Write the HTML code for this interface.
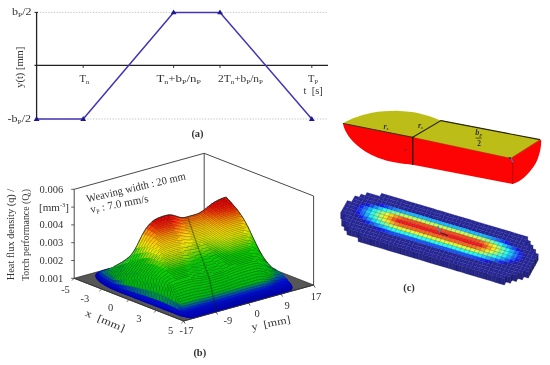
<!DOCTYPE html>
<html lang="en"><head><meta charset="utf-8"><title>Figure</title>
<style>html,body{margin:0;padding:0;background:#fff}body{width:550px;height:365px;overflow:hidden}text{font-family:"Liberation Serif",serif;fill:#333}</style></head>
<body>
<svg width="550" height="365" viewBox="0 0 550 365" style="display:block">
<rect width="550" height="365" fill="#fff"/>
<g id="chart-a">
<line x1="37" y1="12.4" x2="328" y2="12.4" stroke="#b8b8b8" stroke-width="0.9" stroke-dasharray="1.2 1.6"/>
<line x1="37" y1="119" x2="328" y2="119" stroke="#b8b8b8" stroke-width="0.9" stroke-dasharray="1.2 1.6"/>
<line x1="36.6" y1="12" x2="36.6" y2="119.5" stroke="#222" stroke-width="1.3"/>
<line x1="34.5" y1="65.4" x2="328" y2="65.4" stroke="#222" stroke-width="1.2"/>
<line x1="83.2" y1="65" x2="83.2" y2="68" stroke="#222" stroke-width="0.9"/>
<line x1="173.6" y1="65" x2="173.6" y2="68" stroke="#222" stroke-width="0.9"/>
<line x1="220" y1="65" x2="220" y2="68" stroke="#222" stroke-width="0.9"/>
<line x1="311.8" y1="65" x2="311.8" y2="68" stroke="#222" stroke-width="0.9"/>
<line x1="34.5" y1="12.4" x2="38" y2="12.4" stroke="#222" stroke-width="1"/>
<polyline fill="none" stroke="#4434b4" stroke-width="1.5" stroke-linejoin="round" points="36.6,119 83.2,119 173.6,12.4 220,12.4 311.8,119"/>
<path d="M33.7 120.9L39.5 120.9L36.6 116.0z" fill="#1c1890"/>
<path d="M80.3 120.9L86.1 120.9L83.2 116.0z" fill="#1c1890"/>
<path d="M170.7 14.3L176.5 14.3L173.6 9.4z" fill="#1c1890"/>
<path d="M217.1 14.3L222.9 14.3L220 9.4z" fill="#1c1890"/>
<path d="M308.9 120.9L314.7 120.9L311.8 116.0z" fill="#1c1890"/>
</g>
<text x="12" y="14.5" font-size="10.5" textLength="19.5" lengthAdjust="spacingAndGlyphs">b<tspan font-size="6.5" dy="2">P</tspan><tspan dy="-2" font-size="1">&#8203;</tspan>/2</text>
<text x="7.5" y="121.5" font-size="10.5" textLength="23.5" lengthAdjust="spacingAndGlyphs">-b<tspan font-size="6.5" dy="2">P</tspan><tspan dy="-2" font-size="1">&#8203;</tspan>/2</text>
<text x="0" y="0" font-size="10.5" text-anchor="middle" transform="translate(22.5,67.3) rotate(-90)">y(t) [mm]</text>
<text x="79.5" y="82" font-size="10.5">T<tspan font-size="6.5" dy="2">n</tspan><tspan dy="-2" font-size="1">&#8203;</tspan></text>
<text x="156.5" y="81.5" font-size="10.5" textLength="44.5" lengthAdjust="spacingAndGlyphs">T<tspan font-size="6.5" dy="2">n</tspan><tspan dy="-2" font-size="1">&#8203;</tspan>+b<tspan font-size="6.5" dy="2">P</tspan><tspan dy="-2" font-size="1">&#8203;</tspan>/n<tspan font-size="6.5" dy="2">P</tspan><tspan dy="-2" font-size="1">&#8203;</tspan></text>
<text x="218" y="81.5" font-size="10.5" textLength="45" lengthAdjust="spacingAndGlyphs">2T<tspan font-size="6.5" dy="2">n</tspan><tspan dy="-2" font-size="1">&#8203;</tspan>+b<tspan font-size="6.5" dy="2">P</tspan><tspan dy="-2" font-size="1">&#8203;</tspan>/n<tspan font-size="6.5" dy="2">P</tspan><tspan dy="-2" font-size="1">&#8203;</tspan></text>
<text x="308" y="81.5" font-size="10.5">T<tspan font-size="6.5" dy="2">P</tspan><tspan dy="-2" font-size="1">&#8203;</tspan></text>
<text x="303.5" y="93.5" font-size="10.5">t&#160;&#160;[s]</text>
<text x="197.5" y="137.3" font-size="10.5" text-anchor="middle" font-weight="bold" fill="#222">(a)</text>
<text x="199.8" y="355.6" font-size="10.5" text-anchor="middle" font-weight="bold" fill="#222">(b)</text>
<text x="409" y="290.5" font-size="10.5" text-anchor="middle" font-weight="bold" fill="#222">(c)</text>
<g id="plot-b">
<path d="M74.2 278.3L74.2 189.3L204.2 153.3L313.6 196.0L313.6 285.0" fill="none" stroke="#333" stroke-width="0.9"/>
<path d="M204.2 153.3L204.2 242.3" fill="none" stroke="#333" stroke-width="0.9"/>
<path d="M74.2 278.3L204.2 242.3L313.6 285.0L183.6 321.0z" fill="#565656" stroke="#333" stroke-width="0.8"/>
<path d="M101.0 270.9L96.7 273.0L95.8 274.2L95.4 275.2L95.4 276.1L95.6 276.9L95.9 277.8L96.4 278.5L96.9 279.3L97.5 280.0L98.2 280.8L99.0 281.5L99.8 282.2L100.7 282.8L101.6 283.5L102.5 284.1L103.5 284.8L104.5 285.4L105.6 286.0L106.7 286.6L107.8 287.2L109.0 287.8L110.1 288.4L111.3 289.0L112.6 289.6L113.9 290.1L115.2 290.7L116.5 291.2L117.8 291.8L119.2 292.3L120.6 292.8L121.9 293.4L123.3 293.9L124.7 294.4L126.0 295.0L127.4 295.5L128.8 296.0L130.2 296.6L131.5 297.1L132.9 297.6L134.3 298.2L135.6 298.7L137.0 299.2L138.4 299.8L139.7 300.3L141.1 300.8L142.5 301.4L143.8 301.9L145.2 302.4L146.6 303.0L147.9 303.5L149.3 304.0L150.7 304.6L152.0 305.1L153.4 305.6L154.8 306.2L156.1 306.7L157.5 307.2L158.9 307.8L160.2 308.3L161.6 308.8L163.0 309.4L164.3 309.9L165.7 310.4L167.1 311.0L168.4 311.5L169.8 312.0L171.2 312.6L172.5 313.1L173.9 313.6L175.3 314.2L176.6 314.7L178.0 315.2L179.4 315.8L180.7 316.3L182.5 316.8L184.4 317.1L186.3 317.5L188.3 317.9L190.2 318.3L192.2 318.6L286.8 292.4L291.1 290.3L292.0 289.1L292.4 288.1L292.4 287.2L292.2 286.4L291.9 285.5L291.4 284.8L290.9 284.0L290.3 283.3L289.6 282.5L288.8 281.8L288.0 281.1L287.1 280.5L286.2 279.8L285.3 279.2L284.3 278.5L283.3 277.9L282.2 277.3L281.1 276.7L280.0 276.1L278.8 275.5L277.7 274.9L276.5 274.3L275.2 273.7L273.9 273.2L272.6 272.6L271.3 272.1L270.0 271.5L268.6 271.0L267.2 270.5L265.9 269.9L264.5 269.4L263.1 268.9L261.8 268.3L260.4 267.8L259.0 267.3L257.6 266.7L256.3 266.2L254.9 265.7L253.5 265.1L252.2 264.6L250.8 264.1L249.4 263.5L248.1 263.0L246.7 262.5L245.3 261.9L244.0 261.4L242.6 260.9L241.2 260.3L239.9 259.8L238.5 259.3L237.1 258.7L235.8 258.2L234.4 257.7L233.0 257.1L231.7 256.6L230.3 256.1L228.9 255.5L227.6 255.0L226.2 254.5L224.8 253.9L223.5 253.4L222.1 252.9L220.7 252.3L219.4 251.8L218.0 251.3L216.6 250.7L215.3 250.2L213.9 249.7L212.5 249.1L211.2 248.6L209.8 248.1L208.4 247.5L207.1 247.0L205.3 246.5L203.4 246.2L201.5 245.8L199.5 245.4L197.6 245.0L195.6 244.7z" fill="#0000b9"/>
<g stroke="#06200a" stroke-width="0.4" stroke-opacity="0.75">
<path d="M194.4 244.9l1-.3 2.3 .4-1 .1z" fill="#0000ba" stroke-dasharray="1 99"/>
<path d="M193.6 245.1l.9-.3 2.3 .3-.9 .2z" fill="#0000ba" stroke-dasharray="1 99"/>
<path d="M192.6 245.4l1.1-.3 2.3 .2-1.1 .3z" fill="#0000ba" stroke-dasharray="1.1 99"/>
<path d="M191.5 245.7l1.2-.4 2.3 .3-1.2 .3z" fill="#0000ba" stroke-dasharray="1.3 99"/>
<path d="M190.1 246.1l1.5-.4 2.3 .2-1.5 .4z" fill="#0000ba" stroke-dasharray="1.5 99"/>
<path d="M188.4 246.5l1.9-.5 2.3 .2-1.9 .6z" fill="#0000ba" stroke-dasharray="2 99"/>
<path d="M185.9 247.2l2.8-.7 2.3 .2-3 .8z" fill="#0000ba" stroke-dasharray="2.8 99"/>
<path d="M183.4 247.9l2.8-.7 2 .2-3 .9z" fill="#0000ba" stroke-dasharray="2.8 99"/>
<path d="M180.9 248.6l2.8-.7 1.8 .3-3 .8z" fill="#0000ba" stroke-dasharray="2.8 99"/>
<path d="M178.4 249.3l2.8-.8 1.6 .5-3 .8z" fill="#0000ba" stroke-dasharray="2.8 99"/>
<path d="M175.9 250l2.8-.8 1.4 .5-3 .8z" fill="#0000ba" stroke-dasharray="2.8 99"/>
<path d="M173.4 250.7l2.8-.8 1.1 .6-2.9 .8z" fill="#0000ba" stroke-dasharray="2.8 99"/>
<path d="M171 251.4l2.7-.8 .9 .6-3 .8z" fill="#0000ba" stroke-dasharray="2.8 99"/>
<path d="M168.5 252.1l2.7-.8 .7 .7-3 .8z" fill="#0000ba" stroke-dasharray="2.8 99"/>
<path d="M166 252.8l2.7-.8 .5 .7-3 .9z" fill="#0000ba" stroke-dasharray="2.8 99"/>
<path d="M163.5 253.4l2.7-.7 .3 .8-3 .8z" fill="#0000ba" stroke-dasharray="2.8 99"/>
<path d="M161 254.1l2.7-.7 0 .8-3 .9z" fill="#0000ba" stroke-dasharray="2.8 99"/>
<path d="M158.5 254.8l2.7-.7-.2 .9-3 .8z" fill="#0000ba" stroke-dasharray="2.8 99"/>
<path d="M156 255.5l2.7-.7-.4 .9-3 .9z" fill="#0000ba" stroke-dasharray="2.8 99"/>
<path d="M153.5 256.2l2.7-.8-.6 1.1-3 .8z" fill="#0000ba" stroke-dasharray="2.8 99"/>
<path d="M151 256.9l2.8-.8-1 1.1-3 .9z" fill="#0000ba" stroke-dasharray="2.8 99"/>
<path d="M148.5 257.6l2.8-.8-1.2 1.2-3 .8z" fill="#0000ba" stroke-dasharray="2.8 99"/>
<path d="M146 258.3l2.8-.8-1.4 1.3-3 .8z" fill="#0000ba" stroke-dasharray="2.8 99"/>
<path d="M143.5 259l2.8-.8-1.6 1.3-3 .8z" fill="#0000ba" stroke-dasharray="2.8 99"/>
<path d="M141 259.7l2.8-.8-1.9 1.4-3 .8z" fill="#0000ba" stroke-dasharray="2.8 99"/>
<path d="M138.5 260.4l2.8-.8-2.1 1.4-3 .9z" fill="#0000ba" stroke-dasharray="2.8 99"/>
<path d="M136 261l2.8-.7-2.3 1.5-3 .8z" fill="#0000ba" stroke-dasharray="2.8 99"/>
<path d="M133.6 261.7l2.7-.7-2.5 1.5-3 .9z" fill="#0000ba" stroke-dasharray="2.8 99"/>
<path d="M131.1 262.4l2.7-.7-2.7 1.6-3 .8z" fill="#0000ba" stroke-dasharray="2.8 99"/>
<path d="M128.6 263.1l2.7-.7-3 1.6-3 .9z" fill="#0000ba" stroke-dasharray="2.8 99"/>
<path d="M126.1 263.8l2.7-.8-3.2 1.8-3 .8z" fill="#0000ba" stroke-dasharray="2.8 99"/>
<path d="M123.6 264.5l2.7-.8-3.4 1.8-3 .9z" fill="#0000ba" stroke-dasharray="2.8 99"/>
<path d="M121.1 265.2l2.7-.8-3.6 1.9-3 .8z" fill="#0000ba" stroke-dasharray="2.8 99"/>
<path d="M118.6 265.9l2.7-.8-3.9 2-3 .8z" fill="#0000ba" stroke-dasharray="2.8 99"/>
<path d="M116.1 266.6l2.7-.8-4.1 2-3 .8z" fill="#0000ba" stroke-dasharray="2.8 99"/>
<path d="M113.6 267.3l2.8-.8-4.4 2.1-3 .8z" fill="#0000ba" stroke-dasharray="2.8 99"/>
<path d="M111.1 267.9l2.8-.7-4.6 2.1-3 .8z" fill="#0000ba" stroke-dasharray="2.8 99"/>
<path d="M108.6 268.6l2.8-.7-4.9 2.2-3 .8z" fill="#0000ba" stroke-dasharray="2.8 99"/>
<path d="M106.9 269.1l1.9-.5-5.1 2.3-1.9 .5z" fill="#0000ba" stroke-dasharray="2 99"/>
<path d="M105.6 269.5l1.4-.4-5 2.2-1.5 .4z" fill="#0000ba" stroke-dasharray="1.5 99"/>
<path d="M104.4 269.8l1.3-.3-5.1 2.2-1.3 .4z" fill="#0000ba" stroke-dasharray="1.3 99"/>
<path d="M103.5 270.1l1-.3-5.1 2.2-1 .3z" fill="#0000ba" stroke-dasharray="1.1 99"/>
<path d="M102.6 270.3l.9-.3-5 2.3-1 .3z" fill="#0000ba" stroke-dasharray="1 99"/>
<path d="M101.7 270.5l1-.2-5.1 2.2-.9 .5z" fill="#0000ba" stroke-dasharray="1 99"/>
<path d="M195.5 245.4l1-.3 2.3 0-1 .1z" fill="#0001be" stroke="none"/>
<path d="M194.6 245.6l1-.3 2.3-.1-1.1 .3z" fill="#0001be" stroke="none"/>
<path d="M193.4 245.9l1.3-.3 2.3-.2-1.3 .4z" fill="#0001be" stroke="none"/>
<path d="M192.1 246.3l1.4-.4 2.3-.2-1.4 .5z" fill="#0001be" stroke="none"/>
<path d="M190.3 246.8l1.9-.5 2.3-.2-1.9 .5z" fill="#0001be" stroke="none"/>
<path d="M187.6 247.5l3-.8 2.3-.1-3.1 .8z" fill="#0001be" stroke="none"/>
<path d="M184.9 248.3l3-.8 2.2-.2-3.1 .9z" fill="#0001be" stroke="none"/>
<path d="M182.2 249l3-.8 2.1-.1-3.1 .9z" fill="#0001be" stroke="none"/>
<path d="M179.5 249.8l3-.8 2-.1-3.1 .8z" fill="#0001be" stroke="none"/>
<path d="M176.8 250.5l3-.8 1.9 0-3.1 .8z" fill="#0001be" stroke="none"/>
<path d="M174.1 251.3l3-.8 1.8-.1-3.1 .9z" fill="#0001be" stroke="none"/>
<path d="M171.4 252l3-.8 1.6 0-3.1 .9z" fill="#0001be" stroke="none"/>
<path d="M168.7 252.8l3-.8 1.5 0-3.1 .9z" fill="#0001be" stroke="none"/>
<path d="M166 253.5l3-.8 1.4 .1-3.1 .8z" fill="#0001be" stroke="none"/>
<path d="M163.3 254.3l3-.8 1.3 .1-3.1 .8z" fill="#0001be" stroke="none"/>
<path d="M160.6 255l2.9-.8 1.3 .1-3.1 .9z" fill="#0001be" stroke="none"/>
<path d="M157.9 255.8l2.9-.8 1.2 .1-3.1 .9z" fill="#0001be" stroke="none"/>
<path d="M155.1 256.5l3-.8 1.1 .2-3.1 .9z" fill="#0001be" stroke="none"/>
<path d="M152.4 257.3l3-.8 1 .2-3.1 .8z" fill="#0001be" stroke="none"/>
<path d="M149.7 258l3-.8 .8 .3-3.1 .8z" fill="#0001be" stroke="none"/>
<path d="M147 258.8l3-.8 .7 .2-3.1 .9z" fill="#0001be" stroke="none"/>
<path d="M144.3 259.5l3-.8 .6 .3-3.1 .9z" fill="#0001be" stroke="none"/>
<path d="M141.6 260.3l3-.8 .5 .3-3.1 .9z" fill="#0001be" stroke="none"/>
<path d="M138.9 261l3-.8 .4 .4-3.1 .8z" fill="#0001be" stroke="none"/>
<path d="M136.2 261.8l3-.8 .3 .4-3.1 .8z" fill="#0001be" stroke="none"/>
<path d="M133.5 262.5l3-.8 .2 .4-3.1 .9z" fill="#0001be" stroke="none"/>
<path d="M130.8 263.3l3-.8 .1 .4-3.1 .9z" fill="#0001be" stroke="none"/>
<path d="M128.1 264l3-.8-.1 .5-3.1 .8z" fill="#0001be" stroke="none"/>
<path d="M125.4 264.8l2.9-.8-.1 .5-3.1 .8z" fill="#0001be" stroke="none"/>
<path d="M122.7 265.5l2.9-.8-.2 .5-3.1 .9z" fill="#0001be" stroke="none"/>
<path d="M120 266.3l2.9-.8-.3 .5-3.1 .9z" fill="#0001be" stroke="none"/>
<path d="M117.2 267l3-.8-.4 .6-3.1 .9z" fill="#0001be" stroke="none"/>
<path d="M114.5 267.8l3-.8-.5 .6-3.1 .8z" fill="#0001be" stroke="none"/>
<path d="M111.8 268.5l3-.8-.6 .7-3.1 .8z" fill="#0001be" stroke="none"/>
<path d="M109.1 269.3l3-.8-.7 .6-3.1 .9z" fill="#0001be" stroke="none"/>
<path d="M106.4 270l3-.8-.9 .7-3.1 .9z" fill="#0001be" stroke="none"/>
<path d="M103.7 270.8l3-.8-1 .7-3.1 .9z" fill="#0001be" stroke="none"/>
<path d="M102 271.3l1.9-.6-1.1 .8-1.9 .5z" fill="#0001be" stroke="none"/>
<path d="M100.6 271.6l1.5-.4-1.1 .8-1.4 .4z" fill="#0001be" stroke="none"/>
<path d="M99.5 271.9l1.3-.3-1.1 .8-1.3 .3z" fill="#0001be" stroke="none"/>
<path d="M98.5 272.2l1.1-.3-1.1 .8-1 .3z" fill="#0001be" stroke="none"/>
<path d="M97.7 272.4l.9-.2-1 .7-1 .5z" fill="#0001be" stroke="none"/>
<path d="M96.8 272.8l.9-.4-1 .9-.9 .9z" fill="#0001bb" stroke="none"/>
<path d="M196.5 245.5l1-.3 2.3-.4-1 .3z" fill="#0003c6" stroke="none"/>
<path d="M195.3 245.9l1.3-.4 2.3-.5-1.3 .4z" fill="#0003c6" stroke="none"/>
<path d="M194 246.2l1.5-.4 2.3-.4-1.5 .4z" fill="#0003c6" stroke="none"/>
<path d="M192.3 246.7l1.9-.5 2.3-.5-1.9 .5z" fill="#0003c6" stroke="none"/>
<path d="M189.5 247.5l3.1-.9 2.3-.4-3.2 .8z" fill="#0003c6" stroke="none"/>
<path d="M186.7 248.3l3.1-.9 2.2-.4-3.2 .8z" fill="#0003c6" stroke="none"/>
<path d="M183.9 249l3.1-.8 2.1-.4-3.2 .8z" fill="#0003c6" stroke="none"/>
<path d="M181.1 249.8l3.1-.9 2-.3-3.2 .8z" fill="#0003c6" stroke="none"/>
<path d="M178.3 250.6l3.1-.9 1.9-.3-3.1 .8z" fill="#0003c6" stroke="none"/>
<path d="M175.5 251.4l3.1-.9 1.8-.3-3.1 .8z" fill="#0003c6" stroke="none"/>
<path d="M172.7 252.1l3.1-.8 1.8-.3-3.2 .8z" fill="#0003c6" stroke="none"/>
<path d="M169.9 252.9l3.1-.8 1.7-.3-3.2 .8z" fill="#0003c6" stroke="none"/>
<path d="M167.1 253.7l3.1-.9 1.6-.3-3.2 .9z" fill="#0003c6" stroke="none"/>
<path d="M164.3 254.5l3.1-.9 1.5-.3-3.2 .9z" fill="#0003c6" stroke="none"/>
<path d="M161.5 255.2l3.1-.8 1.4-.3-3.1 .9z" fill="#0003c6" stroke="none"/>
<path d="M158.7 256l3.1-.8 1.3-.3-3.1 .9z" fill="#0003c6" stroke="none"/>
<path d="M155.9 256.8l3.1-.9 1.3-.2-3.2 .9z" fill="#0003c6" stroke="none"/>
<path d="M153.1 257.6l3.1-.9 1.2-.2-3.2 .9z" fill="#0003c6" stroke="none"/>
<path d="M150.3 258.3l3.1-.8 1.1-.2-3.2 .9z" fill="#0003c6" stroke="none"/>
<path d="M147.5 259.1l3.1-.8 1-.2-3.2 .9z" fill="#0003c6" stroke="none"/>
<path d="M144.7 259.9l3.1-.9 .9-.1-3.1 .9z" fill="#0003c6" stroke="none"/>
<path d="M141.9 260.7l3.1-.9 .8-.1-3.1 .9z" fill="#0003c6" stroke="none"/>
<path d="M139.1 261.4l3.1-.8 .8-.1-3.2 .9z" fill="#0003c6" stroke="none"/>
<path d="M136.3 262.2l3.1-.8 .7-.1-3.2 .9z" fill="#0003c6" stroke="none"/>
<path d="M133.5 263l3.1-.9 .6 0-3.2 .9z" fill="#0003c6" stroke="none"/>
<path d="M130.7 263.8l3.1-.9 .5 0-3.2 .9z" fill="#0003c6" stroke="none"/>
<path d="M127.9 264.5l3.1-.8 .4 0-3.1 .9z" fill="#0003c6" stroke="none"/>
<path d="M125.1 265.3l3.1-.8 .3 0-3.1 .9z" fill="#0003c6" stroke="none"/>
<path d="M122.3 266.1l3.1-.9 .3 .1-3.2 .9z" fill="#0003c6" stroke="none"/>
<path d="M119.5 266.9l3.1-.9 .2 .1-3.2 .9z" fill="#0003c6" stroke="none"/>
<path d="M116.7 267.6l3.1-.8 .1 .1-3.2 .9z" fill="#0003c6" stroke="none"/>
<path d="M113.9 268.4l3.1-.8 0 .1-3.2 .9z" fill="#0003c6" stroke="none"/>
<path d="M111.1 269.2l3.1-.9-.1 .2-3.1 .9z" fill="#0003c6" stroke="none"/>
<path d="M108.3 270l3.1-.9-.2 .2-3.1 .9z" fill="#0003c6" stroke="none"/>
<path d="M105.5 270.7l3.1-.8-.2 .2-3.2 .9z" fill="#0003c6" stroke="none"/>
<path d="M102.7 271.5l3.1-.8-.3 .2-3.2 .9z" fill="#0003c6" stroke="none"/>
<path d="M101 272l1.9-.5-.4 .2-1.9 .6z" fill="#0003c6" stroke="none"/>
<path d="M99.6 272.4l1.5-.4-.4 .2-1.5 .4z" fill="#0003c6" stroke="none"/>
<path d="M98.5 272.7l1.2-.4-.3 .3-1.3 .4z" fill="#0003c6" stroke="none"/>
<path d="M97.5 272.9l1.1-.3-.4 .3-1.1 .3z" fill="#0003c6" stroke="none"/>
<path d="M96.7 273.2l.9-.3-.4 .2-.9 1.3z" fill="#0002c3" stroke="none"/>
<path d="M95.8 274l.9-.9-.4 1.2-.9 .9z" fill="#0001bc" stroke="none"/>
<path d="M97.1 273.2l1.1-.3 0 0-1.1 .7z" fill="#0006cf" stroke-dasharray="1.1 99"/>
<path d="M96.3 274.2l.9-1.2 0 .4-1 1.9z" fill="#0004c7" stroke-dasharray="1.5 99"/>
<path d="M95.4 275l1-.9-.1 1.1-.9 .9z" fill="#0001bc" stroke="none"/>
<path d="M97.1 273.4l1-.5 .3-.4-1.1 1.9z" fill="#0008d7" stroke="none"/>
<path d="M96.2 275.1l1-1.8 .2 1-1 1.9z" fill="#0004c8" stroke="none"/>
<path d="M95.4 275.9l.9-.8 .2 1-.9 .8z" fill="#0001bc" stroke="none"/>
<path d="M98.2 272.7l1.3-.3 .4-.4-1.3 .9z" fill="#000ce8" stroke="none"/>
<path d="M97.3 274.3l1-1.8 .4 .1-1.1 2.7z" fill="#0009dc" stroke="none"/>
<path d="M96.4 276l.9-1.9 .4 1-.9 1.9z" fill="#0004c8" stroke="none"/>
<path d="M95.5 276.8l1-.9 .3 1-.9 .9z" fill="#0001bc" stroke="none"/>
<path d="M98.5 272.7l1.3-.6 .5-.5-1.2 2.1z" fill="#0022d3" stroke="none"/>
<path d="M97.6 275.1l1-2.6 .5 .9-1 2.7z" fill="#0009de" stroke="none"/>
<path d="M96.7 276.8l1-1.8 .5 .9-1 1.9z" fill="#0004c8" stroke-dasharray="2.1 99"/>
<path d="M95.8 277.6l1-.8 .5 .9-.9 .8z" fill="#0001bc" stroke-dasharray="1.3 99"/>
<path d="M99 273.5l1.2-1.8 .7-.4-1.3 3.1z" fill="#0032c4" stroke-dasharray="2.2 99"/>
<path d="M98 275.9l1-2.6 .7 .9-1.1 2.6z" fill="#0009de" stroke-dasharray="2.8 99"/>
<path d="M97.1 277.6l1-1.9 .6 .9-.9 1.9z" fill="#0004c8" stroke="none"/>
<path d="M96.3 278.4l.9-.8 .6 .8-.9 .9z" fill="#0001bc" stroke="none"/>
<path d="M106.8 269.8l3.4-1.4 .8-.4-3.5 1.6z" fill="#007876" stroke="none"/>
<path d="M103.7 270.8l3.4-1.1 .8-.2-3.5 1.2z" fill="#006f85" stroke="none"/>
<path d="M102 271.2l1.9-.5 .7-.1-1.9 .5z" fill="#006c89" stroke="none"/>
<path d="M100.6 271.5l1.5-.3 .7-.2-1.4 1.3z" fill="#006792" stroke="none"/>
<path d="M99.5 274.3l1.2-3.1 .8 .9-1.3 3.1z" fill="#003abd" stroke="none"/>
<path d="M98.5 276.7l1.1-2.6 .7 .8-1 2.7z" fill="#0009de" stroke="none"/>
<path d="M97.6 278.4l1-1.9 .8 .9-1 1.9z" fill="#0004c8" stroke-dasharray="2.1 99"/>
<path d="M96.8 279.2l.9-.9 .8 .9-1 .8z" fill="#0001bc" stroke-dasharray="1.3 99"/>
<path d="M110.5 268.2l3.5-1.6 .9-.5-3.5 1.9z" fill="#00a430" stroke="none"/>
<path d="M107.4 269.6l3.4-1.6 .9-.2-3.4 1.8z" fill="#00914e" stroke="none"/>
<path d="M104.3 270.6l3.4-1.1 .9 0-3.5 1.3z" fill="#008463" stroke="none"/>
<path d="M102.6 271.1l1.9-.5 .8 .2-1.9 .5z" fill="#008069" stroke="none"/>
<path d="M101.2 272.2l1.5-1.2 .8 .1-1.4 2z" fill="#007082" stroke="none"/>
<path d="M100.1 275l1.3-3.1 .8 .9-1.3 3.1z" fill="#003abd" stroke="none"/>
<path d="M99.1 277.4l1.1-2.6 .8 .8-1 2.7z" fill="#0009de" stroke-dasharray="2.8 99"/>
<path d="M98.3 279.1l.9-1.8 .8 .8-.9 1.9z" fill="#0004c8" stroke="none"/>
<path d="M97.4 279.9l.9-.8 .9 .8-1 .9z" fill="#0001bc" stroke="none"/>
<path d="M117.5 264.7l3.5-1.8 1-.7-3.5 2.1z" fill="#01bb0e" stroke-dasharray="3.9 99"/>
<path d="M114.4 266.3l3.5-1.8 .9-.4-3.4 2.1z" fill="#01ba0e" stroke="none"/>
<path d="M111.3 268l3.4-1.8 1-.2-3.5 2.1z" fill="#00b90f" stroke="none"/>
<path d="M108.1 269.6l3.5-1.8 .9 .1-3.5 2z" fill="#00a331" stroke="none"/>
<path d="M105 270.7l3.4-1.3 1 .4-3.5 1.4z" fill="#00924d" stroke="none"/>
<path d="M103.3 271.2l1.9-.5 .8 .5-1.8 .5z" fill="#008c57" stroke="none"/>
<path d="M101.9 272.9l1.5-1.9 .9 .5-1.5 2.3z" fill="#007679" stroke="none"/>
<path d="M100.8 275.8l1.2-3.2 .9 .9-1.2 3.1z" fill="#003abd" stroke-dasharray="3.4 99"/>
<path d="M99.8 278.2l1.1-2.7 .9 .9-1.1 2.6z" fill="#0009de" stroke="none"/>
<path d="M98.9 279.9l1-1.9 .9 .8-1 1.9z" fill="#0004c8" stroke-dasharray="2.1 99"/>
<path d="M98.1 280.6l.9-.8 .9 .8-.9 .9z" fill="#0001bc" stroke-dasharray="1.3 99"/>
<path d="M124.7 260.4l3.4-2.5 1.1-.9-3.4 2.9z" fill="#04c00b" stroke-dasharray="4.3 99"/>
<path d="M121.5 262.5l3.5-2.3 1.1-.6-3.5 2.6z" fill="#03be0c" stroke-dasharray="4.1 99"/>
<path d="M118.4 264.3l3.4-2 1.1-.3-3.5 2.3z" fill="#02bd0d" stroke="none"/>
<path d="M115.2 266.2l3.5-2.1 1 0-3.5 2.2z" fill="#01bb0e" stroke="none"/>
<path d="M112 268l3.5-2 1 .1-3.5 2.3z" fill="#01ba0e" stroke="none"/>
<path d="M108.9 269.8l3.5-2 1 .4-3.5 2.2z" fill="#00af20" stroke="none"/>
<path d="M105.7 271.1l3.5-1.4 1 .5-3.5 1.7z" fill="#009843" stroke="none"/>
<path d="M104 271.6l1.9-.5 1 .8-1.9 .5z" fill="#009051" stroke-dasharray="2 99"/>
<path d="M102.7 273.6l1.4-2.2 1 .8-1.5 2.2z" fill="#007876" stroke="none"/>
<path d="M101.5 276.5l1.3-3.1 .9 .8-1.2 3.1z" fill="#003abd" stroke="none"/>
<path d="M100.6 278.9l1-2.7 1 .8-1.1 2.7z" fill="#0009de" stroke-dasharray="2.8 99"/>
<path d="M99.7 280.6l1-1.9 .9 .8-1 1.9z" fill="#0004c8" stroke="none"/>
<path d="M98.8 281.3l1-.8 .9 .8-.9 .9z" fill="#0001bc" stroke="none"/>
<path d="M125.6 260l3.5-2.9 1.1-1.1-3.5 3.3z" fill="#05c10a" stroke="none"/>
<path d="M122.4 262.2l3.5-2.5 1.1-.7-3.5 2.8z" fill="#04bf0b" stroke="none"/>
<path d="M119.2 264.3l3.5-2.3 1.1-.4-3.5 2.6z" fill="#03be0c" stroke="none"/>
<path d="M116.1 266.3l3.4-2.2 1.1-.2-3.5 2.5z" fill="#02bc0d" stroke="none"/>
<path d="M112.9 268.3l3.5-2.2 1 .1-3.5 2.4z" fill="#01ba0e" stroke="none"/>
<path d="M109.7 270.3l3.5-2.2 1.1 .3-3.6 2.4z" fill="#00b712" stroke="none"/>
<path d="M106.5 271.8l3.5-1.7 1.1 .5-3.6 2z" fill="#009b3f" stroke-dasharray="3.9 99"/>
<path d="M104.8 272.3l1.9-.6 1 .8-1.9 .6z" fill="#009051" stroke="none"/>
<path d="M103.5 274.3l1.4-2.2 1.1 .8-1.5 2.2z" fill="#007876" stroke="none"/>
<path d="M102.3 277.2l1.3-3.2 1 .8-1.3 3.2z" fill="#003abd" stroke-dasharray="3.4 99"/>
<path d="M101.4 279.5l1-2.6 1 .8-1 2.6z" fill="#0009de" stroke="none"/>
<path d="M100.5 281.3l1-1.9 1 .8-1 1.9z" fill="#0004c8" stroke-dasharray="2.1 99"/>
<path d="M99.6 282l1-.8 1 .8-.9 .8z" fill="#0001bc" stroke-dasharray="1.3 99"/>
<path d="M126.5 259.4l3.5-3.2 1.2-1.3-3.5 3.7z" fill="#06c309" stroke="none"/>
<path d="M123.3 261.9l3.5-2.8 1.2-.8-3.5 3.1z" fill="#05c10a" stroke="none"/>
<path d="M120.1 264.2l3.6-2.5 1.1-.5-3.5 2.7z" fill="#03bf0c" stroke="none"/>
<path d="M117 266.4l3.5-2.4 1.1-.3-3.5 2.7z" fill="#02bd0d" stroke="none"/>
<path d="M113.8 268.6l3.5-2.4 1.1-.1-3.5 2.7z" fill="#01bb0e" stroke="none"/>
<path d="M110.6 270.8l3.5-2.4 1.1 .2-3.5 2.6z" fill="#00b90f" stroke-dasharray="4.2 99"/>
<path d="M107.4 272.5l3.5-1.9 1.1 .4-3.6 2.2z" fill="#009f39" stroke="none"/>
<path d="M105.7 273l1.9-.6 1 .8-1.9 .6z" fill="#009051" stroke-dasharray="2 99"/>
<path d="M104.3 275l1.5-2.2 1.1 .8-1.5 2.2z" fill="#007876" stroke-dasharray="2.7 99"/>
<path d="M103.2 277.8l1.2-3.1 1.1 .8-1.3 3.1z" fill="#003abd" stroke="none"/>
<path d="M102.2 280.2l1.1-2.6 1 .8-1 2.6z" fill="#0009de" stroke-dasharray="2.8 99"/>
<path d="M101.3 281.9l1-1.8 1.1 .7-1 1.9z" fill="#0004c8" stroke="none"/>
<path d="M100.5 282.7l.9-.8 1.1 .7-.9 .9z" fill="#0001bc" stroke="none"/>
<path d="M127.5 258.7l3.5-3.6 1.3-1.5-3.6 4.1z" fill="#07c508" stroke="none"/>
<path d="M124.3 261.5l3.5-3.1 1.2-1-3.5 3.5z" fill="#06c209" stroke="none"/>
<path d="M121.1 264l3.5-2.7 1.2-.7-3.5 3z" fill="#04c00b" stroke="none"/>
<path d="M117.9 266.4l3.5-2.6 1.2-.4-3.5 2.9z" fill="#03be0c" stroke="none"/>
<path d="M114.7 268.8l3.5-2.7 1.2-.1-3.6 2.9z" fill="#02bc0d" stroke="none"/>
<path d="M111.5 271.1l3.5-2.6 1.2 .1-3.6 2.9z" fill="#01ba0e" stroke="none"/>
<path d="M108.3 273.1l3.5-2.2 1.1 .3-3.5 2.7z" fill="#00a332" stroke-dasharray="4.2 99"/>
<path d="M106.6 273.6l1.9-.5 1.1 .7-1.9 .6z" fill="#009051" stroke="none"/>
<path d="M105.2 275.7l1.5-2.3 1.1 .8-1.5 2.2z" fill="#007876" stroke="none"/>
<path d="M104.1 278.5l1.2-3.1 1.2 .8-1.3 3.1z" fill="#003abd" stroke-dasharray="3.4 99"/>
<path d="M103.1 280.9l1.1-2.6 1.1 .7-1.1 2.7z" fill="#0009de" stroke="none"/>
<path d="M102.2 282.6l1-1.9 1.1 .8-.9 1.9z" fill="#0004c8" stroke-dasharray="2.1 99"/>
<path d="M101.4 283.4l.9-.9 1.1 .8-.9 .8z" fill="#0001bc" stroke-dasharray="1.3 99"/>
<path d="M128.5 257.9l3.6-4 1.2-1.7-3.5 4.5z" fill="#09c706" stroke="none"/>
<path d="M125.3 261l3.6-3.4 1.2-1.3-3.6 3.9z" fill="#07c408" stroke="none"/>
<path d="M122.1 263.7l3.5-3 1.3-.8-3.6 3.3z" fill="#05c10a" stroke-dasharray="4.7 99"/>
<path d="M118.9 266.3l3.5-2.8 1.2-.5-3.5 3.1z" fill="#04bf0b" stroke="none"/>
<path d="M115.7 268.9l3.5-2.9 1.2-.2-3.6 3.1z" fill="#02bd0d" stroke-dasharray="4.5 99"/>
<path d="M112.4 271.4l3.6-2.8 1.2 0-3.6 3.1z" fill="#01ba0e" stroke="none"/>
<path d="M109.2 273.8l3.6-2.6 1.1 .2-3.5 3z" fill="#00aa27" stroke="none"/>
<path d="M107.5 274.3l1.9-.5 1.2 .5-1.9 .8z" fill="#00914f" stroke-dasharray="2 99"/>
<path d="M106.2 276.3l1.4-2.2 1.2 .8-1.5 2.2z" fill="#007876" stroke-dasharray="2.7 99"/>
<path d="M105 279.1l1.3-3.1 1.1 .8-1.2 3.1z" fill="#003abd" stroke="none"/>
<path d="M104.1 281.5l1-2.6 1.2 .8-1.1 2.6z" fill="#0009de" stroke-dasharray="2.8 99"/>
<path d="M103.2 283.2l.9-1.8 1.2 .7-1 1.9z" fill="#0004c8" stroke="none"/>
<path d="M102.3 284l1-.8 1.1 .7-.9 .9z" fill="#0001bc" stroke="none"/>
<path d="M129.6 256.9l3.5-4.4 1.3-1.9-3.5 4.9z" fill="#0aca05" stroke="none"/>
<path d="M126.4 260.3l3.5-3.8 1.3-1.4-3.6 4.3z" fill="#08c607" stroke-dasharray="5.2 99"/>
<path d="M123.1 263.3l3.6-3.3 1.2-1-3.5 3.7z" fill="#06c309" stroke="none"/>
<path d="M119.9 266.1l3.5-3.1 1.3-.6-3.6 3.4z" fill="#04c00b" stroke-dasharray="4.7 99"/>
<path d="M116.7 268.9l3.5-3.1 1.3-.3-3.6 3.3z" fill="#03be0c" stroke="none"/>
<path d="M113.4 271.7l3.6-3.1 1.2-.1-3.6 3.3z" fill="#01bb0e" stroke-dasharray="4.7 99"/>
<path d="M110.2 274.3l3.6-2.9 1.2 .1-3.6 3.2z" fill="#00b417" stroke-dasharray="4.6 99"/>
<path d="M108.5 274.9l1.9-.7 1.2 .4-1.9 1.1z" fill="#009449" stroke="none"/>
<path d="M107.1 277l1.5-2.3 1.2 .8-1.5 2.2z" fill="#007876" stroke="none"/>
<path d="M106 279.8l1.3-3.1 1.2 .7-1.3 3.1z" fill="#003abd" stroke-dasharray="3.4 99"/>
<path d="M105 282.2l1.1-2.6 1.2 .7-1.1 2.6z" fill="#0009de" stroke="none"/>
<path d="M104.2 283.9l.9-1.9 1.2 .8-.9 1.8z" fill="#0004c8" stroke-dasharray="2.1 99"/>
<path d="M103.3 284.7l.9-.9 1.2 .8-.9 .8z" fill="#0001bc" stroke-dasharray="1.3 99"/>
<path d="M130.7 255.7l3.5-4.8 1.4-2.2-3.6 5.4z" fill="#0ccc03" stroke="none"/>
<path d="M127.4 259.5l3.6-4.2 1.3-1.7-3.6 4.8z" fill="#09c806" stroke="none"/>
<path d="M124.2 262.8l3.5-3.6 1.4-1.2-3.6 4.1z" fill="#07c408" stroke="none"/>
<path d="M120.9 265.8l3.6-3.3 1.3-.8-3.6 3.7z" fill="#05c10a" stroke="none"/>
<path d="M117.7 268.8l3.6-3.3 1.2-.4-3.5 3.5z" fill="#03bf0c" stroke="none"/>
<path d="M114.5 271.8l3.5-3.3 1.3-.2-3.6 3.5z" fill="#02bc0d" stroke="none"/>
<path d="M111.2 274.7l3.6-3.2 1.2 0-3.5 3.4z" fill="#00b90f" stroke="none"/>
<path d="M109.5 275.6l1.9-1 1.2 .2-1.9 1.5z" fill="#009942" stroke-dasharray="2.1 99"/>
<path d="M108.2 277.6l1.4-2.2 1.3 .7-1.5 2.2z" fill="#007876" stroke-dasharray="2.7 99"/>
<path d="M107 280.4l1.3-3.1 1.2 .7-1.2 3.2z" fill="#003abd" stroke="none"/>
<path d="M106.1 282.8l1-2.6 1.3 .7-1.1 2.6z" fill="#0009de" stroke-dasharray="2.8 99"/>
<path d="M105.2 284.5l.9-1.9 1.3 .8-1 1.9z" fill="#0004c8" stroke="none"/>
<path d="M104.3 285.3l1-.9 1.2 .8-.9 .8z" fill="#0001bc" stroke="none"/>
<path d="M128.5 258.6l3.6-4.7 1.4-1.9-3.6 5.3z" fill="#0aca05" stroke="none"/>
<path d="M125.3 262.2l3.6-4 1.3-1.3-3.6 4.4z" fill="#08c607" stroke="none"/>
<path d="M122 265.5l3.6-3.6 1.3-1-3.6 4z" fill="#06c309" stroke="none"/>
<path d="M118.8 268.7l3.5-3.6 1.4-.6-3.6 3.8z" fill="#04c00b" stroke-dasharray="5 99"/>
<path d="M115.5 271.8l3.6-3.5 1.3-.3-3.6 3.7z" fill="#02bd0d" stroke="none"/>
<path d="M112.3 274.9l3.5-3.4 1.3-.1-3.5 3.7z" fill="#01ba0e" stroke-dasharray="4.9 99"/>
<path d="M110.5 276.2l1.9-1.4 1.3 .1-1.9 1.9z" fill="#00a037" stroke="none"/>
<path d="M109.2 278.2l1.5-2.2 1.3 .6-1.5 2.3z" fill="#007975" stroke="none"/>
<path d="M108.1 281l1.2-3.1 1.3 .8-1.3 3.1z" fill="#003abd" stroke-dasharray="3.4 99"/>
<path d="M107.1 283.4l1.1-2.6 1.2 .7-1 2.7z" fill="#0009de" stroke="none"/>
<path d="M106.2 285.1l1-1.8 1.3 .7-1 1.9z" fill="#0004c8" stroke-dasharray="2.1 99"/>
<path d="M105.4 285.9l.9-.8 1.3 .7-.9 .8z" fill="#0001bc" stroke-dasharray="1.3 99"/>
<path d="M129.7 257.5l3.5-5.2 1.4-2.2-3.6 5.8z" fill="#0ccd03" stroke="none"/>
<path d="M126.4 261.5l3.6-4.4 1.4-1.6-3.6 4.9z" fill="#09c806" stroke="none"/>
<path d="M123.1 265l3.6-3.9 1.4-1.1-3.6 4.2z" fill="#07c408" stroke="none"/>
<path d="M119.9 268.4l3.6-3.8 1.3-.7-3.6 4z" fill="#05c10a" stroke="none"/>
<path d="M116.6 271.8l3.6-3.8 1.3-.5-3.6 4z" fill="#03be0c" stroke-dasharray="5.2 99"/>
<path d="M113.4 275.1l3.5-3.7 1.4-.2-3.6 3.9z" fill="#01bb0e" stroke="none"/>
<path d="M111.6 276.8l1.9-1.9 1.3 0-1.8 2.1z" fill="#00ab26" stroke-dasharray="2.7 99"/>
<path d="M110.3 278.8l1.5-2.2 1.3 .1-1.5 2.8z" fill="#007d6f" stroke-dasharray="2.7 99"/>
<path d="M109.1 281.7l1.3-3.2 1.3 .8-1.2 3.1z" fill="#003abd" stroke="none"/>
<path d="M108.2 284l1-2.6 1.4 .7-1.1 2.7z" fill="#0009de" stroke-dasharray="2.8 99"/>
<path d="M107.3 285.8l1-1.9 1.3 .7-1 1.9z" fill="#0004c8" stroke="none"/>
<path d="M106.5 286.5l.9-.8 1.3 .7-.9 .8z" fill="#0001bc" stroke="none"/>
<path d="M130.8 256.2l3.6-5.7 1.4-2.4-3.6 6.3z" fill="#0ed001" stroke="none"/>
<path d="M127.5 260.6l3.6-4.8 1.4-1.9-3.6 5.4z" fill="#0aca05" stroke-dasharray="6 99"/>
<path d="M124.3 264.4l3.6-4.2 1.4-1.3-3.6 4.6z" fill="#08c607" stroke-dasharray="5.5 99"/>
<path d="M121 268l3.6-4 1.4-.9-3.6 4.2z" fill="#06c309" stroke="none"/>
<path d="M117.7 271.6l3.6-4 1.4-.6-3.6 4.2z" fill="#04bf0b" stroke="none"/>
<path d="M114.5 275.1l3.6-3.9 1.3-.4-3.6 4.3z" fill="#02bc0d" stroke-dasharray="5.3 99"/>
<path d="M112.7 277l1.9-2 1.4-.1-1.9 2.1z" fill="#00b90f" stroke="none"/>
<path d="M111.4 279.4l1.5-2.7 1.3 0-1.4 3.4z" fill="#008364" stroke="none"/>
<path d="M110.3 282.3l1.2-3.2 1.4 .7-1.3 3.2z" fill="#003abd" stroke-dasharray="3.4 99"/>
<path d="M109.3 284.6l1.1-2.6 1.3 .7-1 2.6z" fill="#0009de" stroke="none"/>
<path d="M108.4 286.4l1-1.9 1.4 .7-1 1.9z" fill="#0004c8" stroke-dasharray="2.1 99"/>
<path d="M107.6 287.1l.9-.8 1.4 .7-.9 .8z" fill="#0001bc" stroke-dasharray="1.3 99"/>
<path d="M132 254.7l3.6-6.2 1.4-2.7-3.6 6.8z" fill="#1bd300" stroke="none"/>
<path d="M128.7 259.5l3.6-5.3 1.5-2.1-3.7 5.9z" fill="#0ccd03" stroke="none"/>
<path d="M125.4 263.6l3.6-4.5 1.5-1.5-3.6 5z" fill="#09c806" stroke="none"/>
<path d="M122.2 267.5l3.6-4.3 1.4-1.1-3.6 4.6z" fill="#07c408" stroke-dasharray="5.6 99"/>
<path d="M118.9 271.3l3.6-4.2 1.4-.8-3.6 4.5z" fill="#04c00b" stroke="none"/>
<path d="M115.6 275.1l3.6-4.2 1.4-.5-3.6 4.5z" fill="#02bd0d" stroke="none"/>
<path d="M113.9 277l1.9-2.1 1.4-.3-1.9 2.4z" fill="#01ba0e" stroke-dasharray="2.9 99"/>
<path d="M112.6 280.1l1.4-3.4 1.4-.1-1.4 3.7z" fill="#008f52" stroke-dasharray="3.7 99"/>
<path d="M111.4 282.9l1.3-3.1 1.4 .1-1.3 3.6z" fill="#003dba" stroke="none"/>
<path d="M110.5 285.2l1-2.6 1.4 .7-1 2.6z" fill="#0009de" stroke-dasharray="2.8 99"/>
<path d="M109.6 287l.9-1.9 1.4 .7-.9 1.8z" fill="#0004c8" stroke="none"/>
<path d="M108.7 287.7l1-.8 1.4 .7-1 .8z" fill="#0001bc" stroke="none"/>
<path d="M133.2 253l3.6-6.8 1.5-2.9-3.6 7.3z" fill="#64db00" stroke-dasharray="7.7 99"/>
<path d="M129.9 258.3l3.6-5.8 1.5-2.5-3.6 6.5z" fill="#0ed001" stroke="none"/>
<path d="M126.6 262.7l3.7-4.9 1.4-1.8-3.6 5.5z" fill="#0aca05" stroke="none"/>
<path d="M123.4 266.8l3.6-4.5 1.4-1.3-3.6 4.9z" fill="#08c607" stroke="none"/>
<path d="M120.1 270.9l3.6-4.5 1.4-.9-3.6 4.7z" fill="#05c20a" stroke-dasharray="5.7 99"/>
<path d="M116.8 274.9l3.6-4.4 1.4-.7-3.6 4.7z" fill="#03be0c" stroke="none"/>
<path d="M115.1 277l1.9-2.3 1.4-.4-1.9 2.5z" fill="#01bb0e" stroke="none"/>
<path d="M113.7 280.3l1.5-3.6 1.4-.3-1.4 3.9z" fill="#00a037" stroke="none"/>
<path d="M112.6 283.5l1.3-3.6 1.4 0-1.3 4.1z" fill="#0045b3" stroke-dasharray="3.7 99"/>
<path d="M111.6 285.8l1.1-2.6 1.4 .6-1 2.7z" fill="#0009de" stroke="none"/>
<path d="M110.8 287.5l.9-1.8 1.5 .6-1 1.9z" fill="#0004c8" stroke-dasharray="2.1 99"/>
<path d="M109.9 288.3l.9-.8 1.5 .6-1 .9z" fill="#0001bc" stroke-dasharray="1.3 99"/>
<path d="M141 237.7l3.6-6.3 1.5-2.4-3.6 6.2z" fill="#ffa300" stroke="none"/>
<path d="M137.7 244.3l3.6-7.3 1.5-2.5-3.6 7.4z" fill="#f4d800" stroke-dasharray="8.1 99"/>
<path d="M134.4 250.9l3.7-7.3 1.4-2.4-3.6 7.7z" fill="#a5e100" stroke="none"/>
<path d="M131.2 256.8l3.6-6.5 1.5-2-3.7 7z" fill="#14d300" stroke="none"/>
<path d="M127.9 261.7l3.6-5.4 1.5-1.5-3.7 5.8z" fill="#0ccc03" stroke="none"/>
<path d="M124.6 266l3.6-4.8 1.5-1.1-3.6 5.1z" fill="#09c806" stroke="none"/>
<path d="M121.3 270.3l3.6-4.7 1.5-.8-3.6 4.9z" fill="#06c309" stroke="none"/>
<path d="M118 274.6l3.6-4.7 1.5-.6-3.6 4.9z" fill="#04bf0b" stroke-dasharray="5.9 99"/>
<path d="M116.3 276.8l1.9-2.4 1.4-.5-1.8 2.6z" fill="#02bc0d" stroke-dasharray="3.1 99"/>
<path d="M114.9 280.3l1.5-3.8 1.5-.4-1.5 4.2z" fill="#00b319" stroke-dasharray="4.1 99"/>
<path d="M113.8 284l1.3-4.1 1.4 0-1.2 4.4z" fill="#0051a8" stroke="none"/>
<path d="M112.8 286.4l1.1-2.7 1.5 .3-1.1 3.1z" fill="#000adf" stroke-dasharray="2.9 99"/>
<path d="M112 288.1l.9-1.9 1.5 .7-1 1.9z" fill="#0004c8" stroke="none"/>
<path d="M111.1 288.9l1-.9 1.4 .7-.9 .9z" fill="#0001bc" stroke="none"/>
<path d="M224.5 197.5l1.9-.3 1.6 1.8-1.8 .3z" fill="#e50000" stroke-dasharray="1.9 99"/>
<path d="M221.2 198.7l3.7-1.3 1.6 1.8-3.6 1.2z" fill="#e50000" stroke-dasharray="3.8 99"/>
<path d="M218 200.2l3.6-1.6 1.6 1.7-3.6 1.5z" fill="#e60000" stroke-dasharray="4 99"/>
<path d="M214.7 202l3.6-2 1.6 1.6-3.6 1.9z" fill="#e80000" stroke-dasharray="4.1 99"/>
<path d="M211.4 204.1l3.6-2.3 1.6 1.5-3.6 2.2z" fill="#eb0000" stroke-dasharray="4.3 99"/>
<path d="M208.1 206.7l3.6-2.8 1.6 1.4-3.6 2.6z" fill="#ef0300" stroke-dasharray="4.6 99"/>
<path d="M204.8 209.4l3.6-3 1.6 1.3-3.6 2.9z" fill="#f41500" stroke-dasharray="4.7 99"/>
<path d="M201.5 211.8l3.6-2.7 1.6 1.2-3.6 2.8z" fill="#fa2800" stroke-dasharray="4.5 99"/>
<path d="M198.2 213.5l3.6-1.9 1.6 1.3-3.6 2.1z" fill="#fd4100" stroke-dasharray="4.1 99"/>
<path d="M194.9 214.7l3.6-1.3 1.6 1.5-3.6 1.4z" fill="#fe4e00" stroke-dasharray="3.8 99"/>
<path d="M191.6 215.6l3.7-1 1.5 1.6-3.6 1z" fill="#fe5100" stroke-dasharray="3.7 99"/>
<path d="M188.3 216.5l3.7-1 1.5 1.6-3.6 1z" fill="#fe5100" stroke-dasharray="3.8 99"/>
<path d="M185.1 217.3l3.6-.9 1.5 1.6-3.6 1z" fill="#fe5000" stroke-dasharray="3.7 99"/>
<path d="M181.8 217.6l3.6-.3 1.6 1.7-3.7 .5z" fill="#fd4b00" stroke-dasharray="3.6 99"/>
<path d="M178.5 216.9l3.6 .7 1.6 1.9-3.7-.4z" fill="#fc3700" stroke-dasharray="3.7 99"/>
<path d="M175.2 215.8l3.6 1.2 1.6 2.2-3.7-1.1z" fill="#f71d00" stroke-dasharray="3.8 99"/>
<path d="M171.9 214.9l3.6 1 1.6 2.3-3.7-1.1z" fill="#f00800" stroke-dasharray="3.7 99"/>
<path d="M168.6 214.8l3.6 .1 1.6 2.2-3.6-.3z" fill="#ec0000" stroke-dasharray="3.6 99"/>
<path d="M165.3 215.5l3.6-.7 1.6 2-3.6 .5z" fill="#ea0000" stroke-dasharray="3.7 99"/>
<path d="M162 216.5l3.6-1.1 1.6 1.8-3.6 1.1z" fill="#e90000" stroke-dasharray="3.8 99"/>
<path d="M158.7 217.7l3.7-1.3 1.5 1.8-3.6 1.2z" fill="#ea0000" stroke-dasharray="3.9 99"/>
<path d="M155.4 219.4l3.7-1.8 1.5 1.7-3.6 1.6z" fill="#eb0000" stroke-dasharray="4 99"/>
<path d="M152.1 221.7l3.7-2.6 1.5 1.6-3.6 2.3z" fill="#ee0000" stroke-dasharray="4.4 99"/>
<path d="M148.9 225l3.6-3.6 1.5 1.3-3.6 3.3z" fill="#f41300" stroke-dasharray="5.1 99"/>
<path d="M145.6 229.5l3.6-4.9 1.5 1-3.6 4.5z" fill="#fc3a00" stroke-dasharray="6.1 99"/>
<path d="M142.3 235.2l3.6-6.3 1.5 .6-3.6 5.8z" fill="#ff8b00" stroke-dasharray="7.2 99"/>
<path d="M139 241.9l3.6-7.4 1.5 .2-3.6 7z" fill="#fbce00" stroke="none"/>
<path d="M135.7 249l3.6-7.8 1.5-.1-3.6 7.5z" fill="#c5e300" stroke="none"/>
<path d="M132.4 255.3l3.6-7 1.5-.3-3.6 7.1z" fill="#3ad600" stroke="none"/>
<path d="M129.1 260.6l3.6-5.8 1.6-.2-3.7 6z" fill="#0dce02" stroke-dasharray="6.9 99"/>
<path d="M125.8 265.2l3.6-5.1 1.6 0-3.7 5.2z" fill="#09c906" stroke="none"/>
<path d="M122.5 269.7l3.7-4.9 1.5 0-3.7 4.9z" fill="#07c408" stroke="none"/>
<path d="M119.2 274.2l3.7-4.9 1.5-.1-3.7 4.9z" fill="#04c00b" stroke="none"/>
<path d="M117.5 276.5l1.9-2.5 1.5-.2-1.9 2.6z" fill="#02bd0d" stroke="none"/>
<path d="M116.2 280.3l1.5-4.1 1.5-.2-1.5 4.3z" fill="#00ba0f" stroke="none"/>
<path d="M115 284.2l1.3-4.3 1.5 0-1.3 4.6z" fill="#005f9a" stroke-dasharray="4.5 99"/>
<path d="M114.1 287l1-3 1.5 .2-1 3.3z" fill="#000ae2" stroke="none"/>
<path d="M113.2 288.7l1-1.9 1.5 .5-1 2z" fill="#0004c9" stroke-dasharray="2.1 99"/>
<path d="M112.4 289.5l.9-.9 1.5 .7-.9 .8z" fill="#0001bc" stroke-dasharray="1.3 99"/>
<path d="M225.9 199l1.9-.2 1.6 1.8-1.9 .2z" fill="#e80000" stroke="none"/>
<path d="M222.6 200.2l3.6-1.3 1.6 1.8-3.6 1.2z" fill="#e70000" stroke-dasharray="3.8 99"/>
<path d="M219.3 201.5l3.6-1.5 1.7 1.8-3.7 1.4z" fill="#e80000" stroke-dasharray="3.9 99"/>
<path d="M216 203.2l3.6-1.8 1.7 1.6-3.7 1.8z" fill="#ea0000" stroke-dasharray="4.1 99"/>
<path d="M212.7 205.3l3.7-2.3 1.6 1.6-3.7 2.1z" fill="#ed0000" stroke-dasharray="4.3 99"/>
<path d="M209.4 207.7l3.7-2.6 1.6 1.4-3.7 2.5z" fill="#f10a00" stroke-dasharray="4.5 99"/>
<path d="M206.1 210.4l3.7-2.9 1.6 1.2-3.7 2.9z" fill="#f61b00" stroke-dasharray="4.7 99"/>
<path d="M202.9 212.9l3.6-2.8 1.6 1.2-3.7 2.8z" fill="#fb3200" stroke-dasharray="4.5 99"/>
<path d="M199.6 214.8l3.6-2.1 1.6 1.2-3.6 2.3z" fill="#fe4e00" stroke-dasharray="4.2 99"/>
<path d="M196.3 216l3.6-1.3 1.6 1.4-3.6 1.5z" fill="#ff5d00" stroke-dasharray="3.9 99"/>
<path d="M193 217l3.6-1.1 1.6 1.6-3.6 1.1z" fill="#ff6200" stroke-dasharray="3.8 99"/>
<path d="M189.7 217.9l3.6-1 1.6 1.6-3.6 1z" fill="#ff6200" stroke-dasharray="3.8 99"/>
<path d="M186.4 218.8l3.6-1 1.6 1.6-3.6 1z" fill="#ff6200" stroke-dasharray="3.8 99"/>
<path d="M183.1 219.2l3.6-.5 1.6 1.7-3.6 .7z" fill="#ff5e00" stroke-dasharray="3.7 99"/>
<path d="M179.8 218.8l3.6 .4 1.6 1.9-3.6-.2z" fill="#fe4f00" stroke="none"/>
<path d="M176.5 217.7l3.6 1.2 1.6 2.1-3.6-1z" fill="#fb3000" stroke="none"/>
<path d="M173.2 216.8l3.6 1 1.6 2.3-3.6-1.1z" fill="#f51700" stroke="none"/>
<path d="M169.9 216.5l3.6 .3 1.6 2.3-3.6-.5z" fill="#f00500" stroke="none"/>
<path d="M166.6 217l3.6-.5 1.6 2-3.6 .4z" fill="#ed0000" stroke-dasharray="3.7 99"/>
<path d="M163.3 218l3.7-1.1 1.5 1.9-3.6 1z" fill="#ec0000" stroke-dasharray="3.8 99"/>
<path d="M160 219.2l3.7-1.3 1.5 1.8-3.6 1.2z" fill="#ec0000" stroke-dasharray="3.8 99"/>
<path d="M156.7 220.7l3.7-1.7 1.5 1.8-3.6 1.5z" fill="#ed0000" stroke-dasharray="4 99"/>
<path d="M153.4 222.8l3.7-2.3 1.5 1.6-3.6 2.1z" fill="#f00700" stroke-dasharray="4.3 99"/>
<path d="M150.2 225.8l3.6-3.3 1.5 1.4-3.6 3z" fill="#f51800" stroke-dasharray="4.9 99"/>
<path d="M146.9 230l3.6-4.6 1.5 1.1-3.6 4.1z" fill="#fc3d00" stroke="none"/>
<path d="M143.6 235.3l3.6-5.9 1.5 .7-3.6 5.4z" fill="#ff8700" stroke="none"/>
<path d="M140.3 241.8l3.6-7.2 1.5 .3-3.6 6.7z" fill="#fdcb00" stroke="none"/>
<path d="M137 248.7l3.6-7.6 1.6-.2-3.7 7.5z" fill="#d5e400" stroke="none"/>
<path d="M133.7 255.2l3.6-7.2 1.6-.3-3.7 7.2z" fill="#4fd900" stroke-dasharray="8 99"/>
<path d="M130.4 260.6l3.6-6 1.6-.2-3.7 6.1z" fill="#0dcf02" stroke="none"/>
<path d="M127.1 265.3l3.6-5.2 1.6-.1-3.7 5.2z" fill="#0aca05" stroke-dasharray="6.3 99"/>
<path d="M123.8 269.7l3.6-4.9 1.6 0-3.7 4.8z" fill="#07c508" stroke-dasharray="6 99"/>
<path d="M120.5 274.1l3.6-4.9 1.6 0-3.7 4.7z" fill="#05c10a" stroke-dasharray="6.1 99"/>
<path d="M118.8 276.4l1.9-2.5 1.5-.2-1.9 2.6z" fill="#03be0c" stroke-dasharray="3.2 99"/>
<path d="M117.5 280.3l1.4-4.3 1.6-.1-1.5 4.4z" fill="#01ba0e" stroke-dasharray="4.5 99"/>
<path d="M116.3 284.5l1.3-4.6 1.5 0-1.3 4.8z" fill="#006c89" stroke="none"/>
<path d="M115.4 287.4l1-3.2 1.5 .2-1 3.5z" fill="#000be5" stroke-dasharray="3.4 99"/>
<path d="M114.5 289.3l.9-2.1 1.6 .5-1 2.2z" fill="#0004ca" stroke="none"/>
<path d="M113.6 290l1-.8 1.5 .6-.9 .9z" fill="#0001bc" stroke="none"/>
<path d="M233.3 253.9l.9 4 1.7 .6-1-3.8z" fill="#0006d0" stroke-dasharray="4.1 99"/>
<path d="M232.4 243.8l1 11.1 1.6 .7-1-10.8z" fill="#00a135" stroke-dasharray="11.2 99"/>
<path d="M231.5 229l1 16.3 1.6 .9-1-15.9z" fill="#09c706" stroke-dasharray="16.3 99"/>
<path d="M230.3 211.6l1.3 19.2 1.6 1.2-1.3-18.8z" fill="#c7e300" stroke-dasharray="19.2 99"/>
<path d="M229 200.3l1.5 12.4 1.6 1.6-1.5-12.2z" fill="#fc3f00" stroke-dasharray="12.5 99"/>
<path d="M227.3 200.6l1.9-.3 1.6 1.8-1.9 .3z" fill="#eb0000" stroke-dasharray="1.9 99"/>
<path d="M224 201.6l3.6-1.2 1.6 1.8-3.6 1.2z" fill="#ea0000" stroke-dasharray="3.8 99"/>
<path d="M220.7 202.9l3.6-1.4 1.6 1.8-3.6 1.3z" fill="#eb0000" stroke-dasharray="3.9 99"/>
<path d="M217.4 204.5l3.6-1.7 1.6 1.7-3.6 1.6z" fill="#ed0000" stroke-dasharray="4 99"/>
<path d="M214.1 206.5l3.6-2.1 1.6 1.5-3.6 2z" fill="#ef0400" stroke-dasharray="4.2 99"/>
<path d="M210.8 208.8l3.6-2.5 1.6 1.4-3.6 2.4z" fill="#f31000" stroke-dasharray="4.4 99"/>
<path d="M207.5 211.4l3.6-2.9 1.6 1.4-3.6 2.7z" fill="#f82100" stroke-dasharray="4.6 99"/>
<path d="M204.2 214l3.6-2.8 1.6 1.2-3.6 2.8z" fill="#fc3c00" stroke-dasharray="4.6 99"/>
<path d="M200.9 216l3.6-2.3 1.6 1.3-3.6 2.4z" fill="#ff5900" stroke-dasharray="4.3 99"/>
<path d="M197.6 217.4l3.6-1.5 1.6 1.3-3.6 1.7z" fill="#ff6c00" stroke-dasharray="3.9 99"/>
<path d="M194.3 218.4l3.6-1.1 1.6 1.5-3.6 1.2z" fill="#ff7300" stroke-dasharray="3.8 99"/>
<path d="M191 219.2l3.6-.9 1.6 1.6-3.6 1z" fill="#ff7400" stroke-dasharray="3.8 99"/>
<path d="M187.7 220.2l3.6-1 1.6 1.6-3.6 1z" fill="#ff7400" stroke-dasharray="3.8 99"/>
<path d="M184.4 220.8l3.7-.7 1.5 1.6-3.6 .9z" fill="#ff7200" stroke-dasharray="3.7 99"/>
<path d="M181.1 220.6l3.7 .2 1.6 1.8-3.7 .1z" fill="#ff6600" stroke-dasharray="3.6 99"/>
<path d="M177.8 219.7l3.7 1 1.6 2-3.7-.8z" fill="#fd4a00" stroke-dasharray="3.8 99"/>
<path d="M174.5 218.7l3.7 1.1 1.6 2.2-3.7-1.1z" fill="#fa2700" stroke-dasharray="3.8 99"/>
<path d="M171.2 218.2l3.7 .5 1.6 2.3-3.7-.7z" fill="#f41400" stroke-dasharray="3.7 99"/>
<path d="M167.9 218.6l3.7-.4 1.6 2.1-3.7 .2z" fill="#f00800" stroke-dasharray="3.6 99"/>
<path d="M164.7 219.5l3.6-1 1.6 1.9-3.7 .9z" fill="#ef0400" stroke-dasharray="3.8 99"/>
<path d="M161.4 220.6l3.6-1.2 1.6 1.8-3.7 1.1z" fill="#ef0400" stroke-dasharray="3.8 99"/>
<path d="M158.1 222l3.6-1.5 1.6 1.7-3.7 1.4z" fill="#f00800" stroke-dasharray="3.9 99"/>
<path d="M154.8 223.9l3.6-2.1 1.6 1.6-3.7 1.9z" fill="#f30f00" stroke-dasharray="4.2 99"/>
<path d="M151.5 226.7l3.6-3 1.6 1.4-3.7 2.7z" fill="#f71e00" stroke-dasharray="4.7 99"/>
<path d="M148.2 230.5l3.6-4.2 1.6 1.2-3.6 3.8z" fill="#fd4100" stroke-dasharray="5.5 99"/>
<path d="M144.9 235.5l3.6-5.5 1.6 .8-3.6 5z" fill="#ff8400" stroke-dasharray="6.5 99"/>
<path d="M141.6 241.6l3.6-6.7 1.6 .3-3.6 6.3z" fill="#ffc800" stroke-dasharray="7.7 99"/>
<path d="M138.3 248.4l3.6-7.5 1.6 0-3.6 7.2z" fill="#e4e500" stroke-dasharray="8.3 99"/>
<path d="M135 255l3.6-7.2 1.6-.4-3.6 7.2z" fill="#65db00" stroke="none"/>
<path d="M131.7 260.5l3.6-6.1 1.6-.3-3.6 6.3z" fill="#0ed001" stroke-dasharray="7.1 99"/>
<path d="M128.4 265.3l3.6-5.2 1.6-.2-3.6 5.3z" fill="#0aca05" stroke="none"/>
<path d="M125.1 269.6l3.6-4.8 1.6 0-3.6 4.8z" fill="#08c607" stroke="none"/>
<path d="M121.8 274l3.6-4.8 1.6-.1-3.6 4.7z" fill="#05c20a" stroke="none"/>
<path d="M120.1 276.3l1.9-2.6 1.5-.1-1.8 2.5z" fill="#03be0c" stroke="none"/>
<path d="M118.7 280.3l1.5-4.4 1.6-.2-1.5 4.6z" fill="#01bb0e" stroke="none"/>
<path d="M117.6 284.7l1.3-4.8 1.5-.1-1.2 5.1z" fill="#007975" stroke-dasharray="5 99"/>
<path d="M116.6 287.8l1.1-3.5 1.6 .3-1.1 3.6z" fill="#000ce8" stroke="none"/>
<path d="M115.8 289.8l.9-2.2 1.6 .4-1 2.4z" fill="#0005cb" stroke-dasharray="2.4 99"/>
<path d="M114.9 290.6l.9-.9 1.6 .6-.9 .9z" fill="#0001bd" stroke-dasharray="1.3 99"/>
<path d="M234.7 254.5l.9 4 1.6 .6-.9-3.8z" fill="#0006cf" stroke="none"/>
<path d="M233.8 244.6l1 10.9 1.6 .8-1-10.7z" fill="#009b3e" stroke="none"/>
<path d="M232.8 230.1l1.1 16 1.6 .9-1-15.6z" fill="#08c707" stroke="none"/>
<path d="M231.7 212.9l1.3 18.9 1.6 1.3-1.3-18.6z" fill="#b9e300" stroke="none"/>
<path d="M230.4 201.8l1.4 12.2 1.6 1.6-1.4-12z" fill="#fe5100" stroke="none"/>
<path d="M228.6 202.1l1.9-.3 1.6 1.8-1.8 .3z" fill="#ed0000" stroke="none"/>
<path d="M225.3 203.1l3.7-1.1 1.6 1.8-3.6 1.1z" fill="#ed0000" stroke-dasharray="3.8 99"/>
<path d="M222 204.4l3.7-1.4 1.6 1.8-3.6 1.3z" fill="#ee0000" stroke-dasharray="3.9 99"/>
<path d="M218.7 205.9l3.7-1.7 1.6 1.7-3.6 1.6z" fill="#ef0400" stroke-dasharray="4 99"/>
<path d="M215.5 207.7l3.6-2 1.6 1.6-3.6 1.9z" fill="#f20c00" stroke-dasharray="4.2 99"/>
<path d="M212.2 209.9l3.6-2.4 1.6 1.5-3.6 2.3z" fill="#f51800" stroke-dasharray="4.4 99"/>
<path d="M208.9 212.4l3.6-2.7 1.6 1.3-3.6 2.7z" fill="#fa2700" stroke-dasharray="4.6 99"/>
<path d="M205.6 215l3.6-2.8 1.6 1.2-3.6 2.8z" fill="#fd4600" stroke-dasharray="4.6 99"/>
<path d="M202.3 217.2l3.6-2.4 1.6 1.2-3.6 2.5z" fill="#ff6500" stroke-dasharray="4.4 99"/>
<path d="M199 218.7l3.6-1.7 1.6 1.4-3.6 1.8z" fill="#ff7b00" stroke-dasharray="4 99"/>
<path d="M195.7 219.7l3.6-1.1 1.6 1.5-3.6 1.3z" fill="#ff8400" stroke-dasharray="3.8 99"/>
<path d="M192.4 220.6l3.6-1 1.6 1.7-3.6 .9z" fill="#ff8600" stroke-dasharray="3.8 99"/>
<path d="M189.1 221.6l3.6-1.1 1.6 1.7-3.6 1z" fill="#ff8600" stroke-dasharray="3.8 99"/>
<path d="M185.8 222.3l3.6-.8 1.6 1.6-3.6 .9z" fill="#ff8500" stroke-dasharray="3.7 99"/>
<path d="M182.5 222.4l3.6-.1 1.6 1.7-3.6 .3z" fill="#ff7c00" stroke-dasharray="3.6 99"/>
<path d="M179.2 221.6l3.6 .8 1.6 2-3.6-.6z" fill="#ff6400" stroke="none"/>
<path d="M175.9 220.6l3.6 1.1 1.6 2.2-3.6-1z" fill="#fd4100" stroke="none"/>
<path d="M172.6 220l3.6 .7 1.6 2.2-3.6-.8z" fill="#f82300" stroke="none"/>
<path d="M169.3 220.2l3.6-.2 1.6 2.1-3.6 0z" fill="#f41500" stroke-dasharray="3.6 99"/>
<path d="M166 221l3.6-.9 1.6 2-3.6 .7z" fill="#f30f00" stroke-dasharray="3.7 99"/>
<path d="M162.7 222.1l3.6-1.2 1.6 1.8-3.6 1.1z" fill="#f30f00" stroke-dasharray="3.8 99"/>
<path d="M159.4 223.4l3.6-1.4 1.6 1.7-3.6 1.3z" fill="#f31200" stroke-dasharray="3.9 99"/>
<path d="M156.1 225.1l3.6-1.9 1.6 1.7-3.6 1.7z" fill="#f51800" stroke-dasharray="4.1 99"/>
<path d="M152.8 227.6l3.6-2.7 1.6 1.5-3.6 2.4z" fill="#f92400" stroke-dasharray="4.6 99"/>
<path d="M149.5 231.1l3.6-3.8 1.6 1.2-3.6 3.5z" fill="#fd4700" stroke="none"/>
<path d="M146.2 235.7l3.6-5 1.6 .8-3.6 4.6z" fill="#ff8300" stroke="none"/>
<path d="M142.9 241.5l3.6-6.4 1.6 .5-3.6 5.9z" fill="#ffc200" stroke="none"/>
<path d="M139.6 248.1l3.6-7.2 1.6-.1-3.6 7z" fill="#ece400" stroke="none"/>
<path d="M136.3 254.7l3.6-7.2 1.6-.4-3.6 7.2z" fill="#7cdd00" stroke-dasharray="8.1 99"/>
<path d="M133 260.4l3.6-6.3 1.6-.4-3.6 6.5z" fill="#0ed001" stroke="none"/>
<path d="M129.7 265.2l3.6-5.3 1.6-.2-3.6 5.5z" fill="#0bcb04" stroke-dasharray="6.4 99"/>
<path d="M126.4 269.6l3.7-4.8 1.6-.1-3.7 4.8z" fill="#08c707" stroke-dasharray="6 99"/>
<path d="M123.1 273.8l3.7-4.7 1.6 0-3.7 4.6z" fill="#06c209" stroke-dasharray="5.9 99"/>
<path d="M121.4 276.1l1.9-2.5 1.6-.1-1.9 2.5z" fill="#04bf0b" stroke-dasharray="3.2 99"/>
<path d="M120.1 280.3l1.4-4.6 1.6-.2-1.4 4.7z" fill="#02bc0d" stroke-dasharray="4.8 99"/>
<path d="M118.9 284.9l1.3-5.1 1.6 0-1.3 5.3z" fill="#008660" stroke="none"/>
<path d="M118 288.2l1-3.7 1.6 .2-1 3.9z" fill="#0014e0" stroke-dasharray="3.8 99"/>
<path d="M117.1 290.3l1-2.3 1.6 .4-1 2.5z" fill="#0005cc" stroke="none"/>
<path d="M116.2 291.1l1-.9 1.6 .6-1 1z" fill="#0001bd" stroke="none"/>
<path d="M236 255.2l1 3.8 1.6 .6-.9-3.7z" fill="#0006cf" stroke-dasharray="3.9 99"/>
<path d="M235.2 245.4l.9 10.7 1.7 .8-1-10.4z" fill="#009647" stroke-dasharray="10.7 99"/>
<path d="M234.2 231.2l1.1 15.7 1.6 1-1.1-15.4z" fill="#08c607" stroke-dasharray="15.7 99"/>
<path d="M233.1 214.3l1.2 18.6 1.6 1.3-1.2-18.3z" fill="#abe100" stroke-dasharray="18.6 99"/>
<path d="M231.7 203.4l1.5 12 1.6 1.6-1.5-11.8z" fill="#ff6400" stroke-dasharray="12.1 99"/>
<path d="M230 203.6l1.9-.3 1.6 1.9-1.9 .2z" fill="#f10900" stroke-dasharray="1.9 99"/>
<path d="M226.7 204.6l3.6-1.1 1.7 1.8-3.7 1.1z" fill="#f10800" stroke-dasharray="3.8 99"/>
<path d="M223.4 205.8l3.6-1.3 1.7 1.8-3.7 1.2z" fill="#f10a00" stroke-dasharray="3.8 99"/>
<path d="M220.1 207.2l3.6-1.5 1.7 1.7-3.7 1.4z" fill="#f20e00" stroke-dasharray="4 99"/>
<path d="M216.8 209l3.6-1.9 1.7 1.6-3.7 1.8z" fill="#f41500" stroke-dasharray="4.1 99"/>
<path d="M213.5 211l3.6-2.2 1.7 1.5-3.7 2.1z" fill="#f71f00" stroke-dasharray="4.3 99"/>
<path d="M210.2 213.5l3.6-2.7 1.7 1.4-3.7 2.5z" fill="#fb3200" stroke-dasharray="4.5 99"/>
<path d="M206.9 216l3.7-2.8 1.6 1.3-3.7 2.7z" fill="#fe5100" stroke-dasharray="4.6 99"/>
<path d="M203.6 218.3l3.7-2.5 1.6 1.2-3.7 2.6z" fill="#ff7000" stroke-dasharray="4.4 99"/>
<path d="M200.3 220l3.7-1.8 1.6 1.2-3.7 2.1z" fill="#ff8800" stroke-dasharray="4.1 99"/>
<path d="M197 221.1l3.7-1.2 1.6 1.4-3.7 1.4z" fill="#ff9400" stroke-dasharray="3.8 99"/>
<path d="M193.7 222l3.7-1 1.6 1.6-3.7 1z" fill="#ff9700" stroke-dasharray="3.8 99"/>
<path d="M190.4 222.9l3.7-1 1.6 1.6-3.7 1z" fill="#ff9700" stroke-dasharray="3.8 99"/>
<path d="M187.1 223.8l3.7-.9 1.6 1.6-3.6 .9z" fill="#ff9700" stroke-dasharray="3.7 99"/>
<path d="M183.8 224l3.7-.3 1.6 1.7-3.6 .5z" fill="#ff9100" stroke-dasharray="3.6 99"/>
<path d="M180.5 223.5l3.7 .6 1.6 1.9-3.6-.3z" fill="#ff7e00" stroke-dasharray="3.7 99"/>
<path d="M177.2 222.5l3.7 1.1 1.6 2.1-3.6-.9z" fill="#ff5d00" stroke-dasharray="3.8 99"/>
<path d="M173.9 221.8l3.7 .8 1.6 2.3-3.6-.9z" fill="#fc3900" stroke-dasharray="3.7 99"/>
<path d="M170.6 221.8l3.7 0 1.6 2.2-3.6-.2z" fill="#f82300" stroke-dasharray="3.6 99"/>
<path d="M167.4 222.5l3.6-.7 1.6 1.9-3.6 .6z" fill="#f61b00" stroke-dasharray="3.7 99"/>
<path d="M164.1 223.5l3.6-1.1 1.6 1.8-3.6 1.1z" fill="#f61a00" stroke-dasharray="3.8 99"/>
<path d="M160.8 224.8l3.6-1.4 1.6 1.8-3.6 1.2z" fill="#f61c00" stroke-dasharray="3.9 99"/>
<path d="M157.5 226.4l3.6-1.8 1.6 1.7-3.6 1.6z" fill="#f82000" stroke-dasharray="4 99"/>
<path d="M154.2 228.6l3.6-2.5 1.6 1.6-3.6 2.2z" fill="#fa2d00" stroke-dasharray="4.4 99"/>
<path d="M150.9 231.8l3.6-3.5 1.6 1.3-3.6 3.1z" fill="#fe4e00" stroke-dasharray="5 99"/>
<path d="M147.6 236.1l3.6-4.7 1.6 .9-3.6 4.3z" fill="#ff8400" stroke-dasharray="5.9 99"/>
<path d="M144.3 241.5l3.6-6 1.6 .6-3.6 5.4z" fill="#ffbd00" stroke-dasharray="7 99"/>
<path d="M141 247.8l3.6-7 1.6 .1-3.6 6.7z" fill="#efe000" stroke-dasharray="7.9 99"/>
<path d="M137.7 254.4l3.6-7.2 1.6-.3-3.6 7.1z" fill="#92e000" stroke="none"/>
<path d="M134.4 260.3l3.6-6.5 1.6-.4-3.6 6.6z" fill="#0fd100" stroke-dasharray="7.4 99"/>
<path d="M131.1 265.2l3.6-5.4 1.6-.3-3.6 5.6z" fill="#0bcc04" stroke="none"/>
<path d="M127.8 269.5l3.6-4.8 1.6-.1-3.6 4.9z" fill="#09c706" stroke="none"/>
<path d="M124.5 273.7l3.6-4.6 1.6-.1-3.6 4.6z" fill="#06c309" stroke="none"/>
<path d="M122.8 276l1.9-2.5 1.6-.1-1.9 2.4z" fill="#04c00b" stroke="none"/>
<path d="M121.4 280.2l1.5-4.6 1.6-.2-1.5 4.8z" fill="#02bd0d" stroke="none"/>
<path d="M120.3 285l1.2-5.2 1.6-.1-1.2 5.5z" fill="#00934b" stroke-dasharray="5.4 99"/>
<path d="M119.3 288.5l1.1-3.8 1.6 .2-1.1 4.1z" fill="#001cd9" stroke="none"/>
<path d="M118.4 290.8l1-2.5 1.6 .4-.9 2.6z" fill="#0005ce" stroke-dasharray="2.6 99"/>
<path d="M117.6 291.7l.9-1 1.6 .5-.9 1.1z" fill="#0001bd" stroke-dasharray="1.4 99"/>
<path d="M237.4 255.8l.9 3.7 1.7 .6-1-3.5z" fill="#0005ce" stroke="none"/>
<path d="M236.5 246.3l1 10.4 1.6 .8-.9-10.2z" fill="#009051" stroke="none"/>
<path d="M235.6 232.3l1 15.4 1.6 1-1-15z" fill="#08c607" stroke="none"/>
<path d="M234.4 215.7l1.3 18.3 1.6 1.3-1.3-17.9z" fill="#9ce000" stroke="none"/>
<path d="M233.1 204.9l1.5 11.8 1.6 1.8-1.5-11.7z" fill="#ff7900" stroke="none"/>
<path d="M231.4 205.1l1.9-.2 1.6 1.9-1.9 .1z" fill="#f41500" stroke="none"/>
<path d="M228.1 206.1l3.6-1.1 1.6 1.8-3.6 1.1z" fill="#f41300" stroke-dasharray="3.8 99"/>
<path d="M224.8 207.3l3.6-1.3 1.6 1.8-3.6 1.2z" fill="#f41500" stroke-dasharray="3.8 99"/>
<path d="M221.5 208.6l3.6-1.5 1.6 1.8-3.6 1.3z" fill="#f51800" stroke-dasharray="3.9 99"/>
<path d="M218.2 210.2l3.6-1.8 1.6 1.7-3.6 1.7z" fill="#f71e00" stroke-dasharray="4.1 99"/>
<path d="M214.9 212.2l3.6-2.2 1.6 1.6-3.6 2z" fill="#fa2700" stroke-dasharray="4.2 99"/>
<path d="M211.6 214.5l3.6-2.5 1.6 1.4-3.6 2.4z" fill="#fc3e00" stroke-dasharray="4.4 99"/>
<path d="M208.3 217.1l3.6-2.8 1.6 1.3-3.6 2.7z" fill="#ff5b00" stroke-dasharray="4.6 99"/>
<path d="M205 219.4l3.6-2.6 1.6 1.2-3.6 2.7z" fill="#ff7b00" stroke-dasharray="4.5 99"/>
<path d="M201.7 221.2l3.6-2 1.6 1.3-3.6 2.2z" fill="#ff9500" stroke-dasharray="4.1 99"/>
<path d="M198.4 222.5l3.6-1.4 1.6 1.4-3.6 1.5z" fill="#ff9f00" stroke-dasharray="3.9 99"/>
<path d="M195.1 223.4l3.6-1 1.6 1.5-3.6 1.1z" fill="#ffa200" stroke-dasharray="3.8 99"/>
<path d="M191.8 224.3l3.6-1 1.6 1.6-3.6 1z" fill="#ffa300" stroke-dasharray="3.8 99"/>
<path d="M188.5 225.2l3.6-1 1.6 1.6-3.6 1z" fill="#ffa300" stroke-dasharray="3.8 99"/>
<path d="M185.2 225.7l3.6-.6 1.6 1.7-3.6 .7z" fill="#ffa000" stroke-dasharray="3.7 99"/>
<path d="M181.9 225.3l3.6 .4 1.7 1.8-3.7-.1z" fill="#ff9600" stroke="none"/>
<path d="M178.6 224.4l3.6 1 1.7 2.1-3.7-.8z" fill="#ff7900" stroke="none"/>
<path d="M175.3 223.6l3.6 .9 1.7 2.3-3.7-1z" fill="#fe5400" stroke="none"/>
<path d="M172 223.5l3.6 .1 1.7 2.3-3.7-.4z" fill="#fb3700" stroke="none"/>
<path d="M168.7 224l3.6-.6 1.7 2-3.7 .5z" fill="#fa2700" stroke-dasharray="3.7 99"/>
<path d="M165.4 225l3.6-1.1 1.7 1.9-3.7 .9z" fill="#f92500" stroke-dasharray="3.8 99"/>
<path d="M162.1 226.2l3.6-1.3 1.7 1.7-3.7 1.2z" fill="#f92600" stroke-dasharray="3.8 99"/>
<path d="M158.8 227.6l3.7-1.6 1.6 1.7-3.7 1.5z" fill="#fa2b00" stroke-dasharray="4 99"/>
<path d="M155.5 229.7l3.7-2.3 1.6 1.6-3.7 2z" fill="#fc3a00" stroke-dasharray="4.3 99"/>
<path d="M152.2 232.6l3.7-3.2 1.6 1.3-3.7 2.9z" fill="#ff5600" stroke-dasharray="4.8 99"/>
<path d="M148.9 236.5l3.7-4.3 1.6 1-3.7 3.9z" fill="#ff8600" stroke="none"/>
<path d="M145.6 241.5l3.7-5.5 1.6 .7-3.7 5z" fill="#ffba00" stroke="none"/>
<path d="M142.3 247.6l3.7-6.7 1.6 .2-3.7 6.3z" fill="#f1dd00" stroke="none"/>
<path d="M139 254l3.7-7.1 1.6-.1-3.6 6.9z" fill="#a3e100" stroke-dasharray="8 99"/>
<path d="M135.7 260.1l3.7-6.7 1.6-.3-3.6 6.7z" fill="#18d300" stroke="none"/>
<path d="M132.4 265.1l3.7-5.5 1.6-.3-3.6 5.7z" fill="#0ccd03" stroke-dasharray="6.6 99"/>
<path d="M129.1 269.5l3.7-4.8 1.6-.1-3.6 4.8z" fill="#09c806" stroke-dasharray="6 99"/>
<path d="M125.8 273.6l3.7-4.6 1.6 0-3.6 4.5z" fill="#07c408" stroke-dasharray="5.8 99"/>
<path d="M124.1 275.8l1.9-2.4 1.6-.1-1.9 2.4z" fill="#05c10a" stroke-dasharray="3.1 99"/>
<path d="M122.8 280.2l1.5-4.8 1.6-.2-1.5 5z" fill="#03bd0c" stroke-dasharray="5 99"/>
<path d="M121.6 285.2l1.3-5.5 1.6 0-1.2 5.7z" fill="#00a037" stroke="none"/>
<path d="M120.7 288.9l1-4.1 1.7 .3-1.1 4.2z" fill="#0024d1" stroke-dasharray="4.2 99"/>
<path d="M119.8 291.3l1-2.6 1.6 .4-1 2.7z" fill="#0006cf" stroke="none"/>
<path d="M119 292.2l.9-1 1.6 .5-.9 1.1z" fill="#0001bd" stroke="none"/>
<path d="M238.8 256.4l.9 3.6 1.6 .6-.9-3.4z" fill="#0005cd" stroke-dasharray="3.7 99"/>
<path d="M237.9 247.2l1 10.2 1.6 .7-1-9.8z" fill="#00895c" stroke-dasharray="10.2 99"/>
<path d="M236.9 233.5l1.1 15 1.6 1.1-1-14.7z" fill="#07c508" stroke-dasharray="15.1 99"/>
<path d="M235.8 217.1l1.3 18 1.6 1.4-1.3-17.6z" fill="#88df00" stroke-dasharray="18 99"/>
<path d="M234.5 206.5l1.4 11.7 1.6 1.8-1.4-11.6z" fill="#ff8e00" stroke-dasharray="11.8 99"/>
<path d="M232.7 206.7l1.9-.2 1.6 1.9-1.8 .1z" fill="#f82000" stroke-dasharray="1.9 99"/>
<path d="M229.4 207.6l3.7-1 1.6 1.8-3.6 1z" fill="#f71f00" stroke-dasharray="3.8 99"/>
<path d="M226.1 208.7l3.7-1.2 1.6 1.8-3.6 1.2z" fill="#f82000" stroke-dasharray="3.8 99"/>
<path d="M222.9 210l3.6-1.4 1.6 1.7-3.6 1.4z" fill="#f82200" stroke-dasharray="3.9 99"/>
<path d="M219.6 211.5l3.6-1.7 1.6 1.7-3.6 1.6z" fill="#fa2700" stroke-dasharray="4 99"/>
<path d="M216.3 213.4l3.6-2 1.6 1.5-3.6 2z" fill="#fb3500" stroke-dasharray="4.2 99"/>
<path d="M213 215.6l3.6-2.4 1.6 1.5-3.6 2.2z" fill="#fd4a00" stroke-dasharray="4.4 99"/>
<path d="M209.7 218.1l3.6-2.7 1.6 1.3-3.6 2.6z" fill="#ff6600" stroke-dasharray="4.5 99"/>
<path d="M206.4 220.5l3.6-2.7 1.6 1.3-3.6 2.6z" fill="#ff8600" stroke-dasharray="4.5 99"/>
<path d="M203.1 222.5l3.6-2.2 1.6 1.2-3.6 2.3z" fill="#ff9e00" stroke-dasharray="4.2 99"/>
<path d="M199.8 223.8l3.6-1.5 1.6 1.4-3.6 1.6z" fill="#ffa900" stroke-dasharray="3.9 99"/>
<path d="M196.5 224.8l3.6-1.1 1.6 1.5-3.6 1.2z" fill="#ffae00" stroke-dasharray="3.8 99"/>
<path d="M193.2 225.7l3.6-1 1.6 1.6-3.6 1z" fill="#ffae00" stroke-dasharray="3.8 99"/>
<path d="M189.9 226.6l3.6-1 1.6 1.6-3.6 1z" fill="#ffae00" stroke-dasharray="3.8 99"/>
<path d="M186.6 227.2l3.6-.7 1.6 1.6-3.6 .9z" fill="#ffad00" stroke-dasharray="3.7 99"/>
<path d="M183.3 227.1l3.6 .1 1.6 1.7-3.6 .2z" fill="#ffa500" stroke-dasharray="3.6 99"/>
<path d="M180 226.3l3.6 .9 1.6 2-3.6-.7z" fill="#ff9300" stroke-dasharray="3.7 99"/>
<path d="M176.7 225.5l3.6 .9 1.6 2.2-3.6-.9z" fill="#ff7000" stroke-dasharray="3.7 99"/>
<path d="M173.4 225.2l3.6 .3 1.6 2.2-3.6-.5z" fill="#fe5000" stroke-dasharray="3.6 99"/>
<path d="M170.1 225.6l3.6-.5 1.6 2.1-3.6 .2z" fill="#fc3d00" stroke-dasharray="3.7 99"/>
<path d="M166.8 226.5l3.6-1 1.6 1.9-3.6 .8z" fill="#fb3600" stroke-dasharray="3.8 99"/>
<path d="M163.5 227.6l3.6-1.2 1.6 1.7-3.6 1.2z" fill="#fb3700" stroke-dasharray="3.8 99"/>
<path d="M160.2 228.9l3.6-1.4 1.6 1.7-3.6 1.3z" fill="#fc3c00" stroke-dasharray="3.9 99"/>
<path d="M156.9 230.8l3.6-2 1.6 1.6-3.6 1.8z" fill="#fd4800" stroke-dasharray="4.2 99"/>
<path d="M153.6 233.4l3.6-2.9 1.6 1.5-3.6 2.5z" fill="#ff6000" stroke-dasharray="4.6 99"/>
<path d="M150.3 237l3.6-3.9 1.6 1.1-3.6 3.6z" fill="#ff8b00" stroke-dasharray="5.4 99"/>
<path d="M147 241.7l3.6-5.2 1.6 .8-3.6 4.7z" fill="#ffb800" stroke-dasharray="6.3 99"/>
<path d="M143.7 247.4l3.6-6.3 1.6 .4-3.6 5.8z" fill="#f3da00" stroke-dasharray="7.3 99"/>
<path d="M140.4 253.7l3.6-6.9 1.6-.1-3.6 6.7z" fill="#b1e200" stroke="none"/>
<path d="M137.1 259.8l3.6-6.7 1.6-.3-3.6 6.7z" fill="#2dd500" stroke-dasharray="7.6 99"/>
<path d="M133.8 265l3.6-5.7 1.7-.3-3.7 5.9z" fill="#0cce03" stroke="none"/>
<path d="M130.5 269.4l3.6-4.8 1.7-.1-3.7 4.9z" fill="#09c906" stroke="none"/>
<path d="M127.2 273.5l3.6-4.5 1.7 0-3.7 4.5z" fill="#07c508" stroke="none"/>
<path d="M125.5 275.7l1.9-2.4 1.6 0-1.9 2.3z" fill="#05c20a" stroke="none"/>
<path d="M124.2 280.2l1.4-4.9 1.6-.1-1.4 5z" fill="#03be0c" stroke="none"/>
<path d="M123 285.4l1.3-5.7 1.6 0-1.3 5.9z" fill="#00ac24" stroke-dasharray="5.9 99"/>
<path d="M122.1 289.3l1-4.3 1.6 .2-1 4.5z" fill="#002cca" stroke="none"/>
<path d="M121.2 291.7l.9-2.7 1.7 .4-1 2.9z" fill="#0006d0" stroke-dasharray="2.9 99"/>
<path d="M120.3 292.7l1-1.1 1.6 .6-1 1.2z" fill="#0001be" stroke-dasharray="1.4 99"/>
<path d="M240.2 257.1l.9 3.4 1.6 .7-.9-3.3z" fill="#0005cd" stroke="none"/>
<path d="M239.3 248.1l.9 9.9 1.7 .7-1-9.5z" fill="#008167" stroke="none"/>
<path d="M238.3 234.7l1.1 14.7 1.6 1.1-1.1-14.3z" fill="#07c408" stroke="none"/>
<path d="M237.2 218.6l1.2 17.7 1.6 1.5-1.2-17.2z" fill="#6fdc00" stroke="none"/>
<path d="M235.8 208.1l1.5 11.6 1.6 1.9-1.5-11.5z" fill="#ffa000" stroke="none"/>
<path d="M234.1 208.2l1.9-.1 1.6 2-1.9-.1z" fill="#fb3000" stroke="none"/>
<path d="M230.8 209.2l3.6-1.1 1.7 1.9-3.7 .9z" fill="#fa2b00" stroke-dasharray="3.8 99"/>
<path d="M227.5 210.2l3.6-1.1 1.7 1.7-3.7 1.1z" fill="#fa2c00" stroke-dasharray="3.8 99"/>
<path d="M224.2 211.4l3.6-1.3 1.7 1.7-3.7 1.3z" fill="#fb3000" stroke-dasharray="3.9 99"/>
<path d="M220.9 212.9l3.6-1.6 1.7 1.7-3.7 1.5z" fill="#fc3800" stroke-dasharray="4 99"/>
<path d="M217.6 214.6l3.6-1.9 1.7 1.6-3.7 1.8z" fill="#fd4500" stroke-dasharray="4.1 99"/>
<path d="M214.3 216.7l3.7-2.3 1.6 1.5-3.7 2.2z" fill="#ff5800" stroke-dasharray="4.3 99"/>
<path d="M211 219.1l3.7-2.6 1.6 1.4-3.7 2.5z" fill="#ff7200" stroke-dasharray="4.5 99"/>
<path d="M207.7 221.5l3.7-2.6 1.6 1.2-3.7 2.7z" fill="#ff9100" stroke-dasharray="4.5 99"/>
<path d="M204.4 223.6l3.7-2.3 1.6 1.3-3.7 2.4z" fill="#ffa600" stroke-dasharray="4.3 99"/>
<path d="M201.1 225.1l3.7-1.6 1.6 1.3-3.7 1.8z" fill="#ffb300" stroke-dasharray="4 99"/>
<path d="M197.8 226.1l3.7-1.1 1.6 1.5-3.7 1.2z" fill="#ffb900" stroke-dasharray="3.8 99"/>
<path d="M194.5 227l3.7-1 1.6 1.6-3.6 1z" fill="#ffba00" stroke-dasharray="3.8 99"/>
<path d="M191.2 228l3.7-1.1 1.6 1.6-3.6 1.1z" fill="#ffba00" stroke-dasharray="3.8 99"/>
<path d="M187.9 228.7l3.7-.8 1.6 1.6-3.6 .9z" fill="#ffb900" stroke-dasharray="3.7 99"/>
<path d="M184.6 228.8l3.7-.1 1.6 1.7-3.6 .4z" fill="#ffb400" stroke-dasharray="3.6 99"/>
<path d="M181.3 228.2l3.7 .7 1.6 1.9-3.6-.4z" fill="#ffa500" stroke="none"/>
<path d="M178 227.4l3.7 .9 1.6 2.1-3.6-.8z" fill="#ff8c00" stroke="none"/>
<path d="M174.8 226.9l3.6 .5 1.6 2.2-3.6-.6z" fill="#ff6a00" stroke="none"/>
<path d="M171.5 227.1l3.6-.2 1.6 2-3.6 .1z" fill="#fe5300" stroke-dasharray="3.6 99"/>
<path d="M168.2 228l3.6-.9 1.6 1.9-3.6 .7z" fill="#fd4a00" stroke-dasharray="3.7 99"/>
<path d="M164.9 229l3.6-1.2 1.6 1.8-3.6 1.1z" fill="#fd4900" stroke-dasharray="3.8 99"/>
<path d="M161.6 230.3l3.6-1.4 1.6 1.7-3.6 1.3z" fill="#fe4e00" stroke-dasharray="3.9 99"/>
<path d="M158.3 232l3.6-1.9 1.6 1.7-3.6 1.6z" fill="#ff5700" stroke-dasharray="4.1 99"/>
<path d="M155 234.3l3.6-2.6 1.6 1.5-3.6 2.3z" fill="#ff6c00" stroke-dasharray="4.5 99"/>
<path d="M151.7 237.6l3.6-3.6 1.6 1.2-3.6 3.3z" fill="#ff9100" stroke="none"/>
<path d="M148.4 241.9l3.6-4.7 1.6 .9-3.6 4.3z" fill="#ffb800" stroke="none"/>
<path d="M145.1 247.3l3.6-5.9 1.6 .5-3.6 5.5z" fill="#f5d800" stroke="none"/>
<path d="M141.8 253.5l3.6-6.8 1.6 .1-3.6 6.4z" fill="#bee300" stroke-dasharray="7.7 99"/>
<path d="M138.5 259.6l3.6-6.7 1.6-.3-3.6 6.7z" fill="#42d700" stroke="none"/>
<path d="M135.2 264.9l3.6-5.8 1.6-.3-3.6 6z" fill="#0dce02" stroke-dasharray="6.9 99"/>
<path d="M131.9 269.4l3.6-4.9 1.6-.2-3.6 5.1z" fill="#0ac905" stroke-dasharray="6.1 99"/>
<path d="M128.6 273.5l3.6-4.5 1.6 0-3.6 4.5z" fill="#07c508" stroke-dasharray="5.8 99"/>
<path d="M126.9 275.6l1.9-2.3 1.6-.1-1.9 2.4z" fill="#06c209" stroke-dasharray="3 99"/>
<path d="M125.5 280.2l1.5-5 1.6-.1-1.5 5.2z" fill="#03bf0c" stroke-dasharray="5.3 99"/>
<path d="M124.4 285.6l1.2-5.9 1.7 0-1.3 6.2z" fill="#00b712" stroke="none"/>
<path d="M123.4 289.6l1.1-4.4 1.6 .2-1.1 4.7z" fill="#0034c3" stroke-dasharray="4.6 99"/>
<path d="M122.5 292.2l1-2.8 1.6 .4-.9 3z" fill="#0006d2" stroke="none"/>
<path d="M121.7 293.3l.9-1.2 1.6 .6-.9 1.2z" fill="#0001be" stroke="none"/>
<path d="M241.5 257.7l.9 3.4 1.7 .6-1-3.2z" fill="#0005cc" stroke-dasharray="3.4 99"/>
<path d="M240.6 249l1 9.6 1.6 .8-.9-9.2z" fill="#007974" stroke-dasharray="9.6 99"/>
<path d="M239.7 236l1 14.3 1.6 1.2-1-13.9z" fill="#06c409" stroke-dasharray="14.4 99"/>
<path d="M238.5 220.3l1.3 17.3 1.6 1.6-1.2-16.9z" fill="#55d900" stroke-dasharray="17.4 99"/>
<path d="M237.2 209.8l1.5 11.5 1.6 2-1.5-11.4z" fill="#ffb100" stroke-dasharray="11.6 99"/>
<path d="M235.5 209.7l1.9 .1 1.6 2.2-1.9-.3z" fill="#fd4700" stroke-dasharray="1.9 99"/>
<path d="M232.2 210.7l3.6-1 1.6 1.9-3.6 .8z" fill="#fc4000" stroke-dasharray="3.8 99"/>
<path d="M228.9 211.7l3.6-1.1 1.6 1.7-3.6 1.1z" fill="#fc4000" stroke-dasharray="3.8 99"/>
<path d="M225.6 212.8l3.6-1.2 1.6 1.7-3.6 1.2z" fill="#fd4300" stroke-dasharray="3.8 99"/>
<path d="M222.3 214.2l3.6-1.5 1.6 1.7-3.6 1.4z" fill="#fd4900" stroke-dasharray="3.9 99"/>
<path d="M219 215.9l3.6-1.9 1.6 1.7-3.6 1.7z" fill="#fe5400" stroke-dasharray="4.1 99"/>
<path d="M215.7 217.9l3.6-2.2 1.6 1.5-3.6 2.1z" fill="#ff6600" stroke-dasharray="4.2 99"/>
<path d="M212.4 220.2l3.6-2.6 1.6 1.4-3.6 2.4z" fill="#ff7e00" stroke-dasharray="4.4 99"/>
<path d="M209.1 222.6l3.6-2.7 1.6 1.3-3.6 2.6z" fill="#ff9a00" stroke-dasharray="4.5 99"/>
<path d="M205.8 224.8l3.6-2.4 1.6 1.2-3.6 2.5z" fill="#ffad00" stroke-dasharray="4.4 99"/>
<path d="M202.5 226.4l3.6-1.8 1.6 1.3-3.6 1.9z" fill="#ffbc00" stroke-dasharray="4 99"/>
<path d="M199.2 227.5l3.6-1.2 1.6 1.4-3.6 1.4z" fill="#ffc400" stroke-dasharray="3.8 99"/>
<path d="M195.9 228.4l3.6-1 1.6 1.6-3.6 1z" fill="#ffc500" stroke-dasharray="3.8 99"/>
<path d="M192.6 229.3l3.6-1 1.6 1.6-3.6 1z" fill="#ffc500" stroke-dasharray="3.8 99"/>
<path d="M189.3 230.1l3.6-.9 1.7 1.6-3.7 1z" fill="#ffc500" stroke-dasharray="3.7 99"/>
<path d="M186 230.5l3.6-.4 1.7 1.6-3.7 .6z" fill="#ffc200" stroke-dasharray="3.6 99"/>
<path d="M182.7 230l3.6 .5 1.7 1.8-3.7-.2z" fill="#ffb600" stroke-dasharray="3.7 99"/>
<path d="M179.4 229.2l3.6 .9 1.7 2.1-3.7-.8z" fill="#ffa200" stroke-dasharray="3.7 99"/>
<path d="M176.1 228.6l3.6 .7 1.7 2.2-3.7-.8z" fill="#ff8500" stroke-dasharray="3.7 99"/>
<path d="M172.8 228.7l3.6-.1 1.7 2.2-3.7-.1z" fill="#ff6b00" stroke-dasharray="3.6 99"/>
<path d="M169.5 229.4l3.7-.7 1.6 1.9-3.7 .6z" fill="#ff5f00" stroke-dasharray="3.7 99"/>
<path d="M166.2 230.5l3.7-1.2 1.6 1.8-3.7 1.1z" fill="#ff5c00" stroke-dasharray="3.8 99"/>
<path d="M162.9 231.7l3.7-1.3 1.6 1.7-3.7 1.2z" fill="#ff6000" stroke-dasharray="3.9 99"/>
<path d="M159.6 233.2l3.7-1.7 1.6 1.7-3.7 1.5z" fill="#ff6800" stroke-dasharray="4 99"/>
<path d="M156.3 235.3l3.7-2.3 1.6 1.5-3.7 2.1z" fill="#ff7900" stroke-dasharray="4.3 99"/>
<path d="M153 238.3l3.7-3.2 1.6 1.3-3.7 2.9z" fill="#ff9800" stroke-dasharray="4.9 99"/>
<path d="M149.7 242.3l3.7-4.3 1.6 1-3.7 3.9z" fill="#ffb900" stroke-dasharray="5.7 99"/>
<path d="M146.4 247.3l3.7-5.5 1.6 .6-3.6 5.1z" fill="#f6d600" stroke-dasharray="6.6 99"/>
<path d="M143.1 253.3l3.7-6.5 1.6 .2-3.6 6.1z" fill="#cae400" stroke="none"/>
<path d="M139.8 259.3l3.7-6.6 1.6-.2-3.6 6.6z" fill="#56d900" stroke-dasharray="7.6 99"/>
<path d="M136.5 264.8l3.7-6 1.6-.3-3.6 6.2z" fill="#0dcf02" stroke="none"/>
<path d="M133.2 269.4l3.7-5 1.6-.2-3.6 5.2z" fill="#0aca05" stroke="none"/>
<path d="M129.9 273.5l3.7-4.5 1.6 0-3.6 4.5z" fill="#08c607" stroke="none"/>
<path d="M128.2 275.6l1.9-2.4 1.6 .1-1.9 2.3z" fill="#06c309" stroke="none"/>
<path d="M126.9 280.3l1.5-5.2 1.6 0-1.5 5.3z" fill="#04bf0b" stroke="none"/>
<path d="M125.7 285.8l1.3-6.1 1.6 .1-1.2 6.3z" fill="#00b90f" stroke-dasharray="6.2 99"/>
<path d="M124.8 290l1-4.6 1.7 .3-1.1 4.8z" fill="#003bbd" stroke="none"/>
<path d="M123.9 292.7l1-3 1.6 .5-1 3.1z" fill="#0007d3" stroke-dasharray="3.1 99"/>
<path d="M123.1 293.8l.9-1.2 1.6 .6-.9 1.2z" fill="#0001be" stroke-dasharray="1.5 99"/>
<path d="M242.9 258.4l.9 3.2 1.6 .6-.9-3z" fill="#0005cb" stroke="none"/>
<path d="M242 250l1 9.2 1.6 .8-1-8.8z" fill="#007182" stroke="none"/>
<path d="M241.1 237.4l1 13.9 1.6 1.2-1-13.4z" fill="#06c309" stroke="none"/>
<path d="M239.9 222l1.3 16.9 1.6 1.7-1.3-16.5z" fill="#38d600" stroke="none"/>
<path d="M238.6 211.6l1.4 11.4 1.7 2.1-1.5-11.3z" fill="#ffc300" stroke="none"/>
<path d="M236.8 211.4l1.9 .2 1.7 2.3-1.9-.5z" fill="#ff6000" stroke="none"/>
<path d="M233.5 212.2l3.7-.9 1.6 2-3.6 .7z" fill="#fe5500" stroke-dasharray="3.7 99"/>
<path d="M230.3 213.2l3.6-1.1 1.6 1.8-3.6 1z" fill="#fe5300" stroke-dasharray="3.8 99"/>
<path d="M227 214.3l3.6-1.2 1.6 1.7-3.6 1.2z" fill="#ff5600" stroke-dasharray="3.8 99"/>
<path d="M223.7 215.6l3.6-1.5 1.6 1.8-3.6 1.3z" fill="#ff5b00" stroke-dasharray="3.9 99"/>
<path d="M220.4 217.2l3.6-1.8 1.6 1.7-3.6 1.6z" fill="#ff6500" stroke-dasharray="4 99"/>
<path d="M217.1 219l3.6-2 1.6 1.5-3.6 2z" fill="#ff7500" stroke-dasharray="4.2 99"/>
<path d="M213.8 221.2l3.6-2.4 1.6 1.5-3.6 2.2z" fill="#ff8b00" stroke-dasharray="4.4 99"/>
<path d="M210.5 223.6l3.6-2.6 1.6 1.3-3.6 2.6z" fill="#ffa100" stroke-dasharray="4.5 99"/>
<path d="M207.2 225.9l3.6-2.5 1.6 1.2-3.6 2.5z" fill="#ffb500" stroke-dasharray="4.4 99"/>
<path d="M203.9 227.6l3.6-1.9 1.6 1.3-3.6 2.1z" fill="#ffc500" stroke-dasharray="4.1 99"/>
<path d="M200.6 228.8l3.6-1.3 1.6 1.4-3.6 1.5z" fill="#fdcb00" stroke-dasharray="3.9 99"/>
<path d="M197.3 229.7l3.6-1 1.6 1.6-3.6 1z" fill="#fdcc00" stroke-dasharray="3.8 99"/>
<path d="M194 230.7l3.6-1.1 1.6 1.6-3.6 1z" fill="#fccc00" stroke-dasharray="3.8 99"/>
<path d="M190.7 231.6l3.6-1 1.6 1.5-3.6 1.1z" fill="#fccc00" stroke-dasharray="3.8 99"/>
<path d="M187.4 232.1l3.6-.6 1.6 1.6-3.6 .7z" fill="#fdcb00" stroke-dasharray="3.7 99"/>
<path d="M184.1 231.8l3.6 .3 1.6 1.7-3.6 .1z" fill="#ffc500" stroke="none"/>
<path d="M180.8 231.1l3.6 .8 1.6 2-3.6-.6z" fill="#ffb300" stroke="none"/>
<path d="M177.5 230.4l3.6 .8 1.6 2.1-3.6-.7z" fill="#ff9d00" stroke="none"/>
<path d="M174.2 230.4l3.6 0 1.6 2.2-3.6-.3z" fill="#ff8400" stroke="none"/>
<path d="M170.9 231l3.6-.7 1.6 2-3.6 .5z" fill="#ff7500" stroke-dasharray="3.7 99"/>
<path d="M167.6 231.9l3.6-1 1.6 1.8-3.6 .9z" fill="#ff7000" stroke-dasharray="3.8 99"/>
<path d="M164.3 233l3.6-1.2 1.6 1.7-3.6 1.2z" fill="#ff7300" stroke-dasharray="3.8 99"/>
<path d="M161 234.5l3.6-1.6 1.6 1.7-3.6 1.4z" fill="#ff7900" stroke-dasharray="3.9 99"/>
<path d="M157.7 236.4l3.6-2.1 1.6 1.5-3.6 2z" fill="#ff8700" stroke-dasharray="4.2 99"/>
<path d="M154.4 239.2l3.6-3.1 1.6 1.4-3.6 2.7z" fill="#ff9e00" stroke-dasharray="4.7 99"/>
<path d="M151.1 242.8l3.6-4 1.6 1.1-3.6 3.6z" fill="#ffbc00" stroke="none"/>
<path d="M147.8 247.5l3.6-5.2 1.6 .8-3.6 4.7z" fill="#f6d500" stroke="none"/>
<path d="M144.5 253.1l3.6-6.2 1.6 .4-3.6 5.8z" fill="#d3e400" stroke-dasharray="7.2 99"/>
<path d="M141.2 259.1l3.6-6.6 1.7 0-3.7 6.4z" fill="#68db00" stroke="none"/>
<path d="M137.9 264.7l3.6-6.1 1.7-.3-3.7 6.2z" fill="#0ed001" stroke-dasharray="7.1 99"/>
<path d="M134.6 269.4l3.6-5.2 1.7-.1-3.7 5.3z" fill="#0bcb04" stroke-dasharray="6.3 99"/>
<path d="M131.3 273.5l3.6-4.5 1.7 0-3.7 4.5z" fill="#08c707" stroke-dasharray="5.8 99"/>
<path d="M129.6 275.6l1.9-2.3 1.6 0-1.9 2.3z" fill="#06c409" stroke-dasharray="3 99"/>
<path d="M128.3 280.3l1.4-5.2 1.6 0-1.4 5.4z" fill="#04c00b" stroke-dasharray="5.4 99"/>
<path d="M127.1 286.1l1.3-6.3 1.6 .1-1.3 6.5z" fill="#01ba0e" stroke="none"/>
<path d="M126.2 290.4l1-4.8 1.6 .3-1 5z" fill="#0041b6" stroke-dasharray="4.9 99"/>
<path d="M125.3 293.2l.9-3.1 1.7 .5-1 3.2z" fill="#0007d4" stroke="none"/>
<path d="M124.4 294.3l1-1.2 1.6 .6-1 1.3z" fill="#0001be" stroke="none"/>
<path d="M244.3 259.1l.9 3 1.6 .6-.9-2.8z" fill="#0004ca" stroke-dasharray="3.1 99"/>
<path d="M243.4 251.1l.9 8.8 1.7 .8-1-8.4z" fill="#006791" stroke-dasharray="8.9 99"/>
<path d="M242.4 238.8l1.1 13.5 1.6 1.2-1.1-12.9z" fill="#05c20a" stroke-dasharray="13.5 99"/>
<path d="M241.3 223.8l1.2 16.5 1.6 1.8-1.2-16.1z" fill="#19d300" stroke-dasharray="16.6 99"/>
<path d="M239.9 213.5l1.5 11.3 1.6 2.3-1.5-11.2z" fill="#fbce00" stroke-dasharray="11.4 99"/>
<path d="M238.2 213l1.9 .5 1.6 2.5-1.9-.9z" fill="#ff7c00" stroke-dasharray="2 99"/>
<path d="M234.9 213.7l3.6-.7 1.7 2.1-3.7 .4z" fill="#ff6c00" stroke-dasharray="3.7 99"/>
<path d="M231.6 214.7l3.6-1.1 1.7 1.8-3.7 1z" fill="#ff6700" stroke-dasharray="3.8 99"/>
<path d="M228.3 215.7l3.6-1.1 1.7 1.7-3.7 1.2z" fill="#ff6900" stroke-dasharray="3.8 99"/>
<path d="M225 217l3.6-1.4 1.7 1.7-3.7 1.3z" fill="#ff6e00" stroke-dasharray="3.9 99"/>
<path d="M221.7 218.5l3.7-1.7 1.6 1.7-3.7 1.5z" fill="#ff7600" stroke-dasharray="4 99"/>
<path d="M218.4 220.2l3.7-1.9 1.6 1.6-3.7 1.8z" fill="#ff8400" stroke-dasharray="4.1 99"/>
<path d="M215.1 222.3l3.7-2.3 1.6 1.5-3.7 2.2z" fill="#ff9800" stroke-dasharray="4.3 99"/>
<path d="M211.8 224.7l3.7-2.6 1.6 1.3-3.7 2.5z" fill="#ffa900" stroke-dasharray="4.4 99"/>
<path d="M208.5 227l3.7-2.6 1.6 1.3-3.7 2.5z" fill="#ffbc00" stroke-dasharray="4.4 99"/>
<path d="M205.2 228.8l3.7-2 1.6 1.2-3.7 2.2z" fill="#fdca00" stroke-dasharray="4.2 99"/>
<path d="M201.9 230.1l3.7-1.4 1.6 1.4-3.6 1.6z" fill="#facf00" stroke-dasharray="3.9 99"/>
<path d="M198.6 231.1l3.7-1.1 1.6 1.6-3.6 1.1z" fill="#f9d000" stroke-dasharray="3.8 99"/>
<path d="M195.3 232l3.7-1 1.6 1.6-3.6 1z" fill="#f9d100" stroke-dasharray="3.8 99"/>
<path d="M192 232.9l3.7-1 1.6 1.6-3.6 1z" fill="#f9d100" stroke-dasharray="3.8 99"/>
<path d="M188.7 233.6l3.7-.7 1.6 1.5-3.6 .9z" fill="#fad000" stroke-dasharray="3.7 99"/>
<path d="M185.4 233.6l3.7 0 1.6 1.7-3.6 .2z" fill="#fbcd00" stroke-dasharray="3.6 99"/>
<path d="M182.2 232.9l3.6 .7 1.6 2-3.6-.5z" fill="#ffc500" stroke-dasharray="3.7 99"/>
<path d="M178.9 232.2l3.6 .8 1.6 2.1-3.6-.7z" fill="#ffaf00" stroke-dasharray="3.7 99"/>
<path d="M175.6 232l3.6 .3 1.6 2.1-3.6-.4z" fill="#ff9b00" stroke-dasharray="3.6 99"/>
<path d="M172.3 232.5l3.6-.5 1.6 2-3.6 .3z" fill="#ff8b00" stroke-dasharray="3.7 99"/>
<path d="M169 233.4l3.6-1 1.6 1.8-3.6 .9z" fill="#ff8500" stroke-dasharray="3.8 99"/>
<path d="M165.7 234.5l3.6-1.2 1.6 1.7-3.6 1.1z" fill="#ff8600" stroke-dasharray="3.8 99"/>
<path d="M162.4 235.8l3.6-1.5 1.6 1.7-3.6 1.4z" fill="#ff8b00" stroke-dasharray="3.9 99"/>
<path d="M159.1 237.5l3.6-1.9 1.6 1.6-3.6 1.8z" fill="#ff9600" stroke-dasharray="4.1 99"/>
<path d="M155.8 240l3.6-2.7 1.6 1.4-3.6 2.5z" fill="#ffa600" stroke-dasharray="4.5 99"/>
<path d="M152.5 243.4l3.6-3.7 1.6 1.2-3.6 3.3z" fill="#ffbf00" stroke-dasharray="5.2 99"/>
<path d="M149.2 247.7l3.6-4.7 1.6 .8-3.6 4.3z" fill="#f7d500" stroke-dasharray="6 99"/>
<path d="M145.9 253.1l3.6-5.9 1.6 .5-3.6 5.4z" fill="#dbe500" stroke="none"/>
<path d="M142.6 258.9l3.6-6.4 1.6 0-3.6 6.2z" fill="#79dd00" stroke-dasharray="7.4 99"/>
<path d="M139.3 264.6l3.6-6.2 1.6-.2-3.6 6.2z" fill="#0ed101" stroke="none"/>
<path d="M136 269.4l3.6-5.3 1.6-.2-3.6 5.5z" fill="#0bcc04" stroke="none"/>
<path d="M132.7 273.5l3.6-4.5 1.6 0-3.6 4.6z" fill="#09c706" stroke="none"/>
<path d="M131 275.6l1.9-2.3 1.6 .1-1.9 2.3z" fill="#07c408" stroke="none"/>
<path d="M129.6 280.4l1.5-5.3 1.6 .1-1.5 5.4z" fill="#04c00b" stroke="none"/>
<path d="M128.5 286.3l1.2-6.4 1.7 .1-1.3 6.6z" fill="#01ba0e" stroke-dasharray="6.6 99"/>
<path d="M127.5 290.8l1.1-4.9 1.6 .3-1.1 5.1z" fill="#0048b0" stroke="none"/>
<path d="M126.6 293.7l1-3.2 1.6 .5-.9 3.3z" fill="#0007d5" stroke-dasharray="3.4 99"/>
<path d="M125.8 294.9l.9-1.3 1.6 .6-.9 1.3z" fill="#0001bf" stroke-dasharray="1.6 99"/>
<path d="M245.6 259.8l.9 2.8 1.7 .6-1-2.6z" fill="#0004c9" stroke="none"/>
<path d="M244.7 252.1l1 8.5 1.6 .7-.9-7.9z" fill="#005c9d" stroke="none"/>
<path d="M243.8 240.3l1 13 1.7 1.3-1.1-12.4z" fill="#05c10a" stroke="none"/>
<path d="M242.6 225.7l1.3 16.1 1.6 1.8-1.2-15.5z" fill="#0ed101" stroke="none"/>
<path d="M241.3 215.5l1.5 11.2 1.6 2.4-1.5-11.1z" fill="#f5d700" stroke="none"/>
<path d="M239.6 214.8l1.9 .8 1.6 2.5-1.9-1.1z" fill="#ff9900" stroke="none"/>
<path d="M236.3 215.2l3.6-.4 1.6 2.2-3.6 0z" fill="#ff8400" stroke-dasharray="3.7 99"/>
<path d="M233 216.2l3.6-1.1 1.6 1.8-3.6 1z" fill="#ff7c00" stroke-dasharray="3.8 99"/>
<path d="M229.7 217.2l3.6-1.1 1.6 1.7-3.6 1.1z" fill="#ff7d00" stroke-dasharray="3.8 99"/>
<path d="M226.4 218.4l3.6-1.3 1.6 1.7-3.6 1.2z" fill="#ff8100" stroke-dasharray="3.9 99"/>
<path d="M223.1 219.8l3.6-1.6 1.6 1.7-3.6 1.5z" fill="#ff8800" stroke-dasharray="3.9 99"/>
<path d="M219.8 221.5l3.6-1.9 1.6 1.6-3.6 1.8z" fill="#ff9400" stroke-dasharray="4.1 99"/>
<path d="M216.5 223.5l3.6-2.2 1.6 1.5-3.6 2z" fill="#ffa100" stroke-dasharray="4.2 99"/>
<path d="M213.2 225.7l3.6-2.5 1.6 1.4-3.6 2.4z" fill="#ffb100" stroke-dasharray="4.4 99"/>
<path d="M209.9 228l3.6-2.5 1.6 1.3-3.6 2.5z" fill="#ffc400" stroke-dasharray="4.4 99"/>
<path d="M206.6 230l3.6-2.2 1.6 1.3-3.6 2.3z" fill="#fbce00" stroke-dasharray="4.2 99"/>
<path d="M203.3 231.4l3.6-1.5 1.6 1.3-3.6 1.7z" fill="#f8d300" stroke-dasharray="4 99"/>
<path d="M200 232.4l3.6-1.1 1.6 1.5-3.6 1.2z" fill="#f6d500" stroke-dasharray="3.8 99"/>
<path d="M196.7 233.3l3.6-.9 1.7 1.5-3.7 1z" fill="#f6d600" stroke-dasharray="3.8 99"/>
<path d="M193.4 234.3l3.6-1.1 1.7 1.6-3.7 1.1z" fill="#f6d600" stroke-dasharray="3.8 99"/>
<path d="M190.1 235l3.6-.8 1.7 1.6-3.7 .9z" fill="#f6d500" stroke-dasharray="3.7 99"/>
<path d="M186.8 235.2l3.6-.2 1.7 1.7-3.7 .4z" fill="#f7d300" stroke="none"/>
<path d="M183.5 234.8l3.6 .5 1.7 1.8-3.7-.3z" fill="#fbce00" stroke="none"/>
<path d="M180.2 234l3.6 .8 1.7 2.1-3.7-.7z" fill="#ffc100" stroke="none"/>
<path d="M176.9 233.7l3.7 .4 1.6 2.1-3.7-.5z" fill="#ffac00" stroke="none"/>
<path d="M173.6 234l3.7-.3 1.6 2-3.7 .2z" fill="#ff9e00" stroke-dasharray="3.6 99"/>
<path d="M170.3 234.8l3.7-.9 1.6 1.9-3.7 .8z" fill="#ff9800" stroke-dasharray="3.7 99"/>
<path d="M167 235.9l3.7-1.2 1.6 1.8-3.7 1.1z" fill="#ff9800" stroke-dasharray="3.8 99"/>
<path d="M163.7 237.1l3.7-1.3 1.6 1.7-3.7 1.2z" fill="#ff9b00" stroke-dasharray="3.9 99"/>
<path d="M160.4 238.7l3.7-1.7 1.6 1.6-3.7 1.6z" fill="#ffa100" stroke-dasharray="4 99"/>
<path d="M157.1 241l3.7-2.5 1.6 1.5-3.7 2.2z" fill="#ffae00" stroke-dasharray="4.4 99"/>
<path d="M153.8 244.1l3.7-3.4 1.6 1.2-3.6 3.1z" fill="#ffc400" stroke="none"/>
<path d="M150.5 248.1l3.7-4.4 1.6 .9-3.6 4z" fill="#f6d500" stroke="none"/>
<path d="M147.2 253.1l3.7-5.5 1.6 .6-3.6 5z" fill="#e0e500" stroke-dasharray="6.6 99"/>
<path d="M143.9 258.8l3.7-6.3 1.6 .2-3.6 6z" fill="#88df00" stroke="none"/>
<path d="M140.6 264.4l3.7-6.2 1.6-.1-3.6 6.2z" fill="#0fd200" stroke-dasharray="7.2 99"/>
<path d="M137.3 269.4l3.7-5.5 1.6-.1-3.6 5.6z" fill="#0ccc03" stroke-dasharray="6.5 99"/>
<path d="M134.1 273.6l3.6-4.6 1.6-.1-3.6 4.7z" fill="#09c806" stroke-dasharray="5.9 99"/>
<path d="M132.3 275.6l1.9-2.3 1.6 .1-1.9 2.3z" fill="#07c508" stroke-dasharray="3 99"/>
<path d="M131 280.6l1.5-5.4 1.6 0-1.5 5.6z" fill="#05c10a" stroke-dasharray="5.6 99"/>
<path d="M129.8 286.6l1.3-6.6 1.6 .1-1.2 6.8z" fill="#01bb0e" stroke="none"/>
<path d="M128.9 291.2l1-5.1 1.7 .3-1.1 5.3z" fill="#004eab" stroke-dasharray="5.2 99"/>
<path d="M128 294.2l1-3.3 1.6 .5-1 3.4z" fill="#0007d6" stroke="none"/>
<path d="M127.2 295.4l.9-1.3 1.6 .6-.9 1.3z" fill="#0002bf" stroke="none"/>
<path d="M247 260.5l.9 2.6 1.6 .7-.9-2.5z" fill="#0004c8" stroke-dasharray="2.8 99"/>
<path d="M246.1 253.2l1 8 1.6 .8-1-7.4z" fill="#0050a8" stroke-dasharray="8 99"/>
<path d="M245.2 241.9l1 12.5 1.6 1.2-1-11.7z" fill="#04c00b" stroke-dasharray="12.5 99"/>
<path d="M244 227.7l1.3 15.6 1.6 2-1.3-15z" fill="#0dcf02" stroke-dasharray="15.7 99"/>
<path d="M242.7 217.6l1.4 11.1 1.7 2.6-1.5-11z" fill="#eee100" stroke-dasharray="11.2 99"/>
<path d="M240.9 216.7l1.9 1 1.7 2.8-1.9-1.5z" fill="#ffae00" stroke-dasharray="2.2 99"/>
<path d="M237.7 216.7l3.6 0 1.6 2.4-3.6-.5z" fill="#ff9b00" stroke-dasharray="3.6 99"/>
<path d="M234.4 217.7l3.6-1.1 1.6 1.9-3.6 .9z" fill="#ff9100" stroke-dasharray="3.8 99"/>
<path d="M231.1 218.7l3.6-1.1 1.6 1.7-3.6 1.1z" fill="#ff9100" stroke-dasharray="3.8 99"/>
<path d="M227.8 219.8l3.6-1.3 1.6 1.8-3.6 1.2z" fill="#ff9400" stroke-dasharray="3.8 99"/>
<path d="M224.5 221.1l3.6-1.4 1.6 1.7-3.6 1.3z" fill="#ff9900" stroke-dasharray="3.9 99"/>
<path d="M221.2 222.7l3.6-1.7 1.6 1.6-3.6 1.6z" fill="#ffa000" stroke-dasharray="4 99"/>
<path d="M217.9 224.6l3.6-2.1 1.6 1.6-3.6 1.9z" fill="#ffab00" stroke-dasharray="4.2 99"/>
<path d="M214.6 226.8l3.6-2.4 1.6 1.4-3.6 2.3z" fill="#ffb900" stroke-dasharray="4.3 99"/>
<path d="M211.3 229.1l3.6-2.5 1.6 1.3-3.6 2.4z" fill="#fec900" stroke-dasharray="4.4 99"/>
<path d="M208 231.2l3.6-2.3 1.6 1.2-3.6 2.4z" fill="#f9d100" stroke-dasharray="4.3 99"/>
<path d="M204.7 232.7l3.6-1.7 1.6 1.3-3.6 1.9z" fill="#f5d700" stroke-dasharray="4 99"/>
<path d="M201.4 233.8l3.6-1.2 1.6 1.4-3.6 1.3z" fill="#f3da00" stroke-dasharray="3.8 99"/>
<path d="M198.1 234.7l3.6-1 1.6 1.6-3.6 1z" fill="#f3da00" stroke-dasharray="3.8 99"/>
<path d="M194.8 235.6l3.6-1 1.6 1.6-3.6 1z" fill="#f3da00" stroke-dasharray="3.8 99"/>
<path d="M191.5 236.5l3.6-1 1.6 1.6-3.6 1z" fill="#f3da00" stroke-dasharray="3.7 99"/>
<path d="M188.2 236.8l3.6-.4 1.6 1.6-3.6 .7z" fill="#f4d900" stroke-dasharray="3.7 99"/>
<path d="M184.9 236.5l3.6 .4 1.6 1.8-3.6-.1z" fill="#f7d400" stroke-dasharray="3.6 99"/>
<path d="M181.6 235.9l3.6 .7 1.6 2-3.6-.6z" fill="#fccd00" stroke-dasharray="3.7 99"/>
<path d="M178.3 235.4l3.6 .5 1.6 2.2-3.6-.6z" fill="#ffbe00" stroke-dasharray="3.7 99"/>
<path d="M175 235.6l3.6-.2 1.6 2.1-3.6 0z" fill="#ffae00" stroke-dasharray="3.6 99"/>
<path d="M171.7 236.3l3.6-.8 1.6 1.9-3.6 .7z" fill="#ffa600" stroke-dasharray="3.7 99"/>
<path d="M168.4 237.3l3.6-1.1 1.6 1.8-3.6 1z" fill="#ffa500" stroke-dasharray="3.8 99"/>
<path d="M165.1 238.5l3.6-1.3 1.6 1.7-3.6 1.2z" fill="#ffa700" stroke-dasharray="3.8 99"/>
<path d="M161.8 240l3.6-1.7 1.6 1.7-3.6 1.5z" fill="#ffac00" stroke-dasharray="4 99"/>
<path d="M158.5 242l3.6-2.2 1.6 1.5-3.6 2z" fill="#ffb600" stroke-dasharray="4.3 99"/>
<path d="M155.2 244.8l3.6-3.1 1.6 1.3-3.6 2.8z" fill="#ffc900" stroke-dasharray="4.8 99"/>
<path d="M151.9 248.5l3.6-4 1.6 1-3.6 3.7z" fill="#f6d600" stroke-dasharray="5.4 99"/>
<path d="M148.6 253.2l3.6-5.1 1.7 .7-3.7 4.7z" fill="#e4e600" stroke="none"/>
<path d="M145.3 258.7l3.6-6.1 1.7 .3-3.7 5.7z" fill="#95e000" stroke-dasharray="7 99"/>
<path d="M142 264.3l3.6-6.2 1.7 0-3.7 6z" fill="#1bd300" stroke="none"/>
<path d="M138.7 269.4l3.6-5.6 1.7-.2-3.7 5.7z" fill="#0ccd03" stroke="none"/>
<path d="M135.4 273.6l3.6-4.7 1.7 0-3.7 4.8z" fill="#09c806" stroke="none"/>
<path d="M133.7 275.7l1.9-2.3 1.6 .1-1.9 2.3z" fill="#07c508" stroke="none"/>
<path d="M132.4 280.7l1.4-5.5 1.6 .1-1.4 5.6z" fill="#05c10a" stroke="none"/>
<path d="M131.2 286.9l1.3-6.8 1.6 .2-1.3 6.9z" fill="#01bb0e" stroke-dasharray="6.9 99"/>
<path d="M130.3 291.6l1-5.2 1.6 .3-1 5.4z" fill="#0053a6" stroke="none"/>
<path d="M129.4 294.7l.9-3.4 1.7 .5-1 3.5z" fill="#0008d7" stroke-dasharray="3.6 99"/>
<path d="M128.5 295.9l1-1.3 1.6 .6-.9 1.4z" fill="#0002bf" stroke-dasharray="1.6 99"/>
<path d="M248.4 261.2l.9 2.5 1.6 .6-.9-2.3z" fill="#0004c7" stroke="none"/>
<path d="M247.5 254.4l.9 7.5 1.7 .8-1-7z" fill="#0044b4" stroke="none"/>
<path d="M246.5 243.6l1.1 11.8 1.6 1.3-1.1-11z" fill="#03bf0c" stroke="none"/>
<path d="M245.4 229.9l1.2 15.1 1.7 2-1.3-14.4z" fill="#0cce03" stroke="none"/>
<path d="M244 219.9l1.5 11 1.6 2.7-1.4-10.8z" fill="#d8e500" stroke="none"/>
<path d="M242.3 218.6l1.9 1.4 1.6 2.9-1.9-1.8z" fill="#ffc600" stroke="none"/>
<path d="M239 218.3l3.6 .4 1.7 2.5-3.7-.9z" fill="#ffad00" stroke="none"/>
<path d="M235.7 219.1l3.6-.9 1.7 2-3.7 .7z" fill="#ffa100" stroke-dasharray="3.7 99"/>
<path d="M232.4 220.1l3.7-1.1 1.6 1.8-3.7 1.1z" fill="#ffa000" stroke-dasharray="3.8 99"/>
<path d="M229.1 221.2l3.7-1.2 1.6 1.8-3.7 1.1z" fill="#ffa200" stroke-dasharray="3.8 99"/>
<path d="M225.8 222.5l3.7-1.4 1.6 1.7-3.7 1.3z" fill="#ffa500" stroke-dasharray="3.9 99"/>
<path d="M222.5 224l3.7-1.7 1.6 1.7-3.7 1.5z" fill="#ffab00" stroke-dasharray="4 99"/>
<path d="M219.2 225.8l3.7-2 1.6 1.6-3.7 1.8z" fill="#ffb500" stroke-dasharray="4.1 99"/>
<path d="M215.9 227.9l3.7-2.3 1.6 1.4-3.7 2.2z" fill="#ffc200" stroke-dasharray="4.3 99"/>
<path d="M212.6 230.1l3.7-2.4 1.6 1.3-3.7 2.4z" fill="#fccd00" stroke-dasharray="4.4 99"/>
<path d="M209.3 232.3l3.7-2.4 1.6 1.3-3.6 2.4z" fill="#f7d400" stroke-dasharray="4.3 99"/>
<path d="M206 233.9l3.7-1.8 1.6 1.3-3.6 2z" fill="#f3db00" stroke-dasharray="4.1 99"/>
<path d="M202.7 235.1l3.7-1.3 1.6 1.4-3.6 1.5z" fill="#f0de00" stroke-dasharray="3.8 99"/>
<path d="M199.4 236l3.7-1 1.6 1.6-3.6 1z" fill="#f0df00" stroke-dasharray="3.8 99"/>
<path d="M196.1 237l3.7-1.1 1.6 1.6-3.6 1z" fill="#efdf00" stroke-dasharray="3.8 99"/>
<path d="M192.8 237.8l3.7-.9 1.6 1.5-3.6 1z" fill="#efdf00" stroke-dasharray="3.8 99"/>
<path d="M189.6 238.4l3.6-.6 1.6 1.6-3.6 .7z" fill="#f0de00" stroke-dasharray="3.7 99"/>
<path d="M186.3 238.3l3.6 .1 1.6 1.7-3.6 .1z" fill="#f2db00" stroke="none"/>
<path d="M183 237.7l3.6 .6 1.6 2-3.6-.5z" fill="#f7d400" stroke="none"/>
<path d="M179.7 237.1l3.6 .6 1.6 2.1-3.6-.6z" fill="#fdcb00" stroke="none"/>
<path d="M176.4 237.2l3.6-.1 1.6 2.1-3.6-.1z" fill="#ffbe00" stroke-dasharray="3.6 99"/>
<path d="M173.1 237.8l3.6-.7 1.6 1.9-3.6 .6z" fill="#ffb500" stroke-dasharray="3.7 99"/>
<path d="M169.8 238.8l3.6-1.1 1.6 1.8-3.6 1z" fill="#ffb200" stroke-dasharray="3.8 99"/>
<path d="M166.5 239.9l3.6-1.3 1.6 1.7-3.6 1.2z" fill="#ffb300" stroke-dasharray="3.8 99"/>
<path d="M163.2 241.2l3.6-1.5 1.6 1.7-3.6 1.4z" fill="#ffb700" stroke-dasharray="3.9 99"/>
<path d="M159.9 243.1l3.6-2 1.6 1.5-3.6 1.9z" fill="#ffc000" stroke-dasharray="4.2 99"/>
<path d="M156.6 245.7l3.6-2.9 1.6 1.4-3.6 2.6z" fill="#fdcc00" stroke-dasharray="4.6 99"/>
<path d="M153.3 249.1l3.6-3.8 1.6 1.1-3.6 3.4z" fill="#f5d700" stroke="none"/>
<path d="M150 253.4l3.6-4.8 1.6 .8-3.6 4.4z" fill="#e6e600" stroke-dasharray="6 99"/>
<path d="M146.7 258.6l3.6-5.7 1.6 .4-3.6 5.4z" fill="#9de000" stroke="none"/>
<path d="M143.4 264.2l3.6-6.1 1.6 0-3.6 6z" fill="#2ad500" stroke-dasharray="7.1 99"/>
<path d="M140.1 269.3l3.6-5.7 1.6-.1-3.6 5.8z" fill="#0dce02" stroke-dasharray="6.7 99"/>
<path d="M136.8 273.7l3.6-4.8 1.6-.1-3.6 5z" fill="#0ac905" stroke-dasharray="6 99"/>
<path d="M135.1 275.8l1.9-2.3 1.6 0-1.9 2.4z" fill="#08c607" stroke-dasharray="3 99"/>
<path d="M133.7 280.9l1.5-5.6 1.6 .1-1.5 5.7z" fill="#05c20a" stroke-dasharray="5.8 99"/>
<path d="M132.6 287.2l1.2-6.9 1.7 .2-1.3 7z" fill="#01bb0e" stroke="none"/>
<path d="M131.6 292l1.1-5.3 1.6 .3-1.1 5.5z" fill="#0058a1" stroke-dasharray="5.4 99"/>
<path d="M130.7 295.2l1-3.5 1.6 .5-.9 3.6z" fill="#0008d8" stroke="none"/>
<path d="M129.9 296.5l.9-1.4 1.6 .6-.9 1.4z" fill="#0002bf" stroke="none"/>
<path d="M249.7 261.9l1 2.3 1.6 .6-1-2.1z" fill="#0003c6" stroke-dasharray="2.4 99"/>
<path d="M248.8 255.5l1 7 1.6 .8-.9-6.4z" fill="#0038bf" stroke-dasharray="7.1 99"/>
<path d="M247.9 245.3l1 11.2 1.7 1.3-1.1-10.4z" fill="#03be0c" stroke-dasharray="11.2 99"/>
<path d="M246.7 232.1l1.3 14.5 1.6 2.1-1.2-13.7z" fill="#0bcc04" stroke-dasharray="14.6 99"/>
<path d="M245.4 222.3l1.5 10.8 1.6 2.8-1.5-10.5z" fill="#b2e200" stroke-dasharray="10.9 99"/>
<path d="M243.7 220.7l1.9 1.8 1.6 3.1-1.9-2.2z" fill="#f8d200" stroke="none"/>
<path d="M240.4 220l3.6 .8 1.6 2.7-3.6-1.5z" fill="#ffc100" stroke-dasharray="3.7 99"/>
<path d="M237.1 220.6l3.6-.7 1.6 2.1-3.6 .4z" fill="#ffb000" stroke-dasharray="3.7 99"/>
<path d="M233.8 221.6l3.6-1.1 1.6 1.8-3.6 1.1z" fill="#ffae00" stroke-dasharray="3.8 99"/>
<path d="M230.5 222.7l3.6-1.2 1.6 1.8-3.6 1.1z" fill="#ffaf00" stroke-dasharray="3.8 99"/>
<path d="M227.2 223.9l3.6-1.4 1.6 1.8-3.6 1.2z" fill="#ffb100" stroke-dasharray="3.9 99"/>
<path d="M223.9 225.3l3.6-1.6 1.6 1.7-3.6 1.5z" fill="#ffb600" stroke-dasharray="4 99"/>
<path d="M220.6 227l3.6-1.9 1.6 1.6-3.6 1.8z" fill="#ffbf00" stroke-dasharray="4.1 99"/>
<path d="M217.3 229l3.6-2.2 1.6 1.5-3.6 2z" fill="#fec900" stroke-dasharray="4.2 99"/>
<path d="M214 231.2l3.6-2.4 1.6 1.3-3.6 2.4z" fill="#fad000" stroke-dasharray="4.4 99"/>
<path d="M210.7 233.4l3.6-2.4 1.6 1.2-3.6 2.4z" fill="#f5d800" stroke-dasharray="4.3 99"/>
<path d="M207.4 235.2l3.6-2 1.6 1.2-3.6 2.1z" fill="#f0de00" stroke-dasharray="4.1 99"/>
<path d="M204.1 236.4l3.6-1.4 1.7 1.4-3.7 1.5z" fill="#ede200" stroke-dasharray="3.9 99"/>
<path d="M200.8 237.4l3.6-1.1 1.7 1.5-3.7 1.1z" fill="#ece400" stroke-dasharray="3.8 99"/>
<path d="M197.5 238.3l3.6-1 1.7 1.6-3.7 .9z" fill="#ece400" stroke-dasharray="3.8 99"/>
<path d="M194.2 239.2l3.6-1 1.7 1.5-3.7 1.1z" fill="#ece400" stroke-dasharray="3.8 99"/>
<path d="M190.9 239.9l3.6-.8 1.7 1.6-3.7 .9z" fill="#ede400" stroke-dasharray="3.7 99"/>
<path d="M187.6 240l3.6-.1 1.7 1.6-3.7 .4z" fill="#eee100" stroke-dasharray="3.6 99"/>
<path d="M184.3 239.5l3.7 .5 1.6 1.9-3.7-.4z" fill="#f2db00" stroke-dasharray="3.7 99"/>
<path d="M181 238.9l3.7 .6 1.6 2.1-3.7-.6z" fill="#f8d300" stroke-dasharray="3.7 99"/>
<path d="M177.7 238.8l3.7 .1 1.6 2.1-3.7-.3z" fill="#fdcb00" stroke="none"/>
<path d="M174.4 239.3l3.7-.6 1.6 2-3.7 .4z" fill="#ffc300" stroke-dasharray="3.7 99"/>
<path d="M171.1 240.2l3.7-1 1.6 1.8-3.7 .9z" fill="#ffbf00" stroke-dasharray="3.8 99"/>
<path d="M167.8 241.3l3.7-1.2 1.6 1.7-3.7 1.1z" fill="#ffc000" stroke-dasharray="3.8 99"/>
<path d="M164.5 242.5l3.7-1.4 1.6 1.7-3.6 1.3z" fill="#ffc300" stroke-dasharray="3.9 99"/>
<path d="M161.2 244.2l3.7-1.8 1.6 1.6-3.6 1.6z" fill="#fec900" stroke-dasharray="4.1 99"/>
<path d="M157.9 246.6l3.7-2.6 1.6 1.4-3.6 2.3z" fill="#facf00" stroke-dasharray="4.4 99"/>
<path d="M154.6 249.7l3.7-3.4 1.6 1.2-3.6 3.1z" fill="#f4d900" stroke-dasharray="5 99"/>
<path d="M151.3 253.7l3.7-4.4 1.6 .9-3.6 4z" fill="#e6e600" stroke="none"/>
<path d="M148 258.6l3.7-5.4 1.6 .6-3.6 5z" fill="#a3e100" stroke-dasharray="6.5 99"/>
<path d="M144.7 264.1l3.7-6 1.6 .2-3.6 5.7z" fill="#39d600" stroke="none"/>
<path d="M141.5 269.3l3.6-5.8 1.6 0-3.6 5.7z" fill="#0dcf02" stroke="none"/>
<path d="M138.2 273.7l3.6-4.9 1.6 0-3.6 5z" fill="#0aca05" stroke="none"/>
<path d="M136.4 275.9l1.9-2.4 1.6 .1-1.9 2.4z" fill="#08c607" stroke="none"/>
<path d="M135.1 281.1l1.5-5.7 1.6 .1-1.5 5.8z" fill="#06c209" stroke="none"/>
<path d="M133.9 287.5l1.3-7.1 1.6 .3-1.2 7.2z" fill="#02bc0d" stroke-dasharray="7.1 99"/>
<path d="M133 292.4l1-5.4 1.7 .4-1.1 5.5z" fill="#005d9c" stroke="none"/>
<path d="M132.1 295.7l1-3.6 1.6 .5-1 3.7z" fill="#0008d8" stroke-dasharray="3.7 99"/>
<path d="M131.3 297l.9-1.4 1.6 .6-.9 1.4z" fill="#0002c0" stroke-dasharray="1.7 99"/>
<path d="M251.1 262.6l.9 2.1 1.6 .6-.9-1.8z" fill="#0003c5" stroke="none"/>
<path d="M250.2 256.7l1 6.5 1.6 .8-1-5.9z" fill="#002bcb" stroke="none"/>
<path d="M249.3 247.1l1 10.5 1.6 1.3-1-9.7z" fill="#02bc0d" stroke="none"/>
<path d="M248.1 234.5l1.3 13.9 1.6 2-1.3-13z" fill="#0aca05" stroke="none"/>
<path d="M246.8 224.9l1.4 10.6 1.7 2.9-1.5-10.3z" fill="#85de00" stroke="none"/>
<path d="M245.1 222.9l1.8 2.2 1.7 3.2-1.9-2.5z" fill="#f0de00" stroke="none"/>
<path d="M241.8 221.7l3.6 1.4 1.6 2.8-3.6-2.1z" fill="#fbce00" stroke="none"/>
<path d="M238.5 222.1l3.6-.4 1.6 2.1-3.6 .1z" fill="#ffc000" stroke-dasharray="3.7 99"/>
<path d="M235.2 223.1l3.6-1.1 1.6 1.8-3.6 1z" fill="#ffbb00" stroke-dasharray="3.8 99"/>
<path d="M231.9 224.1l3.6-1.1 1.6 1.7-3.6 1.1z" fill="#ffbc00" stroke-dasharray="3.8 99"/>
<path d="M228.6 225.3l3.6-1.3 1.6 1.7-3.6 1.2z" fill="#ffbe00" stroke-dasharray="3.8 99"/>
<path d="M225.3 226.6l3.6-1.5 1.6 1.7-3.6 1.4z" fill="#ffc200" stroke-dasharray="3.9 99"/>
<path d="M222 228.2l3.6-1.7 1.6 1.6-3.6 1.6z" fill="#ffc900" stroke-dasharray="4 99"/>
<path d="M218.7 230.1l3.6-2 1.6 1.5-3.6 1.9z" fill="#fbcd00" stroke-dasharray="4.2 99"/>
<path d="M215.4 232.3l3.6-2.4 1.6 1.4-3.6 2.3z" fill="#f7d400" stroke-dasharray="4.3 99"/>
<path d="M212.1 234.4l3.6-2.3 1.6 1.2-3.6 2.4z" fill="#f2db00" stroke-dasharray="4.3 99"/>
<path d="M208.8 236.3l3.6-2.1 1.6 1.3-3.6 2.2z" fill="#eee200" stroke-dasharray="4.2 99"/>
<path d="M205.5 237.7l3.6-1.5 1.6 1.3-3.6 1.7z" fill="#e9e600" stroke-dasharray="3.9 99"/>
<path d="M202.2 238.7l3.6-1.1 1.6 1.5-3.6 1.2z" fill="#e3e500" stroke-dasharray="3.8 99"/>
<path d="M198.9 239.6l3.6-1 1.6 1.6-3.6 1z" fill="#e2e500" stroke-dasharray="3.8 99"/>
<path d="M195.6 240.5l3.6-1 1.6 1.6-3.6 1z" fill="#e2e500" stroke-dasharray="3.8 99"/>
<path d="M192.3 241.3l3.6-.8 1.6 1.5-3.6 1z" fill="#e2e500" stroke-dasharray="3.7 99"/>
<path d="M189 241.6l3.6-.3 1.6 1.6-3.6 .5z" fill="#e8e600" stroke="none"/>
<path d="M185.7 241.2l3.6 .4 1.6 1.8-3.6-.1z" fill="#eee200" stroke="none"/>
<path d="M182.4 240.7l3.6 .6 1.6 2-3.6-.5z" fill="#f3da00" stroke="none"/>
<path d="M179.1 240.4l3.6 .3 1.6 2.1-3.6-.4z" fill="#f8d200" stroke-dasharray="3.6 99"/>
<path d="M175.8 240.8l3.6-.4 1.6 2-3.6 .2z" fill="#fccc00" stroke-dasharray="3.7 99"/>
<path d="M172.5 241.6l3.6-.9 1.6 1.9-3.6 .8z" fill="#feca00" stroke-dasharray="3.7 99"/>
<path d="M169.2 242.7l3.6-1.2 1.6 1.8-3.6 1.1z" fill="#feca00" stroke-dasharray="3.8 99"/>
<path d="M165.9 243.9l3.6-1.3 1.6 1.6-3.6 1.3z" fill="#fdcb00" stroke-dasharray="3.9 99"/>
<path d="M162.6 245.4l3.6-1.7 1.6 1.6-3.6 1.6z" fill="#fbcd00" stroke-dasharray="4 99"/>
<path d="M159.3 247.6l3.6-2.4 1.6 1.5-3.6 2.1z" fill="#f8d200" stroke-dasharray="4.3 99"/>
<path d="M156 250.4l3.6-3.1 1.7 1.2-3.7 2.9z" fill="#f2db00" stroke="none"/>
<path d="M152.7 254.1l3.6-4 1.7 1-3.7 3.7z" fill="#e4e500" stroke-dasharray="5.5 99"/>
<path d="M149.4 258.8l3.6-5.1 1.7 .6-3.7 4.7z" fill="#a7e100" stroke="none"/>
<path d="M146.1 264l3.6-5.8 1.7 .3-3.7 5.5z" fill="#45d800" stroke-dasharray="6.8 99"/>
<path d="M142.8 269.2l3.6-5.7 1.7 0-3.7 5.7z" fill="#0dcf02" stroke-dasharray="6.8 99"/>
<path d="M139.5 273.8l3.6-5 1.7-.1-3.7 5.2z" fill="#0aca05" stroke-dasharray="6.2 99"/>
<path d="M137.8 276l1.9-2.4 1.6 0-1.9 2.5z" fill="#08c707" stroke-dasharray="3.1 99"/>
<path d="M136.5 281.3l1.4-5.8 1.6 .1-1.4 5.9z" fill="#06c309" stroke-dasharray="6 99"/>
<path d="M135.3 287.8l1.3-7.2 1.6 .3-1.3 7.3z" fill="#02bc0d" stroke="none"/>
<path d="M134.4 292.9l1-5.6 1.6 .4-1 5.7z" fill="#006298" stroke-dasharray="5.7 99"/>
<path d="M133.5 296.2l.9-3.7 1.7 .5-1 3.8z" fill="#0008d9" stroke="none"/>
<path d="M132.6 297.5l1-1.4 1.6 .6-.9 1.5z" fill="#0002c0" stroke="none"/>
<path d="M252.5 263.3l.9 1.9 1.6 .6-.9-1.6z" fill="#0003c4" stroke-dasharray="2.1 99"/>
<path d="M251.6 257.9l.9 6 1.7 .7-1-5.4z" fill="#001fd6" stroke-dasharray="6.1 99"/>
<path d="M250.6 248.9l1.1 9.8 1.6 1.3-1.1-9z" fill="#01bb0e" stroke-dasharray="9.9 99"/>
<path d="M249.5 237l1.2 13.1 1.7 2-1.3-12.1z" fill="#09c806" stroke-dasharray="13.2 99"/>
<path d="M248.1 227.6l1.5 10.3 1.6 3-1.4-10z" fill="#4dd800" stroke-dasharray="10.4 99"/>
<path d="M246.4 225.3l1.9 2.5 1.6 3.4-1.9-2.9z" fill="#dde500" stroke="none"/>
<path d="M243.1 223.5l3.6 2 1.7 3-3.7-2.7z" fill="#f4d800" stroke-dasharray="4.1 99"/>
<path d="M239.8 223.6l3.7-.1 1.6 2.3-3.7-.3z" fill="#fdcc00" stroke-dasharray="3.6 99"/>
<path d="M236.5 224.6l3.7-1 1.6 1.8-3.7 .9z" fill="#ffc800" stroke-dasharray="3.8 99"/>
<path d="M233.2 225.6l3.7-1.1 1.6 1.7-3.7 1.1z" fill="#ffc800" stroke-dasharray="3.8 99"/>
<path d="M229.9 226.7l3.7-1.3 1.6 1.8-3.7 1.1z" fill="#fec900" stroke-dasharray="3.8 99"/>
<path d="M226.6 228l3.7-1.5 1.6 1.7-3.7 1.4z" fill="#fdcb00" stroke-dasharray="3.9 99"/>
<path d="M223.3 229.5l3.7-1.7 1.6 1.6-3.7 1.6z" fill="#fbcd00" stroke-dasharray="4 99"/>
<path d="M220 231.3l3.7-2 1.6 1.5-3.7 1.9z" fill="#f9d200" stroke-dasharray="4.1 99"/>
<path d="M216.7 233.4l3.7-2.3 1.6 1.4-3.6 2.2z" fill="#f5d700" stroke-dasharray="4.3 99"/>
<path d="M213.4 235.5l3.7-2.4 1.6 1.3-3.6 2.4z" fill="#f0de00" stroke-dasharray="4.3 99"/>
<path d="M210.1 237.5l3.7-2.2 1.6 1.3-3.6 2.2z" fill="#ece500" stroke-dasharray="4.2 99"/>
<path d="M206.8 239l3.7-1.7 1.6 1.3-3.6 1.8z" fill="#dde500" stroke-dasharray="4 99"/>
<path d="M203.5 240l3.7-1.1 1.6 1.4-3.6 1.3z" fill="#d4e400" stroke-dasharray="3.8 99"/>
<path d="M200.2 240.9l3.7-1 1.6 1.6-3.6 1z" fill="#d2e400" stroke-dasharray="3.8 99"/>
<path d="M197 241.9l3.6-1.1 1.6 1.6-3.6 1z" fill="#d2e400" stroke-dasharray="3.8 99"/>
<path d="M193.7 242.7l3.6-.9 1.6 1.5-3.6 1z" fill="#d2e400" stroke-dasharray="3.7 99"/>
<path d="M190.4 243.1l3.6-.4 1.6 1.6-3.6 .6z" fill="#d6e500" stroke-dasharray="3.7 99"/>
<path d="M187.1 243l3.6 .2 1.6 1.7-3.6 0z" fill="#e4e500" stroke-dasharray="3.6 99"/>
<path d="M183.8 242.4l3.6 .6 1.6 2-3.6-.5z" fill="#eee100" stroke-dasharray="3.7 99"/>
<path d="M180.5 242.1l3.6 .4 1.6 2-3.6-.4z" fill="#f4d900" stroke="none"/>
<path d="M177.2 242.4l3.6-.3 1.6 2-3.6 .1z" fill="#f8d300" stroke-dasharray="3.6 99"/>
<path d="M173.9 243.1l3.6-.8 1.6 1.8-3.6 .7z" fill="#fad000" stroke-dasharray="3.7 99"/>
<path d="M170.6 244.1l3.6-1.1 1.6 1.7-3.6 1.1z" fill="#facf00" stroke-dasharray="3.8 99"/>
<path d="M167.3 245.2l3.6-1.2 1.6 1.7-3.6 1.2z" fill="#fad000" stroke-dasharray="3.8 99"/>
<path d="M164 246.7l3.6-1.6 1.6 1.6-3.6 1.5z" fill="#f8d200" stroke-dasharray="4 99"/>
<path d="M160.7 248.6l3.6-2.1 1.6 1.5-3.6 1.9z" fill="#f6d600" stroke-dasharray="4.2 99"/>
<path d="M157.4 251.2l3.6-2.9 1.6 1.4-3.6 2.6z" fill="#f1de00" stroke-dasharray="4.6 99"/>
<path d="M154.1 254.7l3.6-3.8 1.6 1.1-3.6 3.4z" fill="#e0e500" stroke="none"/>
<path d="M150.8 259l3.6-4.8 1.6 .8-3.6 4.3z" fill="#a9e100" stroke-dasharray="6 99"/>
<path d="M147.5 264l3.6-5.5 1.6 .4-3.6 5.2z" fill="#4fd900" stroke="none"/>
<path d="M144.2 269.2l3.6-5.7 1.6 .1-3.6 5.6z" fill="#0ed001" stroke="none"/>
<path d="M140.9 273.9l3.6-5.2 1.6 0-3.6 5.2z" fill="#0bcb04" stroke="none"/>
<path d="M139.2 276.1l1.9-2.5 1.6 .1-1.9 2.5z" fill="#09c806" stroke="none"/>
<path d="M137.8 281.5l1.5-5.9 1.6 .1-1.5 6z" fill="#06c309" stroke="none"/>
<path d="M136.7 288.1l1.2-7.3 1.7 .3-1.3 7.4z" fill="#02bc0d" stroke-dasharray="7.4 99"/>
<path d="M135.7 293.3l1.1-5.7 1.6 .4-1.1 5.8z" fill="#006693" stroke="none"/>
<path d="M134.8 296.7l1-3.7 1.6 .5-.9 3.8z" fill="#0008da" stroke-dasharray="3.9 99"/>
<path d="M134 298.1l.9-1.5 1.6 .6-.9 1.5z" fill="#0002c0" stroke-dasharray="1.8 99"/>
<path d="M253.8 264l1 1.7 1.6 .6-1-1.5z" fill="#0003c3" stroke="none"/>
<path d="M252.9 259l1 5.5 1.6 .8-.9-5z" fill="#0013e1" stroke="none"/>
<path d="M252 250.7l1 9.1 1.7 1.3-1.1-8.3z" fill="#01ba0e" stroke="none"/>
<path d="M250.8 239.5l1.3 12.3 1.6 2-1.2-11.3z" fill="#08c607" stroke="none"/>
<path d="M249.5 230.4l1.5 10 1.6 2.9-1.5-9.5z" fill="#12d200" stroke="none"/>
<path d="M247.8 227.8l1.9 2.9 1.6 3.4-1.9-3.2z" fill="#b1e200" stroke="none"/>
<path d="M244.5 225.4l3.6 2.6 1.6 3.2-3.6-3.4z" fill="#ede200" stroke="none"/>
<path d="M241.2 225.2l3.6 .2 1.6 2.5-3.6-.8z" fill="#f8d300" stroke="none"/>
<path d="M237.9 226l3.6-.9 1.6 2-3.6 .7z" fill="#fbce00" stroke-dasharray="3.7 99"/>
<path d="M234.6 227l3.6-1.1 1.6 1.8-3.6 1z" fill="#fbce00" stroke-dasharray="3.8 99"/>
<path d="M231.3 228.1l3.6-1.2 1.6 1.7-3.6 1.2z" fill="#fbcf00" stroke-dasharray="3.8 99"/>
<path d="M228 229.3l3.6-1.3 1.6 1.7-3.6 1.2z" fill="#fad000" stroke-dasharray="3.9 99"/>
<path d="M224.7 230.8l3.6-1.6 1.6 1.6-3.6 1.5z" fill="#f8d200" stroke-dasharray="4 99"/>
<path d="M221.4 232.5l3.6-1.9 1.6 1.6-3.6 1.7z" fill="#f6d600" stroke-dasharray="4.1 99"/>
<path d="M218.1 234.5l3.6-2.2 1.6 1.4-3.6 2.1z" fill="#f2db00" stroke-dasharray="4.2 99"/>
<path d="M214.8 236.6l3.6-2.4 1.6 1.4-3.6 2.3z" fill="#eee200" stroke-dasharray="4.3 99"/>
<path d="M211.5 238.6l3.6-2.2 1.7 1.3-3.7 2.2z" fill="#e3e500" stroke-dasharray="4.2 99"/>
<path d="M208.2 240.2l3.6-1.8 1.7 1.3-3.7 1.9z" fill="#d0e400" stroke-dasharray="4 99"/>
<path d="M204.9 241.3l3.6-1.2 1.7 1.4-3.7 1.4z" fill="#c6e300" stroke-dasharray="3.8 99"/>
<path d="M201.6 242.3l3.6-1 1.7 1.5-3.7 1z" fill="#c2e300" stroke-dasharray="3.8 99"/>
<path d="M198.3 243.2l3.6-1 1.7 1.5-3.7 1z" fill="#c2e300" stroke-dasharray="3.8 99"/>
<path d="M195 244.1l3.6-1 1.7 1.5-3.7 1.1z" fill="#c2e300" stroke-dasharray="3.8 99"/>
<path d="M191.7 244.7l3.7-.7 1.6 1.6-3.7 .8z" fill="#c5e300" stroke-dasharray="3.7 99"/>
<path d="M188.4 244.6l3.7 .1 1.6 1.6-3.7 .3z" fill="#cfe400" stroke="none"/>
<path d="M185.1 244.2l3.7 .5 1.6 1.9-3.7-.4z" fill="#e4e600" stroke="none"/>
<path d="M181.8 243.8l3.7 .4 1.6 2.1-3.7-.5z" fill="#efe000" stroke-dasharray="3.7 99"/>
<path d="M178.5 243.9l3.7-.1 1.6 2-3.7 0z" fill="#f3da00" stroke-dasharray="3.6 99"/>
<path d="M175.2 244.6l3.7-.7 1.6 1.8-3.7 .6z" fill="#f6d600" stroke-dasharray="3.7 99"/>
<path d="M171.9 245.5l3.7-1 1.6 1.7-3.6 1z" fill="#f6d500" stroke-dasharray="3.8 99"/>
<path d="M168.6 246.6l3.7-1.2 1.6 1.7-3.6 1.1z" fill="#f6d500" stroke-dasharray="3.8 99"/>
<path d="M165.3 247.9l3.7-1.4 1.6 1.6-3.6 1.4z" fill="#f5d700" stroke-dasharray="3.9 99"/>
<path d="M162 249.7l3.7-1.9 1.6 1.5-3.6 1.8z" fill="#f3da00" stroke-dasharray="4.1 99"/>
<path d="M158.7 252.1l3.7-2.6 1.6 1.3-3.6 2.4z" fill="#efe100" stroke-dasharray="4.5 99"/>
<path d="M155.4 255.3l3.7-3.5 1.6 1.1-3.6 3.2z" fill="#dbe500" stroke-dasharray="5 99"/>
<path d="M152.2 259.3l3.6-4.4 1.6 .8-3.6 4.1z" fill="#a9e100" stroke="none"/>
<path d="M148.9 264.1l3.6-5.3 1.6 .5-3.6 4.9z" fill="#57d900" stroke-dasharray="6.4 99"/>
<path d="M145.6 269.2l3.6-5.6 1.6 .1-3.6 5.5z" fill="#0ed001" stroke-dasharray="6.7 99"/>
<path d="M142.3 273.9l3.6-5.2 1.6 0-3.6 5.3z" fill="#0bcc04" stroke-dasharray="6.4 99"/>
<path d="M140.5 276.2l1.9-2.5 1.6 0-1.9 2.6z" fill="#09c806" stroke-dasharray="3.1 99"/>
<path d="M139.2 281.7l1.5-6.1 1.6 .2-1.5 6.1z" fill="#07c408" stroke-dasharray="6.2 99"/>
<path d="M138.1 288.5l1.2-7.5 1.6 .2-1.2 7.7z" fill="#02bd0d" stroke="none"/>
<path d="M137.1 293.7l1-5.8 1.7 .4-1.1 6z" fill="#006a8c" stroke-dasharray="5.9 99"/>
<path d="M136.2 297.2l1-3.8 1.6 .5-1 3.9z" fill="#0009db" stroke="none"/>
<path d="M135.4 298.6l.9-1.5 1.6 .6-.9 1.5z" fill="#0002c0" stroke="none"/>
<path d="M255.2 264.7l.9 1.5 1.6 .7-.9-1.4z" fill="#0002c2" stroke="none"/>
<path d="M254.3 260.1l1 5.1 1.6 .7-1-4.4z" fill="#000ce6" stroke-dasharray="5.1 99"/>
<path d="M253.4 252.5l1 8.4 1.6 1.2-1-7.5z" fill="#00b90f" stroke-dasharray="8.5 99"/>
<path d="M252.2 242l1.3 11.5 1.6 2-1.3-10.6z" fill="#07c408" stroke-dasharray="11.6 99"/>
<path d="M250.9 233.3l1.4 9.6 1.7 2.9-1.5-9.1z" fill="#0ed001" stroke-dasharray="9.7 99"/>
<path d="M249.2 230.4l1.8 3.2 1.7 3.4-1.9-3.3z" fill="#7ede00" stroke="none"/>
<path d="M245.9 227.4l3.6 3.3 1.6 3.3-3.6-4.1z" fill="#d2e400" stroke="none"/>
<path d="M242.6 226.8l3.6 .7 1.6 2.6-3.6-1.3z" fill="#f2db00" stroke-dasharray="3.7 99"/>
<path d="M239.3 227.5l3.6-.7 1.6 2-3.6 .5z" fill="#f7d500" stroke-dasharray="3.7 99"/>
<path d="M236 228.5l3.6-1.1 1.6 1.8-3.6 1z" fill="#f7d400" stroke-dasharray="3.8 99"/>
<path d="M232.7 229.5l3.6-1.1 1.6 1.7-3.6 1.1z" fill="#f7d400" stroke-dasharray="3.8 99"/>
<path d="M229.4 230.7l3.6-1.3 1.6 1.7-3.6 1.2z" fill="#f6d500" stroke-dasharray="3.9 99"/>
<path d="M226.1 232.1l3.6-1.5 1.6 1.6-3.6 1.4z" fill="#f5d700" stroke-dasharray="3.9 99"/>
<path d="M222.8 233.7l3.6-1.8 1.6 1.6-3.6 1.7z" fill="#f3da00" stroke-dasharray="4 99"/>
<path d="M219.5 235.6l3.6-2.1 1.6 1.5-3.6 1.9z" fill="#f0df00" stroke-dasharray="4.2 99"/>
<path d="M216.2 237.7l3.6-2.3 1.6 1.3-3.6 2.2z" fill="#ece500" stroke-dasharray="4.3 99"/>
<path d="M212.9 239.7l3.6-2.2 1.6 1.2-3.6 2.3z" fill="#d8e500" stroke-dasharray="4.3 99"/>
<path d="M209.6 241.4l3.6-1.9 1.6 1.3-3.6 2z" fill="#c4e300" stroke-dasharray="4.1 99"/>
<path d="M206.3 242.6l3.6-1.3 1.6 1.4-3.6 1.4z" fill="#b8e200" stroke-dasharray="3.9 99"/>
<path d="M203 243.6l3.6-1.1 1.6 1.5-3.6 1.1z" fill="#b3e200" stroke-dasharray="3.8 99"/>
<path d="M199.7 244.5l3.6-1 1.6 1.5-3.6 1z" fill="#b3e200" stroke="none"/>
<path d="M196.4 245.4l3.6-1 1.6 1.5-3.6 1.1z" fill="#b3e200" stroke-dasharray="3.8 99"/>
<path d="M193.1 246.1l3.6-.8 1.6 1.6-3.6 .9z" fill="#b4e200" stroke-dasharray="3.7 99"/>
<path d="M189.8 246.3l3.6-.2 1.6 1.6-3.6 .4z" fill="#bce300" stroke-dasharray="3.6 99"/>
<path d="M186.5 245.9l3.6 .4 1.6 1.9-3.6-.3z" fill="#cee400" stroke-dasharray="3.6 99"/>
<path d="M183.2 245.5l3.6 .5 1.6 2-3.6-.5z" fill="#e7e600" stroke="none"/>
<path d="M179.9 245.5l3.6 0 1.6 2-3.6-.1z" fill="#efe000" stroke="none"/>
<path d="M176.6 246l3.6-.6 1.6 2-3.6 .4z" fill="#f2dc00" stroke-dasharray="3.7 99"/>
<path d="M173.3 246.9l3.6-1 1.6 1.8-3.6 .9z" fill="#f3da00" stroke-dasharray="3.8 99"/>
<path d="M170 248l3.6-1.2 1.6 1.7-3.6 1.1z" fill="#f3db00" stroke-dasharray="3.8 99"/>
<path d="M166.7 249.2l3.6-1.3 1.6 1.6-3.6 1.3z" fill="#f2dc00" stroke-dasharray="3.9 99"/>
<path d="M163.4 250.8l3.6-1.7 1.7 1.6-3.7 1.6z" fill="#f0df00" stroke-dasharray="4 99"/>
<path d="M160.1 253l3.6-2.4 1.7 1.5-3.7 2.1z" fill="#ece400" stroke-dasharray="4.4 99"/>
<path d="M156.8 256l3.6-3.2 1.7 1.2-3.7 2.9z" fill="#d4e400" stroke="none"/>
<path d="M153.5 259.7l3.6-4.1 1.7 .9-3.7 3.8z" fill="#a8e100" stroke-dasharray="5.5 99"/>
<path d="M150.2 264.2l3.6-5 1.7 .6-3.7 4.7z" fill="#5dda00" stroke="none"/>
<path d="M146.9 269.2l3.6-5.5 1.7 .3-3.7 5.2z" fill="#0ed101" stroke="none"/>
<path d="M143.6 274l3.7-5.3 1.6 .1-3.7 5.2z" fill="#0ccc03" stroke="none"/>
<path d="M141.9 276.3l1.9-2.6 1.6 .1-1.9 2.6z" fill="#09c906" stroke="none"/>
<path d="M140.6 281.9l1.4-6.2 1.7 .1-1.5 6.4z" fill="#07c408" stroke="none"/>
<path d="M139.4 288.8l1.3-7.6 1.6 .2-1.3 7.8z" fill="#02bd0d" stroke-dasharray="7.7 99"/>
<path d="M138.5 294.2l1-5.9 1.6 .4-1 6z" fill="#006e86" stroke="none"/>
<path d="M137.6 297.7l1-3.9 1.6 .5-1 4z" fill="#0009db" stroke-dasharray="4 99"/>
<path d="M136.7 299.1l1-1.5 1.6 .6-.9 1.6z" fill="#0002c0" stroke-dasharray="1.8 99"/>
<path d="M256.6 265.4l.9 1.4 1.6 .6-.9-1.2z" fill="#0002c1" stroke-dasharray="1.6 99"/>
<path d="M255.7 261.3l1 4.5 1.6 .8-1-4.1z" fill="#000ae2" stroke="none"/>
<path d="M254.7 254.2l1.1 7.7 1.6 1.3-1.1-7z" fill="#00a036" stroke="none"/>
<path d="M253.6 244.5l1.2 10.7 1.7 1.9-1.3-9.7z" fill="#05c20a" stroke="none"/>
<path d="M252.2 236.2l1.5 9.1 1.6 2.9-1.4-8.6z" fill="#0ccd03" stroke="none"/>
<path d="M250.5 233.2l1.9 3.3 1.6 3.5-1.9-3.5z" fill="#3fd700" stroke="none"/>
<path d="M247.2 229.5l3.7 4 1.6 3.4-3.7-4.7z" fill="#abe100" stroke="none"/>
<path d="M243.9 228.5l3.7 1.2 1.6 2.7-3.7-1.8z" fill="#ece400" stroke="none"/>
<path d="M240.6 229l3.7-.5 1.6 2.1-3.7 .2z" fill="#f2db00" stroke-dasharray="3.7 99"/>
<path d="M237.3 229.9l3.7-1 1.6 1.8-3.7 1z" fill="#f4d900" stroke-dasharray="3.8 99"/>
<path d="M234 230.9l3.7-1.1 1.6 1.8-3.7 1z" fill="#f3d900" stroke-dasharray="3.8 99"/>
<path d="M230.7 232.1l3.7-1.3 1.6 1.7-3.7 1.2z" fill="#f3da00" stroke-dasharray="3.8 99"/>
<path d="M227.4 233.4l3.7-1.5 1.6 1.7-3.6 1.4z" fill="#f2dc00" stroke-dasharray="3.9 99"/>
<path d="M224.1 234.9l3.7-1.7 1.6 1.6-3.6 1.6z" fill="#f0df00" stroke-dasharray="4 99"/>
<path d="M220.8 236.7l3.7-1.9 1.6 1.5-3.6 1.8z" fill="#ede300" stroke-dasharray="4.1 99"/>
<path d="M217.5 238.7l3.7-2.2 1.6 1.4-3.6 2.1z" fill="#e2e500" stroke-dasharray="4.2 99"/>
<path d="M214.2 240.8l3.7-2.3 1.6 1.3-3.6 2.3z" fill="#cde400" stroke-dasharray="4.3 99"/>
<path d="M210.9 242.6l3.7-2 1.6 1.3-3.6 2z" fill="#b8e200" stroke-dasharray="4.1 99"/>
<path d="M207.6 243.9l3.7-1.5 1.6 1.4-3.6 1.6z" fill="#aae100" stroke-dasharray="3.9 99"/>
<path d="M204.4 244.9l3.6-1.1 1.6 1.5-3.6 1.1z" fill="#a4e100" stroke-dasharray="3.8 99"/>
<path d="M201.1 245.8l3.6-1 1.6 1.6-3.6 .9z" fill="#a3e100" stroke-dasharray="3.8 99"/>
<path d="M197.8 246.7l3.6-1 1.6 1.5-3.6 1.1z" fill="#a3e100" stroke-dasharray="3.8 99"/>
<path d="M194.5 247.5l3.6-.8 1.6 1.5-3.6 .9z" fill="#a4e100" stroke-dasharray="3.7 99"/>
<path d="M191.2 247.9l3.6-.4 1.6 1.6-3.6 .5z" fill="#a9e100" stroke="none"/>
<path d="M187.9 247.6l3.6 .3 1.6 1.8-3.6-.1z" fill="#b8e200" stroke="none"/>
<path d="M184.6 247.2l3.6 .5 1.6 1.9-3.6-.4z" fill="#d0e400" stroke-dasharray="3.7 99"/>
<path d="M181.3 247.1l3.6 .1 1.6 2.1-3.6-.3z" fill="#e7e600" stroke-dasharray="3.6 99"/>
<path d="M178 247.5l3.6-.4 1.6 1.9-3.6 .3z" fill="#eee200" stroke-dasharray="3.7 99"/>
<path d="M174.7 248.4l3.6-.9 1.6 1.7-3.6 .9z" fill="#efe000" stroke-dasharray="3.7 99"/>
<path d="M171.4 249.4l3.6-1.1 1.6 1.7-3.6 1z" fill="#efe000" stroke-dasharray="3.8 99"/>
<path d="M168.1 250.6l3.6-1.3 1.6 1.6-3.6 1.3z" fill="#eee100" stroke-dasharray="3.8 99"/>
<path d="M164.8 252l3.6-1.6 1.6 1.6-3.6 1.5z" fill="#ede300" stroke-dasharray="4 99"/>
<path d="M161.5 254.1l3.6-2.3 1.6 1.5-3.6 2z" fill="#e6e600" stroke-dasharray="4.2 99"/>
<path d="M158.2 256.7l3.6-2.9 1.6 1.3-3.6 2.6z" fill="#cce400" stroke-dasharray="4.7 99"/>
<path d="M154.9 260.2l3.6-3.8 1.6 1-3.6 3.5z" fill="#a5e100" stroke="none"/>
<path d="M151.6 264.4l3.6-4.7 1.6 .8-3.6 4.3z" fill="#60da00" stroke-dasharray="5.9 99"/>
<path d="M148.3 269.2l3.6-5.3 1.6 .4-3.6 5z" fill="#0fd100" stroke-dasharray="6.4 99"/>
<path d="M145 274l3.6-5.3 1.6 .2-3.6 5.2z" fill="#0ccd03" stroke-dasharray="6.4 99"/>
<path d="M143.3 276.4l1.9-2.6 1.6 0-1.9 2.7z" fill="#0ac905" stroke-dasharray="3.2 99"/>
<path d="M141.9 282.1l1.5-6.3 1.6 .1-1.5 6.5z" fill="#07c508" stroke-dasharray="6.5 99"/>
<path d="M140.8 289.2l1.2-7.8 1.7 .2-1.3 8z" fill="#03bd0c" stroke="none"/>
<path d="M139.8 294.6l1.1-6 1.6 .4-1.1 6.2z" fill="#007280" stroke-dasharray="6.1 99"/>
<path d="M139 298.2l.9-3.9 1.6 .5-.9 4z" fill="#0009dc" stroke="none"/>
<path d="M138.1 299.7l.9-1.6 1.6 .6-.9 1.6z" fill="#0002c0" stroke="none"/>
<path d="M257.9 266.1l1 1.2 1.6 .6-1-1z" fill="#0002c0" stroke="none"/>
<path d="M257.1 262.3l.9 4.2 1.6 .7-.9-3.6z" fill="#0009de" stroke-dasharray="4.2 99"/>
<path d="M256.1 256l1 7 1.7 1.1-1.1-6.2z" fill="#00895b" stroke-dasharray="7.1 99"/>
<path d="M254.9 247l1.3 9.8 1.6 1.9-1.2-8.9z" fill="#04c00b" stroke-dasharray="10 99"/>
<path d="M253.6 239.1l1.5 8.6 1.6 2.8-1.5-8z" fill="#0aca05" stroke-dasharray="8.7 99"/>
<path d="M251.9 235.9l1.9 3.5 1.6 3.4-1.9-3.5z" fill="#0fd100" stroke="none"/>
<path d="M248.6 231.8l3.6 4.6 1.6 3.3-3.6-5.1z" fill="#7cdd00" stroke="none"/>
<path d="M245.3 230.3l3.6 1.6 1.6 2.9-3.6-2.4z" fill="#d4e400" stroke-dasharray="4 99"/>
<path d="M242 230.5l3.6-.3 1.6 2.3-3.6-.2z" fill="#eee200" stroke-dasharray="3.6 99"/>
<path d="M238.7 231.4l3.6-1 1.6 1.8-3.6 .9z" fill="#f0df00" stroke-dasharray="3.8 99"/>
<path d="M235.4 232.4l3.6-1.1 1.6 1.7-3.6 1.1z" fill="#f0df00" stroke-dasharray="3.8 99"/>
<path d="M232.1 233.5l3.6-1.2 1.6 1.7-3.6 1.1z" fill="#efe000" stroke-dasharray="3.8 99"/>
<path d="M228.8 234.7l3.6-1.4 1.6 1.7-3.6 1.3z" fill="#eee100" stroke-dasharray="3.9 99"/>
<path d="M225.5 236.2l3.6-1.6 1.6 1.6-3.6 1.5z" fill="#ede300" stroke-dasharray="4 99"/>
<path d="M222.2 237.9l3.6-1.9 1.6 1.5-3.6 1.8z" fill="#e7e600" stroke-dasharray="4.1 99"/>
<path d="M218.9 239.8l3.6-2.1 1.7 1.4-3.7 2.1z" fill="#d6e500" stroke-dasharray="4.2 99"/>
<path d="M215.6 241.9l3.6-2.3 1.7 1.4-3.7 2.1z" fill="#c1e300" stroke-dasharray="4.3 99"/>
<path d="M212.3 243.7l3.6-2 1.7 1.3-3.7 2z" fill="#ade200" stroke-dasharray="4.2 99"/>
<path d="M209 245.2l3.6-1.6 1.7 1.3-3.7 1.7z" fill="#9de100" stroke-dasharray="4 99"/>
<path d="M205.7 246.2l3.6-1.1 1.7 1.4-3.7 1.2z" fill="#96e000" stroke-dasharray="3.8 99"/>
<path d="M202.4 247.1l3.6-1 1.7 1.5-3.7 1.1z" fill="#93e000" stroke="none"/>
<path d="M199.1 248l3.7-1 1.6 1.6-3.7 1z" fill="#93e000" stroke="none"/>
<path d="M195.8 248.9l3.7-.9 1.6 1.5-3.7 1z" fill="#93e000" stroke-dasharray="3.7 99"/>
<path d="M192.5 249.4l3.7-.6 1.6 1.6-3.7 .7z" fill="#98e000" stroke-dasharray="3.7 99"/>
<path d="M189.2 249.3l3.7 .1 1.6 1.7-3.7 .1z" fill="#a4e100" stroke-dasharray="3.6 99"/>
<path d="M185.9 248.9l3.7 .4 1.6 1.9-3.7-.3z" fill="#b9e200" stroke="none"/>
<path d="M182.6 248.7l3.7 .3 1.6 2-3.7-.3z" fill="#d1e400" stroke="none"/>
<path d="M179.3 249l3.7-.3 1.6 2-3.6 .2z" fill="#e3e500" stroke-dasharray="3.6 99"/>
<path d="M176 249.8l3.7-.8 1.6 1.8-3.6 .7z" fill="#ebe600" stroke-dasharray="3.7 99"/>
<path d="M172.7 250.8l3.7-1.1 1.6 1.7-3.6 1z" fill="#ebe500" stroke-dasharray="3.8 99"/>
<path d="M169.4 251.9l3.7-1.2 1.6 1.6-3.6 1.2z" fill="#ebe600" stroke-dasharray="3.8 99"/>
<path d="M166.1 253.3l3.7-1.5 1.6 1.6-3.6 1.4z" fill="#e5e600" stroke-dasharray="3.9 99"/>
<path d="M162.8 255.1l3.7-2 1.6 1.5-3.6 1.8z" fill="#d9e500" stroke-dasharray="4.1 99"/>
<path d="M159.6 257.6l3.6-2.7 1.6 1.3-3.6 2.5z" fill="#c3e300" stroke="none"/>
<path d="M156.3 260.7l3.6-3.4 1.6 1.1-3.6 3.1z" fill="#a1e100" stroke-dasharray="5 99"/>
<path d="M153 264.7l3.6-4.4 1.6 .9-3.6 4z" fill="#61db00" stroke="none"/>
<path d="M149.7 269.3l3.6-5.1 1.6 .5-3.6 4.8z" fill="#0fd200" stroke="none"/>
<path d="M146.4 274l3.6-5.2 1.6 .2-3.6 5.1z" fill="#0ccd03" stroke="none"/>
<path d="M144.6 276.5l1.9-2.7 1.6 .1-1.8 2.7z" fill="#0aca05" stroke="none"/>
<path d="M143.3 282.3l1.5-6.4 1.6 .1-1.5 6.6z" fill="#07c508" stroke="none"/>
<path d="M142.2 289.5l1.2-7.9 1.6 .2-1.2 8.1z" fill="#03be0c" stroke-dasharray="8 99"/>
<path d="M141.2 295.1l1-6.2 1.7 .4-1.1 6.3z" fill="#00767a" stroke="none"/>
<path d="M140.3 298.8l1-4.1 1.6 .5-1 4.2z" fill="#0009dd" stroke-dasharray="4.2 99"/>
<path d="M139.5 300.2l.9-1.6 1.6 .6-.9 1.6z" fill="#0002c0" stroke-dasharray="1.8 99"/>
<path d="M259.3 266.8l.9 1 1.6 .6-.9-.9z" fill="#0002c0" stroke="none"/>
<path d="M258.4 263.4l1 3.7 1.6 .7-1-3.2z" fill="#0009da" stroke="none"/>
<path d="M257.5 257.6l1 6.4 1.6 1.1-1-5.7z" fill="#00737e" stroke="none"/>
<path d="M256.3 249.3l1.3 9.1 1.6 1.8-1.3-8.2z" fill="#03be0c" stroke="none"/>
<path d="M255 242l1.4 8.1 1.7 2.6-1.5-7.4z" fill="#09c806" stroke="none"/>
<path d="M253.3 238.8l1.8 3.5 1.7 3.3-1.9-3.5z" fill="#0dcf02" stroke="none"/>
<path d="M250 234.1l3.6 5.1 1.6 3.4-3.6-5.5z" fill="#43d700" stroke="none"/>
<path d="M246.7 232.1l3.6 2.3 1.6 2.9-3.6-2.9z" fill="#b3e200" stroke="none"/>
<path d="M243.4 232l3.6 .1 1.6 2.3-3.6-.5z" fill="#e1e500" stroke="none"/>
<path d="M240.1 232.8l3.6-.9 1.6 1.9-3.6 .8z" fill="#ece500" stroke-dasharray="3.7 99"/>
<path d="M236.8 233.8l3.6-1.1 1.6 1.8-3.6 1z" fill="#ece400" stroke-dasharray="3.8 99"/>
<path d="M233.5 234.9l3.6-1.2 1.6 1.7-3.6 1.1z" fill="#ece500" stroke-dasharray="3.8 99"/>
<path d="M230.2 236.1l3.6-1.3 1.6 1.6-3.6 1.3z" fill="#ebe600" stroke-dasharray="3.9 99"/>
<path d="M226.9 237.5l3.6-1.6 1.6 1.6-3.6 1.5z" fill="#e4e500" stroke-dasharray="3.9 99"/>
<path d="M223.6 239.1l3.6-1.8 1.6 1.6-3.6 1.6z" fill="#d9e500" stroke-dasharray="4 99"/>
<path d="M220.3 241l3.6-2.1 1.6 1.5-3.6 1.9z" fill="#c9e400" stroke-dasharray="4.2 99"/>
<path d="M217 243l3.6-2.2 1.6 1.3-3.6 2.1z" fill="#b6e200" stroke-dasharray="4.2 99"/>
<path d="M213.7 244.8l3.6-2 1.6 1.2-3.6 2.2z" fill="#a2e100" stroke-dasharray="4.2 99"/>
<path d="M210.4 246.4l3.6-1.7 1.6 1.3-3.6 1.8z" fill="#8fdf00" stroke-dasharray="4 99"/>
<path d="M207.1 247.5l3.6-1.2 1.6 1.4-3.6 1.3z" fill="#82de00" stroke-dasharray="3.8 99"/>
<path d="M203.8 248.4l3.6-1 1.6 1.5-3.6 1.1z" fill="#7fde00" stroke-dasharray="3.8 99"/>
<path d="M200.5 249.3l3.6-1 1.6 1.6-3.6 1z" fill="#7ede00" stroke-dasharray="3.8 99"/>
<path d="M197.2 250.2l3.6-1 1.6 1.6-3.6 1z" fill="#7ede00" stroke="none"/>
<path d="M193.9 250.9l3.6-.7 1.6 1.5-3.6 .8z" fill="#81de00" stroke="none"/>
<path d="M190.6 250.9l3.6-.1 1.6 1.7-3.6 .3z" fill="#8edf00" stroke="none"/>
<path d="M187.3 250.6l3.6 .4 1.6 1.8-3.6-.2z" fill="#a3e100" stroke-dasharray="3.6 99"/>
<path d="M184 250.4l3.6 .3 1.6 1.9-3.6-.3z" fill="#bae300" stroke-dasharray="3.6 99"/>
<path d="M180.7 250.6l3.6-.2 1.6 1.9-3.6 .1z" fill="#cee400" stroke="none"/>
<path d="M177.4 251.2l3.6-.7 1.6 1.8-3.6 .7z" fill="#d9e500" stroke-dasharray="3.7 99"/>
<path d="M174.1 252.2l3.6-1 1.7 1.7-3.7 1z" fill="#dce500" stroke-dasharray="3.8 99"/>
<path d="M170.8 253.3l3.6-1.2 1.7 1.7-3.7 1.1z" fill="#dae500" stroke-dasharray="3.8 99"/>
<path d="M167.5 254.5l3.6-1.4 1.7 1.7-3.7 1.3z" fill="#d6e400" stroke-dasharray="3.9 99"/>
<path d="M164.2 256.2l3.6-1.8 1.7 1.5-3.7 1.7z" fill="#cce400" stroke-dasharray="4.1 99"/>
<path d="M160.9 258.5l3.6-2.5 1.7 1.4-3.7 2.2z" fill="#b9e200" stroke-dasharray="4.4 99"/>
<path d="M157.6 261.4l3.6-3.2 1.7 1.2-3.7 2.9z" fill="#9be000" stroke="none"/>
<path d="M154.3 265.1l3.6-4.1 1.7 .9-3.7 3.7z" fill="#60da00" stroke-dasharray="5.4 99"/>
<path d="M151 269.5l3.7-4.9 1.6 .6-3.7 4.5z" fill="#10d200" stroke-dasharray="6 99"/>
<path d="M147.7 274.1l3.7-5.1 1.6 .3-3.7 4.9z" fill="#0cce03" stroke-dasharray="6.3 99"/>
<path d="M146 276.6l1.9-2.7 1.6 .1-1.9 2.7z" fill="#0aca05" stroke-dasharray="3.3 99"/>
<path d="M144.7 282.5l1.4-6.5 1.7 .1-1.5 6.7z" fill="#08c607" stroke-dasharray="6.7 99"/>
<path d="M143.5 289.9l1.3-8.1 1.6 .2-1.3 8.3z" fill="#03be0c" stroke="none"/>
<path d="M142.6 295.5l1-6.2 1.6 .4-1 6.4z" fill="#007a73" stroke-dasharray="6.3 99"/>
<path d="M141.7 299.3l1-4.2 1.6 .6-1 4.2z" fill="#0009dd" stroke="none"/>
<path d="M140.8 300.7l1-1.6 1.6 .6-.9 1.7z" fill="#0002c1" stroke="none"/>
<path d="M260.7 267.4l.9 .9 1.6 .6-.9-.7z" fill="#0002bf" stroke="none"/>
<path d="M259.8 264.4l1 3.3 1.6 .7-1-2.9z" fill="#0008d7" stroke-dasharray="3.4 99"/>
<path d="M258.8 259.2l1.1 5.7 1.6 1.1-1.1-5.1z" fill="#005e9b" stroke-dasharray="5.8 99"/>
<path d="M257.7 251.6l1.2 8.3 1.7 1.7-1.3-7.4z" fill="#02bd0d" stroke-dasharray="8.4 99"/>
<path d="M256.3 244.8l1.5 7.5 1.6 2.5-1.4-6.8z" fill="#07c508" stroke-dasharray="7.7 99"/>
<path d="M254.6 241.6l1.9 3.5 1.6 3.2-1.9-3.5z" fill="#0bcc04" stroke="none"/>
<path d="M251.3 236.6l3.7 5.5 1.6 3.3-3.7-5.8z" fill="#0fd200" stroke="none"/>
<path d="M248 234l3.7 2.9 1.6 3.1-3.7-3.6z" fill="#8fdf00" stroke="none"/>
<path d="M244.7 233.6l3.7 .5 1.6 2.4-3.7-1z" fill="#c8e300" stroke-dasharray="3.7 99"/>
<path d="M241.4 234.3l3.7-.8 1.6 2-3.7 .5z" fill="#dbe500" stroke-dasharray="3.7 99"/>
<path d="M238.1 235.3l3.7-1.1 1.6 1.7-3.7 1.1z" fill="#dee500" stroke-dasharray="3.8 99"/>
<path d="M234.8 236.3l3.7-1.1 1.6 1.7-3.6 1z" fill="#dde500" stroke-dasharray="3.8 99"/>
<path d="M231.5 237.4l3.7-1.2 1.6 1.6-3.6 1.2z" fill="#dae500" stroke-dasharray="3.8 99"/>
<path d="M228.2 238.8l3.7-1.5 1.6 1.6-3.6 1.4z" fill="#d4e400" stroke-dasharray="3.9 99"/>
<path d="M224.9 240.3l3.7-1.7 1.6 1.6-3.6 1.6z" fill="#cae400" stroke-dasharray="4 99"/>
<path d="M221.6 242.1l3.7-2 1.6 1.5-3.6 1.9z" fill="#bce300" stroke-dasharray="4.1 99"/>
<path d="M218.3 244l3.7-2.1 1.6 1.4-3.6 2z" fill="#aae100" stroke-dasharray="4.2 99"/>
<path d="M215.1 246l3.6-2.2 1.6 1.3-3.6 2.2z" fill="#96e000" stroke-dasharray="4.2 99"/>
<path d="M211.8 247.6l3.6-1.8 1.6 1.3-3.6 1.9z" fill="#7fde00" stroke-dasharray="4 99"/>
<path d="M208.5 248.8l3.6-1.3 1.6 1.3-3.6 1.5z" fill="#70dc00" stroke-dasharray="3.9 99"/>
<path d="M205.2 249.7l3.6-1 1.6 1.5-3.6 1.1z" fill="#6adb00" stroke="none"/>
<path d="M201.9 250.6l3.6-1 1.6 1.6-3.6 1z" fill="#6adb00" stroke="none"/>
<path d="M198.6 251.6l3.6-1.1 1.6 1.6-3.6 1z" fill="#6adb00" stroke-dasharray="3.8 99"/>
<path d="M195.3 252.3l3.6-.8 1.6 1.5-3.6 .9z" fill="#6bdc00" stroke-dasharray="3.7 99"/>
<path d="M192 252.5l3.6-.3 1.6 1.7-3.6 .4z" fill="#75dd00" stroke-dasharray="3.6 99"/>
<path d="M188.7 252.3l3.6 .2 1.6 1.8-3.6-.1z" fill="#8bdf00" stroke="none"/>
<path d="M185.4 252l3.6 .3 1.6 2-3.6-.3z" fill="#a4e100" stroke="none"/>
<path d="M182.1 252.1l3.6-.1 1.6 2-3.6 0z" fill="#b8e200" stroke-dasharray="3.6 99"/>
<path d="M178.8 252.7l3.6-.6 1.6 1.8-3.6 .5z" fill="#c5e300" stroke-dasharray="3.7 99"/>
<path d="M175.5 253.6l3.6-1 1.6 1.8-3.6 .9z" fill="#cae400" stroke-dasharray="3.8 99"/>
<path d="M172.2 254.6l3.6-1.1 1.6 1.7-3.6 1.1z" fill="#c9e400" stroke-dasharray="3.8 99"/>
<path d="M168.9 255.8l3.6-1.3 1.6 1.7-3.6 1.2z" fill="#c6e300" stroke-dasharray="3.9 99"/>
<path d="M165.6 257.4l3.6-1.7 1.6 1.6-3.6 1.5z" fill="#bee300" stroke-dasharray="4 99"/>
<path d="M162.3 259.4l3.6-2.2 1.6 1.4-3.6 2.1z" fill="#aee200" stroke-dasharray="4.3 99"/>
<path d="M159 262.1l3.6-2.9 1.6 1.2-3.6 2.7z" fill="#92e000" stroke-dasharray="4.7 99"/>
<path d="M155.7 265.5l3.6-3.7 1.6 1-3.6 3.4z" fill="#5dda00" stroke="none"/>
<path d="M152.4 269.7l3.6-4.6 1.6 .7-3.6 4.3z" fill="#14d300" stroke="none"/>
<path d="M149.1 274.2l3.6-5 1.6 .4-3.6 4.8z" fill="#0dce02" stroke="none"/>
<path d="M147.4 276.7l1.9-2.7 1.6 .2-1.9 2.6z" fill="#0bcb04" stroke="none"/>
<path d="M146 282.7l1.5-6.6 1.6 .1-1.5 6.8z" fill="#08c607" stroke="none"/>
<path d="M144.9 290.2l1.3-8.2 1.6 .2-1.3 8.4z" fill="#03be0c" stroke-dasharray="8.3 99"/>
<path d="M143.9 296l1.1-6.4 1.6 .4-1.1 6.5z" fill="#007e6d" stroke="none"/>
<path d="M143.1 299.8l.9-4.2 1.6 .5-.9 4.3z" fill="#0009de" stroke-dasharray="4.3 99"/>
<path d="M142.2 301.3l.9-1.7 1.7 .6-1 1.7z" fill="#0002c1" stroke-dasharray="1.9 99"/>
<path d="M262 268.1l1 .7 1.6 .7-1-.7z" fill="#0001be" stroke="none"/>
<path d="M261.2 265.4l.9 2.9 1.6 .7-.9-2.5z" fill="#0007d4" stroke="none"/>
<path d="M260.2 260.7l1 5.1 1.7 1.1-1.1-4.6z" fill="#004aae" stroke="none"/>
<path d="M259 253.8l1.3 7.6 1.6 1.5-1.2-6.6z" fill="#01bb0e" stroke="none"/>
<path d="M257.7 247.5l1.5 7 1.6 2.3-1.5-6.2z" fill="#06c309" stroke="none"/>
<path d="M256 244.4l1.9 3.4 1.6 3.1-1.9-3.4z" fill="#0ac905" stroke="none"/>
<path d="M252.7 239.2l3.6 5.7 1.6 3.2-3.6-5.8z" fill="#0dcf02" stroke="none"/>
<path d="M249.4 236l3.6 3.5 1.6 3.1-3.6-4z" fill="#5eda00" stroke-dasharray="5 99"/>
<path d="M246.1 235.2l3.6 .9 1.6 2.6-3.6-1.5z" fill="#ade200" stroke="none"/>
<path d="M242.8 235.7l3.6-.5 1.6 2-3.6 .3z" fill="#c6e300" stroke-dasharray="3.7 99"/>
<path d="M239.5 236.7l3.6-1 1.6 1.7-3.6 1z" fill="#cce400" stroke-dasharray="3.8 99"/>
<path d="M236.2 237.7l3.6-1.1 1.6 1.7-3.6 1.1z" fill="#cbe400" stroke-dasharray="3.8 99"/>
<path d="M232.9 238.8l3.6-1.2 1.6 1.7-3.6 1.1z" fill="#c8e400" stroke-dasharray="3.8 99"/>
<path d="M229.6 240.1l3.6-1.4 1.6 1.6-3.6 1.3z" fill="#c4e300" stroke-dasharray="3.9 99"/>
<path d="M226.3 241.6l3.6-1.7 1.7 1.6-3.7 1.5z" fill="#bbe300" stroke-dasharray="4 99"/>
<path d="M223 243.2l3.6-1.8 1.7 1.5-3.7 1.7z" fill="#afe200" stroke-dasharray="4.1 99"/>
<path d="M219.7 245.1l3.6-2 1.7 1.4-3.7 1.9z" fill="#9ee100" stroke-dasharray="4.2 99"/>
<path d="M216.4 247.1l3.6-2.2 1.7 1.4-3.7 2z" fill="#87de00" stroke-dasharray="4.2 99"/>
<path d="M213.1 248.8l3.6-1.9 1.7 1.3-3.7 1.9z" fill="#6fdc00" stroke-dasharray="4.1 99"/>
<path d="M209.8 250l3.6-1.4 1.7 1.4-3.7 1.5z" fill="#5eda00" stroke-dasharray="3.9 99"/>
<path d="M206.5 251l3.7-1.1 1.6 1.5-3.7 1.1z" fill="#56d900" stroke-dasharray="3.8 99"/>
<path d="M203.2 251.9l3.7-1 1.6 1.6-3.7 .9z" fill="#55d900" stroke-dasharray="3.8 99"/>
<path d="M199.9 252.9l3.7-1.1 1.6 1.6-3.7 1z" fill="#55d900" stroke="none"/>
<path d="M196.6 253.7l3.7-.9 1.6 1.5-3.7 .9z" fill="#56d900" stroke="none"/>
<path d="M193.3 254.1l3.7-.5 1.6 1.6-3.7 .6z" fill="#5cda00" stroke="none"/>
<path d="M190 254l3.7 .1 1.6 1.7-3.7 .1z" fill="#6fdc00" stroke-dasharray="3.6 99"/>
<path d="M186.7 253.7l3.7 .3 1.6 1.9-3.6-.3z" fill="#8bdf00" stroke-dasharray="3.6 99"/>
<path d="M183.4 253.7l3.7 0 1.6 2-3.6-.1z" fill="#a3e100" stroke="none"/>
<path d="M180.1 254.2l3.7-.6 1.6 1.9-3.6 .4z" fill="#b1e200" stroke-dasharray="3.7 99"/>
<path d="M176.8 255l3.7-.9 1.6 1.7-3.6 .9z" fill="#b8e200" stroke-dasharray="3.7 99"/>
<path d="M173.5 256l3.7-1.1 1.6 1.7-3.6 1.1z" fill="#b8e200" stroke-dasharray="3.8 99"/>
<path d="M170.2 257.2l3.7-1.3 1.6 1.6-3.6 1.2z" fill="#b5e200" stroke-dasharray="3.8 99"/>
<path d="M167 258.6l3.6-1.6 1.6 1.6-3.6 1.4z" fill="#afe200" stroke-dasharray="4 99"/>
<path d="M163.7 260.5l3.6-2.1 1.6 1.5-3.6 1.8z" fill="#a2e100" stroke-dasharray="4.2 99"/>
<path d="M160.4 262.9l3.6-2.7 1.6 1.3-3.6 2.5z" fill="#87de00" stroke="none"/>
<path d="M157.1 266.1l3.6-3.5 1.6 1.1-3.6 3.2z" fill="#57da00" stroke-dasharray="5 99"/>
<path d="M153.8 270l3.6-4.3 1.6 .8-3.6 3.9z" fill="#15d300" stroke-dasharray="5.6 99"/>
<path d="M150.5 274.4l3.6-4.9 1.6 .5-3.6 4.6z" fill="#0dcf02" stroke-dasharray="6 99"/>
<path d="M148.7 276.8l1.9-2.7 1.6 .3-1.8 2.6z" fill="#0bcb04" stroke-dasharray="3.3 99"/>
<path d="M147.4 282.9l1.5-6.7 1.6 .2-1.5 6.8z" fill="#08c707" stroke-dasharray="6.9 99"/>
<path d="M146.3 290.5l1.2-8.3 1.6 .2-1.2 8.5z" fill="#03bf0c" stroke="none"/>
<path d="M145.3 296.4l1.1-6.5 1.6 .4-1.1 6.6z" fill="#008167" stroke-dasharray="6.6 99"/>
<path d="M144.4 300.3l1-4.3 1.6 .6-1 4.3z" fill="#000adf" stroke="none"/>
<path d="M143.6 301.8l.9-1.7 1.6 .6-.9 1.7z" fill="#0002c1" stroke="none"/>
<path d="M263.4 268.7l.9 .7 1.6 .6-.9-.6z" fill="#0001be" stroke="none"/>
<path d="M262.5 266.3l1 2.6 1.6 .7-1-2.3z" fill="#0006d1" stroke-dasharray="2.8 99"/>
<path d="M261.6 262.1l1 4.6 1.6 1-1-4z" fill="#0038bf" stroke-dasharray="4.7 99"/>
<path d="M260.4 255.9l1.3 6.8 1.6 1.5-1.3-6z" fill="#00ba0f" stroke-dasharray="6.9 99"/>
<path d="M259.1 250.1l1.5 6.4 1.6 2.2-1.5-5.7z" fill="#05c10a" stroke="none"/>
<path d="M257.4 247.1l1.9 3.3 1.6 2.9-1.9-3.2z" fill="#08c707" stroke="none"/>
<path d="M254.1 241.8l3.6 5.8 1.6 3.1-3.6-5.8z" fill="#0ccd03" stroke="none"/>
<path d="M250.8 238.2l3.6 3.9 1.6 3.2-3.6-4.5z" fill="#2cd500" stroke="none"/>
<path d="M247.5 236.9l3.6 1.4 1.6 2.7-3.6-2z" fill="#8edf00" stroke-dasharray="3.9 99"/>
<path d="M244.2 237.2l3.6-.3 1.6 2.1-3.6 0z" fill="#b1e200" stroke-dasharray="3.6 99"/>
<path d="M240.9 238.1l3.6-1 1.6 1.8-3.6 .9z" fill="#b9e200" stroke-dasharray="3.8 99"/>
<path d="M237.6 239.1l3.6-1.1 1.6 1.7-3.6 1.1z" fill="#b9e200" stroke-dasharray="3.8 99"/>
<path d="M234.3 240.2l3.6-1.2 1.6 1.7-3.6 1.1z" fill="#b7e200" stroke-dasharray="3.8 99"/>
<path d="M231 241.4l3.6-1.3 1.6 1.6-3.6 1.3z" fill="#b3e200" stroke-dasharray="3.9 99"/>
<path d="M227.7 242.8l3.6-1.5 1.6 1.5-3.6 1.5z" fill="#ace200" stroke-dasharray="3.9 99"/>
<path d="M224.4 244.4l3.6-1.8 1.6 1.6-3.6 1.6z" fill="#a1e100" stroke-dasharray="4 99"/>
<path d="M221.1 246.2l3.6-2 1.6 1.5-3.6 1.9z" fill="#90df00" stroke-dasharray="4.1 99"/>
<path d="M217.8 248.2l3.6-2.1 1.6 1.3-3.6 2z" fill="#78dd00" stroke-dasharray="4.2 99"/>
<path d="M214.5 249.9l3.6-1.9 1.6 1.3-3.6 1.9z" fill="#5fda00" stroke-dasharray="4.1 99"/>
<path d="M211.2 251.3l3.6-1.5 1.6 1.3-3.6 1.6z" fill="#4cd800" stroke-dasharray="3.9 99"/>
<path d="M207.9 252.3l3.6-1.1 1.6 1.4-3.6 1.2z" fill="#43d700" stroke="none"/>
<path d="M204.6 253.2l3.6-1 1.6 1.5-3.6 1z" fill="#41d700" stroke="none"/>
<path d="M201.3 254.1l3.6-1 1.6 1.5-3.6 1.1z" fill="#41d700" stroke-dasharray="3.8 99"/>
<path d="M198 255l3.6-.9 1.6 1.5-3.6 1z" fill="#41d700" stroke-dasharray="3.7 99"/>
<path d="M194.7 255.5l3.6-.6 1.6 1.6-3.6 .7z" fill="#45d800" stroke-dasharray="3.7 99"/>
<path d="M191.4 255.6l3.6-.1 1.6 1.7-3.6 .2z" fill="#54d900" stroke="none"/>
<path d="M188.1 255.3l3.6 .3 1.6 1.8-3.6-.1z" fill="#6ddc00" stroke="none"/>
<path d="M184.8 255.3l3.6 .1 1.6 1.9-3.6-.1z" fill="#8adf00" stroke-dasharray="3.6 99"/>
<path d="M181.5 255.6l3.6-.4 1.7 1.9-3.7 .3z" fill="#9de100" stroke-dasharray="3.7 99"/>
<path d="M178.2 256.4l3.6-.8 1.7 1.7-3.7 .8z" fill="#a5e100" stroke-dasharray="3.7 99"/>
<path d="M174.9 257.4l3.6-1.1 1.7 1.7-3.7 1z" fill="#a7e100" stroke-dasharray="3.8 99"/>
<path d="M171.6 258.5l3.6-1.2 1.7 1.6-3.7 1.2z" fill="#a5e100" stroke-dasharray="3.8 99"/>
<path d="M168.3 259.8l3.6-1.4 1.7 1.6-3.7 1.3z" fill="#a0e100" stroke-dasharray="3.9 99"/>
<path d="M165 261.5l3.6-1.9 1.7 1.6-3.7 1.7z" fill="#95e000" stroke-dasharray="4.1 99"/>
<path d="M161.7 263.8l3.7-2.5 1.6 1.4-3.7 2.2z" fill="#7add00" stroke-dasharray="4.4 99"/>
<path d="M158.4 266.7l3.7-3.2 1.6 1.2-3.7 2.9z" fill="#50d900" stroke="none"/>
<path d="M155.1 270.4l3.7-4 1.6 .9-3.7 3.6z" fill="#15d300" stroke="none"/>
<path d="M151.8 274.6l3.7-4.7 1.6 .6-3.7 4.4z" fill="#0dcf02" stroke="none"/>
<path d="M150.1 276.9l1.9-2.6 1.6 .3-1.9 2.6z" fill="#0bcc04" stroke="none"/>
<path d="M148.8 283.2l1.4-6.9 1.7 .2-1.5 7z" fill="#08c707" stroke="none"/>
<path d="M147.6 290.9l1.3-8.5 1.6 .3-1.3 8.6z" fill="#04bf0b" stroke-dasharray="8.6 99"/>
<path d="M146.7 296.9l1-6.6 1.6 .4-1 6.7z" fill="#008561" stroke="none"/>
<path d="M145.8 300.8l1-4.3 1.6 .5-1 4.4z" fill="#000adf" stroke-dasharray="4.4 99"/>
<path d="M144.9 302.3l1-1.7 1.6 .6-.9 1.8z" fill="#0002c1" stroke-dasharray="1.9 99"/>
<path d="M264.8 269.3l.9 .6 1.6 .6-.9-.5z" fill="#0001bd" stroke="none"/>
<path d="M263.9 267.2l1 2.3 1.6 .7-1-2z" fill="#0006cf" stroke="none"/>
<path d="M262.9 263.4l1.1 4.2 1.6 .9-1.1-3.6z" fill="#0027cf" stroke="none"/>
<path d="M261.8 257.9l1.2 6.1 1.7 1.4-1.3-5.4z" fill="#00af20" stroke="none"/>
<path d="M260.4 252.6l1.5 5.8 1.6 2.1-1.4-5.2z" fill="#04bf0b" stroke-dasharray="6 99"/>
<path d="M258.7 249.7l1.9 3.2 1.6 2.7-1.9-3z" fill="#07c408" stroke-dasharray="3.7 99"/>
<path d="M255.4 244.4l3.7 5.8 1.6 3-3.7-5.7z" fill="#0aca05" stroke="none"/>
<path d="M252.1 240.4l3.7 4.4 1.6 3.1-3.7-4.7z" fill="#0ed101" stroke="none"/>
<path d="M248.8 238.7l3.7 1.9 1.6 2.8-3.7-2.5z" fill="#65db00" stroke="none"/>
<path d="M245.5 238.7l3.7 0 1.6 2.2-3.7-.4z" fill="#9ae000" stroke="none"/>
<path d="M242.2 239.6l3.7-1 1.6 1.9-3.6 .7z" fill="#a6e100" stroke-dasharray="3.7 99"/>
<path d="M238.9 240.5l3.7-1 1.6 1.7-3.6 1z" fill="#a7e100" stroke-dasharray="3.8 99"/>
<path d="M235.6 241.6l3.7-1.2 1.6 1.7-3.6 1.1z" fill="#a6e100" stroke-dasharray="3.8 99"/>
<path d="M232.3 242.7l3.7-1.3 1.6 1.7-3.6 1.2z" fill="#a3e100" stroke-dasharray="3.8 99"/>
<path d="M229 244.1l3.7-1.5 1.6 1.6-3.6 1.4z" fill="#9ce000" stroke-dasharray="3.9 99"/>
<path d="M225.7 245.6l3.7-1.7 1.6 1.6-3.6 1.6z" fill="#92e000" stroke-dasharray="4 99"/>
<path d="M222.5 247.4l3.6-2 1.6 1.5-3.6 1.8z" fill="#7fde00" stroke-dasharray="4.1 99"/>
<path d="M219.2 249.2l3.6-2 1.6 1.3-3.6 2z" fill="#68db00" stroke-dasharray="4.2 99"/>
<path d="M215.9 251l3.6-1.9 1.6 1.3-3.6 1.9z" fill="#4fd900" stroke-dasharray="4.1 99"/>
<path d="M212.6 252.5l3.6-1.6 1.6 1.3-3.6 1.7z" fill="#3bd700" stroke-dasharray="4 99"/>
<path d="M209.3 253.6l3.6-1.2 1.6 1.4-3.6 1.3z" fill="#30d500" stroke-dasharray="3.8 99"/>
<path d="M206 254.5l3.6-1 1.6 1.5-3.6 1z" fill="#2dd500" stroke-dasharray="3.8 99"/>
<path d="M202.7 255.4l3.6-1 1.6 1.5-3.6 1z" fill="#2cd500" stroke="none"/>
<path d="M199.4 256.3l3.6-1 1.6 1.5-3.6 1.1z" fill="#2cd500" stroke="none"/>
<path d="M196.1 257l3.6-.7 1.6 1.5-3.6 .8z" fill="#2fd500" stroke="none"/>
<path d="M192.8 257.2l3.6-.2 1.6 1.6-3.6 .4z" fill="#3ad700" stroke-dasharray="3.6 99"/>
<path d="M189.5 257l3.6 .2 1.6 1.8-3.6-.1z" fill="#51d900" stroke-dasharray="3.6 99"/>
<path d="M186.2 256.9l3.6 .1 1.6 1.9-3.6-.1z" fill="#6ddc00" stroke="none"/>
<path d="M182.9 257.1l3.6-.3 1.6 1.9-3.6 .2z" fill="#84de00" stroke="none"/>
<path d="M179.6 257.8l3.6-.7 1.6 1.8-3.6 .6z" fill="#91e000" stroke-dasharray="3.7 99"/>
<path d="M176.3 258.8l3.6-1.1 1.6 1.7-3.6 1z" fill="#95e000" stroke-dasharray="3.8 99"/>
<path d="M173 259.8l3.6-1.1 1.6 1.6-3.6 1.1z" fill="#93e000" stroke-dasharray="3.8 99"/>
<path d="M169.7 261.1l3.6-1.4 1.6 1.6-3.6 1.3z" fill="#8edf00" stroke-dasharray="3.9 99"/>
<path d="M166.4 262.7l3.6-1.8 1.6 1.6-3.6 1.6z" fill="#82de00" stroke-dasharray="4 99"/>
<path d="M163.1 264.8l3.6-2.3 1.6 1.4-3.6 2z" fill="#6cdc00" stroke-dasharray="4.3 99"/>
<path d="M159.8 267.5l3.6-3 1.6 1.2-3.6 2.7z" fill="#47d800" stroke-dasharray="4.7 99"/>
<path d="M156.5 270.8l3.6-3.7 1.6 1-3.6 3.4z" fill="#12d200" stroke-dasharray="5.2 99"/>
<path d="M153.2 274.8l3.6-4.4 1.6 .7-3.6 4.1z" fill="#0dcf02" stroke-dasharray="5.7 99"/>
<path d="M151.5 277.1l1.9-2.5 1.6 .4-1.9 2.4z" fill="#0bcc04" stroke-dasharray="3.2 99"/>
<path d="M150.1 283.4l1.5-6.9 1.6 .3-1.4 6.9z" fill="#09c706" stroke-dasharray="7.1 99"/>
<path d="M149 291.2l1.3-8.6 1.6 .3-1.3 8.8z" fill="#04bf0b" stroke="none"/>
<path d="M148 297.3l1.1-6.7 1.6 .4-1.1 6.8z" fill="#00895b" stroke-dasharray="6.8 99"/>
<path d="M147.2 301.3l.9-4.4 1.6 .5-.9 4.5z" fill="#000ae0" stroke="none"/>
<path d="M146.3 302.9l.9-1.7 1.7 .6-1 1.7z" fill="#0002c1" stroke="none"/>
<path d="M266.1 269.9l1 .5 1.6 .6-1-.4z" fill="#0001bd" stroke="none"/>
<path d="M265.3 268l.9 2.1 1.6 .7-.9-1.8z" fill="#0005cd" stroke-dasharray="2.3 99"/>
<path d="M264.3 264.7l1.1 3.7 1.6 .9-1.1-3.3z" fill="#0018dd" stroke-dasharray="3.8 99"/>
<path d="M263.2 259.7l1.2 5.5 1.6 1.3-1.2-4.8z" fill="#009449" stroke-dasharray="5.6 99"/>
<path d="M261.8 254.9l1.5 5.3 1.6 1.9-1.5-4.6z" fill="#03bd0c" stroke="none"/>
<path d="M260.1 252.2l1.9 3 1.6 2.5-1.9-2.7z" fill="#06c209" stroke="none"/>
<path d="M256.8 247l3.6 5.7 1.6 2.8-3.6-5.5z" fill="#09c806" stroke-dasharray="6.8 99"/>
<path d="M253.5 242.7l3.6 4.7 1.6 3.1-3.6-4.9z" fill="#0dcf02" stroke="none"/>
<path d="M250.2 240.5l3.6 2.5 1.6 2.8-3.6-3z" fill="#39d600" stroke-dasharray="4.4 99"/>
<path d="M246.9 240.3l3.6 .3 1.6 2.3-3.6-.8z" fill="#7bdd00" stroke-dasharray="3.6 99"/>
<path d="M243.6 241l3.6-.8 1.6 1.9-3.6 .6z" fill="#92e000" stroke-dasharray="3.7 99"/>
<path d="M240.3 241.9l3.6-1 1.6 1.7-3.6 1z" fill="#96e000" stroke-dasharray="3.8 99"/>
<path d="M237 243l3.6-1.2 1.7 1.7-3.7 1.1z" fill="#94e000" stroke-dasharray="3.8 99"/>
<path d="M233.7 244.1l3.6-1.3 1.7 1.7-3.7 1.2z" fill="#90df00" stroke-dasharray="3.8 99"/>
<path d="M230.4 245.4l3.6-1.4 1.7 1.6-3.7 1.3z" fill="#89df00" stroke-dasharray="3.9 99"/>
<path d="M227.1 246.8l3.6-1.6 1.7 1.6-3.7 1.5z" fill="#7edd00" stroke-dasharray="4 99"/>
<path d="M223.8 248.5l3.6-1.8 1.7 1.4-3.7 1.8z" fill="#6ddc00" stroke-dasharray="4.1 99"/>
<path d="M220.5 250.3l3.6-2 1.7 1.4-3.7 2z" fill="#58da00" stroke-dasharray="4.1 99"/>
<path d="M217.2 252.1l3.6-1.9 1.7 1.3-3.7 1.9z" fill="#40d700" stroke-dasharray="4.1 99"/>
<path d="M213.9 253.7l3.7-1.7 1.6 1.3-3.7 1.8z" fill="#2bd500" stroke-dasharray="4 99"/>
<path d="M210.6 254.9l3.7-1.3 1.6 1.3-3.7 1.4z" fill="#1ed400" stroke="none"/>
<path d="M207.3 255.8l3.7-1 1.6 1.4-3.7 1.1z" fill="#19d300" stroke="none"/>
<path d="M204 256.7l3.7-1 1.6 1.5-3.7 1z" fill="#18d300" stroke-dasharray="3.8 99"/>
<path d="M200.7 257.6l3.7-1 1.6 1.5-3.7 1z" fill="#18d300" stroke-dasharray="3.8 99"/>
<path d="M197.4 258.4l3.7-.9 1.6 1.5-3.7 1z" fill="#1ad300" stroke-dasharray="3.7 99"/>
<path d="M194.1 258.7l3.7-.4 1.6 1.6-3.6 .5z" fill="#22d400" stroke="none"/>
<path d="M190.8 258.6l3.7 .1 1.6 1.7-3.6 .1z" fill="#35d600" stroke="none"/>
<path d="M187.5 258.5l3.7 .1 1.6 1.9-3.6-.1z" fill="#50d900" stroke-dasharray="3.6 99"/>
<path d="M184.2 258.7l3.7-.2 1.6 1.9-3.6 .1z" fill="#68db00" stroke-dasharray="3.6 99"/>
<path d="M180.9 259.3l3.7-.7 1.6 1.8-3.6 .6z" fill="#78dd00" stroke-dasharray="3.7 99"/>
<path d="M177.6 260.2l3.7-1 1.6 1.7-3.6 .9z" fill="#7ddd00" stroke-dasharray="3.8 99"/>
<path d="M174.4 261.2l3.6-1.1 1.6 1.6-3.6 1.1z" fill="#7ddd00" stroke-dasharray="3.8 99"/>
<path d="M171.1 262.4l3.6-1.3 1.6 1.6-3.6 1.2z" fill="#78dd00" stroke-dasharray="3.8 99"/>
<path d="M167.8 263.8l3.6-1.6 1.6 1.6-3.6 1.5z" fill="#6fdc00" stroke-dasharray="4 99"/>
<path d="M164.5 265.8l3.6-2.2 1.6 1.5-3.6 1.9z" fill="#5cda00" stroke-dasharray="4.2 99"/>
<path d="M161.2 268.2l3.6-2.7 1.6 1.3-3.6 2.5z" fill="#3cd700" stroke="none"/>
<path d="M157.9 271.4l3.6-3.5 1.6 1.1-3.6 3.1z" fill="#0fd200" stroke="none"/>
<path d="M154.6 275.1l3.6-4.1 1.6 .8-3.6 3.8z" fill="#0dcf02" stroke="none"/>
<path d="M152.8 277.4l1.9-2.5 1.6 .5-1.8 2.3z" fill="#0ccc03" stroke="none"/>
<path d="M151.5 283.7l1.5-7 1.6 .4-1.5 6.9z" fill="#09c806" stroke="none"/>
<path d="M150.4 291.6l1.2-8.7 1.6 .3-1.2 8.8z" fill="#04bf0b" stroke-dasharray="8.8 99"/>
<path d="M149.4 297.8l1.1-6.8 1.6 .4-1.1 6.9z" fill="#008c56" stroke="none"/>
<path d="M148.5 301.8l1-4.4 1.6 .5-1 4.5z" fill="#000ae1" stroke-dasharray="4.6 99"/>
<path d="M147.7 303.4l.9-1.7 1.6 .6-.9 1.7z" fill="#0002c1" stroke-dasharray="2 99"/>
<path d="M267.5 270.5l.9 .4 1.6 .7-.9-.4z" fill="#0001bc" stroke="none"/>
<path d="M266.6 268.9l1 1.8 1.6 .7-1-1.6z" fill="#0005cb" stroke="none"/>
<path d="M265.7 265.9l1 3.3 1.6 .8-1-2.9z" fill="#000ce8" stroke="none"/>
<path d="M264.5 261.4l1.3 4.9 1.6 1.2-1.3-4.3z" fill="#007d6e" stroke="none"/>
<path d="M263.2 257.1l1.5 4.7 1.6 1.8-1.5-4.2z" fill="#02bc0d" stroke="none"/>
<path d="M261.5 254.6l1.9 2.7 1.6 2.3-1.9-2.4z" fill="#04c00b" stroke="none"/>
<path d="M258.2 249.6l3.6 5.5 1.6 2.6-3.6-5.2z" fill="#07c508" stroke="none"/>
<path d="M254.9 245.1l3.6 4.9 1.6 3-3.6-5z" fill="#0ccc03" stroke="none"/>
<path d="M251.6 242.5l3.6 2.9 1.6 2.9-3.6-3.4z" fill="#0fd200" stroke="none"/>
<path d="M248.3 241.8l3.6 .7 1.6 2.5-3.6-1.2z" fill="#58da00" stroke="none"/>
<path d="M245 242.4l3.6-.6 1.6 2-3.6 .3z" fill="#77dd00" stroke-dasharray="3.7 99"/>
<path d="M241.7 243.4l3.6-1.1 1.6 1.7-3.6 1z" fill="#7ddd00" stroke-dasharray="3.8 99"/>
<path d="M238.4 244.4l3.6-1.1 1.6 1.6-3.6 1.1z" fill="#7cdd00" stroke-dasharray="3.8 99"/>
<path d="M235.1 245.4l3.6-1.2 1.6 1.7-3.6 1.1z" fill="#7add00" stroke-dasharray="3.8 99"/>
<path d="M231.8 246.7l3.6-1.4 1.6 1.6-3.6 1.3z" fill="#74dc00" stroke-dasharray="3.9 99"/>
<path d="M228.5 248.1l3.6-1.6 1.6 1.6-3.6 1.5z" fill="#6adb00" stroke-dasharray="3.9 99"/>
<path d="M225.2 249.7l3.6-1.8 1.6 1.5-3.6 1.7z" fill="#5bda00" stroke-dasharray="4 99"/>
<path d="M221.9 251.4l3.6-1.9 1.6 1.4-3.6 1.9z" fill="#47d800" stroke-dasharray="4.1 99"/>
<path d="M218.6 253.2l3.6-1.9 1.6 1.3-3.6 1.9z" fill="#30d500" stroke-dasharray="4.1 99"/>
<path d="M215.3 254.9l3.6-1.8 1.6 1.3-3.6 1.8z" fill="#1bd300" stroke-dasharray="4 99"/>
<path d="M212 256.1l3.6-1.4 1.6 1.4-3.6 1.4z" fill="#0fd200" stroke-dasharray="3.9 99"/>
<path d="M208.7 257.1l3.6-1.1 1.6 1.4-3.6 1.2z" fill="#0fd200" stroke-dasharray="3.8 99"/>
<path d="M205.4 258l3.6-1 1.6 1.5-3.6 1z" fill="#0fd200" stroke="none"/>
<path d="M202.1 258.9l3.6-1 1.6 1.5-3.6 1z" fill="#0fd200" stroke="none"/>
<path d="M198.8 259.7l3.6-.9 1.6 1.5-3.6 1z" fill="#0fd200" stroke="none"/>
<path d="M195.5 260.2l3.6-.5 1.6 1.5-3.6 .7z" fill="#0fd200" stroke-dasharray="3.7 99"/>
<path d="M192.2 260.2l3.6 0 1.6 1.7-3.6 .1z" fill="#1bd300" stroke-dasharray="3.6 99"/>
<path d="M188.9 260.1l3.6 .1 1.7 1.8-3.7 0z" fill="#33d600" stroke="none"/>
<path d="M185.6 260.2l3.6-.1 1.7 1.9-3.7 0z" fill="#4cd800" stroke="none"/>
<path d="M182.3 260.7l3.6-.6 1.7 1.9-3.7 .4z" fill="#5eda00" stroke-dasharray="3.7 99"/>
<path d="M179 261.6l3.6-1 1.7 1.7-3.7 .9z" fill="#65db00" stroke-dasharray="3.7 99"/>
<path d="M175.7 262.6l3.6-1.1 1.7 1.6-3.7 1.1z" fill="#66db00" stroke-dasharray="3.8 99"/>
<path d="M172.4 263.7l3.6-1.2 1.7 1.6-3.7 1.1z" fill="#63db00" stroke-dasharray="3.8 99"/>
<path d="M169.1 265l3.7-1.5 1.6 1.6-3.7 1.4z" fill="#5bda00" stroke-dasharray="3.9 99"/>
<path d="M165.8 266.8l3.7-1.9 1.6 1.4-3.7 1.8z" fill="#4bd800" stroke-dasharray="4.1 99"/>
<path d="M162.5 269.1l3.7-2.5 1.6 1.3-3.7 2.3z" fill="#30d500" stroke-dasharray="4.4 99"/>
<path d="M159.2 272l3.7-3.2 1.6 1.1-3.7 2.9z" fill="#0fd200" stroke-dasharray="4.8 99"/>
<path d="M155.9 275.5l3.7-3.9 1.6 .9-3.7 3.6z" fill="#0dcf02" stroke-dasharray="5.3 99"/>
<path d="M154.2 277.7l1.9-2.4 1.6 .5-1.9 2.3z" fill="#0ccd03" stroke-dasharray="3 99"/>
<path d="M152.9 284l1.4-7 1.7 .5-1.5 6.9z" fill="#09c806" stroke-dasharray="7.1 99"/>
<path d="M151.7 292l1.3-8.8 1.6 .4-1.3 8.8z" fill="#04c00b" stroke="none"/>
<path d="M150.8 298.2l1-6.9 1.6 .5-1 7z" fill="#008f51" stroke-dasharray="7 99"/>
<path d="M149.9 302.3l1-4.5 1.6 .5-1 4.6z" fill="#000ae1" stroke="none"/>
<path d="M149 303.9l1-1.7 1.6 .6-.9 1.8z" fill="#0002c1" stroke="none"/>
<path d="M268.9 271.1l.9 .4 1.6 .6-.9-.3z" fill="#0001bc" stroke="none"/>
<path d="M268 269.6l1 1.7 1.6 .6-1-1.4z" fill="#0004c9" stroke="none"/>
<path d="M267 266.9l1.1 3 1.6 .9-1.1-2.7z" fill="#000be3" stroke-dasharray="3.1 99"/>
<path d="M265.9 262.9l1.3 4.4 1.5 1.2-1.2-3.9z" fill="#00698e" stroke-dasharray="4.6 99"/>
<path d="M264.6 259.1l1.4 4.2 1.6 1.7-1.5-3.8z" fill="#01ba0e" stroke-dasharray="4.5 99"/>
<path d="M262.8 256.8l1.9 2.5 1.6 2.1-1.9-2.1z" fill="#03be0c" stroke="none"/>
<path d="M259.5 252.1l3.7 5.2 1.6 2.4-3.7-4.8z" fill="#06c309" stroke="none"/>
<path d="M256.2 247.5l3.7 5 1.6 2.8-3.7-4.9z" fill="#0aca05" stroke="none"/>
<path d="M252.9 244.5l3.7 3.4 1.6 2.8-3.7-3.7z" fill="#0ed001" stroke="none"/>
<path d="M249.6 243.5l3.7 1.1 1.6 2.5-3.7-1.6z" fill="#34d600" stroke-dasharray="3.8 99"/>
<path d="M246.3 243.9l3.7-.4 1.6 2-3.7 .1z" fill="#5bda00" stroke-dasharray="3.7 99"/>
<path d="M243 244.8l3.7-1 1.6 1.7-3.7 .9z" fill="#65db00" stroke-dasharray="3.8 99"/>
<path d="M239.7 245.7l3.7-1 1.6 1.6-3.7 1.1z" fill="#65db00" stroke-dasharray="3.8 99"/>
<path d="M236.4 246.8l3.7-1.2 1.6 1.7-3.7 1.1z" fill="#63db00" stroke-dasharray="3.8 99"/>
<path d="M233.2 248l3.6-1.3 1.6 1.6-3.6 1.2z" fill="#5eda00" stroke-dasharray="3.9 99"/>
<path d="M229.9 249.3l3.6-1.5 1.6 1.6-3.6 1.4z" fill="#55d900" stroke-dasharray="3.9 99"/>
<path d="M226.6 250.9l3.6-1.7 1.6 1.5-3.6 1.6z" fill="#48d800" stroke-dasharray="4 99"/>
<path d="M223.3 252.6l3.6-1.9 1.6 1.4-3.6 1.8z" fill="#36d600" stroke-dasharray="4.1 99"/>
<path d="M220 254.3l3.6-1.9 1.6 1.3-3.6 2z" fill="#20d400" stroke-dasharray="4.1 99"/>
<path d="M216.7 256l3.6-1.8 1.6 1.3-3.6 1.8z" fill="#0fd200" stroke-dasharray="4.1 99"/>
<path d="M213.4 257.3l3.6-1.4 1.6 1.3-3.6 1.5z" fill="#0ed101" stroke="none"/>
<path d="M210.1 258.3l3.6-1.1 1.6 1.4-3.6 1.2z" fill="#0ed101" stroke="none"/>
<path d="M206.8 259.2l3.6-1 1.6 1.5-3.6 1z" fill="#0ed101" stroke-dasharray="3.8 99"/>
<path d="M203.5 260.2l3.6-1.1 1.6 1.5-3.6 1.1z" fill="#0ed101" stroke-dasharray="3.8 99"/>
<path d="M200.2 261l3.6-.9 1.6 1.5-3.6 1z" fill="#0ed101" stroke-dasharray="3.8 99"/>
<path d="M196.9 261.6l3.6-.6 1.6 1.5-3.6 .8z" fill="#0ed101" stroke="none"/>
<path d="M193.6 261.8l3.6-.2 1.6 1.6-3.6 .4z" fill="#0fd100" stroke="none"/>
<path d="M190.3 261.7l3.6 .1 1.6 1.8-3.6-.1z" fill="#17d300" stroke-dasharray="3.6 99"/>
<path d="M187 261.7l3.6 0 1.6 1.8-3.6 0z" fill="#31d500" stroke-dasharray="3.6 99"/>
<path d="M183.7 262.2l3.6-.5 1.6 1.8-3.6 .4z" fill="#44d700" stroke-dasharray="3.7 99"/>
<path d="M180.4 263l3.6-.9 1.6 1.7-3.6 .8z" fill="#4dd800" stroke-dasharray="3.7 99"/>
<path d="M177.1 263.9l3.6-1 1.6 1.6-3.6 1z" fill="#4fd900" stroke-dasharray="3.8 99"/>
<path d="M173.8 265l3.6-1.2 1.6 1.6-3.6 1.2z" fill="#4dd800" stroke-dasharray="3.8 99"/>
<path d="M170.5 266.3l3.6-1.4 1.6 1.6-3.6 1.3z" fill="#47d800" stroke-dasharray="3.9 99"/>
<path d="M167.2 267.9l3.6-1.8 1.6 1.5-3.6 1.6z" fill="#3ad600" stroke-dasharray="4 99"/>
<path d="M163.9 270l3.6-2.3 1.6 1.3-3.6 2.2z" fill="#23d400" stroke="none"/>
<path d="M160.6 272.7l3.6-3 1.6 1.2-3.6 2.7z" fill="#0fd100" stroke="none"/>
<path d="M157.3 276l3.6-3.7 1.6 1-3.6 3.3z" fill="#0dcf02" stroke="none"/>
<path d="M155.6 278l1.9-2.2 1.6 .6-1.9 2.1z" fill="#0ccd03" stroke="none"/>
<path d="M154.2 284.3l1.5-6.9 1.6 .5-1.4 6.9z" fill="#09c806" stroke="none"/>
<path d="M153.1 292.4l1.3-8.9 1.6 .5-1.3 8.9z" fill="#04c00b" stroke-dasharray="8.9 99"/>
<path d="M152.1 298.7l1.1-7 1.6 .5-1 7z" fill="#00924d" stroke="none"/>
<path d="M151.3 302.8l.9-4.5 1.6 .5-.9 4.7z" fill="#000ae2" stroke-dasharray="4.7 99"/>
<path d="M150.4 304.5l.9-1.8 1.7 .6-1 1.8z" fill="#0002c1" stroke-dasharray="2 99"/>
<path d="M270.2 271.7l1 .3 1.5 .7-.9-.4z" fill="#0001bc" stroke="none"/>
<path d="M269.4 270.4l.9 1.4 1.6 .6-1-1.3z" fill="#0004c8" stroke-dasharray="1.7 99"/>
<path d="M268.4 268l1 2.7 1.6 .6-1-2.2z" fill="#000ae0" stroke="none"/>
<path d="M267.2 264.4l1.3 3.9 1.6 1.1-1.3-3.5z" fill="#0056a3" stroke="none"/>
<path d="M265.9 260.9l1.5 3.8 1.5 1.5-1.4-3.3z" fill="#00b90f" stroke="none"/>
<path d="M264.2 258.9l1.9 2.2 1.5 1.9-1.8-1.9z" fill="#02bd0d" stroke="none"/>
<path d="M260.9 254.5l3.6 4.9 1.6 2.1-3.6-4.4z" fill="#05c10a" stroke="none"/>
<path d="M257.6 250l3.6 4.9 1.6 2.6-3.6-4.8z" fill="#09c806" stroke-dasharray="6.1 99"/>
<path d="M254.3 246.6l3.6 3.7 1.6 2.8-3.6-4z" fill="#0cce03" stroke="none"/>
<path d="M251 245.2l3.6 1.5 1.6 2.6-3.6-2z" fill="#0fd200" stroke="none"/>
<path d="M247.7 245.3l3.6-.1 1.6 2.1-3.6-.2z" fill="#3ed700" stroke="none"/>
<path d="M244.4 246.2l3.6-.9 1.6 1.7-3.6 .9z" fill="#4cd800" stroke-dasharray="3.7 99"/>
<path d="M241.1 247.1l3.6-1 1.6 1.7-3.6 1z" fill="#4dd800" stroke-dasharray="3.8 99"/>
<path d="M237.8 248.2l3.6-1.2 1.6 1.7-3.6 1.1z" fill="#4cd800" stroke-dasharray="3.8 99"/>
<path d="M234.5 249.3l3.6-1.2 1.6 1.6-3.6 1.2z" fill="#48d800" stroke-dasharray="3.8 99"/>
<path d="M231.2 250.6l3.6-1.4 1.6 1.6-3.6 1.3z" fill="#40d700" stroke-dasharray="3.9 99"/>
<path d="M227.9 252.1l3.6-1.6 1.6 1.5-3.6 1.5z" fill="#35d600" stroke-dasharray="4 99"/>
<path d="M224.6 253.7l3.6-1.8 1.6 1.5-3.6 1.7z" fill="#25d400" stroke-dasharray="4.1 99"/>
<path d="M221.3 255.5l3.6-2 1.6 1.4-3.6 1.9z" fill="#10d200" stroke-dasharray="4.1 99"/>
<path d="M218 257.1l3.7-1.8 1.5 1.3-3.6 1.9z" fill="#0ed101" stroke-dasharray="4.1 99"/>
<path d="M214.7 258.5l3.7-1.5 1.5 1.3-3.6 1.6z" fill="#0ed001" stroke-dasharray="3.9 99"/>
<path d="M211.4 259.6l3.7-1.2 1.5 1.4-3.6 1.3z" fill="#0ed001" stroke-dasharray="3.8 99"/>
<path d="M208.1 260.5l3.7-1 1.5 1.5-3.6 1z" fill="#0ed001" stroke="none"/>
<path d="M204.8 261.4l3.7-1 1.6 1.5-3.7 1z" fill="#0ed001" stroke="none"/>
<path d="M201.5 262.3l3.7-1 1.6 1.5-3.7 1z" fill="#0ed001" stroke="none"/>
<path d="M198.2 263l3.7-.7 1.6 1.5-3.7 .8z" fill="#0ed001" stroke-dasharray="3.7 99"/>
<path d="M194.9 263.3l3.7-.3 1.6 1.6-3.7 .4z" fill="#0ed001" stroke-dasharray="3.6 99"/>
<path d="M191.6 263.3l3.7 0 1.6 1.7-3.7 .1z" fill="#0ed101" stroke="none"/>
<path d="M188.3 263.3l3.7 0 1.6 1.8-3.7 0z" fill="#15d300" stroke="none"/>
<path d="M185 263.6l3.7-.4 1.6 1.9-3.7 .3z" fill="#29d500" stroke="none"/>
<path d="M181.7 264.4l3.7-.8 1.6 1.7-3.6 .7z" fill="#35d600" stroke-dasharray="3.7 99"/>
<path d="M178.5 265.3l3.6-1 1.6 1.6-3.6 1z" fill="#38d600" stroke-dasharray="3.8 99"/>
<path d="M175.2 266.3l3.6-1.1 1.6 1.6-3.6 1.1z" fill="#36d600" stroke-dasharray="3.8 99"/>
<path d="M171.9 267.5l3.6-1.3 1.6 1.6-3.6 1.2z" fill="#32d600" stroke-dasharray="3.9 99"/>
<path d="M168.6 269l3.6-1.6 1.6 1.5-3.6 1.5z" fill="#27d500" stroke-dasharray="4 99"/>
<path d="M165.3 271l3.6-2.2 1.6 1.4-3.6 2z" fill="#14d200" stroke-dasharray="4.2 99"/>
<path d="M162 273.4l3.6-2.7 1.6 1.3-3.6 2.4z" fill="#0ed101" stroke-dasharray="4.5 99"/>
<path d="M158.7 276.5l3.6-3.4 1.6 1.1-3.6 3z" fill="#0dcf02" stroke-dasharray="4.9 99"/>
<path d="M156.9 278.4l1.9-2.1 1.7 .7-1.9 2z" fill="#0ccd03" stroke-dasharray="2.9 99"/>
<path d="M155.6 284.7l1.5-6.9 1.6 .6-1.5 6.8z" fill="#09c806" stroke-dasharray="7.1 99"/>
<path d="M154.5 292.8l1.2-8.9 1.6 .5-1.2 8.9z" fill="#04c00b" stroke="none"/>
<path d="M153.5 299.2l1.1-7 1.6 .5-1.1 7z" fill="#00944a" stroke-dasharray="7.1 99"/>
<path d="M152.6 303.4l1-4.7 1.6 .6-1 4.7z" fill="#000ae2" stroke="none"/>
<path d="M151.8 305l.9-1.8 1.6 .6-.9 1.8z" fill="#0002c2" stroke="none"/>
<path d="M271.6 272.2l.9 .4 1.5 .6-.9-.3z" fill="#0001bc" stroke="none"/>
<path d="M270.7 271l1 1.3 1.5 .7-1-1.4z" fill="#0004c8" stroke="none"/>
<path d="M269.7 269l1.1 2.2 1.5 .6-1-2z" fill="#000ade" stroke="none"/>
<path d="M268.6 265.7l1.2 3.6 1.6 .7-1.3-2.9z" fill="#0047b1" stroke-dasharray="3.8 99"/>
<path d="M267.2 262.6l1.5 3.4 1.5 1.4-1.4-3z" fill="#00a52e" stroke="none"/>
<path d="M265.5 260.8l1.9 2 1.5 1.7-1.8-1.7z" fill="#01bb0e" stroke-dasharray="2.7 99"/>
<path d="M262.2 256.7l3.7 4.5 1.5 2-3.6-4z" fill="#04c00b" stroke="none"/>
<path d="M258.9 252.3l3.7 4.9 1.5 2.4-3.6-4.6z" fill="#08c607" stroke="none"/>
<path d="M255.6 248.7l3.7 4 1.5 2.7-3.6-4.1z" fill="#0bcc04" stroke-dasharray="5.4 99"/>
<path d="M252.3 247l3.7 1.9 1.5 2.6-3.6-2.4z" fill="#0ed001" stroke-dasharray="4.1 99"/>
<path d="M249 246.8l3.7 .2 1.5 2.1-3.6-.4z" fill="#1fd400" stroke-dasharray="3.6 99"/>
<path d="M245.7 247.6l3.7-.8 1.5 1.8-3.6 .7z" fill="#33d600" stroke-dasharray="3.7 99"/>
<path d="M242.4 248.6l3.7-1.1 1.5 1.7-3.6 1z" fill="#36d600" stroke-dasharray="3.8 99"/>
<path d="M239.1 249.5l3.7-1 1.5 1.6-3.6 1.1z" fill="#35d600" stroke-dasharray="3.8 99"/>
<path d="M235.9 250.6l3.6-1.2 1.5 1.7-3.6 1.1z" fill="#31d600" stroke-dasharray="3.8 99"/>
<path d="M232.6 251.9l3.6-1.4 1.5 1.6-3.6 1.3z" fill="#2bd500" stroke-dasharray="3.9 99"/>
<path d="M229.3 253.3l3.6-1.6 1.5 1.6-3.6 1.5z" fill="#21d400" stroke-dasharray="3.9 99"/>
<path d="M226 254.9l3.6-1.8 1.5 1.5-3.6 1.7z" fill="#13d200" stroke-dasharray="4 99"/>
<path d="M222.7 256.6l3.6-1.9 1.6 1.4-3.7 1.8z" fill="#0fd100" stroke-dasharray="4.1 99"/>
<path d="M219.4 258.3l3.6-1.9 1.6 1.3-3.7 1.9z" fill="#0ed001" stroke-dasharray="4.1 99"/>
<path d="M216.1 259.7l3.6-1.6 1.6 1.3-3.7 1.7z" fill="#0ed001" stroke="none"/>
<path d="M212.8 260.8l3.6-1.2 1.6 1.4-3.6 1.3z" fill="#0dcf02" stroke="none"/>
<path d="M209.5 261.8l3.6-1 1.6 1.4-3.6 1.1z" fill="#0dcf02" stroke-dasharray="3.8 99"/>
<path d="M206.2 262.7l3.6-1 1.6 1.5-3.6 1z" fill="#0dcf02" stroke-dasharray="3.8 99"/>
<path d="M202.9 263.6l3.6-1 1.6 1.5-3.6 1z" fill="#0dcf02" stroke-dasharray="3.8 99"/>
<path d="M199.6 264.4l3.6-.9 1.6 1.5-3.6 .9z" fill="#0dcf02" stroke="none"/>
<path d="M196.3 264.8l3.6-.5 1.6 1.6-3.6 .6z" fill="#0dcf02" stroke="none"/>
<path d="M193 264.8l3.6 0 1.6 1.7-3.6 .1z" fill="#0ed001" stroke-dasharray="3.6 99"/>
<path d="M189.7 264.8l3.6 0 1.6 1.8-3.6 0z" fill="#0ed101" stroke-dasharray="3.6 99"/>
<path d="M186.4 265.1l3.6-.3 1.6 1.8-3.6 .3z" fill="#0fd200" stroke-dasharray="3.6 99"/>
<path d="M183.1 265.8l3.6-.8 1.6 1.8-3.6 .6z" fill="#1cd300" stroke-dasharray="3.7 99"/>
<path d="M179.8 266.7l3.6-1 1.6 1.6-3.6 1z" fill="#21d400" stroke-dasharray="3.8 99"/>
<path d="M176.5 267.7l3.6-1.1 1.6 1.6-3.6 1.1z" fill="#20d400" stroke-dasharray="3.8 99"/>
<path d="M173.2 268.8l3.6-1.2 1.6 1.6-3.6 1.1z" fill="#1dd300" stroke-dasharray="3.8 99"/>
<path d="M169.9 270.2l3.6-1.5 1.7 1.5-3.7 1.4z" fill="#14d300" stroke-dasharray="3.9 99"/>
<path d="M166.6 272l3.7-2 1.6 1.5-3.7 1.8z" fill="#0fd200" stroke-dasharray="4.1 99"/>
<path d="M163.3 274.3l3.7-2.5 1.6 1.2-3.7 2.3z" fill="#0ed001" stroke="none"/>
<path d="M160 277.1l3.7-3.1 1.6 1.1-3.7 2.8z" fill="#0dce02" stroke="none"/>
<path d="M158.3 278.9l1.9-2 1.6 .8-1.9 1.9z" fill="#0ccd03" stroke="none"/>
<path d="M157 285.1l1.4-6.8 1.7 .7-1.5 6.7z" fill="#09c806" stroke="none"/>
<path d="M155.8 293.2l1.3-8.9 1.6 .6-1.3 8.9z" fill="#04c00b" stroke-dasharray="9 99"/>
<path d="M154.9 299.6l1-7 1.6 .6-1 7z" fill="#009647" stroke="none"/>
<path d="M154 303.9l1-4.7 1.6 .6-1 4.7z" fill="#000be2" stroke-dasharray="4.8 99"/>
<path d="M153.2 305.5l.9-1.8 1.6 .6-.9 1.9z" fill="#0002c2" stroke-dasharray="2 99"/>
<path d="M272.9 272.8l.9 .3 1.5 .7-.9-.4z" fill="#0001bc" stroke="none"/>
<path d="M272 271.5l1 1.4 1.5 .6-1-1.3z" fill="#0004c8" stroke="none"/>
<path d="M271 269.7l1.1 2 1.5 .7-1.1-2.1z" fill="#0009de" stroke-dasharray="2.3 99"/>
<path d="M269.9 266.9l1.2 3 1.5 .7-1.2-2.5z" fill="#003dba" stroke="none"/>
<path d="M268.5 264.1l1.5 3.1 1.5 1.2-1.5-2.7z" fill="#00914e" stroke="none"/>
<path d="M266.8 262.5l1.9 1.8 1.5 1.5-1.9-1.4z" fill="#01ba0e" stroke="none"/>
<path d="M263.5 258.8l3.7 4.1 1.5 1.8-3.7-3.6z" fill="#03be0c" stroke-dasharray="5.4 99"/>
<path d="M260.2 254.6l3.7 4.7 1.5 2.2-3.7-4.3z" fill="#06c409" stroke="none"/>
<path d="M256.9 250.9l3.7 4.1 1.5 2.5-3.6-4.1z" fill="#0aca05" stroke="none"/>
<path d="M253.6 248.8l3.7 2.3 1.5 2.6-3.6-2.7z" fill="#0dce02" stroke="none"/>
<path d="M250.4 248.4l3.6 .4 1.5 2.2-3.6-.7z" fill="#0fd100" stroke="none"/>
<path d="M247.1 249l3.6-.7 1.5 1.9-3.6 .5z" fill="#19d300" stroke-dasharray="3.7 99"/>
<path d="M243.8 250l3.6-1.1 1.5 1.7-3.6 1z" fill="#1ed400" stroke-dasharray="3.8 99"/>
<path d="M240.5 250.9l3.6-1 1.5 1.6-3.6 1.1z" fill="#1ed400" stroke-dasharray="3.8 99"/>
<path d="M237.2 252l3.6-1.2 1.5 1.7-3.6 1.1z" fill="#1bd300" stroke-dasharray="3.8 99"/>
<path d="M233.9 253.2l3.6-1.3 1.5 1.6-3.6 1.3z" fill="#16d300" stroke-dasharray="3.9 99"/>
<path d="M230.6 254.5l3.6-1.4 1.5 1.5-3.6 1.4z" fill="#0fd200" stroke-dasharray="3.9 99"/>
<path d="M227.3 256l3.6-1.6 1.6 1.5-3.7 1.6z" fill="#0fd100" stroke-dasharray="4 99"/>
<path d="M224 257.7l3.6-1.8 1.6 1.4-3.7 1.8z" fill="#0ed101" stroke-dasharray="4.1 99"/>
<path d="M220.7 259.4l3.6-1.9 1.6 1.4-3.6 1.8z" fill="#0ed001" stroke-dasharray="4.1 99"/>
<path d="M217.4 260.9l3.6-1.7 1.6 1.4-3.6 1.7z" fill="#0dcf02" stroke-dasharray="4 99"/>
<path d="M214.1 262.1l3.6-1.3 1.6 1.3-3.6 1.4z" fill="#0dce02" stroke-dasharray="3.9 99"/>
<path d="M210.8 263l3.6-1 1.6 1.4-3.6 1.1z" fill="#0dce02" stroke="none"/>
<path d="M207.5 263.9l3.6-.9 1.6 1.4-3.6 1z" fill="#0dce02" stroke="none"/>
<path d="M204.2 264.9l3.7-1 1.5 1.4-3.6 1.1z" fill="#0dce02" stroke="none"/>
<path d="M200.9 265.7l3.7-.9 1.5 1.5-3.6 .9z" fill="#0dce02" stroke-dasharray="3.7 99"/>
<path d="M197.6 266.2l3.7-.6 1.5 1.6-3.6 .7z" fill="#0dce02" stroke-dasharray="3.7 99"/>
<path d="M194.3 266.4l3.7-.2 1.5 1.6-3.6 .3z" fill="#0dcf02" stroke="none"/>
<path d="M191.1 266.4l3.6 0 1.6 1.7-3.7 .1z" fill="#0ed001" stroke="none"/>
<path d="M187.8 266.6l3.6-.2 1.6 1.8-3.7 .1z" fill="#0ed101" stroke="none"/>
<path d="M184.5 267.2l3.6-.7 1.6 1.8-3.6 .5z" fill="#0fd100" stroke-dasharray="3.7 99"/>
<path d="M181.2 268l3.6-.9 1.6 1.7-3.6 .8z" fill="#0fd200" stroke-dasharray="3.7 99"/>
<path d="M177.9 269l3.6-1.1 1.6 1.6-3.6 1.1z" fill="#0fd200" stroke-dasharray="3.8 99"/>
<path d="M174.6 270.1l3.6-1.2 1.6 1.6-3.6 1.1z" fill="#0fd200" stroke-dasharray="3.8 99"/>
<path d="M171.3 271.4l3.6-1.4 1.6 1.5-3.6 1.4z" fill="#0fd100" stroke-dasharray="3.9 99"/>
<path d="M168 273.1l3.6-1.9 1.6 1.5-3.6 1.7z" fill="#0ed101" stroke-dasharray="4.1 99"/>
<path d="M164.7 275.2l3.6-2.4 1.6 1.4-3.6 2.1z" fill="#0ed001" stroke-dasharray="4.3 99"/>
<path d="M161.4 277.8l3.6-2.9 1.6 1.1-3.6 2.7z" fill="#0dce02" stroke-dasharray="4.6 99"/>
<path d="M159.7 279.5l1.9-1.9 1.6 .9-1.9 1.7z" fill="#0ccc03" stroke-dasharray="2.7 99"/>
<path d="M158.3 285.6l1.5-6.7 1.6 .7-1.4 6.7z" fill="#09c806" stroke-dasharray="6.9 99"/>
<path d="M157.2 293.7l1.3-8.9 1.6 .7-1.3 8.8z" fill="#04c00b" stroke="none"/>
<path d="M156.2 300.1l1.1-7 1.6 .6-1 7z" fill="#009746" stroke-dasharray="7.1 99"/>
<path d="M155.4 304.4l.9-4.7 1.6 .6-.9 4.7z" fill="#000be3" stroke="none"/>
<path d="M154.5 306.1l.9-1.9 1.7 .7-1 1.8z" fill="#0002c2" stroke="none"/>
<path d="M274.1 273.3l1 .4 1.4 .6-.9-.3z" fill="#0001bc" stroke="none"/>
<path d="M273.3 272.1l.9 1.3 1.5 .7-1-1.3z" fill="#0004c8" stroke-dasharray="1.7 99"/>
<path d="M272.3 270.2l1.1 2.1 1.4 .6-1-2z" fill="#0009de" stroke="none"/>
<path d="M271.2 268l1.2 2.5 1.5 .6-1.3-2.4z" fill="#003abd" stroke="none"/>
<path d="M269.8 265.5l1.5 2.8 1.5 .6-1.5-1.9z" fill="#008364" stroke-dasharray="3.2 99"/>
<path d="M268.1 264.1l1.9 1.5 1.5 1.5-1.9-1.3z" fill="#00b90f" stroke="none"/>
<path d="M264.8 260.8l3.6 3.6 1.5 1.7-3.6-3.2z" fill="#02bd0d" stroke="none"/>
<path d="M261.5 256.8l3.6 4.4 1.5 2.1-3.6-4.1z" fill="#05c20a" stroke="none"/>
<path d="M258.2 253l3.6 4.2 1.5 2.4-3.6-4.1z" fill="#09c806" stroke="none"/>
<path d="M254.9 250.6l3.7 2.7 1.4 2.5-3.6-2.9z" fill="#0ccd03" stroke="none"/>
<path d="M251.6 250l3.7 .7 1.4 2.3-3.6-1.1z" fill="#0ed001" stroke-dasharray="3.7 99"/>
<path d="M248.4 250.4l3.6-.5 1.5 2-3.7 .3z" fill="#0fd100" stroke-dasharray="3.7 99"/>
<path d="M245.1 251.4l3.6-1 1.5 1.7-3.6 .9z" fill="#0fd200" stroke-dasharray="3.8 99"/>
<path d="M241.8 252.3l3.6-1 1.5 1.6-3.6 1.1z" fill="#0fd200" stroke-dasharray="3.8 99"/>
<path d="M238.5 253.4l3.6-1.2 1.5 1.7-3.6 1.1z" fill="#0fd200" stroke-dasharray="3.8 99"/>
<path d="M235.2 254.5l3.6-1.3 1.5 1.7-3.6 1.2z" fill="#0fd100" stroke-dasharray="3.8 99"/>
<path d="M231.9 255.8l3.6-1.4 1.5 1.6-3.6 1.3z" fill="#0ed101" stroke-dasharray="3.9 99"/>
<path d="M228.6 257.3l3.6-1.6 1.5 1.5-3.6 1.5z" fill="#0ed001" stroke-dasharray="4 99"/>
<path d="M225.3 258.9l3.6-1.8 1.6 1.5-3.7 1.6z" fill="#0ed001" stroke-dasharray="4 99"/>
<path d="M222 260.5l3.6-1.8 1.6 1.4-3.7 1.8z" fill="#0dcf02" stroke-dasharray="4.1 99"/>
<path d="M218.7 262.1l3.6-1.7 1.6 1.3-3.6 1.7z" fill="#0dce02" stroke="none"/>
<path d="M215.4 263.3l3.7-1.4 1.5 1.4-3.6 1.4z" fill="#0ccd03" stroke="none"/>
<path d="M212.1 264.3l3.7-1.1 1.5 1.4-3.6 1.2z" fill="#0ccd03" stroke-dasharray="3.8 99"/>
<path d="M208.9 265.2l3.6-1 1.5 1.5-3.6 1z" fill="#0ccd03" stroke-dasharray="3.8 99"/>
<path d="M205.6 266.1l3.6-1 1.5 1.5-3.6 1z" fill="#0ccd03" stroke-dasharray="3.8 99"/>
<path d="M202.3 267l3.6-1 1.5 1.5-3.6 1z" fill="#0ccd03" stroke="none"/>
<path d="M199 267.6l3.6-.7 1.6 1.5-3.7 .8z" fill="#0ccd03" stroke="none"/>
<path d="M195.7 267.9l3.6-.3 1.6 1.6-3.6 .4z" fill="#0cce03" stroke-dasharray="3.6 99"/>
<path d="M192.4 267.9l3.6 0 1.6 1.7-3.6 .1z" fill="#0dcf02" stroke-dasharray="3.6 99"/>
<path d="M189.1 268.1l3.6-.2 1.6 1.8-3.6 .1z" fill="#0ed001" stroke-dasharray="3.6 99"/>
<path d="M185.8 268.6l3.6-.6 1.6 1.8-3.6 .5z" fill="#0ed001" stroke="none"/>
<path d="M182.5 269.4l3.6-.9 1.6 1.7-3.6 .8z" fill="#0ed101" stroke-dasharray="3.7 99"/>
<path d="M179.2 270.4l3.6-1.1 1.6 1.6-3.6 1.1z" fill="#0ed101" stroke-dasharray="3.8 99"/>
<path d="M175.9 271.4l3.7-1.1 1.5 1.6-3.6 1.1z" fill="#0ed101" stroke-dasharray="3.8 99"/>
<path d="M172.6 272.6l3.7-1.3 1.6 1.6-3.7 1.2z" fill="#0ed001" stroke-dasharray="3.9 99"/>
<path d="M169.4 274.2l3.6-1.7 1.6 1.5-3.6 1.5z" fill="#0ed001" stroke-dasharray="4 99"/>
<path d="M166.1 276.1l3.6-2.1 1.6 1.3-3.6 2z" fill="#0dcf02" stroke="none"/>
<path d="M162.8 278.5l3.6-2.6 1.6 1.2-3.6 2.4z" fill="#0cce03" stroke="none"/>
<path d="M161 280.1l1.9-1.7 1.7 .9-1.9 1.7z" fill="#0bcc04" stroke="none"/>
<path d="M159.7 286.2l1.5-6.7 1.6 .9-1.5 6.5z" fill="#09c806" stroke="none"/>
<path d="M158.6 294.2l1.2-8.8 1.6 .7-1.2 8.8z" fill="#04c00b" stroke-dasharray="8.9 99"/>
<path d="M157.6 300.6l1.1-7 1.6 .6-1.1 7.1z" fill="#009745" stroke="none"/>
<path d="M156.7 304.9l1-4.7 1.6 .6-1 4.8z" fill="#000be3" stroke-dasharray="4.8 99"/>
<path d="M155.9 306.6l.9-1.8 1.6 .6-.9 1.8z" fill="#0002c2" stroke-dasharray="2.1 99"/>
<path d="M275.4 273.9l.9 .3 1.4 .7-.9-.3z" fill="#0001bc" stroke="none"/>
<path d="M274.5 272.7l1 1.3 1.4 .7-1-1.4z" fill="#0004c8" stroke="none"/>
<path d="M273.6 270.8l1 2 1.4 .7-1-2z" fill="#0009de" stroke-dasharray="2.3 99"/>
<path d="M272.4 268.6l1.3 2.4 1.4 .7-1.3-2.4z" fill="#003abd" stroke-dasharray="2.7 99"/>
<path d="M271.1 266.8l1.4 2 1.5 .6-1.5-1.4z" fill="#007b71" stroke="none"/>
<path d="M269.3 265.5l1.9 1.4 1.5 1.2-1.9-1z" fill="#00ab24" stroke="none"/>
<path d="M266.1 262.6l3.6 3.2 1.4 1.5-3.6-2.8z" fill="#02bc0d" stroke="none"/>
<path d="M262.8 258.9l3.6 4.1 1.4 1.9-3.6-3.8z" fill="#04c00b" stroke-dasharray="5.5 99"/>
<path d="M259.5 255.2l3.6 4 1.4 2.3-3.6-3.9z" fill="#08c607" stroke="none"/>
<path d="M256.2 252.5l3.6 2.9 1.5 2.5-3.6-3.1z" fill="#0bcb04" stroke-dasharray="4.6 99"/>
<path d="M252.9 251.6l3.6 1 1.5 2.3-3.6-1.4z" fill="#0dce02" stroke="none"/>
<path d="M249.6 251.9l3.6-.3 1.5 1.9-3.6 .1z" fill="#0ed001" stroke="none"/>
<path d="M246.3 252.8l3.7-1 1.4 1.8-3.6 .8z" fill="#0ed101" stroke-dasharray="3.7 99"/>
<path d="M243 253.7l3.7-1 1.4 1.6-3.6 1.1z" fill="#0ed101" stroke-dasharray="3.8 99"/>
<path d="M239.8 254.7l3.6-1.1 1.5 1.7-3.7 1.1z" fill="#0ed101" stroke-dasharray="3.8 99"/>
<path d="M236.5 255.8l3.6-1.2 1.5 1.7-3.6 1.1z" fill="#0ed001" stroke-dasharray="3.8 99"/>
<path d="M233.2 257.1l3.6-1.4 1.5 1.6-3.6 1.3z" fill="#0ed001" stroke-dasharray="3.9 99"/>
<path d="M229.9 258.5l3.6-1.5 1.5 1.5-3.6 1.5z" fill="#0ed001" stroke-dasharray="3.9 99"/>
<path d="M226.6 260l3.6-1.7 1.5 1.5-3.6 1.6z" fill="#0dcf02" stroke-dasharray="4 99"/>
<path d="M223.3 261.7l3.6-1.8 1.5 1.4-3.6 1.7z" fill="#0dce02" stroke-dasharray="4 99"/>
<path d="M220 263.2l3.6-1.7 1.6 1.4-3.7 1.7z" fill="#0ccd03" stroke-dasharray="4 99"/>
<path d="M216.7 264.5l3.7-1.4 1.5 1.3-3.6 1.5z" fill="#0ccd03" stroke-dasharray="3.9 99"/>
<path d="M213.5 265.6l3.6-1.2 1.5 1.4-3.6 1.2z" fill="#0ccc03" stroke="none"/>
<path d="M210.2 266.5l3.6-1 1.5 1.4-3.6 1.1z" fill="#0ccc03" stroke="none"/>
<path d="M206.9 267.4l3.6-1 1.5 1.5-3.6 1z" fill="#0ccc03" stroke="none"/>
<path d="M203.6 268.3l3.6-1 1.5 1.5-3.6 1z" fill="#0ccc03" stroke-dasharray="3.7 99"/>
<path d="M200.3 269l3.6-.8 1.6 1.5-3.6 .9z" fill="#0ccc03" stroke-dasharray="3.7 99"/>
<path d="M197 269.3l3.6-.3 1.6 1.5-3.6 .5z" fill="#0ccd03" stroke="none"/>
<path d="M193.7 269.4l3.6-.1 1.6 1.7-3.6 .2z" fill="#0ccd03" stroke="none"/>
<path d="M190.4 269.6l3.7-.2 1.5 1.8-3.6 .1z" fill="#0dce02" stroke="none"/>
<path d="M187.2 270l3.6-.5 1.5 1.8-3.6 .4z" fill="#0dcf02" stroke-dasharray="3.6 99"/>
<path d="M183.9 270.8l3.6-.9 1.6 1.7-3.7 .8z" fill="#0ed001" stroke-dasharray="3.7 99"/>
<path d="M180.6 271.7l3.6-1 1.6 1.6-3.6 1z" fill="#0ed001" stroke-dasharray="3.8 99"/>
<path d="M177.3 272.7l3.6-1.1 1.6 1.6-3.6 1.1z" fill="#0ed001" stroke-dasharray="3.8 99"/>
<path d="M174 273.9l3.6-1.3 1.6 1.6-3.6 1.2z" fill="#0ed001" stroke-dasharray="3.8 99"/>
<path d="M170.7 275.3l3.6-1.6 1.6 1.5-3.6 1.5z" fill="#0dcf02" stroke-dasharray="3.9 99"/>
<path d="M167.4 277.1l3.6-2 1.6 1.4-3.6 1.8z" fill="#0dce02" stroke-dasharray="4.1 99"/>
<path d="M164.1 279.3l3.7-2.4 1.6 1.2-3.6 2.3z" fill="#0ccd03" stroke-dasharray="4.4 99"/>
<path d="M162.4 280.8l1.9-1.6 1.6 1-1.9 1.5z" fill="#0bcc04" stroke-dasharray="2.5 99"/>
<path d="M161.1 286.8l1.4-6.6 1.7 1-1.5 6.4z" fill="#09c806" stroke-dasharray="6.7 99"/>
<path d="M159.9 294.8l1.3-8.8 1.6 .8-1.3 8.6z" fill="#04c00b" stroke="none"/>
<path d="M159 301.2l1-7.1 1.6 .7-1 7z" fill="#009646" stroke-dasharray="7.1 99"/>
<path d="M158.1 305.5l1-4.8 1.6 .7-1 4.7z" fill="#000be3" stroke="none"/>
<path d="M157.3 307.1l.9-1.8 1.6 .6-.9 1.9z" fill="#0002c2" stroke="none"/>
<path d="M276.6 274.5l.9 .3 1.4 .7-.9-.4z" fill="#0001bc" stroke="none"/>
<path d="M275.7 273.2l1 1.4 1.4 .7-1-1.4z" fill="#0004c8" stroke="none"/>
<path d="M274.8 271.4l1 2 1.4 .7-1-2z" fill="#0009de" stroke="none"/>
<path d="M273.6 269.2l1.3 2.4 1.4 .7-1.3-2.4z" fill="#003abd" stroke="none"/>
<path d="M272.3 267.9l1.5 1.4 1.4 .7-1.5-1.4z" fill="#007876" stroke="none"/>
<path d="M270.6 266.8l1.9 1.2 1.4 .6-1.9-.3z" fill="#009f39" stroke-dasharray="2.2 99"/>
<path d="M267.3 264.3l3.6 2.8 1.4 1.4-3.6-2.5z" fill="#01bb0e" stroke="none"/>
<path d="M264 260.8l3.6 3.8 1.4 1.7-3.6-3.3z" fill="#04bf0b" stroke="none"/>
<path d="M260.7 257.2l3.6 4 1.4 2.1-3.6-3.7z" fill="#07c408" stroke-dasharray="5.4 99"/>
<path d="M257.4 254.4l3.6 3.1 1.5 2.3-3.6-3.1z" fill="#0ac905" stroke="none"/>
<path d="M254.2 253.2l3.6 1.4 1.4 2.2-3.6-1.6z" fill="#0ccd03" stroke-dasharray="3.8 99"/>
<path d="M250.9 253.4l3.6-.2 1.4 2-3.6-.1z" fill="#0dcf02" stroke-dasharray="3.6 99"/>
<path d="M247.6 254.2l3.6-.9 1.4 1.8-3.6 .8z" fill="#0dcf02" stroke-dasharray="3.7 99"/>
<path d="M244.3 255.1l3.6-1 1.5 1.7-3.6 1z" fill="#0ed001" stroke-dasharray="3.8 99"/>
<path d="M241 256.1l3.6-1.1 1.5 1.7-3.6 1.1z" fill="#0ed001" stroke-dasharray="3.8 99"/>
<path d="M237.7 257.2l3.6-1.2 1.5 1.7-3.6 1.1z" fill="#0dcf02" stroke-dasharray="3.8 99"/>
<path d="M234.5 258.4l3.6-1.3 1.4 1.6-3.6 1.2z" fill="#0dcf02" stroke-dasharray="3.8 99"/>
<path d="M231.2 259.7l3.6-1.4 1.5 1.5-3.7 1.4z" fill="#0dcf02" stroke-dasharray="3.9 99"/>
<path d="M227.9 261.2l3.6-1.6 1.5 1.5-3.6 1.5z" fill="#0dce02" stroke-dasharray="4 99"/>
<path d="M224.6 262.8l3.6-1.7 1.5 1.4-3.6 1.7z" fill="#0ccd03" stroke-dasharray="4 99"/>
<path d="M221.3 264.4l3.6-1.7 1.5 1.3-3.6 1.7z" fill="#0ccd03" stroke="none"/>
<path d="M218 265.7l3.6-1.5 1.5 1.4-3.6 1.5z" fill="#0bcc04" stroke="none"/>
<path d="M214.8 266.8l3.6-1.2 1.5 1.4-3.6 1.3z" fill="#0bcc04" stroke-dasharray="3.8 99"/>
<path d="M211.5 267.7l3.6-1 1.5 1.5-3.6 1z" fill="#0bcb04" stroke-dasharray="3.8 99"/>
<path d="M208.2 268.6l3.6-1 1.5 1.5-3.6 1z" fill="#0bcb04" stroke-dasharray="3.7 99"/>
<path d="M204.9 269.6l3.6-1.1 1.5 1.5-3.6 1z" fill="#0bcb04" stroke="none"/>
<path d="M201.6 270.3l3.6-.8 1.6 1.4-3.6 1z" fill="#0bcb04" stroke="none"/>
<path d="M198.3 270.8l3.6-.5 1.6 1.5-3.6 .6z" fill="#0bcc04" stroke-dasharray="3.6 99"/>
<path d="M195.1 270.9l3.6-.1 1.5 1.6-3.6 .3z" fill="#0ccc03" stroke-dasharray="3.6 99"/>
<path d="M191.8 271.1l3.6-.2 1.5 1.8-3.6 .1z" fill="#0ccd03" stroke-dasharray="3.6 99"/>
<path d="M188.5 271.5l3.6-.5 1.6 1.8-3.6 .4z" fill="#0dce02" stroke="none"/>
<path d="M185.2 272.2l3.6-.8 1.6 1.7-3.6 .7z" fill="#0dcf02" stroke-dasharray="3.7 99"/>
<path d="M181.9 273.1l3.6-1 1.6 1.6-3.6 .9z" fill="#0dcf02" stroke-dasharray="3.7 99"/>
<path d="M178.6 274.1l3.6-1.1 1.6 1.5-3.6 1.1z" fill="#0dcf02" stroke-dasharray="3.8 99"/>
<path d="M175.4 275.1l3.6-1.2 1.6 1.6-3.7 1.2z" fill="#0dcf02" stroke-dasharray="3.8 99"/>
<path d="M172.1 276.5l3.6-1.5 1.6 1.5-3.6 1.4z" fill="#0dce02" stroke-dasharray="3.9 99"/>
<path d="M168.8 278.1l3.6-1.8 1.6 1.4-3.6 1.7z" fill="#0cce03" stroke="none"/>
<path d="M165.5 280.2l3.6-2.3 1.6 1.3-3.6 2.1z" fill="#0ccd03" stroke="none"/>
<path d="M163.8 281.6l1.9-1.5 1.6 1.1-1.9 1.4z" fill="#0bcb04" stroke="none"/>
<path d="M162.4 287.4l1.5-6.4 1.6 1-1.4 6.3z" fill="#09c806" stroke="none"/>
<path d="M161.3 295.3l1.3-8.7 1.6 .9-1.3 8.6z" fill="#04c00b" stroke-dasharray="8.8 99"/>
<path d="M160.3 301.7l1.1-7 1.6 .7-1 7z" fill="#009548" stroke="none"/>
<path d="M159.5 306l.9-4.7 1.6 .6-.9 4.7z" fill="#000be3" stroke-dasharray="4.8 99"/>
<path d="M158.6 307.7l.9-1.9 1.7 .7-1 1.8z" fill="#0002c2" stroke-dasharray="2.1 99"/>
<path d="M277.8 275l.9 .4 1.4 .7-.9-.4z" fill="#0001bc" stroke="none"/>
<path d="M276.9 273.8l1 1.4 1.4 .7-1-1.4z" fill="#0004c8" stroke-dasharray="1.7 99"/>
<path d="M276 272l1 2 1.4 .7-1.1-2z" fill="#0009de" stroke="none"/>
<path d="M274.8 269.8l1.3 2.4 1.3 .7-1.2-2.4z" fill="#003abd" stroke="none"/>
<path d="M273.5 268.5l1.5 1.4 1.3 .7-1.5-1.4z" fill="#007876" stroke="none"/>
<path d="M271.8 268.1l1.9 .4 1.3 .7-1.9 .2z" fill="#009745" stroke="none"/>
<path d="M268.5 265.8l3.6 2.5 1.3 1.3-3.5-2.2z" fill="#00ba0f" stroke-dasharray="4.4 99"/>
<path d="M265.2 262.7l3.6 3.4 1.4 1.6-3.6-3z" fill="#03be0c" stroke="none"/>
<path d="M261.9 259.2l3.6 3.8 1.4 2-3.6-3.5z" fill="#06c309" stroke="none"/>
<path d="M258.6 256.3l3.7 3.2 1.3 2.2-3.6-3.1z" fill="#09c806" stroke="none"/>
<path d="M255.4 254.9l3.6 1.6 1.4 2.2-3.6-1.8z" fill="#0bcb04" stroke="none"/>
<path d="M252.1 254.9l3.6 0 1.4 2-3.6-.2z" fill="#0cce03" stroke="none"/>
<path d="M248.8 255.6l3.6-.8 1.4 1.8-3.6 .7z" fill="#0dce02" stroke-dasharray="3.7 99"/>
<path d="M245.5 256.5l3.6-1 1.5 1.7-3.6 1z" fill="#0dcf02" stroke-dasharray="3.7 99"/>
<path d="M242.3 257.5l3.6-1.1 1.4 1.7-3.6 1z" fill="#0dcf02" stroke-dasharray="3.8 99"/>
<path d="M239 258.5l3.6-1.1 1.4 1.6-3.6 1.2z" fill="#0dce02" stroke-dasharray="3.8 99"/>
<path d="M235.7 259.7l3.6-1.3 1.5 1.6-3.6 1.3z" fill="#0dce02" stroke-dasharray="3.8 99"/>
<path d="M232.4 261l3.6-1.4 1.5 1.6-3.6 1.3z" fill="#0cce03" stroke-dasharray="3.9 99"/>
<path d="M229.1 262.4l3.7-1.5 1.4 1.5-3.6 1.5z" fill="#0ccd03" stroke-dasharray="3.9 99"/>
<path d="M225.9 264l3.6-1.7 1.4 1.4-3.6 1.7z" fill="#0ccd03" stroke-dasharray="4 99"/>
<path d="M222.6 265.5l3.6-1.7 1.5 1.4-3.6 1.7z" fill="#0bcc04" stroke-dasharray="4 99"/>
<path d="M219.3 266.9l3.6-1.5 1.5 1.4-3.6 1.5z" fill="#0bcb04" stroke-dasharray="3.9 99"/>
<path d="M216 268l3.6-1.2 1.5 1.4-3.6 1.3z" fill="#0bcb04" stroke="none"/>
<path d="M212.8 269l3.6-1.1 1.5 1.5-3.6 1.1z" fill="#0bcb04" stroke="none"/>
<path d="M209.5 269.9l3.6-1 1.5 1.5-3.6 1z" fill="#0bcb04" stroke="none"/>
<path d="M206.2 270.8l3.6-1 1.5 1.5-3.6 1z" fill="#0bcb04" stroke-dasharray="3.7 99"/>
<path d="M202.9 271.6l3.6-.9 1.6 1.5-3.6 .9z" fill="#0bcb04" stroke-dasharray="3.7 99"/>
<path d="M199.6 272.2l3.7-.6 1.5 1.5-3.6 .7z" fill="#0bcb04" stroke="none"/>
<path d="M196.4 272.4l3.6-.2 1.5 1.6-3.6 .3z" fill="#0bcb04" stroke="none"/>
<path d="M193.1 272.6l3.6-.2 1.5 1.7-3.6 .2z" fill="#0bcc04" stroke="none"/>
<path d="M189.8 272.9l3.6-.4 1.6 1.8-3.6 .3z" fill="#0ccd03" stroke-dasharray="3.6 99"/>
<path d="M186.5 273.5l3.6-.7 1.6 1.7-3.6 .7z" fill="#0cce03" stroke="none"/>
<path d="M183.3 274.4l3.6-.9 1.5 1.6-3.6 .9z" fill="#0cce03" stroke-dasharray="3.7 99"/>
<path d="M180 275.4l3.6-1.1 1.6 1.6-3.6 1z" fill="#0cce03" stroke-dasharray="3.8 99"/>
<path d="M176.7 276.4l3.6-1.1 1.6 1.5-3.6 1.2z" fill="#0cce03" stroke-dasharray="3.8 99"/>
<path d="M173.4 277.7l3.6-1.4 1.6 1.5-3.6 1.3z" fill="#0ccd03" stroke-dasharray="3.9 99"/>
<path d="M170.1 279.2l3.7-1.7 1.6 1.5-3.6 1.5z" fill="#0ccd03" stroke-dasharray="4 99"/>
<path d="M166.9 281.1l3.6-2.1 1.6 1.4-3.6 1.9z" fill="#0bcc04" stroke-dasharray="4.2 99"/>
<path d="M165.2 282.4l1.8-1.4 1.7 1.2-1.9 1.3z" fill="#0bcb04" stroke-dasharray="2.4 99"/>
<path d="M163.8 288.1l1.5-6.2 1.6 1-1.5 6.1z" fill="#09c706" stroke-dasharray="6.5 99"/>
<path d="M162.7 295.9l1.2-8.5 1.6 .9-1.2 8.4z" fill="#04c00b" stroke="none"/>
<path d="M161.7 302.3l1.1-7 1.6 .8-1.1 6.8z" fill="#00944a" stroke-dasharray="7 99"/>
<path d="M160.8 306.5l1-4.7 1.6 .7-1 4.7z" fill="#000be2" stroke="none"/>
<path d="M160 308.2l.9-1.8 1.6 .6-.9 1.8z" fill="#0002c2" stroke="none"/>
<path d="M279 275.6l.9 .4 1.3 .7-.9-.4z" fill="#0001bc" stroke="none"/>
<path d="M278.1 274.4l.9 1.4 1.4 .7-1-1.4z" fill="#0004c8" stroke="none"/>
<path d="M277.1 272.5l1.1 2.1 1.3 .7-1-2z" fill="#0009de" stroke-dasharray="2.3 99"/>
<path d="M276 270.4l1.2 2.4 1.4 .7-1.3-2.4z" fill="#003abd" stroke-dasharray="2.7 99"/>
<path d="M274.6 269.1l1.5 1.4 1.3 .7-1.4-1.4z" fill="#007876" stroke="none"/>
<path d="M272.9 269.2l1.9-.1 1.3 .6-1.9 .5z" fill="#00924e" stroke-dasharray="1.9 99"/>
<path d="M269.6 267.2l3.6 2.2 1.4 1-3.6-1.7z" fill="#00b90f" stroke="none"/>
<path d="M266.4 264.4l3.6 3.1 1.3 1.4-3.6-2.6z" fill="#02bd0d" stroke="none"/>
<path d="M263.1 261.1l3.6 3.6 1.3 1.9-3.5-3.3z" fill="#05c10a" stroke="none"/>
<path d="M259.8 258.2l3.6 3.2 1.4 2.1-3.6-3.1z" fill="#08c607" stroke-dasharray="4.8 99"/>
<path d="M256.6 256.6l3.6 1.8 1.3 2.2-3.6-2z" fill="#0aca05" stroke-dasharray="4 99"/>
<path d="M253.3 256.4l3.6 .2 1.4 2.1-3.6-.5z" fill="#0ccc03" stroke-dasharray="3.6 99"/>
<path d="M250 257l3.6-.7 1.4 1.8-3.6 .6z" fill="#0ccd03" stroke-dasharray="3.7 99"/>
<path d="M246.7 257.9l3.6-1 1.4 1.7-3.6 1z" fill="#0cce03" stroke-dasharray="3.7 99"/>
<path d="M243.5 258.9l3.6-1.1 1.4 1.7-3.6 1z" fill="#0cce03" stroke-dasharray="3.7 99"/>
<path d="M240.2 259.9l3.6-1.1 1.4 1.6-3.6 1.1z" fill="#0ccd03" stroke-dasharray="3.8 99"/>
<path d="M236.9 261l3.6-1.2 1.4 1.6-3.5 1.2z" fill="#0ccd03" stroke-dasharray="3.8 99"/>
<path d="M233.7 262.3l3.6-1.4 1.4 1.6-3.6 1.3z" fill="#0ccd03" stroke-dasharray="3.8 99"/>
<path d="M230.4 263.6l3.6-1.5 1.4 1.6-3.6 1.4z" fill="#0ccc03" stroke-dasharray="3.9 99"/>
<path d="M227.1 265.2l3.6-1.7 1.5 1.5-3.6 1.6z" fill="#0bcc04" stroke-dasharray="4 99"/>
<path d="M223.9 266.7l3.5-1.7 1.5 1.4-3.6 1.7z" fill="#0bcb04" stroke="none"/>
<path d="M220.6 268.1l3.6-1.6 1.4 1.4-3.6 1.6z" fill="#0aca05" stroke="none"/>
<path d="M217.3 269.3l3.6-1.3 1.5 1.4-3.6 1.3z" fill="#0aca05" stroke-dasharray="3.8 99"/>
<path d="M214 270.2l3.6-1 1.5 1.4-3.6 1.1z" fill="#0aca05" stroke-dasharray="3.8 99"/>
<path d="M210.8 271.1l3.6-1 1.5 1.5-3.6 1z" fill="#0aca05" stroke-dasharray="3.7 99"/>
<path d="M207.5 272.1l3.6-1.1 1.5 1.5-3.6 1z" fill="#0aca05" stroke="none"/>
<path d="M204.2 272.9l3.6-.9 1.5 1.4-3.6 1z" fill="#0aca05" stroke="none"/>
<path d="M201 273.6l3.6-.8 1.5 1.5-3.6 .8z" fill="#0aca05" stroke-dasharray="3.7 99"/>
<path d="M197.7 273.9l3.6-.4 1.5 1.6-3.6 .5z" fill="#0aca05" stroke-dasharray="3.6 99"/>
<path d="M194.4 274.1l3.6-.2 1.5 1.6-3.5 .3z" fill="#0bcb04" stroke-dasharray="3.6 99"/>
<path d="M191.1 274.3l3.6-.3 1.6 1.8-3.6 .3z" fill="#0bcc04" stroke="none"/>
<path d="M187.9 274.9l3.6-.6 1.5 1.7-3.6 .6z" fill="#0ccc03" stroke-dasharray="3.7 99"/>
<path d="M184.6 275.7l3.6-.9 1.6 1.7-3.6 .8z" fill="#0ccd03" stroke-dasharray="3.7 99"/>
<path d="M181.3 276.7l3.6-1 1.6 1.5-3.6 1.1z" fill="#0ccd03" stroke-dasharray="3.7 99"/>
<path d="M178.1 277.7l3.6-1.1 1.5 1.6-3.6 1.1z" fill="#0ccd03" stroke-dasharray="3.8 99"/>
<path d="M174.8 278.9l3.6-1.3 1.6 1.5-3.6 1.3z" fill="#0ccd03" stroke-dasharray="3.8 99"/>
<path d="M171.5 280.3l3.6-1.5 1.6 1.4-3.6 1.5z" fill="#0bcc04" stroke="none"/>
<path d="M168.2 282.1l3.6-2 1.6 1.4-3.5 1.8z" fill="#0bcb04" stroke="none"/>
<path d="M166.5 283.3l1.9-1.3 1.6 1.2-1.9 1.2z" fill="#0aca05" stroke="none"/>
<path d="M165.2 288.9l1.5-6.2 1.6 1.2-1.5 5.9z" fill="#08c707" stroke="none"/>
<path d="M164 296.6l1.3-8.5 1.6 1-1.3 8.3z" fill="#04bf0b" stroke-dasharray="8.5 99"/>
<path d="M163.1 302.8l1-6.9 1.6 .9-1 6.7z" fill="#00914e" stroke="none"/>
<path d="M162.2 307.1l1-4.7 1.6 .7-1 4.6z" fill="#000ae2" stroke-dasharray="4.8 99"/>
<path d="M161.4 308.7l.9-1.8 1.6 .6-.9 1.9z" fill="#0002c2" stroke-dasharray="2.1 99"/>
<path d="M280.1 276.2l.9 .4 1.3 .7-.9-.3z" fill="#0001bc" stroke="none"/>
<path d="M279.2 275l1 1.4 1.3 .7-1-1.4z" fill="#0004c8" stroke="none"/>
<path d="M278.3 273.1l1 2.1 1.3 .7-1.1-2z" fill="#0009de" stroke="none"/>
<path d="M277.1 271l1.3 2.4 1.3 .7-1.3-2.4z" fill="#003abd" stroke="none"/>
<path d="M275.8 269.7l1.4 1.4 1.3 .7-1.4-1.4z" fill="#007876" stroke="none"/>
<path d="M274 270.1l1.9-.5 1.3 .8-1.9 .4z" fill="#009051" stroke="none"/>
<path d="M270.8 268.5l3.6 1.8 1.3 .6-3.6-1z" fill="#00ae20" stroke="none"/>
<path d="M267.5 266l3.6 2.7 1.3 1.4-3.6-2.4z" fill="#02bc0d" stroke-dasharray="4.5 99"/>
<path d="M264.3 262.9l3.5 3.4 1.4 1.7-3.6-3z" fill="#04c00b" stroke="none"/>
<path d="M261 260.1l3.6 3.1 1.3 2-3.6-3z" fill="#07c508" stroke="none"/>
<path d="M257.7 258.3l3.6 2 1.3 2.1-3.5-2.1z" fill="#09c906" stroke="none"/>
<path d="M254.5 257.9l3.6 .4 1.3 2.1-3.6-.7z" fill="#0bcb04" stroke="none"/>
<path d="M251.2 258.4l3.6-.5 1.3 1.8-3.5 .4z" fill="#0ccc03" stroke-dasharray="3.6 99"/>
<path d="M247.9 259.3l3.6-.9 1.4 1.7-3.6 .9z" fill="#0ccd03" stroke-dasharray="3.7 99"/>
<path d="M244.7 260.3l3.6-1.1 1.3 1.7-3.5 1z" fill="#0ccd03" stroke-dasharray="3.7 99"/>
<path d="M241.4 261.3l3.6-1.1 1.4 1.6-3.6 1.1z" fill="#0ccc03" stroke-dasharray="3.8 99"/>
<path d="M238.1 262.4l3.6-1.2 1.4 1.6-3.6 1.2z" fill="#0ccc03" stroke-dasharray="3.8 99"/>
<path d="M234.9 263.6l3.6-1.3 1.4 1.6-3.6 1.2z" fill="#0bcc04" stroke-dasharray="3.8 99"/>
<path d="M231.6 264.9l3.6-1.5 1.4 1.6-3.6 1.4z" fill="#0bcc04" stroke-dasharray="3.9 99"/>
<path d="M228.4 266.3l3.5-1.6 1.5 1.6-3.6 1.5z" fill="#0bcb04" stroke-dasharray="3.9 99"/>
<path d="M225.1 267.9l3.6-1.7 1.4 1.4-3.6 1.6z" fill="#0aca05" stroke-dasharray="4 99"/>
<path d="M221.8 269.3l3.6-1.6 1.5 1.4-3.6 1.6z" fill="#0aca05" stroke-dasharray="3.9 99"/>
<path d="M218.6 270.5l3.6-1.3 1.4 1.3-3.6 1.4z" fill="#0ac905" stroke="none"/>
<path d="M215.3 271.5l3.6-1.1 1.5 1.4-3.6 1.1z" fill="#0ac905" stroke="none"/>
<path d="M212 272.4l3.6-1 1.5 1.5-3.6 1z" fill="#0ac905" stroke="none"/>
<path d="M208.8 273.3l3.6-1 1.4 1.5-3.5 1z" fill="#0ac905" stroke-dasharray="3.7 99"/>
<path d="M205.5 274.2l3.6-1 1.5 1.5-3.6 1z" fill="#0ac905" stroke-dasharray="3.7 99"/>
<path d="M202.2 274.9l3.6-.8 1.5 1.5-3.5 .8z" fill="#0ac905" stroke="none"/>
<path d="M199 275.3l3.6-.5 1.5 1.6-3.6 .6z" fill="#0ac905" stroke="none"/>
<path d="M195.7 275.5l3.6-.2 1.5 1.6-3.6 .3z" fill="#0aca05" stroke="none"/>
<path d="M192.5 275.8l3.5-.3 1.6 1.7-3.6 .3z" fill="#0bcb04" stroke-dasharray="3.6 99"/>
<path d="M189.2 276.3l3.6-.6 1.5 1.8-3.6 .5z" fill="#0bcb04" stroke="none"/>
<path d="M185.9 277.1l3.6-.9 1.6 1.7-3.6 .8z" fill="#0bcc04" stroke-dasharray="3.7 99"/>
<path d="M182.7 278l3.6-1 1.5 1.6-3.6 1z" fill="#0bcc04" stroke-dasharray="3.7 99"/>
<path d="M179.4 279l3.6-1.1 1.6 1.6-3.6 1.1z" fill="#0bcc04" stroke-dasharray="3.8 99"/>
<path d="M176.1 280.1l3.6-1.2 1.6 1.6-3.6 1.1z" fill="#0bcc04" stroke-dasharray="3.8 99"/>
<path d="M172.9 281.5l3.6-1.5 1.6 1.5-3.6 1.4z" fill="#0bcb04" stroke-dasharray="3.9 99"/>
<path d="M169.6 283.1l3.6-1.8 1.6 1.4-3.6 1.7z" fill="#0bcb04" stroke-dasharray="4 99"/>
<path d="M167.9 284.2l1.9-1.2 1.6 1.3-1.9 1.1z" fill="#0aca05" stroke-dasharray="2.3 99"/>
<path d="M166.5 289.7l1.5-6 1.6 1.2-1.4 5.8z" fill="#08c607" stroke-dasharray="6.2 99"/>
<path d="M165.4 297.2l1.3-8.3 1.6 1-1.3 8.2z" fill="#04bf0b" stroke="none"/>
<path d="M164.4 303.4l1.1-6.8 1.6 .9-1 6.6z" fill="#008e53" stroke-dasharray="6.9 99"/>
<path d="M163.6 307.6l.9-4.6 1.6 .7-.9 4.6z" fill="#000ae2" stroke="none"/>
<path d="M162.7 309.3l.9-1.9 1.7 .7-1 1.8z" fill="#0002c2" stroke="none"/>
<path d="M281.2 276.8l.9 .4 1.3 .7-1-.3z" fill="#0001bc" stroke="none"/>
<path d="M280.3 275.6l1 1.4 1.2 .7-.9-1.4z" fill="#0004c8" stroke="none"/>
<path d="M279.4 273.8l1 2 1.3 .7-1.1-2z" fill="#0009de" stroke="none"/>
<path d="M278.2 271.6l1.3 2.4 1.2 .7-1.2-2.4z" fill="#003abd" stroke="none"/>
<path d="M276.9 270.3l1.4 1.4 1.3 .7-1.5-1.3z" fill="#007877" stroke-dasharray="2 99"/>
<path d="M275.1 270.7l1.9-.5 1.3 .8-1.9 .5z" fill="#008f52" stroke-dasharray="2 99"/>
<path d="M271.9 269.7l3.6 1.1 1.2 .8-3.5-.5z" fill="#00a52e" stroke-dasharray="3.8 99"/>
<path d="M268.6 267.5l3.6 2.4 1.3 1.4-3.6-2z" fill="#01bb0e" stroke="none"/>
<path d="M265.4 264.7l3.6 3 1.2 1.8-3.5-2.7z" fill="#03bf0c" stroke-dasharray="4.7 99"/>
<path d="M262.1 261.9l3.6 3 1.3 2.1-3.6-2.8z" fill="#06c309" stroke="none"/>
<path d="M258.9 260l3.6 2.1 1.2 2.3-3.5-2.1z" fill="#08c707" stroke-dasharray="4.2 99"/>
<path d="M255.6 259.4l3.6 .6 1.3 2.3-3.6-.7z" fill="#0aca05" stroke-dasharray="3.6 99"/>
<path d="M252.4 259.8l3.5-.4 1.4 2.1-3.6 .4z" fill="#0bcb04" stroke="none"/>
<path d="M249.1 260.7l3.6-1 1.3 2.1-3.6 .9z" fill="#0bcb04" stroke-dasharray="3.7 99"/>
<path d="M245.8 261.6l3.6-1 1.4 2-3.6 1z" fill="#0bcb04" stroke-dasharray="3.7 99"/>
<path d="M242.6 262.6l3.6-1.1 1.3 2-3.5 1.1z" fill="#0bcb04" stroke-dasharray="3.7 99"/>
<path d="M239.3 263.7l3.6-1.2 1.4 2-3.6 1.1z" fill="#0bcb04" stroke-dasharray="3.8 99"/>
<path d="M236.1 264.8l3.6-1.2 1.3 1.9-3.5 1.2z" fill="#0bcb04" stroke-dasharray="3.8 99"/>
<path d="M232.8 266.1l3.6-1.4 1.4 1.9-3.6 1.3z" fill="#0bcb04" stroke="none"/>
<path d="M229.6 267.5l3.6-1.5 1.3 1.8-3.5 1.5z" fill="#0aca05" stroke="none"/>
<path d="M226.3 269l3.6-1.6 1.4 1.7-3.6 1.6z" fill="#0ac905" stroke="none"/>
<path d="M223.1 270.4l3.5-1.6 1.5 1.8-3.6 1.5z" fill="#09c906" stroke="none"/>
<path d="M219.8 271.7l3.6-1.4 1.4 1.7-3.6 1.4z" fill="#09c806" stroke-dasharray="3.8 99"/>
<path d="M216.5 272.7l3.6-1.1 1.5 1.7-3.6 1.1z" fill="#09c806" stroke-dasharray="3.8 99"/>
<path d="M213.3 273.6l3.6-1 1.4 1.7-3.5 1z" fill="#09c806" stroke-dasharray="3.7 99"/>
<path d="M210 274.5l3.6-1 1.5 1.8-3.6 .9z" fill="#09c806" stroke="none"/>
<path d="M206.8 275.4l3.6-1 1.4 1.7-3.5 1z" fill="#09c806" stroke="none"/>
<path d="M203.5 276.2l3.6-.9 1.5 1.8-3.6 .9z" fill="#09c806" stroke-dasharray="3.7 99"/>
<path d="M200.3 276.7l3.6-.6 1.5 1.8-3.6 .7z" fill="#09c806" stroke-dasharray="3.6 99"/>
<path d="M197 276.9l3.6-.3 1.5 1.9-3.6 .4z" fill="#09c906" stroke-dasharray="3.6 99"/>
<path d="M193.8 277.2l3.5-.3 1.6 2-3.6 .3z" fill="#0aca05" stroke="none"/>
<path d="M190.5 277.7l3.6-.5 1.5 2-3.5 .4z" fill="#0aca05" stroke-dasharray="3.6 99"/>
<path d="M187.3 278.4l3.5-.8 1.6 2-3.6 .7z" fill="#0bcb04" stroke="none"/>
<path d="M184 279.3l3.6-1 1.5 1.9-3.5 1z" fill="#0bcb04" stroke="none"/>
<path d="M180.7 280.3l3.6-1.1 1.6 1.9-3.6 1z" fill="#0bcb04" stroke="none"/>
<path d="M177.5 281.3l3.6-1.1 1.5 1.8-3.5 1.2z" fill="#0bcb04" stroke="none"/>
<path d="M174.2 282.6l3.6-1.4 1.6 1.8-3.6 1.3z" fill="#0aca05" stroke="none"/>
<path d="M171 284.1l3.6-1.7 1.6 1.8-3.6 1.5z" fill="#0aca05" stroke="none"/>
<path d="M169.3 285.2l1.8-1.2 1.7 1.6-1.9 1z" fill="#0ac905" stroke="none"/>
<path d="M167.9 290.5l1.5-5.9 1.6 1.5-1.5 5.5z" fill="#08c607" stroke-dasharray="6.1 99"/>
<path d="M166.8 297.9l1.2-8.1 1.6 1-1.2 8z" fill="#03bf0c" stroke-dasharray="8.2 99"/>
<path d="M165.8 304l1.1-6.7 1.6 .9-1.1 6.5z" fill="#008b59" stroke="none"/>
<path d="M164.9 308.2l1-4.6 1.6 .7-1 4.5z" fill="#000ae1" stroke-dasharray="4.7 99"/>
<path d="M164.1 309.8l.9-1.8 1.6 .6-.9 1.8z" fill="#0002c1" stroke-dasharray="2 99"/>
<path d="M282.3 277.5l.9 .3 1.2 .7-.9-.3z" fill="#0001bc" stroke="none"/>
<path d="M281.4 276.2l.9 1.4 1.2 .7-.9-1.3z" fill="#0004c8" stroke-dasharray="1.7 99"/>
<path d="M280.4 274.4l1.1 2 1.2 .8-1.1-2.1z" fill="#0009de" stroke-dasharray="2.3 99"/>
<path d="M279.3 272.2l1.2 2.4 1.2 .7-1.2-2.4z" fill="#003abd" stroke-dasharray="2.7 99"/>
<path d="M277.9 270.9l1.5 1.4 1.2 .7-1.5-1.1z" fill="#00767a" stroke="none"/>
<path d="M276.2 271.4l1.9-.5 1.2 1-1.9 .5z" fill="#008a59" stroke="none"/>
<path d="M273 270.9l3.5 .5 1.2 1-3.5 0z" fill="#009a40" stroke="none"/>
<path d="M269.7 269l3.6 2.1 1.2 1.5-3.5-1.7z" fill="#01ba0e" stroke="none"/>
<path d="M266.5 266.4l3.5 2.8 1.3 1.9-3.6-2.4z" fill="#03bd0c" stroke="none"/>
<path d="M263.2 263.8l3.6 2.9 1.2 2.2-3.5-2.5z" fill="#05c10a" stroke-dasharray="4.6 99"/>
<path d="M260 261.9l3.6 2.1 1.2 2.6-3.5-2.1z" fill="#07c508" stroke="none"/>
<path d="M256.7 261.2l3.6 .7 1.3 2.7-3.6-.9z" fill="#09c806" stroke="none"/>
<path d="M253.5 261.5l3.6-.4 1.2 2.6-3.5 .3z" fill="#0ac905" stroke-dasharray="3.6 99"/>
<path d="M250.2 262.3l3.6-.9 1.3 2.5-3.5 .8z" fill="#0aca05" stroke-dasharray="3.7 99"/>
<path d="M247 263.3l3.6-1.1 1.3 2.4-3.6 1.1z" fill="#0aca05" stroke-dasharray="3.7 99"/>
<path d="M243.8 264.2l3.5-1 1.3 2.4-3.5 1z" fill="#0aca05" stroke-dasharray="3.7 99"/>
<path d="M240.5 265.2l3.6-1.1 1.3 2.4-3.5 1.1z" fill="#0aca05" stroke-dasharray="3.7 99"/>
<path d="M237.3 266.4l3.5-1.3 1.4 2.4-3.6 1.2z" fill="#0ac905" stroke-dasharray="3.8 99"/>
<path d="M234 267.6l3.6-1.4 1.3 2.4-3.5 1.2z" fill="#0ac905" stroke-dasharray="3.8 99"/>
<path d="M230.8 268.9l3.5-1.4 1.4 2.2-3.5 1.4z" fill="#09c906" stroke-dasharray="3.9 99"/>
<path d="M227.5 270.4l3.6-1.6 1.4 2.2-3.6 1.5z" fill="#09c806" stroke-dasharray="3.9 99"/>
<path d="M224.3 271.8l3.5-1.6 1.4 2.2-3.5 1.5z" fill="#09c806" stroke-dasharray="3.9 99"/>
<path d="M221 273.1l3.6-1.4 1.4 2-3.5 1.4z" fill="#08c707" stroke-dasharray="3.8 99"/>
<path d="M217.8 274.1l3.6-1.2 1.4 2.1-3.6 1.2z" fill="#08c707" stroke-dasharray="3.8 99"/>
<path d="M214.5 275l3.6-1 1.4 2.1-3.5 1.1z" fill="#08c707" stroke-dasharray="3.7 99"/>
<path d="M211.3 275.9l3.6-1 1.4 2.2-3.5 .9z" fill="#08c707" stroke-dasharray="3.7 99"/>
<path d="M208 276.8l3.6-1 1.5 2.1-3.6 1z" fill="#08c707" stroke-dasharray="3.7 99"/>
<path d="M204.8 277.6l3.6-.9 1.4 2.2-3.5 .9z" fill="#08c707" stroke-dasharray="3.7 99"/>
<path d="M201.6 278.2l3.5-.6 1.5 2.1-3.5 .8z" fill="#08c707" stroke-dasharray="3.6 99"/>
<path d="M198.3 278.6l3.6-.4 1.5 2.2-3.6 .5z" fill="#09c706" stroke-dasharray="3.6 99"/>
<path d="M195.1 278.8l3.5-.3 1.5 2.4-3.5 .3z" fill="#09c806" stroke-dasharray="3.6 99"/>
<path d="M191.8 279.3l3.6-.5 1.5 2.4-3.5 .5z" fill="#09c906" stroke-dasharray="3.6 99"/>
<path d="M188.6 280l3.5-.8 1.6 2.4-3.6 .7z" fill="#0ac905" stroke-dasharray="3.6 99"/>
<path d="M185.3 280.8l3.6-.9 1.5 2.3-3.5 .9z" fill="#0ac905" stroke-dasharray="3.7 99"/>
<path d="M182.1 281.8l3.5-1.1 1.6 2.3-3.5 1.1z" fill="#0ac905" stroke-dasharray="3.7 99"/>
<path d="M178.8 282.8l3.6-1.1 1.6 2.3-3.6 1z" fill="#0ac905" stroke-dasharray="3.7 99"/>
<path d="M175.6 284l3.6-1.3 1.5 2.2-3.5 1.2z" fill="#0ac905" stroke-dasharray="3.8 99"/>
<path d="M172.3 285.4l3.6-1.6 1.6 2.2-3.5 1.4z" fill="#09c806" stroke-dasharray="3.9 99"/>
<path d="M170.6 286.3l1.9-1 1.6 2.1-1.9 .8z" fill="#09c806" stroke-dasharray="2.1 99"/>
<path d="M169.3 291.4l1.5-5.6 1.6 2-1.5 4.7z" fill="#07c508" stroke-dasharray="5.8 99"/>
<path d="M168.1 298.7l1.3-8 1.6 1.1-1.3 7.7z" fill="#03be0c" stroke="none"/>
<path d="M167.2 304.6l1-6.5 1.6 .9-1 6.4z" fill="#00875f" stroke-dasharray="6.6 99"/>
<path d="M166.3 308.7l1-4.5 1.6 .8-1 4.4z" fill="#000ae0" stroke="none"/>
<path d="M165.5 310.3l.9-1.8 1.6 .7-.9 1.8z" fill="#0002c1" stroke="none"/>
<path d="M283.3 278.1l.9 .3 1.2 .8-1-.4z" fill="#0001bc" stroke="none"/>
<path d="M282.4 276.9l1 1.3 1.1 .8-.9-1.4z" fill="#0004c8" stroke="none"/>
<path d="M281.4 275l1.1 2 1.2 .8-1.1-2z" fill="#0009de" stroke="none"/>
<path d="M280.3 272.8l1.3 2.4 1.1 .8-1.2-2.4z" fill="#003abd" stroke="none"/>
<path d="M279 271.8l1.4 1.1 1.2 .7-1.5-.7z" fill="#007280" stroke="none"/>
<path d="M277.2 272.2l1.9-.5 1.2 1.2-1.9 .5z" fill="#008266" stroke-dasharray="2 99"/>
<path d="M274 272.2l3.6 0 1.1 1.2-3.5 .3z" fill="#008d56" stroke-dasharray="3.6 99"/>
<path d="M270.8 270.6l3.5 1.7 1.2 1.6-3.5-1.4z" fill="#00b712" stroke-dasharray="4 99"/>
<path d="M267.5 268.4l3.6 2.4 1.2 1.9-3.6-2z" fill="#02bc0d" stroke="none"/>
<path d="M264.3 266l3.6 2.6 1.2 2.3-3.6-2.2z" fill="#04c00b" stroke="none"/>
<path d="M261.1 264.1l3.5 2.1 1.2 2.6-3.5-1.8z" fill="#06c309" stroke-dasharray="4.1 99"/>
<path d="M257.8 263.3l3.6 .9 1.2 2.8-3.5-.8z" fill="#08c607" stroke-dasharray="3.7 99"/>
<path d="M254.6 263.5l3.6-.2 1.2 2.9-3.5 .1z" fill="#09c706" stroke-dasharray="3.6 99"/>
<path d="M251.4 264.3l3.5-.8 1.3 2.8-3.6 .8z" fill="#09c806" stroke-dasharray="3.7 99"/>
<path d="M248.1 265.2l3.6-1 1.3 2.8-3.6 1z" fill="#09c806" stroke-dasharray="3.7 99"/>
<path d="M244.9 266.2l3.5-1.1 1.3 2.8-3.5 1z" fill="#09c806" stroke-dasharray="3.7 99"/>
<path d="M241.7 267.2l3.5-1.1 1.3 2.7-3.5 1.1z" fill="#09c806" stroke-dasharray="3.7 99"/>
<path d="M238.4 268.3l3.6-1.2 1.3 2.7-3.6 1.1z" fill="#09c806" stroke-dasharray="3.8 99"/>
<path d="M235.2 269.5l3.5-1.3 1.4 2.6-3.6 1.2z" fill="#09c706" stroke-dasharray="3.8 99"/>
<path d="M231.9 270.7l3.6-1.4 1.3 2.6-3.5 1.4z" fill="#08c707" stroke-dasharray="3.8 99"/>
<path d="M228.7 272.1l3.6-1.5 1.3 2.5-3.5 1.5z" fill="#08c607" stroke-dasharray="3.9 99"/>
<path d="M225.5 273.5l3.5-1.5 1.4 2.4-3.5 1.5z" fill="#08c607" stroke-dasharray="3.9 99"/>
<path d="M222.2 274.8l3.6-1.4 1.4 2.4-3.6 1.4z" fill="#07c508" stroke-dasharray="3.8 99"/>
<path d="M219 275.9l3.6-1.2 1.4 2.4-3.6 1.2z" fill="#07c508" stroke-dasharray="3.7 99"/>
<path d="M215.8 276.8l3.5-1 1.4 2.4-3.5 1z" fill="#07c508" stroke-dasharray="3.7 99"/>
<path d="M212.5 277.7l3.6-1 1.4 2.4-3.5 1z" fill="#07c508" stroke-dasharray="3.7 99"/>
<path d="M209.3 278.6l3.6-1 1.4 2.4-3.5 1z" fill="#07c508" stroke-dasharray="3.7 99"/>
<path d="M206.1 279.4l3.5-.9 1.5 2.4-3.6 1z" fill="#07c508" stroke-dasharray="3.7 99"/>
<path d="M202.8 280.1l3.6-.7 1.5 2.4-3.6 .8z" fill="#07c508" stroke-dasharray="3.6 99"/>
<path d="M199.6 280.5l3.6-.5 1.4 2.5-3.5 .6z" fill="#07c508" stroke-dasharray="3.6 99"/>
<path d="M196.4 280.8l3.5-.3 1.5 2.6-3.5 .4z" fill="#08c607" stroke-dasharray="3.6 99"/>
<path d="M193.1 281.2l3.6-.4 1.5 2.7-3.5 .4z" fill="#08c707" stroke-dasharray="3.6 99"/>
<path d="M189.9 281.9l3.5-.7 1.6 2.7-3.6 .6z" fill="#08c707" stroke-dasharray="3.6 99"/>
<path d="M186.7 282.7l3.5-.9 1.6 2.7-3.6 .8z" fill="#09c706" stroke-dasharray="3.7 99"/>
<path d="M183.4 283.7l3.6-1.1 1.5 2.7-3.5 1z" fill="#09c706" stroke-dasharray="3.7 99"/>
<path d="M180.2 284.7l3.5-1.1 1.6 2.6-3.5 1z" fill="#09c706" stroke-dasharray="3.7 99"/>
<path d="M176.9 285.8l3.6-1.3 1.6 2.6-3.6 1.2z" fill="#08c707" stroke-dasharray="3.8 99"/>
<path d="M173.7 287.1l3.6-1.5 1.6 2.5-3.6 1.4z" fill="#08c707" stroke-dasharray="3.8 99"/>
<path d="M172 287.9l1.9-.9 1.6 2.4-1.9 .8z" fill="#08c607" stroke-dasharray="2.1 99"/>
<path d="M170.7 292.3l1.4-4.9 1.6 2.5-1.4 3.5z" fill="#07c408" stroke-dasharray="5.1 99"/>
<path d="M169.5 299.4l1.3-7.8 1.6 1.1-1.3 7.6z" fill="#03be0c" stroke-dasharray="7.9 99"/>
<path d="M168.5 305.3l1.1-6.5 1.6 .9-1 6.3z" fill="#008266" stroke="none"/>
<path d="M167.7 309.3l.9-4.4 1.6 .7-.9 4.3z" fill="#000ae0" stroke-dasharray="4.5 99"/>
<path d="M166.8 310.9l1-1.8 1.6 .7-1 1.7z" fill="#0002c1" stroke-dasharray="2 99"/>
<path d="M284.3 278.7l.9 .4 1.1 .7-.9-.3z" fill="#0001bc" stroke="none"/>
<path d="M283.4 277.5l1 1.3 1.1 .8-1-1.3z" fill="#0004c8" stroke="none"/>
<path d="M282.4 275.6l1.1 2.1 1.1 .8-1-2.1z" fill="#0009de" stroke="none"/>
<path d="M281.3 273.4l1.3 2.5 1.1 .7-1.3-2.4z" fill="#003abd" stroke="none"/>
<path d="M280 272.7l1.4 .8 1.1 .7-1.4-.2z" fill="#006c89" stroke="none"/>
<path d="M278.2 273.2l1.9-.5 1.1 1.3-1.8 .5z" fill="#007777" stroke="none"/>
<path d="M275 273.5l3.6-.3 1.1 1.2-3.6 .7z" fill="#007d6e" stroke="none"/>
<path d="M271.8 272.2l3.5 1.4 1.2 1.6-3.6-1.1z" fill="#009f39" stroke="none"/>
<path d="M268.6 270.3l3.5 2.1 1.2 1.9-3.6-1.6z" fill="#01bb0e" stroke-dasharray="4.1 99"/>
<path d="M265.3 268.2l3.6 2.3 1.1 2.4-3.5-1.9z" fill="#03be0c" stroke-dasharray="4.2 99"/>
<path d="M262.1 266.5l3.6 1.9 1.1 2.8-3.5-1.7z" fill="#05c10a" stroke="none"/>
<path d="M258.9 265.7l3.5 .9 1.2 3-3.5-.8z" fill="#06c409" stroke-dasharray="3.7 99"/>
<path d="M255.7 265.9l3.5-.2 1.2 3.1-3.5 .1z" fill="#07c508" stroke-dasharray="3.6 99"/>
<path d="M252.4 266.6l3.6-.8 1.2 3-3.5 .8z" fill="#08c607" stroke-dasharray="3.6 99"/>
<path d="M249.2 267.5l3.6-1 1.2 3-3.5 1z" fill="#08c607" stroke-dasharray="3.7 99"/>
<path d="M246 268.4l3.5-1 1.3 3-3.5 1z" fill="#08c607" stroke-dasharray="3.7 99"/>
<path d="M242.8 269.4l3.5-1.1 1.3 3-3.5 1z" fill="#08c607" stroke-dasharray="3.7 99"/>
<path d="M239.6 270.5l3.5-1.2 1.3 2.9-3.5 1.2z" fill="#07c508" stroke-dasharray="3.7 99"/>
<path d="M236.3 271.6l3.6-1.2 1.3 2.9-3.6 1.1z" fill="#07c508" stroke-dasharray="3.8 99"/>
<path d="M233.1 272.8l3.5-1.3 1.4 2.8-3.6 1.3z" fill="#07c508" stroke-dasharray="3.8 99"/>
<path d="M229.9 274.2l3.5-1.5 1.4 2.8-3.6 1.4z" fill="#07c508" stroke-dasharray="3.8 99"/>
<path d="M226.7 275.5l3.5-1.5 1.3 2.7-3.5 1.4z" fill="#07c408" stroke-dasharray="3.8 99"/>
<path d="M223.4 276.8l3.6-1.4 1.3 2.6-3.5 1.4z" fill="#06c409" stroke-dasharray="3.8 99"/>
<path d="M220.2 277.9l3.6-1.2 1.3 2.6-3.5 1.2z" fill="#06c309" stroke-dasharray="3.7 99"/>
<path d="M217 278.8l3.5-1 1.4 2.6-3.5 1z" fill="#06c309" stroke-dasharray="3.7 99"/>
<path d="M213.8 279.7l3.5-1 1.4 2.6-3.5 1z" fill="#06c309" stroke-dasharray="3.7 99"/>
<path d="M210.5 280.6l3.6-1 1.4 2.6-3.5 1z" fill="#06c309" stroke-dasharray="3.7 99"/>
<path d="M207.3 281.5l3.6-1 1.4 2.6-3.5 1z" fill="#06c309" stroke-dasharray="3.7 99"/>
<path d="M204.1 282.2l3.5-.8 1.5 2.6-3.5 .9z" fill="#06c309" stroke-dasharray="3.6 99"/>
<path d="M200.9 282.7l3.5-.6 1.5 2.7-3.5 .7z" fill="#06c309" stroke-dasharray="3.6 99"/>
<path d="M197.6 283.1l3.6-.4 1.5 2.7-3.6 .5z" fill="#07c408" stroke-dasharray="3.6 99"/>
<path d="M194.4 283.5l3.6-.5 1.5 2.9-3.6 .5z" fill="#07c408" stroke-dasharray="3.6 99"/>
<path d="M191.2 284.1l3.5-.7 1.6 2.9-3.6 .7z" fill="#07c508" stroke-dasharray="3.6 99"/>
<path d="M188 284.9l3.5-.9 1.6 2.9-3.6 .9z" fill="#07c508" stroke-dasharray="3.7 99"/>
<path d="M184.7 285.8l3.6-1 1.5 2.9-3.5 .9z" fill="#07c508" stroke-dasharray="3.7 99"/>
<path d="M181.5 286.8l3.6-1.1 1.5 2.8-3.5 1.1z" fill="#07c508" stroke-dasharray="3.7 99"/>
<path d="M178.3 287.8l3.5-1.1 1.6 2.8-3.5 1.1z" fill="#07c508" stroke-dasharray="3.7 99"/>
<path d="M175.1 289l3.5-1.3 1.6 2.8-3.5 1.2z" fill="#07c508" stroke-dasharray="3.8 99"/>
<path d="M173.4 289.8l1.8-.8 1.7 2.6-1.9 .8z" fill="#07c408" stroke-dasharray="2.1 99"/>
<path d="M172 293.2l1.5-3.7 1.6 2.7-1.5 2.2z" fill="#06c309" stroke-dasharray="4.1 99"/>
<path d="M170.9 300.2l1.2-7.6 1.6 1.1-1.2 7.4z" fill="#03be0c" stroke="none"/>
<path d="M169.9 305.9l1.1-6.3 1.6 .9-1.1 6.1z" fill="#007d6e" stroke-dasharray="6.4 99"/>
<path d="M169 309.8l1-4.3 1.6 .8-1 4.2z" fill="#000adf" stroke="none"/>
<path d="M168.2 311.4l.9-1.7 1.6 .6-.9 1.7z" fill="#0002c1" stroke="none"/>
<path d="M285.2 279.4l1 .3 1 .8-.9-.3z" fill="#0001bc" stroke="none"/>
<path d="M284.4 278.1l.9 1.4 1.1 .8-1-1.4z" fill="#0004c8" stroke="none"/>
<path d="M283.4 276.3l1 2 1.1 .8-1-2z" fill="#0009de" stroke-dasharray="2.3 99"/>
<path d="M282.2 274.1l1.3 2.4 1.1 .8-1.3-2.4z" fill="#003abd" stroke-dasharray="2.7 99"/>
<path d="M280.9 273.8l1.5 .3 1 .7-1.4 .4z" fill="#006594" stroke-dasharray="1.5 99"/>
<path d="M279.2 274.3l1.9-.6 1 1.4-1.8 .6z" fill="#006a8d" stroke-dasharray="2 99"/>
<path d="M276 274.8l3.5-.6 1.1 1.4-3.5 .9z" fill="#006c89" stroke-dasharray="3.6 99"/>
<path d="M272.8 273.9l3.5 1 1.1 1.6-3.5-.7z" fill="#00865f" stroke-dasharray="3.7 99"/>
<path d="M269.6 272.4l3.5 1.6 1.1 1.9-3.5-1.2z" fill="#00b90f" stroke="none"/>
<path d="M266.3 270.6l3.6 1.9 1.1 2.4-3.5-1.5z" fill="#02bc0d" stroke="none"/>
<path d="M263.1 269l3.6 1.7 1.1 2.8-3.5-1.4z" fill="#03bf0c" stroke-dasharray="3.9 99"/>
<path d="M259.9 268.3l3.6 .8 1.1 3.1-3.5-.7z" fill="#05c10a" stroke-dasharray="3.6 99"/>
<path d="M256.7 268.4l3.5-.1 1.2 3.1-3.5 .2z" fill="#06c309" stroke-dasharray="3.5 99"/>
<path d="M253.5 269.1l3.5-.8 1.2 3.2-3.5 .7z" fill="#06c309" stroke-dasharray="3.6 99"/>
<path d="M250.3 270l3.5-1 1.2 3.2-3.5 .9z" fill="#06c309" stroke-dasharray="3.7 99"/>
<path d="M247.1 270.9l3.5-1 1.2 3.1-3.5 1z" fill="#06c309" stroke-dasharray="3.7 99"/>
<path d="M243.9 271.9l3.5-1.1 1.2 3.1-3.5 1.1z" fill="#06c309" stroke-dasharray="3.7 99"/>
<path d="M240.7 272.9l3.5-1.1 1.2 3.1-3.5 1z" fill="#06c309" stroke-dasharray="3.7 99"/>
<path d="M237.4 274l3.6-1.2 1.3 3-3.6 1.2z" fill="#06c309" stroke-dasharray="3.7 99"/>
<path d="M234.2 275.2l3.6-1.3 1.3 3-3.6 1.2z" fill="#06c309" stroke-dasharray="3.8 99"/>
<path d="M231 276.4l3.6-1.4 1.3 3-3.5 1.3z" fill="#06c209" stroke-dasharray="3.8 99"/>
<path d="M227.8 277.7l3.5-1.4 1.4 2.9-3.5 1.3z" fill="#05c20a" stroke-dasharray="3.8 99"/>
<path d="M224.6 278.9l3.5-1.3 1.4 2.8-3.5 1.3z" fill="#05c10a" stroke-dasharray="3.8 99"/>
<path d="M221.4 280l3.5-1.2 1.4 2.8-3.5 1.2z" fill="#05c10a" stroke-dasharray="3.7 99"/>
<path d="M218.2 281l3.5-1 1.4 2.7-3.5 1.1z" fill="#05c10a" stroke-dasharray="3.7 99"/>
<path d="M215 281.9l3.5-1 1.4 2.8-3.5 1z" fill="#05c10a" stroke-dasharray="3.7 99"/>
<path d="M211.8 282.8l3.5-1 1.4 2.8-3.5 .9z" fill="#05c10a" stroke-dasharray="3.7 99"/>
<path d="M208.6 283.7l3.5-1 1.4 2.8-3.5 .9z" fill="#05c10a" stroke-dasharray="3.7 99"/>
<path d="M205.3 284.4l3.6-.8 1.4 2.7-3.5 1z" fill="#05c10a" stroke-dasharray="3.6 99"/>
<path d="M202.1 285l3.6-.6 1.4 2.8-3.5 .7z" fill="#05c10a" stroke-dasharray="3.6 99"/>
<path d="M198.9 285.5l3.6-.5 1.4 2.9-3.5 .5z" fill="#05c20a" stroke-dasharray="3.6 99"/>
<path d="M195.7 285.9l3.5-.5 1.5 3-3.5 .5z" fill="#05c20a" stroke-dasharray="3.6 99"/>
<path d="M192.5 286.5l3.5-.6 1.5 3-3.5 .6z" fill="#06c309" stroke-dasharray="3.6 99"/>
<path d="M189.3 287.3l3.5-.9 1.5 3.1-3.5 .8z" fill="#06c309" stroke-dasharray="3.6 99"/>
<path d="M186.1 288.2l3.5-1 1.6 3-3.6 1z" fill="#06c309" stroke-dasharray="3.7 99"/>
<path d="M182.9 289.1l3.5-1 1.6 3-3.6 1z" fill="#06c309" stroke-dasharray="3.7 99"/>
<path d="M179.7 290.1l3.5-1.1 1.6 3-3.5 1z" fill="#06c309" stroke-dasharray="3.7 99"/>
<path d="M176.4 291.3l3.6-1.3 1.6 2.9-3.5 1.2z" fill="#06c309" stroke-dasharray="3.7 99"/>
<path d="M174.7 291.9l1.9-.7 1.6 2.8-1.9 .7z" fill="#06c209" stroke-dasharray="2 99"/>
<path d="M173.4 294.2l1.5-2.5 1.6 2.9-1.5 .8z" fill="#05c20a" stroke-dasharray="2.9 99"/>
<path d="M172.2 300.9l1.3-7.4 1.6 1.2-1.2 7.2z" fill="#03bd0c" stroke-dasharray="7.5 99"/>
<path d="M171.3 306.5l1-6.1 1.6 .9-1 6z" fill="#007876" stroke="none"/>
<path d="M170.4 310.4l1-4.3 1.6 .8-1 4.2z" fill="#0009de" stroke-dasharray="4.3 99"/>
<path d="M169.6 311.9l.9-1.7 1.6 .7-.9 1.7z" fill="#0002c1" stroke-dasharray="2 99"/>
<path d="M286.1 280l1 .4 1 .8-.9-.4z" fill="#0001bc" stroke="none"/>
<path d="M285.3 278.8l.9 1.4 1 .7-.9-1.3z" fill="#0004c8" stroke="none"/>
<path d="M284.3 276.9l1.1 2.1 1 .8-1.1-2.1z" fill="#0009de" stroke="none"/>
<path d="M283.2 274.7l1.2 2.5 1 .7-1.2-1.8z" fill="#0036c1" stroke="none"/>
<path d="M281.8 275l1.5-.4 1 1.4-1.5 .5z" fill="#0059a1" stroke="none"/>
<path d="M280.1 275.4l1.9-.5 1 1.5-1.9 .5z" fill="#0059a0" stroke="none"/>
<path d="M276.9 276.2l3.5-.8 1 1.4-3.5 1z" fill="#005aa0" stroke="none"/>
<path d="M273.7 275.5l3.5 .8 1.1 1.5-3.5-.3z" fill="#006f85" stroke="none"/>
<path d="M270.5 274.4l3.5 1.2 1.1 1.9-3.5-.8z" fill="#009c3e" stroke-dasharray="3.7 99"/>
<path d="M267.3 272.9l3.5 1.6 1.1 2.3-3.5-1.1z" fill="#01ba0e" stroke-dasharray="3.9 99"/>
<path d="M264.1 271.6l3.5 1.5 1.1 2.7-3.5-1.1z" fill="#02bd0d" stroke-dasharray="3.8 99"/>
<path d="M260.9 271l3.5 .7 1.1 3-3.5-.5z" fill="#03bf0c" stroke-dasharray="3.6 99"/>
<path d="M257.7 271.1l3.5-.1 1.2 3.2-3.5 .1z" fill="#04c00b" stroke-dasharray="3.5 99"/>
<path d="M254.5 271.8l3.5-.8 1.2 3.3-3.5 .7z" fill="#05c10a" stroke-dasharray="3.6 99"/>
<path d="M251.3 272.6l3.5-.9 1.2 3.2-3.5 .9z" fill="#05c10a" stroke-dasharray="3.6 99"/>
<path d="M248.1 273.5l3.6-1 1.1 3.2-3.5 1z" fill="#05c10a" stroke-dasharray="3.7 99"/>
<path d="M244.9 274.5l3.6-1.1 1.2 3.2-3.5 1z" fill="#05c10a" stroke-dasharray="3.7 99"/>
<path d="M241.7 275.5l3.6-1.1 1.2 3.2-3.5 1z" fill="#05c10a" stroke-dasharray="3.7 99"/>
<path d="M238.5 276.5l3.6-1.1 1.2 3.1-3.5 1.1z" fill="#05c10a" stroke-dasharray="3.7 99"/>
<path d="M235.3 277.6l3.6-1.2 1.2 3.1-3.5 1.2z" fill="#04c00b" stroke-dasharray="3.7 99"/>
<path d="M232.2 278.8l3.5-1.3 1.2 3.1-3.5 1.2z" fill="#04c00b" stroke-dasharray="3.8 99"/>
<path d="M229 280.1l3.5-1.4 1.3 3-3.5 1.3z" fill="#04c00b" stroke-dasharray="3.8 99"/>
<path d="M225.8 281.3l3.5-1.4 1.3 3-3.5 1.2z" fill="#04bf0b" stroke-dasharray="3.8 99"/>
<path d="M222.6 282.4l3.5-1.2 1.3 2.8-3.5 1.2z" fill="#04bf0b" stroke-dasharray="3.7 99"/>
<path d="M219.4 283.3l3.5-1 1.3 2.8-3.5 1.1z" fill="#03bf0c" stroke-dasharray="3.7 99"/>
<path d="M216.2 284.2l3.5-1 1.4 2.9-3.5 1z" fill="#03bf0c" stroke-dasharray="3.6 99"/>
<path d="M213 285.1l3.5-1 1.4 2.9-3.5 .9z" fill="#03bf0c" stroke-dasharray="3.6 99"/>
<path d="M209.8 286l3.5-1 1.4 2.9-3.5 .9z" fill="#03bf0c" stroke-dasharray="3.6 99"/>
<path d="M206.6 286.8l3.5-.9 1.4 2.8-3.5 1z" fill="#03bf0c" stroke-dasharray="3.6 99"/>
<path d="M203.4 287.5l3.5-.8 1.4 2.9-3.5 .8z" fill="#04bf0b" stroke-dasharray="3.6 99"/>
<path d="M200.2 288l3.5-.6 1.5 2.9-3.5 .7z" fill="#04bf0b" stroke-dasharray="3.6 99"/>
<path d="M197 288.5l3.5-.6 1.5 3-3.5 .6z" fill="#04c00b" stroke-dasharray="3.6 99"/>
<path d="M193.8 289.1l3.5-.7 1.5 3.1-3.5 .6z" fill="#04c00b" stroke-dasharray="3.6 99"/>
<path d="M190.6 289.8l3.5-.8 1.5 3.1-3.5 .8z" fill="#04c00b" stroke-dasharray="3.6 99"/>
<path d="M187.4 290.7l3.5-1 1.6 3.1-3.5 .9z" fill="#04c00b" stroke-dasharray="3.6 99"/>
<path d="M184.2 291.6l3.5-1 1.6 3-3.5 1z" fill="#04c00b" stroke-dasharray="3.7 99"/>
<path d="M181 292.6l3.5-1.1 1.6 3-3.5 1.1z" fill="#04c00b" stroke-dasharray="3.7 99"/>
<path d="M177.8 293.6l3.5-1.1 1.6 3-3.5 1.1z" fill="#04c00b" stroke-dasharray="3.7 99"/>
<path d="M176.1 294.3l1.9-.7 1.6 2.9-1.9 .6z" fill="#04c00b" stroke-dasharray="2 99"/>
<path d="M174.8 295l1.4-.8 1.6 2.9-1.4 .5z" fill="#04c00b" stroke-dasharray="1.7 99"/>
<path d="M173.6 301.7l1.3-7.4 1.6 2.8-1.3 5.6z" fill="#02bc0d" stroke="none"/>
<path d="M172.6 307.2l1.1-6 1.6 1-1 5.8z" fill="#00737f" stroke-dasharray="6.1 99"/>
<path d="M171.8 310.9l.9-4.1 1.7 .8-1 4z" fill="#0009dd" stroke="none"/>
<path d="M170.9 312.5l1-1.7 1.6 .7-1 1.6z" fill="#0002c1" stroke="none"/>
<path d="M287 280.7l.9 .3 1 .9-.9-.4z" fill="#0001bc" stroke="none"/>
<path d="M286.1 279.5l1 1.3 1 .8-1-1.3z" fill="#0004c8" stroke-dasharray="1.7 99"/>
<path d="M285.2 277.6l1 2.1 1 .8-1.1-2.1z" fill="#0009de" stroke="none"/>
<path d="M284 275.8l1.3 2 .9 .7-1.2-1.1z" fill="#002dca" stroke="none"/>
<path d="M282.7 276.2l1.5-.4 .9 1.6-1.5 .4z" fill="#0046b2" stroke-dasharray="1.5 99"/>
<path d="M281 276.7l1.9-.5 .9 1.5-1.9 .6z" fill="#0046b2" stroke-dasharray="2 99"/>
<path d="M277.8 277.6l3.5-1 .9 1.6-3.4 .9z" fill="#0046b2" stroke-dasharray="3.6 99"/>
<path d="M274.6 277.2l3.5 .4 1 1.5-3.5 0z" fill="#0057a2" stroke-dasharray="3.5 99"/>
<path d="M271.4 276.4l3.5 .8 1 1.9-3.5-.5z" fill="#007c70" stroke="none"/>
<path d="M268.2 275.3l3.5 1.2 1.1 2.2-3.5-.8z" fill="#00aa28" stroke-dasharray="3.7 99"/>
<path d="M265.1 274.2l3.5 1.2 1 2.6-3.5-.8z" fill="#01ba0e" stroke-dasharray="3.7 99"/>
<path d="M261.9 273.7l3.5 .6 1 2.9-3.4-.3z" fill="#02bc0d" stroke-dasharray="3.5 99"/>
<path d="M258.7 273.8l3.5-.1 1.1 3.1-3.5 .3z" fill="#03be0c" stroke-dasharray="3.5 99"/>
<path d="M255.5 274.5l3.5-.7 1.1 3.2-3.5 .7z" fill="#03be0c" stroke-dasharray="3.6 99"/>
<path d="M252.3 275.3l3.5-.9 1.2 3.2-3.5 1z" fill="#03be0c" stroke-dasharray="3.6 99"/>
<path d="M249.2 276.2l3.5-.9 1.1 3.2-3.5 .9z" fill="#03be0c" stroke-dasharray="3.6 99"/>
<path d="M246 277.2l3.5-1.1 1.1 3.3-3.4 .9z" fill="#03be0c" stroke-dasharray="3.6 99"/>
<path d="M242.8 278.1l3.5-1 1.2 3.2-3.5 1z" fill="#03be0c" stroke-dasharray="3.7 99"/>
<path d="M239.6 279.1l3.5-1.1 1.2 3.2-3.5 1.1z" fill="#03be0c" stroke-dasharray="3.7 99"/>
<path d="M236.4 280.2l3.5-1.2 1.3 3.2-3.5 1.1z" fill="#03be0c" stroke-dasharray="3.7 99"/>
<path d="M233.3 281.3l3.5-1.2 1.2 3.1-3.5 1.1z" fill="#03be0c" stroke-dasharray="3.7 99"/>
<path d="M230.1 282.5l3.5-1.3 1.2 3-3.4 1.3z" fill="#03bd0c" stroke-dasharray="3.7 99"/>
<path d="M226.9 283.7l3.5-1.3 1.3 2.9-3.5 1.3z" fill="#02bd0d" stroke-dasharray="3.7 99"/>
<path d="M223.7 284.8l3.5-1.2 1.3 2.9-3.5 1.1z" fill="#02bd0d" stroke-dasharray="3.7 99"/>
<path d="M220.5 285.7l3.5-1 1.4 2.8-3.5 1.1z" fill="#02bd0d" stroke-dasharray="3.7 99"/>
<path d="M217.4 286.6l3.4-.9 1.4 2.8-3.5 1z" fill="#02bd0d" stroke-dasharray="3.6 99"/>
<path d="M214.2 287.5l3.5-1 1.3 2.9-3.4 1z" fill="#02bd0d" stroke-dasharray="3.6 99"/>
<path d="M211 288.4l3.5-1 1.4 2.9-3.5 .9z" fill="#02bd0d" stroke-dasharray="3.6 99"/>
<path d="M207.8 289.2l3.5-.9 1.4 2.9-3.5 .9z" fill="#02bd0d" stroke-dasharray="3.6 99"/>
<path d="M204.6 290l3.5-.8 1.5 2.8-3.5 .9z" fill="#02bd0d" stroke-dasharray="3.6 99"/>
<path d="M201.4 290.5l3.5-.6 1.5 2.9-3.5 .7z" fill="#02bd0d" stroke-dasharray="3.6 99"/>
<path d="M198.3 291.1l3.5-.6 1.4 3-3.4 .6z" fill="#03bd0c" stroke-dasharray="3.5 99"/>
<path d="M195.1 291.7l3.5-.7 1.5 3.1-3.5 .7z" fill="#03be0c" stroke-dasharray="3.6 99"/>
<path d="M191.9 292.4l3.5-.8 1.5 3.1-3.5 .8z" fill="#03be0c" stroke-dasharray="3.6 99"/>
<path d="M188.7 293.3l3.5-1 1.6 3.1-3.5 .9z" fill="#03be0c" stroke-dasharray="3.6 99"/>
<path d="M185.5 294.2l3.5-1 1.6 3-3.5 1z" fill="#03be0c" stroke-dasharray="3.6 99"/>
<path d="M182.4 295.1l3.5-1 1.5 3-3.4 1z" fill="#03be0c" stroke-dasharray="3.6 99"/>
<path d="M179.2 296.1l3.5-1.1 1.6 3-3.5 1.1z" fill="#03be0c" stroke-dasharray="3.7 99"/>
<path d="M177.5 296.7l1.9-.6 1.6 2.9-1.9 .6z" fill="#03be0c" stroke-dasharray="2 99"/>
<path d="M176.1 297.2l1.5-.5 1.6 2.9-1.5 .5z" fill="#03be0c" stroke-dasharray="1.6 99"/>
<path d="M175 302.5l1.2-5.8 1.6 3-1.2 3.8z" fill="#01bb0e" stroke-dasharray="6 99"/>
<path d="M174 307.8l1.1-5.8 1.6 1-1.1 5.6z" fill="#006d88" stroke="none"/>
<path d="M173.1 311.5l1-4 1.6 .8-.9 3.9z" fill="#0009dc" stroke-dasharray="4.2 99"/>
<path d="M172.3 313l.9-1.6 1.6 .6-.9 1.6z" fill="#0002c0" stroke-dasharray="1.9 99"/>
<path d="M287.8 281.4l1 .3 .8 .9-.9-.4z" fill="#0001bc" stroke="none"/>
<path d="M286.9 280.2l1 1.3 .9 .8-1-1.3z" fill="#0004c8" stroke="none"/>
<path d="M286 278.3l1 2.1 .9 .8-1-2.1z" fill="#0009de" stroke="none"/>
<path d="M284.8 277.2l1.3 1.2 .9 .8-1.3-.4z" fill="#0022d3" stroke="none"/>
<path d="M283.5 277.5l1.5-.4 .9 1.6-1.5 .5z" fill="#0032c5" stroke="none"/>
<path d="M281.8 278l1.9-.5 .9 1.6-1.9 .5z" fill="#0032c5" stroke="none"/>
<path d="M278.6 278.9l3.5-1 .9 1.6-3.5 1z" fill="#0032c5" stroke="none"/>
<path d="M275.5 278.8l3.4 .1 1 1.6-3.5 .2z" fill="#003eb9" stroke="none"/>
<path d="M272.3 278.3l3.5 .5 .9 1.9-3.4-.2z" fill="#005d9c" stroke-dasharray="3.5 99"/>
<path d="M269.1 277.5l3.5 .9 1 2.1-3.5-.4z" fill="#008365" stroke-dasharray="3.6 99"/>
<path d="M266 276.8l3.4 .8 1 2.5-3.4-.4z" fill="#00ab25" stroke-dasharray="3.6 99"/>
<path d="M262.8 276.4l3.5 .4 1 2.9-3.5-.2z" fill="#01ba0e" stroke-dasharray="3.5 99"/>
<path d="M259.6 276.6l3.5-.2 1 3.1-3.4 .3z" fill="#01bb0e" stroke-dasharray="3.5 99"/>
<path d="M256.5 277.2l3.5-.7 1 3.2-3.5 .7z" fill="#02bc0d" stroke-dasharray="3.5 99"/>
<path d="M253.3 278.1l3.5-1 1.1 3.2-3.5 .9z" fill="#02bc0d" stroke-dasharray="3.6 99"/>
<path d="M250.2 279l3.4-1 1.1 3.2-3.4 .9z" fill="#02bc0d" stroke-dasharray="3.6 99"/>
<path d="M247 279.9l3.5-1 1.1 3.1-3.5 1z" fill="#02bc0d" stroke-dasharray="3.6 99"/>
<path d="M243.8 280.8l3.5-1 1.1 3.1-3.4 1z" fill="#02bc0d" stroke-dasharray="3.6 99"/>
<path d="M240.7 281.8l3.4-1.1 1.2 3.1-3.5 1.1z" fill="#02bc0d" stroke-dasharray="3.6 99"/>
<path d="M237.5 282.8l3.5-1.1 1.2 3.1-3.5 1.1z" fill="#01bb0e" stroke-dasharray="3.7 99"/>
<path d="M234.3 283.9l3.5-1.2 1.2 3.1-3.4 1.1z" fill="#01bb0e" stroke-dasharray="3.7 99"/>
<path d="M231.2 285l3.4-1.2 1.3 3-3.5 1.1z" fill="#01bb0e" stroke-dasharray="3.7 99"/>
<path d="M228 286.1l3.5-1.2 1.2 2.9-3.4 1.2z" fill="#01bb0e" stroke-dasharray="3.7 99"/>
<path d="M224.8 287.2l3.5-1.2 1.3 2.9-3.5 1.1z" fill="#01bb0e" stroke-dasharray="3.7 99"/>
<path d="M221.7 288.2l3.5-1.1 1.3 2.8-3.5 1.1z" fill="#01ba0e" stroke-dasharray="3.6 99"/>
<path d="M218.5 289.1l3.5-1 1.3 2.8-3.4 1z" fill="#01ba0e" stroke-dasharray="3.6 99"/>
<path d="M215.3 289.9l3.5-.9 1.4 2.8-3.5 1z" fill="#01ba0e" stroke-dasharray="3.6 99"/>
<path d="M212.2 290.8l3.5-1 1.3 2.9-3.4 .9z" fill="#01ba0e" stroke-dasharray="3.6 99"/>
<path d="M209 291.7l3.5-1 1.4 2.8-3.5 1z" fill="#01ba0e" stroke-dasharray="3.6 99"/>
<path d="M205.9 292.4l3.4-.8 1.4 2.8-3.4 .9z" fill="#01ba0e" stroke-dasharray="3.6 99"/>
<path d="M202.7 293.1l3.5-.7 1.4 2.8-3.5 .8z" fill="#01bb0e" stroke-dasharray="3.6 99"/>
<path d="M199.5 293.7l3.5-.7 1.5 2.9-3.5 .8z" fill="#01bb0e" stroke-dasharray="3.5 99"/>
<path d="M196.4 294.3l3.4-.7 1.5 3-3.4 .7z" fill="#01bb0e" stroke-dasharray="3.5 99"/>
<path d="M193.2 295l3.5-.8 1.5 3-3.5 .8z" fill="#01bb0e" stroke-dasharray="3.6 99"/>
<path d="M190 295.9l3.5-1 1.5 3.1-3.4 .8z" fill="#01bb0e" stroke-dasharray="3.6 99"/>
<path d="M186.9 296.7l3.5-.9 1.5 3-3.5 .9z" fill="#01bb0e" stroke-dasharray="3.6 99"/>
<path d="M183.7 297.7l3.5-1.1 1.6 3-3.5 1z" fill="#01bb0e" stroke-dasharray="3.6 99"/>
<path d="M180.5 298.6l3.5-1 1.6 2.9-3.4 1z" fill="#01bb0e" stroke-dasharray="3.6 99"/>
<path d="M178.8 299.2l1.9-.6 1.6 2.9-1.9 .6z" fill="#01bb0e" stroke-dasharray="2 99"/>
<path d="M177.5 299.6l1.5-.5 1.6 2.9-1.5 .5z" fill="#01bb0e" stroke-dasharray="1.6 99"/>
<path d="M176.3 303.4l1.3-4.1 1.6 3-1.2 2z" fill="#00ba0f" stroke-dasharray="4.3 99"/>
<path d="M175.4 308.5l1-5.7 1.6 1-1 5.5z" fill="#006792" stroke-dasharray="5.8 99"/>
<path d="M174.5 312.1l1-3.9 1.6 .8-1 3.8z" fill="#0009db" stroke="none"/>
<path d="M173.7 313.6l.9-1.7 1.6 .7-.9 1.6z" fill="#0002c0" stroke="none"/>
<path d="M288.6 282.1l.9 .3 .8 .9-.9-.4z" fill="#0001bc" stroke="none"/>
<path d="M287.7 280.9l1 1.3 .8 .9-1-1.4z" fill="#0004c8" stroke="none"/>
<path d="M286.8 279l1 2.1 .8 .8-1-2z" fill="#0009de" stroke-dasharray="2.3 99"/>
<path d="M285.6 278.5l1.3 .5 .8 .8-1.3 .4z" fill="#0018dd" stroke-dasharray="1.4 99"/>
<path d="M284.3 278.9l1.4-.4 .9 1.7-1.5 .4z" fill="#001dd8" stroke-dasharray="1.5 99"/>
<path d="M282.6 279.4l1.8-.5 .9 1.6-1.9 .5z" fill="#001dd8" stroke-dasharray="2 99"/>
<path d="M279.4 280.3l3.5-1 .8 1.7-3.4 .9z" fill="#001dd8" stroke-dasharray="3.6 99"/>
<path d="M276.3 280.4l3.4-.2 .9 1.7-3.5 .4z" fill="#0026d0" stroke-dasharray="3.5 99"/>
<path d="M273.1 280.2l3.5 .2 .8 1.9-3.4 0z" fill="#003eba" stroke-dasharray="3.5 99"/>
<path d="M270 279.7l3.4 .5 .9 2.1-3.4-.1z" fill="#005e9b" stroke-dasharray="3.5 99"/>
<path d="M266.8 279.2l3.5 .5 .9 2.5-3.4-.2z" fill="#007f6b" stroke-dasharray="3.5 99"/>
<path d="M263.7 279l3.4 .2 1 2.8-3.4 0z" fill="#009d3c" stroke-dasharray="3.5 99"/>
<path d="M260.5 279.3l3.5-.3 1 3-3.5 .4z" fill="#00b21a" stroke-dasharray="3.5 99"/>
<path d="M257.4 279.9l3.5-.7 .9 3.1-3.4 .7z" fill="#00b90f" stroke-dasharray="3.5 99"/>
<path d="M254.2 280.8l3.5-1 1 3.1-3.4 .9z" fill="#00b90f" stroke-dasharray="3.6 99"/>
<path d="M251.1 281.7l3.5-1 1 3.1-3.4 .9z" fill="#00b90f" stroke-dasharray="3.6 99"/>
<path d="M248 282.5l3.4-.9 1.1 3-3.4 1z" fill="#00b90f" stroke-dasharray="3.6 99"/>
<path d="M244.8 283.5l3.5-1 1.1 3-3.5 1z" fill="#00b90f" stroke-dasharray="3.6 99"/>
<path d="M241.7 284.4l3.4-1 1.1 3-3.4 1z" fill="#00b90f" stroke-dasharray="3.6 99"/>
<path d="M238.5 285.4l3.5-1.1 1.1 3-3.4 1.1z" fill="#00b90f" stroke-dasharray="3.6 99"/>
<path d="M235.4 286.4l3.4-1.1 1.2 3-3.4 1z" fill="#00b810" stroke-dasharray="3.6 99"/>
<path d="M232.2 287.5l3.5-1.2 1.2 2.9-3.4 1.2z" fill="#00b417" stroke-dasharray="3.7 99"/>
<path d="M229.1 288.6l3.4-1.2 1.3 2.9-3.5 1.1z" fill="#00af1f" stroke-dasharray="3.7 99"/>
<path d="M225.9 289.6l3.5-1.1 1.2 2.8-3.4 1.1z" fill="#00aa26" stroke-dasharray="3.6 99"/>
<path d="M222.8 290.6l3.5-1.1 1.2 2.8-3.4 1z" fill="#00a72b" stroke-dasharray="3.6 99"/>
<path d="M219.7 291.5l3.4-1 1.3 2.7-3.4 1z" fill="#00a62e" stroke-dasharray="3.6 99"/>
<path d="M216.5 292.3l3.5-.9 1.3 2.7-3.5 1z" fill="#00a52e" stroke-dasharray="3.6 99"/>
<path d="M213.4 293.2l3.4-1 1.4 2.8-3.5 .9z" fill="#00a52e" stroke-dasharray="3.6 99"/>
<path d="M210.2 294.1l3.5-1 1.3 2.8-3.4 .9z" fill="#00a52e" stroke-dasharray="3.6 99"/>
<path d="M207.1 294.9l3.4-.9 1.4 2.7-3.4 .9z" fill="#00a62d" stroke-dasharray="3.6 99"/>
<path d="M203.9 295.6l3.5-.8 1.4 2.8-3.4 .8z" fill="#00a929" stroke-dasharray="3.5 99"/>
<path d="M200.8 296.2l3.4-.7 1.5 2.8-3.5 .8z" fill="#00ad21" stroke-dasharray="3.5 99"/>
<path d="M197.6 296.9l3.5-.7 1.5 2.8-3.5 .8z" fill="#00b319" stroke-dasharray="3.5 99"/>
<path d="M194.5 297.6l3.5-.8 1.4 2.9-3.4 .8z" fill="#00b811" stroke-dasharray="3.6 99"/>
<path d="M191.3 298.4l3.5-.9 1.5 2.9-3.4 .9z" fill="#00b90f" stroke-dasharray="3.6 99"/>
<path d="M188.2 299.3l3.5-1 1.5 2.9-3.4 1z" fill="#00b90f" stroke-dasharray="3.6 99"/>
<path d="M185.1 300.2l3.4-1 1.6 2.9-3.5 .9z" fill="#00b90f" stroke-dasharray="3.6 99"/>
<path d="M181.9 301.1l3.5-1 1.6 2.8-3.5 1z" fill="#00b90f" stroke-dasharray="3.6 99"/>
<path d="M180.2 301.6l1.9-.5 1.6 2.8-1.9 .5z" fill="#00b90f" stroke-dasharray="2 99"/>
<path d="M178.9 302.1l1.4-.5 1.6 2.8-1.4 .5z" fill="#00b811" stroke-dasharray="1.5 99"/>
<path d="M177.7 304.2l1.3-2.3 1.6 2.9-1.3 .4z" fill="#00ac24" stroke-dasharray="2.6 99"/>
<path d="M176.8 309.2l1-5.5 1.6 1-1 5.3z" fill="#00609a" stroke="none"/>
<path d="M175.9 312.7l.9-3.9 1.7 .8-1 3.7z" fill="#0008da" stroke-dasharray="3.9 99"/>
<path d="M175 314.1l1-1.6 1.6 .7-1 1.5z" fill="#0002c0" stroke-dasharray="1.8 99"/>
<path d="M289.3 282.8l.9 .4 .8 .8-1-.3z" fill="#0001bc" stroke="none"/>
<path d="M288.4 281.6l1 1.3 .7 .9-.9-1.3z" fill="#0004c8" stroke="none"/>
<path d="M287.5 279.6l1 2.2 .8 .8-1.1-1.3z" fill="#0009dc" stroke="none"/>
<path d="M286.3 279.9l1.3-.3 .7 1.7-1.2 .3z" fill="#000ce6" stroke="none"/>
<path d="M285 280.3l1.5-.4 .7 1.7-1.5 .4z" fill="#000ce6" stroke="none"/>
<path d="M283.3 280.8l1.9-.5 .7 1.6-1.9 .6z" fill="#000ce6" stroke="none"/>
<path d="M280.1 281.6l3.5-.9 .7 1.7-3.4 .9z" fill="#000ce6" stroke="none"/>
<path d="M277 282l3.4-.4 .8 1.7-3.4 .5z" fill="#000ee6" stroke="none"/>
<path d="M273.9 282l3.4 0 .8 1.8-3.4 .2z" fill="#0020d5" stroke-dasharray="3.4 99"/>
<path d="M270.8 281.8l3.4 .2 .8 2-3.4 .1z" fill="#0039be" stroke-dasharray="3.4 99"/>
<path d="M267.6 281.6l3.5 .2 .8 2.3-3.4 .1z" fill="#0055a4" stroke-dasharray="3.4 99"/>
<path d="M264.5 281.6l3.5 0 .8 2.6-3.4 .2z" fill="#006e86" stroke-dasharray="3.4 99"/>
<path d="M261.4 281.9l3.4-.4 .9 2.8-3.4 .5z" fill="#007f6b" stroke-dasharray="3.5 99"/>
<path d="M258.3 282.6l3.4-.8 .9 3-3.4 .7z" fill="#00885d" stroke-dasharray="3.5 99"/>
<path d="M255.1 283.4l3.5-.9 .9 2.9-3.4 .9z" fill="#008b58" stroke-dasharray="3.6 99"/>
<path d="M252 284.3l3.5-1 .9 3-3.4 .9z" fill="#008c57" stroke-dasharray="3.6 99"/>
<path d="M248.9 285.2l3.4-1 1 2.9-3.4 1z" fill="#008b57" stroke-dasharray="3.6 99"/>
<path d="M245.8 286.1l3.4-1 1 2.9-3.4 1z" fill="#008b58" stroke-dasharray="3.6 99"/>
<path d="M242.6 287l3.5-1 1 2.9-3.4 1z" fill="#008a5a" stroke-dasharray="3.6 99"/>
<path d="M239.5 287.9l3.5-1 1 2.9-3.4 1z" fill="#00885d" stroke-dasharray="3.6 99"/>
<path d="M236.4 288.9l3.4-1.1 1.2 2.9-3.5 1z" fill="#008661" stroke-dasharray="3.6 99"/>
<path d="M233.3 289.9l3.4-1.1 1.2 2.8-3.5 1.1z" fill="#008266" stroke-dasharray="3.6 99"/>
<path d="M230.1 291l3.5-1.2 1.2 2.8-3.5 1.1z" fill="#007f6c" stroke-dasharray="3.6 99"/>
<path d="M227 292l3.5-1.1 1.2 2.7-3.4 1z" fill="#007b72" stroke-dasharray="3.6 99"/>
<path d="M223.9 292.9l3.4-1 1.3 2.6-3.4 1.1z" fill="#007876" stroke-dasharray="3.6 99"/>
<path d="M220.8 293.8l3.4-1 1.3 2.7-3.4 .9z" fill="#007778" stroke-dasharray="3.6 99"/>
<path d="M217.6 294.7l3.5-1 1.3 2.7-3.4 .9z" fill="#007679" stroke-dasharray="3.6 99"/>
<path d="M214.5 295.5l3.5-.9 1.3 2.6-3.4 1z" fill="#007679" stroke-dasharray="3.6 99"/>
<path d="M211.4 296.4l3.4-.9 1.4 2.6-3.4 .9z" fill="#007679" stroke-dasharray="3.6 99"/>
<path d="M208.3 297.2l3.4-.9 1.4 2.6-3.4 1z" fill="#007778" stroke-dasharray="3.6 99"/>
<path d="M205.2 298l3.4-.8 1.4 2.6-3.4 .8z" fill="#007875" stroke-dasharray="3.5 99"/>
<path d="M202 298.7l3.5-.8 1.4 2.7-3.4 .8z" fill="#007c70" stroke-dasharray="3.5 99"/>
<path d="M198.9 299.3l3.4-.7 1.5 2.7-3.4 .8z" fill="#008069" stroke-dasharray="3.5 99"/>
<path d="M195.8 300.1l3.4-.8 1.5 2.7-3.4 .8z" fill="#008463" stroke-dasharray="3.5 99"/>
<path d="M192.7 300.9l3.4-.9 1.5 2.8-3.4 .8z" fill="#00875f" stroke-dasharray="3.5 99"/>
<path d="M189.5 301.7l3.5-.9 1.5 2.8-3.4 .9z" fill="#00885e" stroke-dasharray="3.6 99"/>
<path d="M186.4 302.6l3.4-.9 1.6 2.7-3.4 .9z" fill="#00885e" stroke-dasharray="3.6 99"/>
<path d="M183.3 303.5l3.4-1 1.6 2.8-3.4 .9z" fill="#00875f" stroke-dasharray="3.6 99"/>
<path d="M181.6 304l1.9-.5 1.6 2.7-1.9 .5z" fill="#008660" stroke-dasharray="2 99"/>
<path d="M180.2 304.4l1.5-.4 1.6 2.7-1.5 .4z" fill="#008561" stroke-dasharray="1.5 99"/>
<path d="M179.1 304.8l1.2-.4 1.7 2.7-1.3 .4z" fill="#008463" stroke="none"/>
<path d="M178.1 309.9l1.1-5.6 1.6 2.8-1.1 3.6z" fill="#004eab" stroke-dasharray="5.6 99"/>
<path d="M177.2 313.2l1-3.7 1.6 .8-.9 3.6z" fill="#0008d9" stroke="none"/>
<path d="M176.4 314.6l.9-1.5 1.6 .7-.9 1.4z" fill="#0002c0" stroke="none"/>
<path d="M289.9 283.5l1 .4 .6 .9-.9-.4z" fill="#0001bc" stroke="none"/>
<path d="M289.1 282.3l.9 1.4 .7 .9-1-1.4z" fill="#0004c8" stroke="none"/>
<path d="M288.1 281l1.1 1.4 .6 .9-1.1-.6z" fill="#0008d8" stroke="none"/>
<path d="M287 281.4l1.2-.4 .7 1.7-1.3 .3z" fill="#0009de" stroke-dasharray="1.3 99"/>
<path d="M285.6 281.7l1.5-.4 .6 1.7-1.4 .4z" fill="#0009de" stroke-dasharray="1.5 99"/>
<path d="M283.9 282.2l1.9-.5 .6 1.7-1.9 .5z" fill="#0009de" stroke-dasharray="2 99"/>
<path d="M280.8 283.1l3.4-1 .7 1.7-3.4 .9z" fill="#0009de" stroke-dasharray="3.5 99"/>
<path d="M277.7 283.5l3.4-.5 .7 1.7-3.4 .6z" fill="#000ae0" stroke-dasharray="3.5 99"/>
<path d="M274.6 283.7l3.4-.2 .7 1.8-3.4 .4z" fill="#000be5" stroke-dasharray="3.4 99"/>
<path d="M271.5 283.8l3.4-.1 .7 2-3.3 .3z" fill="#0018dd" stroke-dasharray="3.4 99"/>
<path d="M268.4 283.8l3.4 0 .8 2.2-3.4 .3z" fill="#002dc9" stroke-dasharray="3.4 99"/>
<path d="M265.3 284l3.4-.2 .8 2.4-3.4 .4z" fill="#0040b7" stroke-dasharray="3.4 99"/>
<path d="M262.2 284.4l3.4-.5 .8 2.7-3.4 .6z" fill="#004faa" stroke-dasharray="3.4 99"/>
<path d="M259.1 285.1l3.4-.8 .9 2.8-3.4 .8z" fill="#0057a2" stroke-dasharray="3.5 99"/>
<path d="M256 285.9l3.4-.9 .9 2.8-3.4 .9z" fill="#005aa0" stroke-dasharray="3.5 99"/>
<path d="M252.9 286.8l3.4-1 .9 2.8-3.4 .9z" fill="#005a9f" stroke-dasharray="3.5 99"/>
<path d="M249.8 287.7l3.4-1 .9 2.8-3.3 .9z" fill="#005a9f" stroke-dasharray="3.5 99"/>
<path d="M246.7 288.5l3.4-.9 1 2.7-3.4 1z" fill="#005aa0" stroke-dasharray="3.5 99"/>
<path d="M243.6 289.4l3.4-1 1 2.8-3.4 .9z" fill="#0059a0" stroke-dasharray="3.6 99"/>
<path d="M240.5 290.4l3.4-1.1 1 2.8-3.4 .9z" fill="#0057a2" stroke-dasharray="3.6 99"/>
<path d="M237.4 291.3l3.4-1 1.1 2.7-3.4 1z" fill="#0055a4" stroke-dasharray="3.6 99"/>
<path d="M234.3 292.3l3.4-1.1 1.1 2.7-3.4 1z" fill="#0053a6" stroke-dasharray="3.6 99"/>
<path d="M231.2 293.3l3.4-1.1 1.1 2.6-3.4 1z" fill="#0050a9" stroke-dasharray="3.6 99"/>
<path d="M228.1 294.2l3.4-1 1.1 2.5-3.3 1.1z" fill="#004dac" stroke-dasharray="3.6 99"/>
<path d="M225 295.2l3.4-1 1.2 2.5-3.4 1z" fill="#004aae" stroke-dasharray="3.6 99"/>
<path d="M221.9 296.1l3.4-1 1.2 2.5-3.4 .9z" fill="#0049af" stroke-dasharray="3.5 99"/>
<path d="M218.8 296.9l3.4-.9 1.2 2.5-3.4 .9z" fill="#0048b0" stroke-dasharray="3.5 99"/>
<path d="M215.7 297.8l3.4-1 1.3 2.5-3.4 .9z" fill="#0048b0" stroke-dasharray="3.5 99"/>
<path d="M212.6 298.6l3.4-.9 1.3 2.5-3.4 .9z" fill="#0048b0" stroke-dasharray="3.5 99"/>
<path d="M209.5 299.5l3.4-.9 1.3 2.4-3.4 .9z" fill="#0049b0" stroke-dasharray="3.5 99"/>
<path d="M206.4 300.3l3.4-.9 1.3 2.5-3.3 .8z" fill="#004aaf" stroke-dasharray="3.5 99"/>
<path d="M203.3 301l3.4-.8 1.4 2.5-3.4 .8z" fill="#004cac" stroke-dasharray="3.5 99"/>
<path d="M200.2 301.7l3.4-.8 1.4 2.5-3.4 .9z" fill="#0050a9" stroke-dasharray="3.5 99"/>
<path d="M197.1 302.4l3.4-.8 1.4 2.6-3.4 .8z" fill="#0053a6" stroke-dasharray="3.5 99"/>
<path d="M194 303.2l3.4-.8 1.5 2.5-3.4 .9z" fill="#0056a3" stroke-dasharray="3.5 99"/>
<path d="M190.9 304.1l3.4-.9 1.5 2.5-3.4 .9z" fill="#0057a2" stroke-dasharray="3.5 99"/>
<path d="M187.8 305l3.4-1 1.5 2.6-3.4 .9z" fill="#0057a2" stroke-dasharray="3.5 99"/>
<path d="M184.6 305.8l3.5-.9 1.5 2.5-3.3 1z" fill="#0056a3" stroke-dasharray="3.5 99"/>
<path d="M182.9 306.3l1.9-.5 1.6 2.5-1.9 .6z" fill="#0056a3" stroke-dasharray="2 99"/>
<path d="M181.6 306.7l1.5-.4 1.6 2.5-1.5 .4z" fill="#0055a4" stroke-dasharray="1.5 99"/>
<path d="M180.4 307.1l1.3-.4 1.6 2.5-1.2 .4z" fill="#0055a4" stroke-dasharray="1.3 99"/>
<path d="M179.5 310.5l1-3.7 1.7 2.6-1.1 1.9z" fill="#0032c5" stroke-dasharray="3.9 99"/>
<path d="M178.6 313.8l1-3.6 1.6 .8-1 3.5z" fill="#0008d8" stroke-dasharray="3.7 99"/>
<path d="M177.8 315.2l.9-1.5 1.6 .6-.9 1.5z" fill="#0002c0" stroke-dasharray="1.8 99"/>
<path d="M290.5 284.3l.9 .3 .6 1-1-.4z" fill="#0001bc" stroke="none"/>
<path d="M289.6 283.1l1 1.3 .5 .9-.9-1.3z" fill="#0004c8" stroke="none"/>
<path d="M288.7 282.5l1 .6 .6 .9-1.1 .2z" fill="#0007d4" stroke="none"/>
<path d="M287.5 282.8l1.3-.4 .5 1.7-1.2 .4z" fill="#0008d6" stroke="none"/>
<path d="M286.2 283.2l1.5-.4 .5 1.6-1.5 .4z" fill="#0008d6" stroke="none"/>
<path d="M284.5 283.6l1.9-.5 .5 1.7-1.9 .5z" fill="#0008d6" stroke="none"/>
<path d="M281.4 284.5l3.4-.9 .5 1.6-3.3 1z" fill="#0008d6" stroke="none"/>
<path d="M278.3 285.1l3.4-.7 .6 1.7-3.4 .7z" fill="#0008d8" stroke="none"/>
<path d="M275.2 285.4l3.4-.4 .6 1.8-3.3 .5z" fill="#0009db" stroke-dasharray="3.4 99"/>
<path d="M272.2 285.7l3.3-.3 .7 1.9-3.4 .5z" fill="#000ae1" stroke-dasharray="3.4 99"/>
<path d="M269.1 285.9l3.4-.2 .6 2-3.3 .5z" fill="#000ce7" stroke-dasharray="3.4 99"/>
<path d="M266 286.2l3.4-.3 .7 2.3-3.4 .5z" fill="#0017de" stroke-dasharray="3.4 99"/>
<path d="M262.9 286.8l3.4-.6 .7 2.4-3.3 .7z" fill="#0022d4" stroke-dasharray="3.4 99"/>
<path d="M259.9 287.5l3.3-.8 .8 2.5-3.3 .9z" fill="#0027ce" stroke-dasharray="3.5 99"/>
<path d="M256.8 288.3l3.4-.9 .8 2.6-3.4 .9z" fill="#002acc" stroke-dasharray="3.5 99"/>
<path d="M253.7 289.2l3.4-1 .8 2.6-3.3 .9z" fill="#002acc" stroke-dasharray="3.5 99"/>
<path d="M250.6 290l3.4-.9 .9 2.5-3.4 1z" fill="#002acc" stroke-dasharray="3.5 99"/>
<path d="M247.5 290.9l3.4-1 .9 2.6-3.3 .9z" fill="#002acc" stroke-dasharray="3.5 99"/>
<path d="M244.5 291.8l3.4-1 .9 2.5-3.4 1z" fill="#0029cd" stroke-dasharray="3.5 99"/>
<path d="M241.4 292.7l3.4-1 .9 2.5-3.3 1z" fill="#0028ce" stroke-dasharray="3.5 99"/>
<path d="M238.3 293.6l3.4-1 1 2.5-3.3 .9z" fill="#0027cf" stroke-dasharray="3.5 99"/>
<path d="M235.2 294.5l3.4-1 1.1 2.4-3.4 1z" fill="#0025d1" stroke-dasharray="3.5 99"/>
<path d="M232.2 295.5l3.3-1.1 1.1 2.4-3.3 1z" fill="#0023d3" stroke-dasharray="3.5 99"/>
<path d="M229.1 296.4l3.4-1 1.1 2.4-3.4 .9z" fill="#0020d5" stroke-dasharray="3.5 99"/>
<path d="M226 297.3l3.4-1 1.1 2.4-3.3 .9z" fill="#001fd7" stroke-dasharray="3.5 99"/>
<path d="M222.9 298.2l3.4-1 1.2 2.3-3.4 1z" fill="#001dd8" stroke-dasharray="3.5 99"/>
<path d="M219.9 299l3.3-.9 1.2 2.3-3.3 .9z" fill="#001dd8" stroke-dasharray="3.5 99"/>
<path d="M216.8 299.9l3.4-.9 1.2 2.3-3.3 .9z" fill="#001dd8" stroke-dasharray="3.5 99"/>
<path d="M213.7 300.7l3.4-.9 1.3 2.3-3.4 .9z" fill="#001dd8" stroke-dasharray="3.5 99"/>
<path d="M210.6 301.6l3.4-.9 1.3 2.2-3.3 1z" fill="#001dd8" stroke-dasharray="3.5 99"/>
<path d="M207.6 302.4l3.3-.9 1.4 2.3-3.4 .9z" fill="#001ed7" stroke-dasharray="3.5 99"/>
<path d="M204.5 303.2l3.4-.9 1.3 2.3-3.3 .9z" fill="#001fd6" stroke-dasharray="3.5 99"/>
<path d="M201.4 303.9l3.4-.8 1.4 2.3-3.4 .8z" fill="#0022d4" stroke-dasharray="3.5 99"/>
<path d="M198.3 304.7l3.4-.9 1.4 2.4-3.3 .8z" fill="#0024d1" stroke-dasharray="3.5 99"/>
<path d="M195.2 305.5l3.4-.9 1.5 2.3-3.3 .9z" fill="#0026cf" stroke-dasharray="3.5 99"/>
<path d="M192.2 306.3l3.4-.9 1.5 2.3-3.4 .9z" fill="#0027cf" stroke-dasharray="3.5 99"/>
<path d="M189.1 307.1l3.4-.9 1.5 2.4-3.3 .9z" fill="#0028ce" stroke-dasharray="3.5 99"/>
<path d="M186 308l3.4-.9 1.6 2.3-3.4 .9z" fill="#0027cf" stroke-dasharray="3.5 99"/>
<path d="M184.3 308.5l1.9-.5 1.6 2.3-1.9 .5z" fill="#0027cf" stroke-dasharray="2 99"/>
<path d="M183 308.9l1.4-.4 1.6 2.3-1.4 .4z" fill="#0027cf" stroke-dasharray="1.5 99"/>
<path d="M181.8 309.2l1.3-.3 1.6 2.3-1.3 .3z" fill="#0026d0" stroke-dasharray="1.3 99"/>
<path d="M180.9 311.2l1-2.2 1.6 2.5-1 .5z" fill="#0019dc" stroke-dasharray="2.4 99"/>
<path d="M180 314.4l.9-3.5 1.7 .8-1 3.3z" fill="#0008d7" stroke="none"/>
<path d="M179.1 315.7l1-1.5 1.6 .7-1 1.4z" fill="#0002bf" stroke="none"/>
<path d="M291 285.1l.9 .3 .4 1-.9-.4z" fill="#0001bc" stroke="none"/>
<path d="M290.1 283.8l1 1.4 .4 .9-1-.8z" fill="#0004c7" stroke="none"/>
<path d="M289.1 283.9l1.1-.1 .4 1.5-1.1 .3z" fill="#0006cf" stroke-dasharray="1.1 99"/>
<path d="M288 284.2l1.3-.3 .3 1.6-1.2 .4z" fill="#0006cf" stroke-dasharray="1.3 99"/>
<path d="M286.7 284.6l1.4-.4 .4 1.6-1.5 .4z" fill="#0006cf" stroke-dasharray="1.5 99"/>
<path d="M284.9 285.1l1.9-.6 .4 1.7-1.9 .5z" fill="#0006cf" stroke-dasharray="2 99"/>
<path d="M281.9 285.9l3.3-.9 .4 1.6-3.3 .9z" fill="#0006cf" stroke-dasharray="3.5 99"/>
<path d="M278.8 286.6l3.4-.8 .4 1.7-3.3 .7z" fill="#0006d0" stroke-dasharray="3.4 99"/>
<path d="M275.8 287.1l3.3-.6 .5 1.7-3.3 .7z" fill="#0007d3" stroke-dasharray="3.4 99"/>
<path d="M272.7 287.5l3.4-.5 .5 1.8-3.3 .6z" fill="#0007d6" stroke-dasharray="3.4 99"/>
<path d="M269.7 287.9l3.3-.5 .6 2-3.3 .6z" fill="#0008da" stroke-dasharray="3.4 99"/>
<path d="M266.6 288.3l3.4-.5 .6 2.1-3.3 .7z" fill="#0009de" stroke-dasharray="3.4 99"/>
<path d="M263.6 289l3.3-.7 .7 2.2-3.3 .8z" fill="#000ae1" stroke-dasharray="3.4 99"/>
<path d="M260.5 289.7l3.4-.8 .7 2.3-3.3 .8z" fill="#000be3" stroke-dasharray="3.5 99"/>
<path d="M257.5 290.5l3.3-.9 .8 2.4-3.3 .9z" fill="#000be3" stroke-dasharray="3.5 99"/>
<path d="M254.4 291.4l3.4-1 .8 2.4-3.3 .9z" fill="#000be3" stroke-dasharray="3.5 99"/>
<path d="M251.4 292.2l3.3-.9 .9 2.3-3.3 .9z" fill="#000be3" stroke-dasharray="3.5 99"/>
<path d="M248.3 293.1l3.4-1 .9 2.3-3.3 1z" fill="#000be3" stroke-dasharray="3.5 99"/>
<path d="M245.3 293.9l3.3-.9 1 2.3-3.3 .9z" fill="#000be3" stroke-dasharray="3.5 99"/>
<path d="M242.2 294.8l3.4-1 1 2.3-3.3 .9z" fill="#000be3" stroke-dasharray="3.5 99"/>
<path d="M239.2 295.7l3.3-1 1.1 2.3-3.3 .9z" fill="#000be2" stroke-dasharray="3.5 99"/>
<path d="M236.1 296.6l3.4-1 1.1 2.2-3.3 1z" fill="#000ae2" stroke-dasharray="3.5 99"/>
<path d="M233.1 297.5l3.3-1 1.2 2.2-3.3 .9z" fill="#000ae1" stroke-dasharray="3.5 99"/>
<path d="M230 298.4l3.4-1 1.2 2.1-3.3 1z" fill="#000ae1" stroke-dasharray="3.5 99"/>
<path d="M227 299.3l3.3-1 1.3 2.1-3.3 1z" fill="#000ae0" stroke-dasharray="3.5 99"/>
<path d="M223.9 300.2l3.4-1 1.3 2.1-3.3 .9z" fill="#000ae0" stroke-dasharray="3.5 99"/>
<path d="M220.9 301l3.3-.9 1.4 2-3.3 .9z" fill="#000ae0" stroke-dasharray="3.5 99"/>
<path d="M217.8 301.9l3.4-1 1.4 2.1-3.3 .9z" fill="#000ae0" stroke-dasharray="3.5 99"/>
<path d="M214.8 302.7l3.3-.9 1.5 2-3.3 .9z" fill="#000ae0" stroke-dasharray="3.5 99"/>
<path d="M211.7 303.6l3.4-1 1.5 2-3.3 .9z" fill="#000ae0" stroke-dasharray="3.5 99"/>
<path d="M208.7 304.4l3.3-.9 1.6 2-3.3 .9z" fill="#000ae0" stroke-dasharray="3.5 99"/>
<path d="M205.6 305.2l3.4-.9 1.6 2-3.3 .9z" fill="#000ae0" stroke-dasharray="3.5 99"/>
<path d="M202.6 305.9l3.3-.8 1.7 2-3.3 .8z" fill="#000ae1" stroke-dasharray="3.5 99"/>
<path d="M199.5 306.7l3.4-.8 1.7 2-3.3 .8z" fill="#000ae2" stroke-dasharray="3.5 99"/>
<path d="M196.5 307.5l3.3-.9 1.8 2.1-3.3 .8z" fill="#000be2" stroke-dasharray="3.5 99"/>
<path d="M193.4 308.3l3.4-.9 1.8 2-3.3 .9z" fill="#000be3" stroke-dasharray="3.5 99"/>
<path d="M190.4 309.2l3.3-1 1.9 2.1-3.3 .9z" fill="#000be3" stroke-dasharray="3.5 99"/>
<path d="M187.3 310l3.4-.9 1.9 2-3.3 .9z" fill="#000be3" stroke-dasharray="3.5 99"/>
<path d="M185.6 310.5l1.9-.5 2 2-1.9 .5z" fill="#000be3" stroke-dasharray="2 99"/>
<path d="M184.3 310.9l1.4-.4 2.1 1.9-1.5 .5z" fill="#000be2" stroke-dasharray="1.5 99"/>
<path d="M183.1 311.2l1.3-.3 2 1.9-1.3 .4z" fill="#000be2" stroke-dasharray="1.3 99"/>
<path d="M182.2 311.8l1-.6 2 2-1 .2z" fill="#000ae2" stroke="none"/>
<path d="M181.3 315l.9-3.5 2.1 1.7-1 2.3z" fill="#0007d3" stroke-dasharray="3.6 99"/>
<path d="M180.4 316.2l1-1.4 2 .6-.9 1.4z" fill="#0002bf" stroke-dasharray="1.7 99"/>
<path d="M291.3 285.9l1 .3 .2 1.1-.9-.4z" fill="#0001bc" stroke="none"/>
<path d="M290.5 285l.9 1 .2 .9-.9-.2z" fill="#0003c4" stroke="none"/>
<path d="M289.5 285.3l1.1-.3 .2 1.6-1.1 .3z" fill="#0004c9" stroke="none"/>
<path d="M288.4 285.6l1.2-.3 .2 1.6-1.2 .3z" fill="#0004c9" stroke="none"/>
<path d="M287 286l1.5-.4 .2 1.6-1.5 .4z" fill="#0004c9" stroke="none"/>
<path d="M285.3 286.5l1.9-.6 .2 1.7-1.9 .5z" fill="#0004c9" stroke="none"/>
<path d="M282.3 287.3l3.3-.9 .2 1.6-3.2 .9z" fill="#0004c9" stroke="none"/>
<path d="M279.3 288l3.3-.8 .3 1.6-3.3 .8z" fill="#0004c9" stroke="none"/>
<path d="M276.3 288.6l3.3-.7 .3 1.7-3.2 .7z" fill="#0005cb" stroke="none"/>
<path d="M273.3 289.2l3.3-.7 .4 1.8-3.3 .7z" fill="#0005cd" stroke-dasharray="3.4 99"/>
<path d="M270.2 289.7l3.4-.6 .4 1.8-3.2 .7z" fill="#0006d0" stroke-dasharray="3.4 99"/>
<path d="M267.2 290.3l3.3-.7 .6 2-3.3 .7z" fill="#0006d2" stroke-dasharray="3.4 99"/>
<path d="M264.2 291l3.3-.8 .6 2-3.2 .8z" fill="#0007d4" stroke-dasharray="3.4 99"/>
<path d="M261.2 291.7l3.3-.8 .7 2.1-3.2 .8z" fill="#0007d5" stroke-dasharray="3.4 99"/>
<path d="M258.2 292.5l3.3-.9 .7 2.1-3.2 .9z" fill="#0007d5" stroke-dasharray="3.4 99"/>
<path d="M255.2 293.4l3.3-1 .8 2.1-3.2 .9z" fill="#0007d5" stroke-dasharray="3.4 99"/>
<path d="M252.2 294.2l3.3-.9 .9 2.1-3.3 .8z" fill="#0007d5" stroke-dasharray="3.4 99"/>
<path d="M249.2 295l3.3-.9 .9 2.1-3.2 .9z" fill="#0007d5" stroke-dasharray="3.4 99"/>
<path d="M246.2 295.9l3.3-.9 1 2-3.3 .9z" fill="#0007d5" stroke-dasharray="3.4 99"/>
<path d="M243.2 296.7l3.3-.9 1 2-3.2 .9z" fill="#0007d5" stroke-dasharray="3.4 99"/>
<path d="M240.2 297.6l3.3-.9 1.1 1.9-3.3 .9z" fill="#0007d5" stroke-dasharray="3.4 99"/>
<path d="M237.1 298.5l3.4-1 1.1 2-3.2 .9z" fill="#0007d5" stroke-dasharray="3.4 99"/>
<path d="M234.1 299.4l3.3-1 1.3 1.9-3.2 .9z" fill="#0007d4" stroke-dasharray="3.4 99"/>
<path d="M231.1 300.2l3.3-.9 1.3 1.8-3.2 1z" fill="#0007d4" stroke-dasharray="3.4 99"/>
<path d="M228.1 301.1l3.3-1 1.4 1.9-3.2 .9z" fill="#0007d4" stroke-dasharray="3.4 99"/>
<path d="M225.1 301.9l3.3-.9 1.5 1.8-3.3 .9z" fill="#0007d3" stroke-dasharray="3.4 99"/>
<path d="M222.1 302.8l3.3-.9 1.5 1.7-3.2 .9z" fill="#0007d3" stroke-dasharray="3.4 99"/>
<path d="M219.1 303.6l3.3-.9 1.6 1.8-3.3 .9z" fill="#0007d3" stroke-dasharray="3.4 99"/>
<path d="M216.1 304.4l3.3-.9 1.6 1.8-3.2 .9z" fill="#0007d3" stroke-dasharray="3.4 99"/>
<path d="M213.1 305.3l3.3-.9 1.7 1.7-3.3 .9z" fill="#0007d3" stroke-dasharray="3.4 99"/>
<path d="M210.1 306.1l3.3-.9 1.7 1.7-3.2 .9z" fill="#0007d3" stroke-dasharray="3.4 99"/>
<path d="M207 306.9l3.4-.9 1.8 1.7-3.2 .9z" fill="#0007d3" stroke-dasharray="3.4 99"/>
<path d="M204 307.7l3.3-.9 1.9 1.7-3.2 .9z" fill="#0007d4" stroke-dasharray="3.4 99"/>
<path d="M201 308.5l3.3-.9 2 1.7-3.2 .9z" fill="#0007d4" stroke-dasharray="3.4 99"/>
<path d="M198 309.3l3.3-.9 2.1 1.7-3.3 .9z" fill="#0007d5" stroke-dasharray="3.4 99"/>
<path d="M195 310.1l3.3-.9 2.1 1.7-3.2 .9z" fill="#0007d5" stroke-dasharray="3.4 99"/>
<path d="M192 310.9l3.3-.9 2.2 1.7-3.3 .9z" fill="#0007d5" stroke-dasharray="3.4 99"/>
<path d="M189 311.8l3.3-1 2.2 1.7-3.2 .9z" fill="#0007d5" stroke-dasharray="3.4 99"/>
<path d="M187.3 312.2l1.9-.5 2.3 1.7-1.9 .5z" fill="#0007d5" stroke-dasharray="2 99"/>
<path d="M185.9 312.6l1.5-.4 2.3 1.6-1.5 .4z" fill="#0007d5" stroke-dasharray="1.5 99"/>
<path d="M184.8 312.9l1.2-.3 2.3 1.6-1.2 .4z" fill="#0007d5" stroke-dasharray="1.3 99"/>
<path d="M183.8 313.2l1.1-.3 2.3 1.6-1.1 .3z" fill="#0007d5" stroke-dasharray="1.1 99"/>
<path d="M183 315.4l.9-2.4 2.3 1.7-1 1.2z" fill="#0005cd" stroke-dasharray="2.6 99"/>
<path d="M182.1 316.7l.9-1.4 2.3 .5-.9 1.3z" fill="#0001bf" stroke="none"/>
<path d="M291.6 286.7l.9 .4 0 1.1-1-.4z" fill="#0001bc" stroke="none"/>
<path d="M290.7 286.4l.9 .4 0 1-.9 .2z" fill="#0002c1" stroke-dasharray="1 99"/>
<path d="M289.7 286.7l1.1-.3 0 1.6-1.1 .3z" fill="#0003c3" stroke-dasharray="1.1 99"/>
<path d="M288.6 287l1.2-.3 0 1.5-1.2 .4z" fill="#0003c3" stroke-dasharray="1.3 99"/>
<path d="M287.2 287.4l1.5-.4 0 1.6-1.5 .4z" fill="#0003c3" stroke-dasharray="1.5 99"/>
<path d="M285.5 287.8l1.9-.5 0 1.6-1.9 .5z" fill="#0003c3" stroke-dasharray="2 99"/>
<path d="M282.6 288.7l3.2-.9 0 1.6-3.2 .8z" fill="#0003c3" stroke-dasharray="3.4 99"/>
<path d="M279.6 289.4l3.3-.8 0 1.6-3.2 .8z" fill="#0003c3" stroke-dasharray="3.3 99"/>
<path d="M276.6 290.1l3.3-.8 .1 1.6-3.2 .8z" fill="#0003c4" stroke-dasharray="3.3 99"/>
<path d="M273.7 290.7l3.2-.7 .2 1.6-3.1 .8z" fill="#0003c6" stroke="none"/>
<path d="M270.7 291.4l3.3-.7 .2 1.7-3.1 .7z" fill="#0004c7" stroke-dasharray="3.3 99"/>
<path d="M267.8 292l3.2-.7 .4 1.8-3.2 .8z" fill="#0004c8" stroke-dasharray="3.3 99"/>
<path d="M264.8 292.8l3.3-.8 .4 1.8-3.2 .8z" fill="#0004c9" stroke-dasharray="3.3 99"/>
<path d="M261.9 293.5l3.2-.8 .5 1.8-3.2 .9z" fill="#0004ca" stroke-dasharray="3.4 99"/>
<path d="M258.9 294.3l3.3-.9 .5 1.9-3.2 .9z" fill="#0004ca" stroke-dasharray="3.4 99"/>
<path d="M256 295.2l3.2-.9 .6 1.8-3.1 .9z" fill="#0004ca" stroke-dasharray="3.4 99"/>
<path d="M253 296l3.3-.9 .6 1.8-3.1 .9z" fill="#0004ca" stroke-dasharray="3.4 99"/>
<path d="M250 296.8l3.3-.9 .8 1.8-3.2 .9z" fill="#0004ca" stroke-dasharray="3.4 99"/>
<path d="M247.1 297.6l3.2-.9 .9 1.8-3.2 .9z" fill="#0004ca" stroke-dasharray="3.4 99"/>
<path d="M244.1 298.4l3.3-.9 .9 1.8-3.2 .9z" fill="#0004ca" stroke-dasharray="3.4 99"/>
<path d="M241.2 299.3l3.2-.9 1 1.7-3.2 .9z" fill="#0004ca" stroke-dasharray="3.4 99"/>
<path d="M238.2 300.1l3.3-.9 1 1.7-3.1 .9z" fill="#0004ca" stroke-dasharray="3.4 99"/>
<path d="M235.3 301l3.2-1 1.1 1.7-3.1 .9z" fill="#0004ca" stroke-dasharray="3.4 99"/>
<path d="M232.3 301.8l3.3-.9 1.2 1.6-3.2 .9z" fill="#0004c9" stroke-dasharray="3.4 99"/>
<path d="M229.4 302.7l3.2-1 1.3 1.7-3.2 .8z" fill="#0004c9" stroke-dasharray="3.4 99"/>
<path d="M226.4 303.5l3.3-.9 1.3 1.6-3.2 .8z" fill="#0004c9" stroke-dasharray="3.4 99"/>
<path d="M223.4 304.3l3.3-.9 1.4 1.6-3.2 .9z" fill="#0004c9" stroke-dasharray="3.4 99"/>
<path d="M220.5 305.1l3.2-.9 1.5 1.6-3.1 .8z" fill="#0004c9" stroke-dasharray="3.4 99"/>
<path d="M217.5 305.9l3.3-.9 1.5 1.6-3.1 .8z" fill="#0004c9" stroke-dasharray="3.4 99"/>
<path d="M214.6 306.8l3.2-.9 1.7 1.5-3.2 .8z" fill="#0004c9" stroke-dasharray="3.4 99"/>
<path d="M211.6 307.6l3.3-.9 1.7 1.5-3.2 .8z" fill="#0004c9" stroke-dasharray="3.4 99"/>
<path d="M208.7 308.4l3.2-.9 1.8 1.5-3.2 .8z" fill="#0004c9" stroke-dasharray="3.4 99"/>
<path d="M205.7 309.2l3.3-.9 1.8 1.5-3.2 .8z" fill="#0004c9" stroke-dasharray="3.4 99"/>
<path d="M202.8 310l3.2-.9 1.9 1.4-3.1 .9z" fill="#0004ca" stroke-dasharray="3.4 99"/>
<path d="M199.8 310.8l3.3-.9 1.9 1.4-3.1 .9z" fill="#0004ca" stroke-dasharray="3.4 99"/>
<path d="M196.8 311.6l3.3-.9 2.1 1.4-3.2 .9z" fill="#0004ca" stroke-dasharray="3.4 99"/>
<path d="M193.9 312.4l3.2-.9 2.2 1.4-3.2 .9z" fill="#0004ca" stroke-dasharray="3.4 99"/>
<path d="M190.9 313.2l3.3-.9 2.2 1.4-3.2 .9z" fill="#0004ca" stroke-dasharray="3.4 99"/>
<path d="M189.2 313.7l1.9-.6 2.3 1.4-1.9 .6z" fill="#0004ca" stroke-dasharray="2 99"/>
<path d="M187.9 314l1.4-.4 2.3 1.4-1.4 .4z" fill="#0004ca" stroke-dasharray="1.5 99"/>
<path d="M186.7 314.4l1.3-.4 2.3 1.4-1.3 .3z" fill="#0004ca" stroke="none"/>
<path d="M185.8 314.6l1-.3 2.3 1.4-1 .3z" fill="#0004ca" stroke="none"/>
<path d="M184.9 315.9l1-1.4 2.3 1.5-1 .4z" fill="#0004c7" stroke-dasharray="1.7 99"/>
<path d="M184.1 317.1l.9-1.4 2.3 .5-1 1.3z" fill="#0001bf" stroke-dasharray="1.6 99"/>
<path d="M291.6 287.6l.9 .4-.4 1.1-.9 0z" fill="#0001bb" stroke-dasharray="1 99"/>
<path d="M290.7 287.8l1-.2-.4 1.5-1 .2z" fill="#0001be" stroke="none"/>
<path d="M289.8 288l1-.3-.4 1.6-1 .3z" fill="#0001be" stroke="none"/>
<path d="M288.6 288.4l1.3-.4-.4 1.6-1.3 .3z" fill="#0001be" stroke="none"/>
<path d="M287.3 288.7l1.4-.4-.3 1.6-1.5 .4z" fill="#0001be" stroke="none"/>
<path d="M285.6 289.2l1.8-.5-.3 1.5-1.9 .6z" fill="#0001be" stroke="none"/>
<path d="M282.7 290l3.1-.9-.4 1.6-3 .8z" fill="#0001be" stroke="none"/>
<path d="M279.8 290.7l3.1-.8-.3 1.6-3.1 .8z" fill="#0001bf" stroke="none"/>
<path d="M276.9 291.5l3.1-.8-.2 1.5-3.1 .8z" fill="#0002bf" stroke="none"/>
<path d="M274 292.2l3.2-.8-.2 1.6-3.1 .8z" fill="#0002c0" stroke-dasharray="3.3 99"/>
<path d="M271.1 292.9l3.2-.8-.1 1.6-3.1 .8z" fill="#0002c0" stroke="none"/>
<path d="M268.2 293.6l3.2-.8 0 1.7-3.1 .8z" fill="#0002c1" stroke-dasharray="3.3 99"/>
<path d="M265.3 294.4l3.2-.9 .1 1.7-3.1 .9z" fill="#0002c2" stroke-dasharray="3.3 99"/>
<path d="M262.4 295.1l3.2-.8 .2 1.7-3.1 .8z" fill="#0002c2" stroke-dasharray="3.3 99"/>
<path d="M259.5 295.9l3.2-.8 .2 1.6-3 .9z" fill="#0002c2" stroke-dasharray="3.3 99"/>
<path d="M256.6 296.7l3.2-.8 .3 1.6-3.1 .9z" fill="#0002c2" stroke-dasharray="3.3 99"/>
<path d="M253.7 297.5l3.2-.8 .4 1.6-3.1 .9z" fill="#0002c2" stroke-dasharray="3.3 99"/>
<path d="M250.8 298.4l3.2-.9 .5 1.6-3.1 .8z" fill="#0002c2" stroke-dasharray="3.3 99"/>
<path d="M247.9 299.2l3.2-.9 .6 1.6-3.1 .8z" fill="#0002c2" stroke-dasharray="3.3 99"/>
<path d="M245 300l3.2-.9 .7 1.5-3.1 .9z" fill="#0002c2" stroke-dasharray="3.3 99"/>
<path d="M242.1 300.8l3.2-.9 .8 1.5-3.1 .9z" fill="#0002c2" stroke-dasharray="3.3 99"/>
<path d="M239.2 301.6l3.2-.9 .9 1.5-3.1 .9z" fill="#0002c2" stroke-dasharray="3.3 99"/>
<path d="M236.3 302.4l3.2-.9 .9 1.5-3 .8z" fill="#0002c2" stroke-dasharray="3.3 99"/>
<path d="M233.4 303.2l3.2-.9 1 1.5-3.1 .8z" fill="#0002c2" stroke-dasharray="3.3 99"/>
<path d="M230.5 304l3.2-.9 1.1 1.5-3.1 .8z" fill="#0002c1" stroke-dasharray="3.3 99"/>
<path d="M227.6 304.8l3.2-.8 1.2 1.3-3.1 .9z" fill="#0002c1" stroke-dasharray="3.3 99"/>
<path d="M224.7 305.6l3.2-.8 1.3 1.3-3.1 .9z" fill="#0002c1" stroke="none"/>
<path d="M221.8 306.5l3.2-.9 1.4 1.3-3.1 .9z" fill="#0002c1" stroke="none"/>
<path d="M218.9 307.3l3.2-.9 1.5 1.3-3.1 .8z" fill="#0002c1" stroke="none"/>
<path d="M216 308.1l3.2-.9 1.6 1.3-3.1 .8z" fill="#0002c1" stroke="none"/>
<path d="M213.1 308.9l3.2-.9 1.6 1.2-3 .9z" fill="#0002c1" stroke="none"/>
<path d="M210.3 309.7l3.1-.9 1.7 1.2-3.1 .9z" fill="#0002c1" stroke="none"/>
<path d="M207.4 310.4l3.1-.8 1.8 1.2-3.1 .8z" fill="#0002c1" stroke="none"/>
<path d="M204.5 311.2l3.1-.8 1.9 1.2-3.1 .8z" fill="#0002c2" stroke="none"/>
<path d="M201.6 312l3.1-.9 2 1.2-3.1 .9z" fill="#0002c2" stroke="none"/>
<path d="M198.7 312.8l3.2-.9 2 1.2-3.1 .9z" fill="#0002c2" stroke="none"/>
<path d="M195.8 313.6l3.2-.9 2.1 1.2-3.1 .8z" fill="#0002c2" stroke="none"/>
<path d="M192.9 314.4l3.2-.9 2.2 1.2-3.1 .8z" fill="#0002c2" stroke="none"/>
<path d="M191.2 314.9l1.8-.5 2.3 1.1-1.9 .5z" fill="#0002c2" stroke="none"/>
<path d="M189.8 315.3l1.5-.5 2.3 1.2-1.5 .4z" fill="#0002c2" stroke="none"/>
<path d="M188.7 315.6l1.2-.4 2.3 1.1-1.2 .4z" fill="#0002c2" stroke-dasharray="1.3 99"/>
<path d="M187.7 315.8l1.1-.3 2.3 1.2-1.1 .3z" fill="#0002c2" stroke-dasharray="1.1 99"/>
<path d="M186.8 316.2l1-.4 2.3 1.1-1 .3z" fill="#0002c2" stroke="none"/>
<path d="M186 317.4l.9-1.3 2.3 1-.9 .8z" fill="#0001bd" stroke-dasharray="1.6 99"/>
<path d="M291.4 288.8l.9 .1-1.1 1.4-.9 .2z" fill="#0000ba" stroke="none"/>
<path d="M290.5 289.1l1-.3-1.1 1.6-1 .3z" fill="#0001bb" stroke-dasharray="1 99"/>
<path d="M289.5 289.4l1.1-.3-1.1 1.6-1 .3z" fill="#0001bb" stroke-dasharray="1.1 99"/>
<path d="M288.4 289.7l1.2-.4-1 1.6-1.3 .4z" fill="#0001bb" stroke-dasharray="1.3 99"/>
<path d="M287 290l1.5-.4-1.1 1.7-1.4 .4z" fill="#0001bb" stroke-dasharray="1.5 99"/>
<path d="M285.3 290.5l1.9-.5-1.1 1.6-1.8 .5z" fill="#0001bb" stroke-dasharray="2 99"/>
<path d="M282.5 291.3l3.1-.9-1.1 1.7-3 .8z" fill="#0001bb" stroke-dasharray="3.2 99"/>
<path d="M279.7 292.1l3.1-.9-1 1.6-3 .8z" fill="#0001bb" stroke-dasharray="3.2 99"/>
<path d="M276.8 292.8l3.2-.8-.9 1.6-3 .8z" fill="#0001bb" stroke-dasharray="3.2 99"/>
<path d="M274 293.5l3.1-.8-.7 1.6-3 .8z" fill="#0001bc" stroke="none"/>
<path d="M271.2 294.3l3.1-.8-.7 1.6-3 .8z" fill="#0001bc" stroke-dasharray="3.2 99"/>
<path d="M268.4 295l3.1-.8-.6 1.6-3 .8z" fill="#0001bc" stroke="none"/>
<path d="M265.5 295.8l3.1-.8-.4 1.6-3 .8z" fill="#0001bc" stroke="none"/>
<path d="M262.7 296.6l3.1-.9-.3 1.6-3 .8z" fill="#0001bc" stroke="none"/>
<path d="M259.9 297.4l3.1-.9-.3 1.6-3 .8z" fill="#0001bc" stroke="none"/>
<path d="M257 298.2l3.2-.9-.2 1.5-3 .8z" fill="#0001bc" stroke="none"/>
<path d="M254.2 298.9l3.1-.8 0 1.5-3 .8z" fill="#0001bc" stroke="none"/>
<path d="M251.4 299.7l3.1-.8 .1 1.4-3 .9z" fill="#0001bc" stroke="none"/>
<path d="M248.6 300.5l3.1-.9 .1 1.5-2.9 .8z" fill="#0001bc" stroke="none"/>
<path d="M245.7 301.3l3.1-.9 .3 1.4-3 .9z" fill="#0001bc" stroke="none"/>
<path d="M242.9 302.1l3.1-.9 .4 1.4-3 .8z" fill="#0001bc" stroke="none"/>
<path d="M240.1 302.9l3.1-.9 .5 1.3-3 .9z" fill="#0001bc" stroke="none"/>
<path d="M237.2 303.7l3.2-.9 .6 1.3-3 .8z" fill="#0001bc" stroke="none"/>
<path d="M234.4 304.4l3.1-.8 .7 1.2-3 .9z" fill="#0001bc" stroke="none"/>
<path d="M231.6 305.2l3.1-.8 .8 1.2-3 .8z" fill="#0001bc" stroke="none"/>
<path d="M228.8 306l3.1-.8 .9 1.2-3 .8z" fill="#0001bc" stroke="none"/>
<path d="M225.9 306.8l3.1-.9 1.1 1.2-3 .8z" fill="#0001bc" stroke-dasharray="3.2 99"/>
<path d="M223.1 307.6l3.1-.9 1.1 1.2-3 .8z" fill="#0001bc" stroke-dasharray="3.2 99"/>
<path d="M220.3 308.4l3.1-.9 1.2 1.1-3 .9z" fill="#0001bc" stroke-dasharray="3.2 99"/>
<path d="M217.4 309.2l3.2-.9 1.3 1.1-3 .8z" fill="#0001bc" stroke-dasharray="3.2 99"/>
<path d="M214.6 309.9l3.1-.8 1.5 1-3 .9z" fill="#0001bc" stroke-dasharray="3.2 99"/>
<path d="M211.8 310.7l3.1-.8 1.5 1-3 .8z" fill="#0001bc" stroke-dasharray="3.2 99"/>
<path d="M209 311.5l3.1-.9 1.6 1-3 .9z" fill="#0001bc" stroke-dasharray="3.2 99"/>
<path d="M206.1 312.3l3.1-.9 1.8 1-3 .8z" fill="#0001bc" stroke-dasharray="3.2 99"/>
<path d="M203.3 313.1l3.1-.9 1.9 .9-3 .9z" fill="#0001bc" stroke-dasharray="3.2 99"/>
<path d="M200.5 313.8l3.1-.8 1.9 .9-2.9 .8z" fill="#0001bc" stroke-dasharray="3.2 99"/>
<path d="M197.6 314.6l3.2-.8 2 .9-3 .8z" fill="#0001bc" stroke-dasharray="3.2 99"/>
<path d="M194.8 315.4l3.1-.9 2.2 .9-3 .8z" fill="#0001bc" stroke-dasharray="3.2 99"/>
<path d="M193.1 315.9l1.9-.6 2.3 .9-1.9 .5z" fill="#0001bc" stroke-dasharray="2 99"/>
<path d="M191.8 316.2l1.4-.4 2.3 .9-1.5 .4z" fill="#0001bc" stroke-dasharray="1.5 99"/>
<path d="M190.6 316.6l1.3-.4 2.3 .9-1.3 .3z" fill="#0001bc" stroke="none"/>
<path d="M189.7 316.8l1-.3 2.3 .9-1.1 .3z" fill="#0001bc" stroke="none"/>
<path d="M188.8 317.1l.9-.3 2.3 .8-.9 .3z" fill="#0001bc" stroke-dasharray="1 99"/>
<path d="M187.9 317.8l1-.8 2.2 .9-.9 .4z" fill="#0000bb" stroke="none"/>
<path d="M291.1 290.1l.9-.2-5.1 2.5-.9 .2z" fill="#0000b9" stroke="none"/>
<path d="M290.2 290.3l1-.2-5.1 2.5-1 .3z" fill="#0000b9" stroke="none"/>
<path d="M289.2 290.6l1.1-.3-5.1 2.6-1 .3z" fill="#0000b9" stroke="none"/>
<path d="M288.1 290.9l1.3-.3-5.1 2.5-1.3 .4z" fill="#0000b9" stroke="none"/>
<path d="M286.8 291.3l1.4-.4-5.1 2.5-1.4 .4z" fill="#0000b9" stroke="none"/>
<path d="M285 291.7l1.9-.5-5.1 2.6-1.8 .5z" fill="#0000b9" stroke="none"/>
<path d="M282.3 292.5l3-.8-5.1 2.5-2.8 .8z" fill="#0000b9" stroke="none"/>
<path d="M279.5 293.3l3-.9-4.8 2.5-2.8 .8z" fill="#0000b9" stroke="none"/>
<path d="M276.8 294l3-.8-4.7 2.4-2.7 .8z" fill="#0000ba" stroke="none"/>
<path d="M274 294.8l3-.9-4.4 2.4-2.8 .8z" fill="#0000ba" stroke-dasharray="3.1 99"/>
<path d="M271.2 295.5l3.1-.8-4.2 2.3-2.8 .8z" fill="#0000ba" stroke="none"/>
<path d="M268.5 296.3l3-.8-3.9 2.2-2.8 .8z" fill="#0000ba" stroke-dasharray="3.1 99"/>
<path d="M265.7 297l3.1-.8-3.8 2.2-2.7 .8z" fill="#0000ba" stroke-dasharray="3.1 99"/>
<path d="M263 297.8l3-.8-3.5 2.1-2.8 .8z" fill="#0000ba" stroke-dasharray="3.1 99"/>
<path d="M260.2 298.6l3-.9-3.2 2.1-2.8 .8z" fill="#0000ba" stroke-dasharray="3.1 99"/>
<path d="M257.4 299.3l3.1-.8-3 2-2.8 .8z" fill="#0000ba" stroke-dasharray="3.1 99"/>
<path d="M254.7 300.1l3-.8-2.8 1.9-2.8 .8z" fill="#0000ba" stroke-dasharray="3.1 99"/>
<path d="M251.9 300.9l3.1-.9-2.6 1.9-2.8 .8z" fill="#0000ba" stroke-dasharray="3.1 99"/>
<path d="M249.2 301.6l3-.8-2.3 1.8-2.8 .8z" fill="#0000ba" stroke-dasharray="3.1 99"/>
<path d="M246.4 302.4l3-.8-2.1 1.7-2.7 .8z" fill="#0000ba" stroke-dasharray="3.1 99"/>
<path d="M243.7 303.2l3-.9-1.9 1.7-2.8 .8z" fill="#0000ba" stroke-dasharray="3.1 99"/>
<path d="M240.9 303.9l3-.8-1.6 1.6-2.8 .8z" fill="#0000ba" stroke-dasharray="3.1 99"/>
<path d="M238.1 304.7l3.1-.8-1.4 1.5-2.8 .8z" fill="#0000ba" stroke-dasharray="3.1 99"/>
<path d="M235.4 305.5l3-.9-1.2 1.6-2.8 .7z" fill="#0000ba" stroke-dasharray="3.1 99"/>
<path d="M232.6 306.2l3-.8-.9 1.5-2.8 .7z" fill="#0000ba" stroke-dasharray="3.1 99"/>
<path d="M229.9 307l3-.9-.7 1.5-2.8 .7z" fill="#0000ba" stroke-dasharray="3.1 99"/>
<path d="M227.1 307.8l3-.9-.5 1.4-2.7 .7z" fill="#0000ba" stroke="none"/>
<path d="M224.3 308.5l3.1-.8-.3 1.3-2.8 .7z" fill="#0000ba" stroke="none"/>
<path d="M221.6 309.3l3-.9 0 1.3-2.8 .7z" fill="#0000ba" stroke="none"/>
<path d="M218.8 310l3.1-.8 .2 1.2-2.8 .7z" fill="#0000ba" stroke="none"/>
<path d="M216.1 310.8l3-.8 .4 1.1-2.8 .7z" fill="#0000ba" stroke="none"/>
<path d="M213.3 311.6l3-.9 .7 1.1-2.8 .7z" fill="#0000ba" stroke="none"/>
<path d="M210.5 312.3l3.1-.8 .9 1-2.8 .7z" fill="#0000ba" stroke="none"/>
<path d="M207.8 313.1l3-.8 1.1 .9-2.7 .7z" fill="#0000ba" stroke="none"/>
<path d="M205 313.9l3.1-.9 1.3 .9-2.8 .7z" fill="#0000ba" stroke="none"/>
<path d="M202.3 314.6l3-.8 1.6 .8-2.8 .7z" fill="#0000ba" stroke="none"/>
<path d="M199.5 315.4l3-.9 1.9 .8-2.8 .7z" fill="#0000ba" stroke="none"/>
<path d="M196.8 316.1l3-.8 2 .7-2.8 .7z" fill="#0000ba" stroke="none"/>
<path d="M195 316.6l1.9-.5 2.3 .6-1.9 .5z" fill="#0000ba" stroke="none"/>
<path d="M193.7 317l1.5-.4 2.3 .6-1.5 .4z" fill="#0000ba" stroke="none"/>
<path d="M192.6 317.3l1.2-.3 2.3 .5-1.3 .4z" fill="#0000ba" stroke-dasharray="1.3 99"/>
<path d="M191.6 317.6l1-.3 2.3 .6-1 .3z" fill="#0000ba" stroke-dasharray="1.1 99"/>
<path d="M190.7 317.8l1-.2 2.3 .5-1 .3z" fill="#0000ba" stroke="none"/>
<path d="M189.9 318.2l.9-.4 2.3 .6-.9 .2z" fill="#0000b9" stroke-dasharray="1 99"/>
</g>
<polyline fill="none" stroke="#1a1a10" stroke-width="0.9" stroke-linejoin="round" points="113.5,266.7 114.0,266.5 114.5,266.2 115.0,265.9 115.5,265.7 116.0,265.4 116.5,265.1 117.0,264.9 117.5,264.6 118.0,264.3 118.5,264.1 119.0,263.8 119.5,263.5 120.0,263.3 120.5,262.9 121.0,262.7 121.5,262.4 122.0,262.0 122.5,261.8 123.0,261.4 123.5,261.1 124.0,260.8 124.5,260.4 125.0,260.2 125.5,259.8 126.0,259.4 126.5,259.1 127.0,258.6 127.5,258.2 128.0,257.8 128.5,257.4 129.0,257.0 129.5,256.5 130.0,256.0 130.5,255.4 131.0,254.9 131.5,254.3 132.0,253.6 132.5,252.9 133.0,252.2 133.5,251.5 134.0,250.8 134.5,249.9 135.0,249.1 135.5,248.2 136.0,247.3 136.5,246.4 137.0,245.5 137.5,244.4 138.0,243.3 138.5,242.5 139.0,241.4 139.5,240.2 140.0,239.4 140.5,238.2 141.0,237.4 141.5,236.3 142.0,235.1 142.5,234.4 143.0,233.4 143.5,232.7 144.0,231.7 144.5,230.8 145.0,230.1 145.5,229.3 146.0,228.4 146.5,227.9 147.0,227.1 147.5,226.6 148.0,225.9 148.5,225.2 149.0,224.7 149.5,224.1 150.0,223.7 150.5,223.1 151.0,222.6 151.5,222.2 152.0,221.7 152.5,221.3 153.0,221.0 153.5,220.6 154.0,220.3 154.5,219.9 155.0,219.6 155.5,219.4 156.0,219.0 156.5,218.8 157.0,218.6 157.5,218.3 158.0,218.1 158.5,217.9 159.0,217.6 159.5,217.5 160.0,217.3 160.5,217.1 161.0,216.9 161.5,216.7 162.0,216.6 162.5,216.4 163.0,216.3 163.5,216.1 164.0,215.9 164.5,215.8 165.0,215.7 165.5,215.5 166.0,215.4 166.5,215.3 167.0,215.2 167.5,215.1 168.0,215.0 168.5,215.0 169.0,215.0 169.5,214.9 170.0,214.9 170.5,214.9 171.0,215.0 171.5,215.0 172.0,215.1 172.5,215.2 173.0,215.3 173.5,215.4 174.0,215.5 174.5,215.7 175.0,215.9 175.5,216.0 176.0,216.2 176.5,216.3 177.0,216.5 177.5,216.7 178.0,216.9 178.5,217.0 179.0,217.2 179.5,217.3 180.0,217.4 180.5,217.5 181.0,217.6 181.5,217.7 182.0,217.7 182.5,217.7 183.0,217.7 183.5,217.6 184.0,217.6 184.5,217.5 185.0,217.4 185.5,217.3 186.0,217.2 186.5,217.1 187.0,216.9 187.5,216.8 188.0,216.7 188.5,216.5 189.0,216.4 189.5,216.2 190.0,216.0 190.5,215.9 191.0,215.8 191.5,215.6 192.0,215.5 192.5,215.4 193.0,215.3 193.5,215.1 194.0,215.0 194.5,214.8 195.0,214.7 195.5,214.6 196.0,214.4 196.5,214.2 197.0,214.0 197.5,213.8 198.0,213.6 198.5,213.4 199.0,213.2 199.5,213.0 200.0,212.7 200.5,212.3 201.0,212.1 201.5,211.7 202.0,211.5 202.5,211.1 203.0,210.6 203.5,210.4 204.0,209.9 204.5,209.5 205.0,209.2 205.5,208.7 206.0,208.4 206.5,207.9 207.0,207.4 207.5,207.1 208.0,206.7 208.5,206.4 209.0,205.9 209.5,205.5 210.0,205.2 210.5,204.7 211.0,204.3 211.5,204.0 212.0,203.7 212.5,203.4 213.0,203.0 213.5,202.7 214.0,202.4 214.5,202.1 215.0,201.8 215.5,201.5 216.0,201.2 216.5,201.0 217.0,200.7 217.5,200.4 218.0,200.2 218.5,199.9 219.0,199.8 219.5,199.5 220.0,199.3 220.5,199.1 221.0,198.9 221.5,198.7 222.0,198.5 222.5,198.3 223.0,198.1 223.5,197.9 224.0,197.8 224.5,197.6 225.0,197.4 225.5,197.3 226.0,197.3 226.5,197.3 227.0,197.9 227.5,198.5 228.0,199.1 228.5,199.8 229.0,200.4 229.5,201.0 230.0,201.2 230.5,201.8 231.0,202.4 231.5,203.0 232.0,203.4 232.5,204.0 233.0,204.7 233.5,205.3 234.0,205.9 234.5,206.5 235.0,207.2 235.5,207.4 236.0,208.1 236.5,208.7 237.0,209.4 237.5,209.9 238.0,210.6 238.5,211.3 239.0,212.0 239.5,212.7 240.0,213.5 240.5,214.3 241.0,215.1 241.5,215.5 242.0,216.3 242.5,217.2 243.0,218.0 243.5,218.6 244.0,219.5 244.5,220.4 245.0,221.4 245.5,222.2 246.0,223.2 246.5,224.2 247.0,225.2 247.5,225.9 248.0,227.0 248.5,228.1 249.0,229.2 249.5,229.9 250.0,231.0 250.5,232.2 251.0,233.3 251.5,234.1 252.0,235.3 252.5,236.5 253.0,237.3 253.5,238.4 254.0,239.6 254.5,240.7 255.0,241.4 255.5,242.6 256.0,243.7 256.5,244.8 257.0,245.6 257.5,246.7 258.0,247.7 258.5,248.8 259.0,249.5 259.5,250.5 260.0,251.5 260.5,252.5 261.0,253.1 261.5,254.1 262.0,255.0 262.5,255.8 263.0,256.5 263.5,257.3 264.0,258.1 264.5,258.9 265.0,259.4 265.5,260.2 266.0,260.9 266.5,261.6 267.0,262.0 267.5,262.7 268.0,263.3 268.5,263.9 269.0,264.4 269.5,265.0 270.0,265.6 270.5,266.0 271.0,266.5 271.5,267.0 272.0,267.5 272.5,267.8 273.0,268.1 273.5,268.4 274.0,268.7 274.5,268.8 275.0,269.1 275.5,269.4 276.0,269.7 276.5,269.9"/>
<polyline fill="none" stroke="#062a06" stroke-opacity="0.4" stroke-width="1.3" points="188.0,217.9 188.7,220.1 189.5,222.4 190.2,224.6 191.0,226.8 191.8,229.1 192.5,231.3 193.3,233.5 194.0,235.7 194.8,237.9 195.5,240.1 196.3,242.3 197.1,244.4 197.8,246.6 198.6,248.8 199.3,250.9 200.1,253.0 200.9,255.2 201.6,257.3 202.4,259.4 203.1,261.5 203.9,263.6 204.7,265.7 205.4,267.7 206.2,269.8 206.9,271.8 207.7,273.8 208.5,275.9 209.2,278.5 210.0,281.7 210.7,285.1 211.5,288.7 212.2,292.3 213.0,295.9 213.8,299.2 214.5,302.3 215.3,305.0 216.0,307.3 216.8,309.3 217.6,310.8"/>
<path d="M74.2 278.3L183.6 321.0L313.6 285.0" fill="none" stroke="#333" stroke-width="0.9"/>
<line x1="71.2" y1="278.3" x2="74.2" y2="278.3" stroke="#333" stroke-width="0.8"/>
<line x1="71.2" y1="260.5" x2="74.2" y2="260.5" stroke="#333" stroke-width="0.8"/>
<line x1="71.2" y1="242.7" x2="74.2" y2="242.7" stroke="#333" stroke-width="0.8"/>
<line x1="71.2" y1="224.9" x2="74.2" y2="224.9" stroke="#333" stroke-width="0.8"/>
<line x1="71.2" y1="207.1" x2="74.2" y2="207.1" stroke="#333" stroke-width="0.8"/>
<line x1="71.2" y1="189.3" x2="74.2" y2="189.3" stroke="#333" stroke-width="0.8"/>
<line x1="74.2" y1="278.3" x2="72.0" y2="280.5" stroke="#333" stroke-width="0.8"/>
<line x1="101.6" y1="289.0" x2="99.4" y2="291.2" stroke="#333" stroke-width="0.8"/>
<line x1="128.9" y1="299.7" x2="126.7" y2="301.9" stroke="#333" stroke-width="0.8"/>
<line x1="156.2" y1="310.3" x2="154.1" y2="312.5" stroke="#333" stroke-width="0.8"/>
<line x1="183.6" y1="321.0" x2="181.4" y2="323.2" stroke="#333" stroke-width="0.8"/>
<line x1="183.6" y1="321.0" x2="185.1" y2="323.6" stroke="#333" stroke-width="0.8"/>
<line x1="216.1" y1="312.0" x2="217.6" y2="314.6" stroke="#333" stroke-width="0.8"/>
<line x1="248.6" y1="303.0" x2="250.1" y2="305.6" stroke="#333" stroke-width="0.8"/>
<line x1="281.1" y1="294.0" x2="282.6" y2="296.6" stroke="#333" stroke-width="0.8"/>
<line x1="313.6" y1="285.0" x2="315.1" y2="287.6" stroke="#333" stroke-width="0.8"/>
</g>
<text x="63.2" y="192.6" font-size="10.5" text-anchor="end">0.006</text>
<text x="63.2" y="228.2" font-size="10.5" text-anchor="end">0.004</text>
<text x="63.2" y="246.0" font-size="10.5" text-anchor="end">0.003</text>
<text x="63.2" y="263.8" font-size="10.5" text-anchor="end">0.002</text>
<text x="63.2" y="281.6" font-size="10.5" text-anchor="end">0.001</text>
<text x="39" y="210.7" font-size="10.5" textLength="30" lengthAdjust="spacingAndGlyphs">[mm<tspan font-size="6" dy="-4">-3</tspan><tspan dy="4">]</tspan></text>
<text x="0" y="0" font-size="11" text-anchor="middle" fill="#4a4a4a" transform="translate(14.3,234.5) rotate(-90)" textLength="91.5" lengthAdjust="spacingAndGlyphs">Heat flux density (q) /</text>
<text x="0" y="0" font-size="11" text-anchor="middle" fill="#4a4a4a" transform="translate(28.8,235) rotate(-90)" textLength="92" lengthAdjust="spacingAndGlyphs">Torch performance (Q<tspan font-size="6" dy="2">t</tspan><tspan dy="-2" font-size="1">&#8203;</tspan>)</text>
<text x="0" y="0" font-size="11" transform="translate(87.3,202.4) rotate(-13.2)" textLength="101.5" lengthAdjust="spacingAndGlyphs">Weaving width : 20 mm</text>
<text x="0" y="0" font-size="11" transform="translate(91,212.9) rotate(-10.8)" textLength="59" lengthAdjust="spacingAndGlyphs">v<tspan font-size="6" dy="2">P</tspan><tspan dy="-2" font-size="1">&#8203;</tspan> : 7.0 mm/s</text>
<text x="65.5" y="293.1" font-size="10.5" text-anchor="middle">-5</text>
<text x="84.8" y="302.0" font-size="10.5" text-anchor="middle">-3</text>
<text x="110.6" y="311.2" font-size="10.5" text-anchor="middle">0</text>
<text x="138.9" y="322.4" font-size="10.5" text-anchor="middle">3</text>
<text x="170.7" y="334.1" font-size="10.5" text-anchor="middle">5</text>
<text x="186.6" y="334.4" font-size="10.5" text-anchor="middle">-17</text>
<text x="227.8" y="324.1" font-size="10.5" text-anchor="middle">-9</text>
<text x="257" y="317.4" font-size="10.5" text-anchor="middle">0</text>
<text x="287.2" y="309.0" font-size="10.5" text-anchor="middle">9</text>
<text x="315.9" y="300.2" font-size="10.5" text-anchor="middle">17</text>
<text x="0" y="0" font-size="10.5" transform="translate(84.5,315.6) rotate(22.8)" textLength="42" lengthAdjust="spacingAndGlyphs">x&#160;&#160;[mm]</text>
<text x="0" y="0" font-size="10.5" transform="translate(252.3,330.4) rotate(-11.7)" textLength="39.5" lengthAdjust="spacingAndGlyphs">y&#160;&#160;[mm]</text>
<g id="shape-c">
<path d="M342.9 123.4C343.1 124.2 343.7 126.6 344.2 128.0C344.7 129.4 345.3 130.6 346.1 132.0C346.9 133.4 347.8 135.1 348.8 136.5C349.8 137.9 350.9 139.2 352.3 140.7C353.7 142.2 355.4 143.9 357.0 145.3C358.6 146.7 360.3 148.0 362.1 149.3C363.9 150.6 365.9 151.8 368.0 153.0C370.1 154.2 372.2 155.2 374.5 156.2C376.8 157.2 379.0 158.2 381.5 159.0C384.0 159.8 386.2 160.5 389.3 161.2C392.4 161.9 396.1 162.7 400.0 163.3C403.9 163.9 410.6 164.6 412.7 164.8L512.7 184C513.7 183.6 516.6 182.6 518.5 181.5C520.4 180.4 522.0 179.2 523.8 177.7C525.5 176.2 527.4 174.3 529.0 172.5C530.6 170.7 532.3 168.8 533.7 166.6C535.1 164.4 536.5 162.0 537.5 159.5C538.5 157.0 539.3 154.2 539.9 151.8C540.5 149.4 540.8 146.9 541.0 145.0C541.2 143.1 541.2 141.2 541.2 140.5L540 139.6L441 120.6Z" fill="#fc0404"/>
<path d="M342.9 123.4C344.0 122.8 347.0 120.9 349.8 119.7C352.6 118.5 356.0 117.2 359.7 116.0C363.4 114.8 367.9 113.6 372.0 112.8C376.1 112.0 379.8 111.6 384.3 111.3C388.8 111.0 394.2 110.7 399.1 110.9C404.0 111.1 409.0 111.5 413.9 112.3C418.8 113.1 424.2 114.6 428.7 116.0C433.2 117.4 438.9 119.8 441.0 120.6L540 139.6L510.4 158.2L412.7 137.3Z" fill="#bdbd18"/>
<path d="M342.9 123.4L412.7 137.3" fill="none" stroke="#33300c" stroke-width="1"/>
<path d="M412.7 137.3L510.4 158.2" fill="none" stroke="#7a4a0c" stroke-opacity="0.55" stroke-width="0.6"/>
<path d="M412.7 137.3L441 120.6L540 139.6" fill="none" stroke="#26260c" stroke-width="1.1"/>
<path d="M412.7 136.8L412.7 164.8" fill="none" stroke="#1a0000" stroke-width="1.2"/>
<path d="M512.7 160L512.7 184" fill="none" stroke="#a80000" stroke-width="0.8"/>
<path d="M540.6 139.6L511.4 158.2" fill="none" stroke="#7a7a10" stroke-width="0.5"/>
<path d="M510.6 157.4L513 162.5" fill="none" stroke="#4a7ad0" stroke-width="1.2"/>
<path d="M508.8 157.4L511 158.4" fill="none" stroke="#111" stroke-width="1"/>
</g>
<text x="383.5" y="128.5" font-size="8" font-weight="bold" font-style="italic" fill="#222">r<tspan font-size="4.5" dy="1.5">s</tspan><tspan dy="-1.5" font-size="1">&#8203;</tspan></text>
<text x="418" y="127.5" font-size="8" font-weight="bold" font-style="italic" fill="#222">r<tspan font-size="4.5" dy="1.5">s</tspan><tspan dy="-1.5" font-size="1">&#8203;</tspan></text>
<text x="478.6" y="135" font-size="8" text-anchor="middle" font-weight="bold" font-style="italic" fill="#222">b<tspan font-size="4.5" dy="1.5">P</tspan><tspan dy="-1.5" font-size="1">&#8203;</tspan></text>
<line x1="475.6" y1="138.1" x2="481.8" y2="138.1" stroke="#222" stroke-width="0.7"/>
<text x="479" y="145.6" font-size="7.5" text-anchor="middle" font-weight="bold" fill="#222">2</text>
<text x="404.5" y="150.5" font-size="5" font-weight="bold" font-style="italic" fill="#400">c</text>
<g id="mesh-c">
<g stroke="#101048" stroke-width="0.35" stroke-linejoin="round">
<path d="M526.0 239.7L527.7 236.7L527.7 242.9L526.0 245.9z" fill="#1d1d76"/>
<path d="M528.7 244.0L530.3 241.0L530.3 247.2L528.7 250.2z" fill="#1d1d76"/>
<path d="M531.3 248.3L533.0 245.3L533.0 251.5L531.3 254.5z" fill="#1d1d76"/>
<path d="M533.9 252.6L535.6 249.6L535.6 255.8L533.9 258.8z" fill="#1d1d76"/>
<path d="M536.5 256.9L538.2 253.9L538.2 260.1L536.5 263.1z" fill="#1d1d76"/>
<path d="M534.9 259.9L536.5 256.9L536.5 263.1L534.9 266.1z" fill="#1d1d76"/>
<path d="M533.2 262.9L534.9 259.9L534.9 266.1L533.2 269.1z" fill="#1d1d76"/>
<path d="M531.5 265.9L533.2 262.9L533.2 269.1L531.5 272.1z" fill="#1d1d76"/>
<path d="M340.7 212.5L345.0 213.8L345.0 220.0L340.7 218.7z" fill="#25258c"/>
<path d="M529.9 268.9L531.5 265.9L531.5 272.1L529.9 275.1z" fill="#1d1d76"/>
<path d="M523.9 270.6L528.2 271.9L528.2 278.1L523.9 276.8z" fill="#25258c"/>
<path d="M528.2 271.9L529.9 268.9L529.9 275.1L528.2 278.1z" fill="#1d1d76"/>
<path d="M341.6 219.8L345.9 221.1L345.9 227.3L341.6 226.0z" fill="#25258c"/>
<path d="M517.9 272.3L522.2 273.6L522.2 279.8L517.9 278.5z" fill="#25258c"/>
<path d="M522.2 273.6L523.9 270.6L523.9 276.8L522.2 279.8z" fill="#1d1d76"/>
<path d="M344.2 224.1L348.6 225.4L348.6 231.6L344.2 230.3z" fill="#25258c"/>
<path d="M512.0 274.0L516.2 275.3L516.2 281.5L512.0 280.2z" fill="#25258c"/>
<path d="M516.2 275.3L517.9 272.3L517.9 278.5L516.2 281.5z" fill="#1d1d76"/>
<path d="M346.9 228.4L351.2 229.7L351.2 235.9L346.9 234.6z" fill="#25258c"/>
<path d="M351.2 229.7L355.5 230.9L355.5 237.1L351.2 235.9z" fill="#25258c"/>
<path d="M355.5 230.9L359.8 232.2L359.8 238.4L355.5 237.1z" fill="#25258c"/>
<path d="M506.0 275.7L510.3 277.0L510.3 283.2L506.0 281.9z" fill="#25258c"/>
<path d="M510.3 277.0L512.0 274.0L512.0 280.2L510.3 283.2z" fill="#1d1d76"/>
<path d="M358.1 235.2L362.4 236.5L362.4 242.7L358.1 241.4z" fill="#25258c"/>
<path d="M362.4 236.5L366.7 237.8L366.7 244.0L362.4 242.7z" fill="#25258c"/>
<path d="M366.7 237.8L371.0 239.1L371.0 245.3L366.7 244.0z" fill="#25258c"/>
<path d="M371.0 239.1L375.3 240.3L375.3 246.5L371.0 245.3z" fill="#25258c"/>
<path d="M375.3 240.3L379.6 241.6L379.6 247.8L375.3 246.5z" fill="#25258c"/>
<path d="M379.6 241.6L383.9 242.9L383.9 249.1L379.6 247.8z" fill="#25258c"/>
<path d="M383.9 242.9L388.2 244.2L388.2 250.4L383.9 249.1z" fill="#25258c"/>
<path d="M388.2 244.2L392.5 245.5L392.5 251.7L388.2 250.4z" fill="#25258c"/>
<path d="M392.5 245.5L396.8 246.7L396.8 252.9L392.5 251.7z" fill="#25258c"/>
<path d="M396.8 246.7L401.1 248.0L401.1 254.2L396.8 252.9z" fill="#25258c"/>
<path d="M401.1 248.0L405.4 249.3L405.4 255.5L401.1 254.2z" fill="#25258c"/>
<path d="M405.4 249.3L409.7 250.6L409.7 256.8L405.4 255.5z" fill="#25258c"/>
<path d="M409.7 250.6L414.0 251.9L414.0 258.1L409.7 256.8z" fill="#25258c"/>
<path d="M414.0 251.9L418.3 253.1L418.3 259.3L414.0 258.1z" fill="#25258c"/>
<path d="M418.3 253.1L422.6 254.4L422.6 260.6L418.3 259.3z" fill="#25258c"/>
<path d="M422.6 254.4L426.9 255.7L426.9 261.9L422.6 260.6z" fill="#25258c"/>
<path d="M426.9 255.7L431.2 257.0L431.2 263.2L426.9 261.9z" fill="#25258c"/>
<path d="M431.2 257.0L435.5 258.3L435.5 264.5L431.2 263.2z" fill="#25258c"/>
<path d="M435.5 258.3L439.8 259.5L439.8 265.7L435.5 264.5z" fill="#25258c"/>
<path d="M439.8 259.5L444.1 260.8L444.1 267.0L439.8 265.7z" fill="#25258c"/>
<path d="M444.1 260.8L448.4 262.1L448.4 268.3L444.1 267.0z" fill="#25258c"/>
<path d="M448.4 262.1L452.7 263.4L452.7 269.6L448.4 268.3z" fill="#25258c"/>
<path d="M452.7 263.4L457.0 264.7L457.0 270.9L452.7 269.6z" fill="#25258c"/>
<path d="M457.0 264.7L461.3 265.9L461.3 272.1L457.0 270.9z" fill="#25258c"/>
<path d="M461.3 265.9L465.6 267.2L465.6 273.4L461.3 272.1z" fill="#25258c"/>
<path d="M465.6 267.2L469.9 268.5L469.9 274.7L465.6 273.4z" fill="#25258c"/>
<path d="M469.9 268.5L474.2 269.8L474.2 276.0L469.9 274.7z" fill="#25258c"/>
<path d="M474.2 269.8L478.5 271.1L478.5 277.3L474.2 276.0z" fill="#25258c"/>
<path d="M478.5 271.1L482.8 272.3L482.8 278.5L478.5 277.3z" fill="#25258c"/>
<path d="M482.8 272.3L487.1 273.6L487.1 279.8L482.8 278.5z" fill="#25258c"/>
<path d="M487.1 273.6L491.4 274.9L491.4 281.1L487.1 279.8z" fill="#25258c"/>
<path d="M491.4 274.9L495.7 276.2L495.7 282.4L491.4 281.1z" fill="#25258c"/>
<path d="M495.7 276.2L500.0 277.5L500.0 283.7L495.7 282.4z" fill="#25258c"/>
<path d="M500.0 277.5L504.3 278.7L504.3 284.9L500.0 283.7z" fill="#25258c"/>
<path d="M504.3 278.7L506.0 275.7L506.0 281.9L504.3 284.9z" fill="#1d1d76"/>
</g>
<g stroke="#18184a" stroke-opacity="0.42" stroke-width="0.45" stroke-linejoin="round">
<path d="M379.8 196.2L384.1 197.5L385.8 194.5L381.5 193.2z" fill="#26269e"/>
<path d="M384.1 197.5L388.4 198.8L390.1 195.8L385.8 194.5z" fill="#26269e"/>
<path d="M388.4 198.8L392.7 200.1L394.4 197.1L390.1 195.8z" fill="#26269e"/>
<path d="M392.7 200.1L397.0 201.3L398.7 198.3L394.4 197.1z" fill="#26269e"/>
<path d="M397.0 201.3L401.3 202.6L403.0 199.6L398.7 198.3z" fill="#26269e"/>
<path d="M401.3 202.6L405.6 203.9L407.3 200.9L403.0 199.6z" fill="#26269e"/>
<path d="M405.6 203.9L409.9 205.2L411.6 202.2L407.3 200.9z" fill="#26269e"/>
<path d="M409.9 205.2L414.2 206.5L415.9 203.5L411.6 202.2z" fill="#26269e"/>
<path d="M414.2 206.5L418.5 207.7L420.2 204.7L415.9 203.5z" fill="#26269e"/>
<path d="M418.5 207.7L422.8 209.0L424.5 206.0L420.2 204.7z" fill="#26269e"/>
<path d="M422.8 209.0L427.1 210.3L428.8 207.3L424.5 206.0z" fill="#26269e"/>
<path d="M427.1 210.3L431.4 211.6L433.1 208.6L428.8 207.3z" fill="#26269e"/>
<path d="M431.4 211.6L435.7 212.9L437.4 209.9L433.1 208.6z" fill="#26269e"/>
<path d="M435.7 212.9L440.0 214.1L441.7 211.1L437.4 209.9z" fill="#26269e"/>
<path d="M440.0 214.1L444.3 215.4L446.0 212.4L441.7 211.1z" fill="#26269e"/>
<path d="M444.3 215.4L448.6 216.7L450.3 213.7L446.0 212.4z" fill="#26269e"/>
<path d="M448.6 216.7L452.9 218.0L454.6 215.0L450.3 213.7z" fill="#26269e"/>
<path d="M452.9 218.0L457.2 219.3L458.9 216.3L454.6 215.0z" fill="#26269e"/>
<path d="M457.2 219.3L461.5 220.5L463.2 217.5L458.9 216.3z" fill="#26269e"/>
<path d="M461.5 220.5L465.8 221.8L467.5 218.8L463.2 217.5z" fill="#26269e"/>
<path d="M465.8 221.8L470.1 223.1L471.8 220.1L467.5 218.8z" fill="#26269e"/>
<path d="M470.1 223.1L474.4 224.4L476.1 221.4L471.8 220.1z" fill="#26269e"/>
<path d="M474.4 224.4L478.7 225.7L480.4 222.7L476.1 221.4z" fill="#26269e"/>
<path d="M478.7 225.7L483.0 226.9L484.7 223.9L480.4 222.7z" fill="#26269e"/>
<path d="M483.0 226.9L487.3 228.2L489.0 225.2L484.7 223.9z" fill="#26269e"/>
<path d="M487.3 228.2L491.6 229.5L493.3 226.5L489.0 225.2z" fill="#26269e"/>
<path d="M491.6 229.5L495.9 230.8L497.6 227.8L493.3 226.5z" fill="#26269e"/>
<path d="M495.9 230.8L500.2 232.1L501.9 229.1L497.6 227.8z" fill="#26269e"/>
<path d="M500.2 232.1L504.5 233.3L506.2 230.3L501.9 229.1z" fill="#26269e"/>
<path d="M504.5 233.3L508.8 234.6L510.5 231.6L506.2 230.3z" fill="#26269e"/>
<path d="M508.8 234.6L513.1 235.9L514.8 232.9L510.5 231.6z" fill="#26269e"/>
<path d="M513.1 235.9L517.4 237.2L519.1 234.2L514.8 232.9z" fill="#26269e"/>
<path d="M517.4 237.2L521.7 238.5L523.4 235.5L519.1 234.2z" fill="#26269e"/>
<path d="M521.7 238.5L526.0 239.7L527.7 236.7L523.4 235.5z" fill="#26269e"/>
<path d="M365.3 195.4L369.6 196.7L371.2 193.7L366.9 192.4z" fill="#26269e"/>
<path d="M369.6 196.7L373.9 197.9L375.5 194.9L371.2 193.7z" fill="#26269e"/>
<path d="M373.9 197.9L378.2 199.2L379.8 196.2L375.5 194.9z" fill="#26269e"/>
<path d="M378.2 199.2L382.5 200.5L384.1 197.5L379.8 196.2z" fill="#26269e"/>
<path d="M382.5 200.5L386.8 201.8L388.4 198.8L384.1 197.5z" fill="#26269e"/>
<path d="M386.8 201.8L391.1 203.1L392.7 200.1L388.4 198.8z" fill="#26269e"/>
<path d="M391.1 203.1L395.4 204.3L397.0 201.3L392.7 200.1z" fill="#26269e"/>
<path d="M395.4 204.3L399.7 205.6L401.3 202.6L397.0 201.3z" fill="#26269e"/>
<path d="M399.7 205.6L404.0 206.9L405.6 203.9L401.3 202.6z" fill="#26269e"/>
<path d="M404.0 206.9L408.3 208.2L409.9 205.2L405.6 203.9z" fill="#26269e"/>
<path d="M408.3 208.2L412.6 209.5L414.2 206.5L409.9 205.2z" fill="#26269e"/>
<path d="M412.6 209.5L416.9 210.7L418.5 207.7L414.2 206.5z" fill="#26269e"/>
<path d="M416.9 210.7L421.2 212.0L422.8 209.0L418.5 207.7z" fill="#26269e"/>
<path d="M421.2 212.0L425.5 213.3L427.1 210.3L422.8 209.0z" fill="#26269e"/>
<path d="M425.5 213.3L429.8 214.6L431.4 211.6L427.1 210.3z" fill="#26269e"/>
<path d="M429.8 214.6L434.1 215.9L435.7 212.9L431.4 211.6z" fill="#26269e"/>
<path d="M434.1 215.9L438.4 217.1L440.0 214.1L435.7 212.9z" fill="#26269e"/>
<path d="M438.4 217.1L442.7 218.4L444.3 215.4L440.0 214.1z" fill="#26269e"/>
<path d="M442.7 218.4L447.0 219.7L448.6 216.7L444.3 215.4z" fill="#26269e"/>
<path d="M447.0 219.7L451.3 221.0L452.9 218.0L448.6 216.7z" fill="#26269e"/>
<path d="M451.3 221.0L455.6 222.3L457.2 219.3L452.9 218.0z" fill="#26269e"/>
<path d="M455.6 222.3L459.9 223.5L461.5 220.5L457.2 219.3z" fill="#26269e"/>
<path d="M459.9 223.5L464.2 224.8L465.8 221.8L461.5 220.5z" fill="#26269e"/>
<path d="M464.2 224.8L468.5 226.1L470.1 223.1L465.8 221.8z" fill="#26269e"/>
<path d="M468.5 226.1L472.8 227.4L474.4 224.4L470.1 223.1z" fill="#26269e"/>
<path d="M472.8 227.4L477.1 228.7L478.7 225.7L474.4 224.4z" fill="#26269e"/>
<path d="M477.1 228.7L481.4 229.9L483.0 226.9L478.7 225.7z" fill="#26269e"/>
<path d="M481.4 229.9L485.7 231.2L487.3 228.2L483.0 226.9z" fill="#26269e"/>
<path d="M485.7 231.2L490.0 232.5L491.6 229.5L487.3 228.2z" fill="#26269e"/>
<path d="M490.0 232.5L494.3 233.8L495.9 230.8L491.6 229.5z" fill="#26269e"/>
<path d="M494.3 233.8L498.6 235.1L500.2 232.1L495.9 230.8z" fill="#26269e"/>
<path d="M498.6 235.1L502.9 236.3L504.5 233.3L500.2 232.1z" fill="#26269e"/>
<path d="M502.9 236.3L507.2 237.6L508.8 234.6L504.5 233.3z" fill="#26269e"/>
<path d="M507.2 237.6L511.5 238.9L513.1 235.9L508.8 234.6z" fill="#26269e"/>
<path d="M511.5 238.9L515.8 240.2L517.4 237.2L513.1 235.9z" fill="#26269e"/>
<path d="M515.8 240.2L520.1 241.5L521.7 238.5L517.4 237.2z" fill="#26269e"/>
<path d="M520.1 241.5L524.4 242.7L526.0 239.7L521.7 238.5z" fill="#26269e"/>
<path d="M524.4 242.7L528.7 244.0L530.3 241.0L526.0 239.7z" fill="#26269e"/>
<path d="M359.3 197.1L363.6 198.4L365.3 195.4L361.0 194.1z" fill="#26269e"/>
<path d="M363.6 198.4L367.9 199.7L369.6 196.7L365.3 195.4z" fill="#26269e"/>
<path d="M367.9 199.7L372.2 200.9L373.9 197.9L369.6 196.7z" fill="#26269e"/>
<path d="M372.2 200.9L376.5 202.2L378.2 199.2L373.9 197.9z" fill="#26269e"/>
<path d="M376.5 202.2L380.8 203.5L382.5 200.5L378.2 199.2z" fill="#26269e"/>
<path d="M380.8 203.5L385.1 204.8L386.8 201.8L382.5 200.5z" fill="#26269e"/>
<path d="M385.1 204.8L389.4 206.1L391.1 203.1L386.8 201.8z" fill="#26269e"/>
<path d="M389.4 206.1L393.7 207.3L395.4 204.3L391.1 203.1z" fill="#26269e"/>
<path d="M393.7 207.3L398.0 208.6L399.7 205.6L395.4 204.3z" fill="#26269e"/>
<path d="M398.0 208.6L402.3 209.9L404.0 206.9L399.7 205.6z" fill="#26269e"/>
<path d="M402.3 209.9L406.6 211.2L408.3 208.2L404.0 206.9z" fill="#25259e"/>
<path d="M406.6 211.2L410.9 212.5L412.6 209.5L408.3 208.2z" fill="#2323a1"/>
<path d="M410.9 212.5L415.2 213.7L416.9 210.7L412.6 209.5z" fill="#2323a1"/>
<path d="M415.2 213.7L419.5 215.0L421.2 212.0L416.9 210.7z" fill="#2323a1"/>
<path d="M419.5 215.0L423.8 216.3L425.5 213.3L421.2 212.0z" fill="#2323a1"/>
<path d="M423.8 216.3L428.1 217.6L429.8 214.6L425.5 213.3z" fill="#2323a1"/>
<path d="M428.1 217.6L432.4 218.9L434.1 215.9L429.8 214.6z" fill="#2323a1"/>
<path d="M432.4 218.9L436.7 220.1L438.4 217.1L434.1 215.9z" fill="#2323a1"/>
<path d="M436.7 220.1L441.0 221.4L442.7 218.4L438.4 217.1z" fill="#2323a1"/>
<path d="M441.0 221.4L445.3 222.7L447.0 219.7L442.7 218.4z" fill="#2323a1"/>
<path d="M445.3 222.7L449.6 224.0L451.3 221.0L447.0 219.7z" fill="#2323a1"/>
<path d="M449.6 224.0L453.9 225.3L455.6 222.3L451.3 221.0z" fill="#2323a1"/>
<path d="M453.9 225.3L458.2 226.5L459.9 223.5L455.6 222.3z" fill="#2323a1"/>
<path d="M458.2 226.5L462.5 227.8L464.2 224.8L459.9 223.5z" fill="#2323a1"/>
<path d="M462.5 227.8L466.8 229.1L468.5 226.1L464.2 224.8z" fill="#2323a1"/>
<path d="M466.8 229.1L471.1 230.4L472.8 227.4L468.5 226.1z" fill="#2323a1"/>
<path d="M471.1 230.4L475.4 231.7L477.1 228.7L472.8 227.4z" fill="#2323a1"/>
<path d="M475.4 231.7L479.7 232.9L481.4 229.9L477.1 228.7z" fill="#2323a1"/>
<path d="M479.7 232.9L484.0 234.2L485.7 231.2L481.4 229.9z" fill="#2323a1"/>
<path d="M484.0 234.2L488.3 235.5L490.0 232.5L485.7 231.2z" fill="#25259e"/>
<path d="M488.3 235.5L492.6 236.8L494.3 233.8L490.0 232.5z" fill="#26269e"/>
<path d="M492.6 236.8L496.9 238.1L498.6 235.1L494.3 233.8z" fill="#26269e"/>
<path d="M496.9 238.1L501.2 239.3L502.9 236.3L498.6 235.1z" fill="#26269e"/>
<path d="M501.2 239.3L505.5 240.6L507.2 237.6L502.9 236.3z" fill="#26269e"/>
<path d="M505.5 240.6L509.8 241.9L511.5 238.9L507.2 237.6z" fill="#26269e"/>
<path d="M509.8 241.9L514.1 243.2L515.8 240.2L511.5 238.9z" fill="#26269e"/>
<path d="M514.1 243.2L518.4 244.5L520.1 241.5L515.8 240.2z" fill="#26269e"/>
<path d="M518.4 244.5L522.7 245.7L524.4 242.7L520.1 241.5z" fill="#26269e"/>
<path d="M522.7 245.7L527.0 247.0L528.7 244.0L524.4 242.7z" fill="#26269e"/>
<path d="M527.0 247.0L531.3 248.3L533.0 245.3L528.7 244.0z" fill="#26269e"/>
<path d="M353.3 198.8L357.6 200.1L359.3 197.1L355.0 195.8z" fill="#26269e"/>
<path d="M357.6 200.1L361.9 201.4L363.6 198.4L359.3 197.1z" fill="#26269e"/>
<path d="M361.9 201.4L366.2 202.7L367.9 199.7L363.6 198.4z" fill="#26269e"/>
<path d="M366.2 202.7L370.5 203.9L372.2 200.9L367.9 199.7z" fill="#26269e"/>
<path d="M370.5 203.9L374.8 205.2L376.5 202.2L372.2 200.9z" fill="#26269e"/>
<path d="M374.8 205.2L379.1 206.5L380.8 203.5L376.5 202.2z" fill="#1d1db6"/>
<path d="M379.1 206.5L383.4 207.8L385.1 204.8L380.8 203.5z" fill="#1419ff"/>
<path d="M383.4 207.8L387.7 209.1L389.4 206.1L385.1 204.8z" fill="#1444ff"/>
<path d="M387.7 209.1L392.0 210.3L393.7 207.3L389.4 206.1z" fill="#146aff"/>
<path d="M392.0 210.3L396.3 211.6L398.0 208.6L393.7 207.3z" fill="#148aff"/>
<path d="M396.3 211.6L400.6 212.9L402.3 209.9L398.0 208.6z" fill="#14a3ff"/>
<path d="M400.6 212.9L404.9 214.2L406.6 211.2L402.3 209.9z" fill="#14b4ff"/>
<path d="M404.9 214.2L409.2 215.5L410.9 212.5L406.6 211.2z" fill="#14bdff"/>
<path d="M409.2 215.5L413.5 216.7L415.2 213.7L410.9 212.5z" fill="#14beff"/>
<path d="M413.5 216.7L417.8 218.0L419.5 215.0L415.2 213.7z" fill="#14beff"/>
<path d="M417.8 218.0L422.1 219.3L423.8 216.3L419.5 215.0z" fill="#14beff"/>
<path d="M422.1 219.3L426.4 220.6L428.1 217.6L423.8 216.3z" fill="#14beff"/>
<path d="M426.4 220.6L430.7 221.9L432.4 218.9L428.1 217.6z" fill="#14beff"/>
<path d="M430.7 221.9L435.0 223.1L436.7 220.1L432.4 218.9z" fill="#14beff"/>
<path d="M435.0 223.1L439.3 224.4L441.0 221.4L436.7 220.1z" fill="#14beff"/>
<path d="M439.3 224.4L443.6 225.7L445.3 222.7L441.0 221.4z" fill="#14beff"/>
<path d="M443.6 225.7L447.9 227.0L449.6 224.0L445.3 222.7z" fill="#14beff"/>
<path d="M447.9 227.0L452.2 228.3L453.9 225.3L449.6 224.0z" fill="#14beff"/>
<path d="M452.2 228.3L456.5 229.5L458.2 226.5L453.9 225.3z" fill="#14beff"/>
<path d="M456.5 229.5L460.8 230.8L462.5 227.8L458.2 226.5z" fill="#14beff"/>
<path d="M460.8 230.8L465.1 232.1L466.8 229.1L462.5 227.8z" fill="#14beff"/>
<path d="M465.1 232.1L469.4 233.4L471.1 230.4L466.8 229.1z" fill="#14beff"/>
<path d="M469.4 233.4L473.7 234.7L475.4 231.7L471.1 230.4z" fill="#14beff"/>
<path d="M473.7 234.7L478.0 235.9L479.7 232.9L475.4 231.7z" fill="#14beff"/>
<path d="M478.0 235.9L482.3 237.2L484.0 234.2L479.7 232.9z" fill="#14bdff"/>
<path d="M482.3 237.2L486.6 238.5L488.3 235.5L484.0 234.2z" fill="#14b4ff"/>
<path d="M486.6 238.5L490.9 239.8L492.6 236.8L488.3 235.5z" fill="#14a3ff"/>
<path d="M490.9 239.8L495.2 241.1L496.9 238.1L492.6 236.8z" fill="#148aff"/>
<path d="M495.2 241.1L499.5 242.3L501.2 239.3L496.9 238.1z" fill="#146aff"/>
<path d="M499.5 242.3L503.8 243.6L505.5 240.6L501.2 239.3z" fill="#1444ff"/>
<path d="M503.8 243.6L508.1 244.9L509.8 241.9L505.5 240.6z" fill="#1419ff"/>
<path d="M508.1 244.9L512.4 246.2L514.1 243.2L509.8 241.9z" fill="#1d1db6"/>
<path d="M512.4 246.2L516.7 247.5L518.4 244.5L514.1 243.2z" fill="#26269e"/>
<path d="M516.7 247.5L521.0 248.7L522.7 245.7L518.4 244.5z" fill="#26269e"/>
<path d="M521.0 248.7L525.3 250.0L527.0 247.0L522.7 245.7z" fill="#26269e"/>
<path d="M525.3 250.0L529.6 251.3L531.3 248.3L527.0 247.0z" fill="#26269e"/>
<path d="M529.6 251.3L533.9 252.6L535.6 249.6L531.3 248.3z" fill="#26269e"/>
<path d="M351.6 201.8L355.9 203.1L357.6 200.1L353.3 198.8z" fill="#26269e"/>
<path d="M355.9 203.1L360.2 204.4L361.9 201.4L357.6 200.1z" fill="#26269e"/>
<path d="M360.2 204.4L364.5 205.7L366.2 202.7L361.9 201.4z" fill="#24249f"/>
<path d="M364.5 205.7L368.8 206.9L370.5 203.9L366.2 202.7z" fill="#1515f0"/>
<path d="M368.8 206.9L373.1 208.2L374.8 205.2L370.5 203.9z" fill="#144fff"/>
<path d="M373.1 208.2L377.4 209.5L379.1 206.5L374.8 205.2z" fill="#148dff"/>
<path d="M377.4 209.5L381.7 210.8L383.4 207.8L379.1 206.5z" fill="#14c9ff"/>
<path d="M381.7 210.8L386.0 212.1L387.7 209.1L383.4 207.8z" fill="#17fffc"/>
<path d="M386.0 212.1L390.3 213.3L392.0 210.3L387.7 209.1z" fill="#49ffc9"/>
<path d="M390.3 213.3L394.6 214.6L396.3 211.6L392.0 210.3z" fill="#76ff9d"/>
<path d="M394.6 214.6L398.9 215.9L400.6 212.9L396.3 211.6z" fill="#9aff79"/>
<path d="M398.9 215.9L403.2 217.2L404.9 214.2L400.6 212.9z" fill="#b4ff5f"/>
<path d="M403.2 217.2L407.5 218.5L409.2 215.5L404.9 214.2z" fill="#c1ff51"/>
<path d="M407.5 218.5L411.8 219.7L413.5 216.7L409.2 215.5z" fill="#c3ff50"/>
<path d="M411.8 219.7L416.1 221.0L417.8 218.0L413.5 216.7z" fill="#c3ff50"/>
<path d="M416.1 221.0L420.4 222.3L422.1 219.3L417.8 218.0z" fill="#c3ff50"/>
<path d="M420.4 222.3L424.7 223.6L426.4 220.6L422.1 219.3z" fill="#c3ff50"/>
<path d="M424.7 223.6L429.0 224.9L430.7 221.9L426.4 220.6z" fill="#c3ff50"/>
<path d="M429.0 224.9L433.3 226.1L435.0 223.1L430.7 221.9z" fill="#c3ff50"/>
<path d="M433.3 226.1L437.6 227.4L439.3 224.4L435.0 223.1z" fill="#c3ff50"/>
<path d="M437.6 227.4L441.9 228.7L443.6 225.7L439.3 224.4z" fill="#c3ff50"/>
<path d="M441.9 228.7L446.2 230.0L447.9 227.0L443.6 225.7z" fill="#c3ff50"/>
<path d="M446.2 230.0L450.5 231.3L452.2 228.3L447.9 227.0z" fill="#c3ff50"/>
<path d="M450.5 231.3L454.8 232.5L456.5 229.5L452.2 228.3z" fill="#c3ff50"/>
<path d="M454.8 232.5L459.1 233.8L460.8 230.8L456.5 229.5z" fill="#c3ff50"/>
<path d="M459.1 233.8L463.4 235.1L465.1 232.1L460.8 230.8z" fill="#c3ff50"/>
<path d="M463.4 235.1L467.7 236.4L469.4 233.4L465.1 232.1z" fill="#c3ff50"/>
<path d="M467.7 236.4L472.0 237.7L473.7 234.7L469.4 233.4z" fill="#c3ff50"/>
<path d="M472.0 237.7L476.3 238.9L478.0 235.9L473.7 234.7z" fill="#c3ff50"/>
<path d="M476.3 238.9L480.6 240.2L482.3 237.2L478.0 235.9z" fill="#c1ff51"/>
<path d="M480.6 240.2L484.9 241.5L486.6 238.5L482.3 237.2z" fill="#b4ff5f"/>
<path d="M484.9 241.5L489.2 242.8L490.9 239.8L486.6 238.5z" fill="#9aff79"/>
<path d="M489.2 242.8L493.5 244.1L495.2 241.1L490.9 239.8z" fill="#76ff9d"/>
<path d="M493.5 244.1L497.8 245.3L499.5 242.3L495.2 241.1z" fill="#49ffc9"/>
<path d="M497.8 245.3L502.1 246.6L503.8 243.6L499.5 242.3z" fill="#17fffc"/>
<path d="M502.1 246.6L506.4 247.9L508.1 244.9L503.8 243.6z" fill="#14c9ff"/>
<path d="M506.4 247.9L510.7 249.2L512.4 246.2L508.1 244.9z" fill="#148dff"/>
<path d="M510.7 249.2L515.0 250.5L516.7 247.5L512.4 246.2z" fill="#144fff"/>
<path d="M515.0 250.5L519.3 251.7L521.0 248.7L516.7 247.5z" fill="#1515f0"/>
<path d="M519.3 251.7L523.6 253.0L525.3 250.0L521.0 248.7z" fill="#24249f"/>
<path d="M523.6 253.0L527.9 254.3L529.6 251.3L525.3 250.0z" fill="#26269e"/>
<path d="M527.9 254.3L532.2 255.6L533.9 252.6L529.6 251.3z" fill="#26269e"/>
<path d="M532.2 255.6L536.5 256.9L538.2 253.9L533.9 252.6z" fill="#26269e"/>
<path d="M345.7 203.5L350.0 204.8L351.6 201.8L347.3 200.5z" fill="#26269e"/>
<path d="M350.0 204.8L354.3 206.1L355.9 203.1L351.6 201.8z" fill="#26269e"/>
<path d="M354.3 206.1L358.6 207.4L360.2 204.4L355.9 203.1z" fill="#2222a5"/>
<path d="M358.6 207.4L362.9 208.7L364.5 205.7L360.2 204.4z" fill="#1420ff"/>
<path d="M362.9 208.7L367.2 209.9L368.8 206.9L364.5 205.7z" fill="#146bff"/>
<path d="M367.2 209.9L371.5 211.2L373.1 208.2L368.8 206.9z" fill="#14b5ff"/>
<path d="M371.5 211.2L375.8 212.5L377.4 209.5L373.1 208.2z" fill="#14feff"/>
<path d="M375.8 212.5L380.1 213.8L381.7 210.8L377.4 209.5z" fill="#5bffb7"/>
<path d="M380.1 213.8L384.4 215.1L386.0 212.1L381.7 210.8z" fill="#a2ff70"/>
<path d="M384.4 215.1L388.7 216.3L390.3 213.3L386.0 212.1z" fill="#e7ff2c"/>
<path d="M388.7 216.3L393.0 217.6L394.6 214.6L390.3 213.3z" fill="#ffd514"/>
<path d="M393.0 217.6L397.3 218.9L398.9 215.9L394.6 214.6z" fill="#ff9b14"/>
<path d="M397.3 218.9L401.6 220.2L403.2 217.2L398.9 215.9z" fill="#ff6b14"/>
<path d="M401.6 220.2L405.9 221.5L407.5 218.5L403.2 217.2z" fill="#ff4f14"/>
<path d="M405.9 221.5L410.2 222.7L411.8 219.7L407.5 218.5z" fill="#ff4b14"/>
<path d="M410.2 222.7L414.5 224.0L416.1 221.0L411.8 219.7z" fill="#ff4b14"/>
<path d="M414.5 224.0L418.8 225.3L420.4 222.3L416.1 221.0z" fill="#ff4b14"/>
<path d="M418.8 225.3L423.1 226.6L424.7 223.6L420.4 222.3z" fill="#ff4b14"/>
<path d="M423.1 226.6L427.4 227.9L429.0 224.9L424.7 223.6z" fill="#ff4b14"/>
<path d="M427.4 227.9L431.7 229.1L433.3 226.1L429.0 224.9z" fill="#ff4b14"/>
<path d="M431.7 229.1L436.0 230.4L437.6 227.4L433.3 226.1z" fill="#ff4b14"/>
<path d="M436.0 230.4L440.3 231.7L441.9 228.7L437.6 227.4z" fill="#ff4b14"/>
<path d="M440.3 231.7L444.6 233.0L446.2 230.0L441.9 228.7z" fill="#ff4b14"/>
<path d="M444.6 233.0L448.9 234.3L450.5 231.3L446.2 230.0z" fill="#ff4b14"/>
<path d="M448.9 234.3L453.2 235.5L454.8 232.5L450.5 231.3z" fill="#ff4b14"/>
<path d="M453.2 235.5L457.5 236.8L459.1 233.8L454.8 232.5z" fill="#ff4b14"/>
<path d="M457.5 236.8L461.8 238.1L463.4 235.1L459.1 233.8z" fill="#ff4b14"/>
<path d="M461.8 238.1L466.1 239.4L467.7 236.4L463.4 235.1z" fill="#ff4b14"/>
<path d="M466.1 239.4L470.4 240.7L472.0 237.7L467.7 236.4z" fill="#ff4b14"/>
<path d="M470.4 240.7L474.7 241.9L476.3 238.9L472.0 237.7z" fill="#ff4b14"/>
<path d="M474.7 241.9L479.0 243.2L480.6 240.2L476.3 238.9z" fill="#ff4f14"/>
<path d="M479.0 243.2L483.3 244.5L484.9 241.5L480.6 240.2z" fill="#ff6b14"/>
<path d="M483.3 244.5L487.6 245.8L489.2 242.8L484.9 241.5z" fill="#ff9b14"/>
<path d="M487.6 245.8L491.9 247.1L493.5 244.1L489.2 242.8z" fill="#ffd514"/>
<path d="M491.9 247.1L496.2 248.3L497.8 245.3L493.5 244.1z" fill="#e7ff2c"/>
<path d="M496.2 248.3L500.5 249.6L502.1 246.6L497.8 245.3z" fill="#a2ff70"/>
<path d="M500.5 249.6L504.8 250.9L506.4 247.9L502.1 246.6z" fill="#5bffb7"/>
<path d="M504.8 250.9L509.1 252.2L510.7 249.2L506.4 247.9z" fill="#14feff"/>
<path d="M509.1 252.2L513.4 253.5L515.0 250.5L510.7 249.2z" fill="#14b5ff"/>
<path d="M513.4 253.5L517.7 254.7L519.3 251.7L515.0 250.5z" fill="#146bff"/>
<path d="M517.7 254.7L522.0 256.0L523.6 253.0L519.3 251.7z" fill="#1420ff"/>
<path d="M522.0 256.0L526.3 257.3L527.9 254.3L523.6 253.0z" fill="#2222a5"/>
<path d="M526.3 257.3L530.6 258.6L532.2 255.6L527.9 254.3z" fill="#26269e"/>
<path d="M530.6 258.6L534.9 259.9L536.5 256.9L532.2 255.6z" fill="#26269e"/>
<path d="M344.0 206.5L348.3 207.8L350.0 204.8L345.7 203.5z" fill="#26269e"/>
<path d="M348.3 207.8L352.6 209.1L354.3 206.1L350.0 204.8z" fill="#26269e"/>
<path d="M352.6 209.1L356.9 210.4L358.6 207.4L354.3 206.1z" fill="#1d1db7"/>
<path d="M356.9 210.4L361.2 211.7L362.9 208.7L358.6 207.4z" fill="#1436ff"/>
<path d="M361.2 211.7L365.5 212.9L367.2 209.9L362.9 208.7z" fill="#1483ff"/>
<path d="M365.5 212.9L369.8 214.2L371.5 211.2L367.2 209.9z" fill="#14cfff"/>
<path d="M369.8 214.2L374.1 215.5L375.8 212.5L371.5 211.2z" fill="#31ffe1"/>
<path d="M374.1 215.5L378.4 216.8L380.1 213.8L375.8 212.5z" fill="#7dff95"/>
<path d="M378.4 216.8L382.7 218.1L384.4 215.1L380.1 213.8z" fill="#caff49"/>
<path d="M382.7 218.1L387.0 219.3L388.7 216.3L384.4 215.1z" fill="#ffe714"/>
<path d="M387.0 219.3L391.3 220.6L393.0 217.6L388.7 216.3z" fill="#ff9b14"/>
<path d="M391.3 220.6L395.6 221.9L397.3 218.9L393.0 217.6z" fill="#ff4f14"/>
<path d="M395.6 221.9L399.9 223.2L401.6 220.2L397.3 218.9z" fill="#ff1414"/>
<path d="M399.9 223.2L404.2 224.5L405.9 221.5L401.6 220.2z" fill="#ff1414"/>
<path d="M404.2 224.5L408.5 225.7L410.2 222.7L405.9 221.5z" fill="#ff1414"/>
<path d="M408.5 225.7L412.8 227.0L414.5 224.0L410.2 222.7z" fill="#ff1414"/>
<path d="M412.8 227.0L417.1 228.3L418.8 225.3L414.5 224.0z" fill="#ff1414"/>
<path d="M417.1 228.3L421.4 229.6L423.1 226.6L418.8 225.3z" fill="#ff1414"/>
<path d="M421.4 229.6L425.7 230.9L427.4 227.9L423.1 226.6z" fill="#ff1414"/>
<path d="M425.7 230.9L430.0 232.1L431.7 229.1L427.4 227.9z" fill="#ff1414"/>
<path d="M430.0 232.1L434.3 233.4L436.0 230.4L431.7 229.1z" fill="#ff1414"/>
<path d="M434.3 233.4L438.6 234.7L440.3 231.7L436.0 230.4z" fill="#ff1414"/>
<path d="M438.6 234.7L442.9 236.0L444.6 233.0L440.3 231.7z" fill="#ff1414"/>
<path d="M442.9 236.0L447.2 237.3L448.9 234.3L444.6 233.0z" fill="#ff1414"/>
<path d="M447.2 237.3L451.5 238.5L453.2 235.5L448.9 234.3z" fill="#ff1414"/>
<path d="M451.5 238.5L455.8 239.8L457.5 236.8L453.2 235.5z" fill="#ff1414"/>
<path d="M455.8 239.8L460.1 241.1L461.8 238.1L457.5 236.8z" fill="#ff1414"/>
<path d="M460.1 241.1L464.4 242.4L466.1 239.4L461.8 238.1z" fill="#ff1414"/>
<path d="M464.4 242.4L468.7 243.7L470.4 240.7L466.1 239.4z" fill="#ff1414"/>
<path d="M468.7 243.7L473.0 244.9L474.7 241.9L470.4 240.7z" fill="#ff1414"/>
<path d="M473.0 244.9L477.3 246.2L479.0 243.2L474.7 241.9z" fill="#ff1414"/>
<path d="M477.3 246.2L481.6 247.5L483.3 244.5L479.0 243.2z" fill="#ff1414"/>
<path d="M481.6 247.5L485.9 248.8L487.6 245.8L483.3 244.5z" fill="#ff4f14"/>
<path d="M485.9 248.8L490.2 250.1L491.9 247.1L487.6 245.8z" fill="#ff9b14"/>
<path d="M490.2 250.1L494.5 251.3L496.2 248.3L491.9 247.1z" fill="#ffe714"/>
<path d="M494.5 251.3L498.8 252.6L500.5 249.6L496.2 248.3z" fill="#caff49"/>
<path d="M498.8 252.6L503.1 253.9L504.8 250.9L500.5 249.6z" fill="#7dff95"/>
<path d="M503.1 253.9L507.4 255.2L509.1 252.2L504.8 250.9z" fill="#31ffe1"/>
<path d="M507.4 255.2L511.7 256.5L513.4 253.5L509.1 252.2z" fill="#14cfff"/>
<path d="M511.7 256.5L516.0 257.7L517.7 254.7L513.4 253.5z" fill="#1483ff"/>
<path d="M516.0 257.7L520.3 259.0L522.0 256.0L517.7 254.7z" fill="#1436ff"/>
<path d="M520.3 259.0L524.6 260.3L526.3 257.3L522.0 256.0z" fill="#1d1db7"/>
<path d="M524.6 260.3L528.9 261.6L530.6 258.6L526.3 257.3z" fill="#26269e"/>
<path d="M528.9 261.6L533.2 262.9L534.9 259.9L530.6 258.6z" fill="#26269e"/>
<path d="M342.3 209.5L346.6 210.8L348.3 207.8L344.0 206.5z" fill="#26269e"/>
<path d="M346.6 210.8L350.9 212.1L352.6 209.1L348.3 207.8z" fill="#26269e"/>
<path d="M350.9 212.1L355.2 213.4L356.9 210.4L352.6 209.1z" fill="#2323a1"/>
<path d="M355.2 213.4L359.5 214.7L361.2 211.7L356.9 210.4z" fill="#1419ff"/>
<path d="M359.5 214.7L363.8 215.9L365.5 212.9L361.2 211.7z" fill="#1463ff"/>
<path d="M363.8 215.9L368.1 217.2L369.8 214.2L365.5 212.9z" fill="#14acff"/>
<path d="M368.1 217.2L372.4 218.5L374.1 215.5L369.8 214.2z" fill="#14f4ff"/>
<path d="M372.4 218.5L376.7 219.8L378.4 216.8L374.1 215.5z" fill="#50ffc2"/>
<path d="M376.7 219.8L381.0 221.1L382.7 218.1L378.4 216.8z" fill="#95ff7d"/>
<path d="M381.0 221.1L385.3 222.3L387.0 219.3L382.7 218.1z" fill="#d8ff3b"/>
<path d="M385.3 222.3L389.6 223.6L391.3 220.6L387.0 219.3z" fill="#ffe714"/>
<path d="M389.6 223.6L393.9 224.9L395.6 221.9L391.3 220.6z" fill="#ffb014"/>
<path d="M393.9 224.9L398.2 226.2L399.9 223.2L395.6 221.9z" fill="#ff8514"/>
<path d="M398.2 226.2L402.5 227.5L404.2 224.5L399.9 223.2z" fill="#ff6c14"/>
<path d="M402.5 227.5L406.8 228.7L408.5 225.7L404.2 224.5z" fill="#ff6914"/>
<path d="M406.8 228.7L411.1 230.0L412.8 227.0L408.5 225.7z" fill="#ff6914"/>
<path d="M411.1 230.0L415.4 231.3L417.1 228.3L412.8 227.0z" fill="#ff6914"/>
<path d="M415.4 231.3L419.7 232.6L421.4 229.6L417.1 228.3z" fill="#ff6914"/>
<path d="M419.7 232.6L424.0 233.9L425.7 230.9L421.4 229.6z" fill="#ff6914"/>
<path d="M424.0 233.9L428.3 235.1L430.0 232.1L425.7 230.9z" fill="#ff6914"/>
<path d="M428.3 235.1L432.6 236.4L434.3 233.4L430.0 232.1z" fill="#ff6914"/>
<path d="M432.6 236.4L436.9 237.7L438.6 234.7L434.3 233.4z" fill="#ff6914"/>
<path d="M436.9 237.7L441.2 239.0L442.9 236.0L438.6 234.7z" fill="#ff6914"/>
<path d="M441.2 239.0L445.5 240.3L447.2 237.3L442.9 236.0z" fill="#ff6914"/>
<path d="M445.5 240.3L449.8 241.5L451.5 238.5L447.2 237.3z" fill="#ff6914"/>
<path d="M449.8 241.5L454.1 242.8L455.8 239.8L451.5 238.5z" fill="#ff6914"/>
<path d="M454.1 242.8L458.4 244.1L460.1 241.1L455.8 239.8z" fill="#ff6914"/>
<path d="M458.4 244.1L462.7 245.4L464.4 242.4L460.1 241.1z" fill="#ff6914"/>
<path d="M462.7 245.4L467.0 246.7L468.7 243.7L464.4 242.4z" fill="#ff6914"/>
<path d="M467.0 246.7L471.3 247.9L473.0 244.9L468.7 243.7z" fill="#ff6914"/>
<path d="M471.3 247.9L475.6 249.2L477.3 246.2L473.0 244.9z" fill="#ff6c14"/>
<path d="M475.6 249.2L479.9 250.5L481.6 247.5L477.3 246.2z" fill="#ff8514"/>
<path d="M479.9 250.5L484.2 251.8L485.9 248.8L481.6 247.5z" fill="#ffb014"/>
<path d="M484.2 251.8L488.5 253.1L490.2 250.1L485.9 248.8z" fill="#ffe714"/>
<path d="M488.5 253.1L492.8 254.3L494.5 251.3L490.2 250.1z" fill="#d8ff3b"/>
<path d="M492.8 254.3L497.1 255.6L498.8 252.6L494.5 251.3z" fill="#95ff7d"/>
<path d="M497.1 255.6L501.4 256.9L503.1 253.9L498.8 252.6z" fill="#50ffc2"/>
<path d="M501.4 256.9L505.7 258.2L507.4 255.2L503.1 253.9z" fill="#14f4ff"/>
<path d="M505.7 258.2L510.0 259.5L511.7 256.5L507.4 255.2z" fill="#14acff"/>
<path d="M510.0 259.5L514.3 260.7L516.0 257.7L511.7 256.5z" fill="#1463ff"/>
<path d="M514.3 260.7L518.6 262.0L520.3 259.0L516.0 257.7z" fill="#1419ff"/>
<path d="M518.6 262.0L522.9 263.3L524.6 260.3L520.3 259.0z" fill="#2323a1"/>
<path d="M522.9 263.3L527.2 264.6L528.9 261.6L524.6 260.3z" fill="#26269e"/>
<path d="M527.2 264.6L531.5 265.9L533.2 262.9L528.9 261.6z" fill="#26269e"/>
<path d="M340.7 212.5L345.0 213.8L346.6 210.8L342.3 209.5z" fill="#26269e"/>
<path d="M345.0 213.8L349.3 215.1L350.9 212.1L346.6 210.8z" fill="#26269e"/>
<path d="M349.3 215.1L353.6 216.4L355.2 213.4L350.9 212.1z" fill="#26269e"/>
<path d="M353.6 216.4L357.9 217.7L359.5 214.7L355.2 213.4z" fill="#2121a6"/>
<path d="M357.9 217.7L362.2 218.9L363.8 215.9L359.5 214.7z" fill="#141bff"/>
<path d="M362.2 218.9L366.5 220.2L368.1 217.2L363.8 215.9z" fill="#145dff"/>
<path d="M366.5 220.2L370.8 221.5L372.4 218.5L368.1 217.2z" fill="#149dff"/>
<path d="M370.8 221.5L375.1 222.8L376.7 219.8L372.4 218.5z" fill="#14daff"/>
<path d="M375.1 222.8L379.4 224.1L381.0 221.1L376.7 219.8z" fill="#29ffea"/>
<path d="M379.4 224.1L383.7 225.3L385.3 222.3L381.0 221.1z" fill="#5dffb5"/>
<path d="M383.7 225.3L388.0 226.6L389.6 223.6L385.3 222.3z" fill="#8cff87"/>
<path d="M388.0 226.6L392.3 227.9L393.9 224.9L389.6 223.6z" fill="#b1ff61"/>
<path d="M392.3 227.9L396.6 229.2L398.2 226.2L393.9 224.9z" fill="#ccff46"/>
<path d="M396.6 229.2L400.9 230.5L402.5 227.5L398.2 226.2z" fill="#dbff38"/>
<path d="M400.9 230.5L405.2 231.7L406.8 228.7L402.5 227.5z" fill="#dcff36"/>
<path d="M405.2 231.7L409.5 233.0L411.1 230.0L406.8 228.7z" fill="#dcff36"/>
<path d="M409.5 233.0L413.8 234.3L415.4 231.3L411.1 230.0z" fill="#dcff36"/>
<path d="M413.8 234.3L418.1 235.6L419.7 232.6L415.4 231.3z" fill="#dcff36"/>
<path d="M418.1 235.6L422.4 236.9L424.0 233.9L419.7 232.6z" fill="#dcff36"/>
<path d="M422.4 236.9L426.7 238.1L428.3 235.1L424.0 233.9z" fill="#dcff36"/>
<path d="M426.7 238.1L431.0 239.4L432.6 236.4L428.3 235.1z" fill="#dcff36"/>
<path d="M431.0 239.4L435.3 240.7L436.9 237.7L432.6 236.4z" fill="#dcff36"/>
<path d="M435.3 240.7L439.6 242.0L441.2 239.0L436.9 237.7z" fill="#dcff36"/>
<path d="M439.6 242.0L443.9 243.3L445.5 240.3L441.2 239.0z" fill="#dcff36"/>
<path d="M443.9 243.3L448.2 244.5L449.8 241.5L445.5 240.3z" fill="#dcff36"/>
<path d="M448.2 244.5L452.5 245.8L454.1 242.8L449.8 241.5z" fill="#dcff36"/>
<path d="M452.5 245.8L456.8 247.1L458.4 244.1L454.1 242.8z" fill="#dcff36"/>
<path d="M456.8 247.1L461.1 248.4L462.7 245.4L458.4 244.1z" fill="#dcff36"/>
<path d="M461.1 248.4L465.4 249.7L467.0 246.7L462.7 245.4z" fill="#dcff36"/>
<path d="M465.4 249.7L469.7 250.9L471.3 247.9L467.0 246.7z" fill="#dcff36"/>
<path d="M469.7 250.9L474.0 252.2L475.6 249.2L471.3 247.9z" fill="#dbff38"/>
<path d="M474.0 252.2L478.3 253.5L479.9 250.5L475.6 249.2z" fill="#ccff46"/>
<path d="M478.3 253.5L482.6 254.8L484.2 251.8L479.9 250.5z" fill="#b1ff61"/>
<path d="M482.6 254.8L486.9 256.1L488.5 253.1L484.2 251.8z" fill="#8cff87"/>
<path d="M486.9 256.1L491.2 257.3L492.8 254.3L488.5 253.1z" fill="#5dffb5"/>
<path d="M491.2 257.3L495.5 258.6L497.1 255.6L492.8 254.3z" fill="#29ffea"/>
<path d="M495.5 258.6L499.8 259.9L501.4 256.9L497.1 255.6z" fill="#14daff"/>
<path d="M499.8 259.9L504.1 261.2L505.7 258.2L501.4 256.9z" fill="#149dff"/>
<path d="M504.1 261.2L508.4 262.5L510.0 259.5L505.7 258.2z" fill="#145dff"/>
<path d="M508.4 262.5L512.7 263.7L514.3 260.7L510.0 259.5z" fill="#141bff"/>
<path d="M512.7 263.7L517.0 265.0L518.6 262.0L514.3 260.7z" fill="#2121a6"/>
<path d="M517.0 265.0L521.3 266.3L522.9 263.3L518.6 262.0z" fill="#26269e"/>
<path d="M521.3 266.3L525.6 267.6L527.2 264.6L522.9 263.3z" fill="#26269e"/>
<path d="M525.6 267.6L529.9 268.9L531.5 265.9L527.2 264.6z" fill="#26269e"/>
<path d="M343.3 216.8L347.6 218.1L349.3 215.1L345.0 213.8z" fill="#26269e"/>
<path d="M347.6 218.1L351.9 219.4L353.6 216.4L349.3 215.1z" fill="#26269e"/>
<path d="M351.9 219.4L356.2 220.7L357.9 217.7L353.6 216.4z" fill="#26269e"/>
<path d="M356.2 220.7L360.5 221.9L362.2 218.9L357.9 217.7z" fill="#26269e"/>
<path d="M360.5 221.9L364.8 223.2L366.5 220.2L362.2 218.9z" fill="#1c1cbc"/>
<path d="M364.8 223.2L369.1 224.5L370.8 221.5L366.5 220.2z" fill="#1425ff"/>
<path d="M369.1 224.5L373.4 225.8L375.1 222.8L370.8 221.5z" fill="#1458ff"/>
<path d="M373.4 225.8L377.7 227.1L379.4 224.1L375.1 222.8z" fill="#1488ff"/>
<path d="M377.7 227.1L382.0 228.3L383.7 225.3L379.4 224.1z" fill="#14b1ff"/>
<path d="M382.0 228.3L386.3 229.6L388.0 226.6L383.7 225.3z" fill="#14d5ff"/>
<path d="M386.3 229.6L390.6 230.9L392.3 227.9L388.0 226.6z" fill="#14f1ff"/>
<path d="M390.6 230.9L394.9 232.2L396.6 229.2L392.3 227.9z" fill="#19fff9"/>
<path d="M394.9 232.2L399.2 233.5L400.9 230.5L396.6 229.2z" fill="#23ffef"/>
<path d="M399.2 233.5L403.5 234.7L405.2 231.7L400.9 230.5z" fill="#24ffee"/>
<path d="M403.5 234.7L407.8 236.0L409.5 233.0L405.2 231.7z" fill="#24ffee"/>
<path d="M407.8 236.0L412.1 237.3L413.8 234.3L409.5 233.0z" fill="#24ffee"/>
<path d="M412.1 237.3L416.4 238.6L418.1 235.6L413.8 234.3z" fill="#24ffee"/>
<path d="M416.4 238.6L420.7 239.9L422.4 236.9L418.1 235.6z" fill="#24ffee"/>
<path d="M420.7 239.9L425.0 241.1L426.7 238.1L422.4 236.9z" fill="#24ffee"/>
<path d="M425.0 241.1L429.3 242.4L431.0 239.4L426.7 238.1z" fill="#24ffee"/>
<path d="M429.3 242.4L433.6 243.7L435.3 240.7L431.0 239.4z" fill="#24ffee"/>
<path d="M433.6 243.7L437.9 245.0L439.6 242.0L435.3 240.7z" fill="#24ffee"/>
<path d="M437.9 245.0L442.2 246.3L443.9 243.3L439.6 242.0z" fill="#24ffee"/>
<path d="M442.2 246.3L446.5 247.5L448.2 244.5L443.9 243.3z" fill="#24ffee"/>
<path d="M446.5 247.5L450.8 248.8L452.5 245.8L448.2 244.5z" fill="#24ffee"/>
<path d="M450.8 248.8L455.1 250.1L456.8 247.1L452.5 245.8z" fill="#24ffee"/>
<path d="M455.1 250.1L459.4 251.4L461.1 248.4L456.8 247.1z" fill="#24ffee"/>
<path d="M459.4 251.4L463.7 252.7L465.4 249.7L461.1 248.4z" fill="#24ffee"/>
<path d="M463.7 252.7L468.0 253.9L469.7 250.9L465.4 249.7z" fill="#24ffee"/>
<path d="M468.0 253.9L472.3 255.2L474.0 252.2L469.7 250.9z" fill="#23ffef"/>
<path d="M472.3 255.2L476.6 256.5L478.3 253.5L474.0 252.2z" fill="#19fff9"/>
<path d="M476.6 256.5L480.9 257.8L482.6 254.8L478.3 253.5z" fill="#14f1ff"/>
<path d="M480.9 257.8L485.2 259.1L486.9 256.1L482.6 254.8z" fill="#14d5ff"/>
<path d="M485.2 259.1L489.5 260.3L491.2 257.3L486.9 256.1z" fill="#14b1ff"/>
<path d="M489.5 260.3L493.8 261.6L495.5 258.6L491.2 257.3z" fill="#1488ff"/>
<path d="M493.8 261.6L498.1 262.9L499.8 259.9L495.5 258.6z" fill="#1458ff"/>
<path d="M498.1 262.9L502.4 264.2L504.1 261.2L499.8 259.9z" fill="#1425ff"/>
<path d="M502.4 264.2L506.7 265.5L508.4 262.5L504.1 261.2z" fill="#1c1cbc"/>
<path d="M506.7 265.5L511.0 266.7L512.7 263.7L508.4 262.5z" fill="#26269e"/>
<path d="M511.0 266.7L515.3 268.0L517.0 265.0L512.7 263.7z" fill="#26269e"/>
<path d="M515.3 268.0L519.6 269.3L521.3 266.3L517.0 265.0z" fill="#26269e"/>
<path d="M519.6 269.3L523.9 270.6L525.6 267.6L521.3 266.3z" fill="#26269e"/>
<path d="M523.9 270.6L528.2 271.9L529.9 268.9L525.6 267.6z" fill="#26269e"/>
<path d="M341.6 219.8L345.9 221.1L347.6 218.1L343.3 216.8z" fill="#26269e"/>
<path d="M345.9 221.1L350.2 222.4L351.9 219.4L347.6 218.1z" fill="#26269e"/>
<path d="M350.2 222.4L354.5 223.7L356.2 220.7L351.9 219.4z" fill="#26269e"/>
<path d="M354.5 223.7L358.8 224.9L360.5 221.9L356.2 220.7z" fill="#26269e"/>
<path d="M358.8 224.9L363.1 226.2L364.8 223.2L360.5 221.9z" fill="#26269e"/>
<path d="M363.1 226.2L367.4 227.5L369.1 224.5L364.8 223.2z" fill="#26269e"/>
<path d="M367.4 227.5L371.7 228.8L373.4 225.8L369.1 224.5z" fill="#25259e"/>
<path d="M371.7 228.8L376.0 230.1L377.7 227.1L373.4 225.8z" fill="#1d1db9"/>
<path d="M376.0 230.1L380.3 231.3L382.0 228.3L377.7 227.1z" fill="#1515f0"/>
<path d="M380.3 231.3L384.6 232.6L386.3 229.6L382.0 228.3z" fill="#142aff"/>
<path d="M384.6 232.6L388.9 233.9L390.6 230.9L386.3 229.6z" fill="#1440ff"/>
<path d="M388.9 233.9L393.2 235.2L394.9 232.2L390.6 230.9z" fill="#144eff"/>
<path d="M393.2 235.2L397.5 236.5L399.2 233.5L394.9 232.2z" fill="#1456ff"/>
<path d="M397.5 236.5L401.8 237.7L403.5 234.7L399.2 233.5z" fill="#1457ff"/>
<path d="M401.8 237.7L406.1 239.0L407.8 236.0L403.5 234.7z" fill="#1457ff"/>
<path d="M406.1 239.0L410.4 240.3L412.1 237.3L407.8 236.0z" fill="#1457ff"/>
<path d="M410.4 240.3L414.7 241.6L416.4 238.6L412.1 237.3z" fill="#1457ff"/>
<path d="M414.7 241.6L419.0 242.9L420.7 239.9L416.4 238.6z" fill="#1457ff"/>
<path d="M419.0 242.9L423.3 244.1L425.0 241.1L420.7 239.9z" fill="#1457ff"/>
<path d="M423.3 244.1L427.6 245.4L429.3 242.4L425.0 241.1z" fill="#1457ff"/>
<path d="M427.6 245.4L431.9 246.7L433.6 243.7L429.3 242.4z" fill="#1457ff"/>
<path d="M431.9 246.7L436.2 248.0L437.9 245.0L433.6 243.7z" fill="#1457ff"/>
<path d="M436.2 248.0L440.5 249.3L442.2 246.3L437.9 245.0z" fill="#1457ff"/>
<path d="M440.5 249.3L444.8 250.5L446.5 247.5L442.2 246.3z" fill="#1457ff"/>
<path d="M444.8 250.5L449.1 251.8L450.8 248.8L446.5 247.5z" fill="#1457ff"/>
<path d="M449.1 251.8L453.4 253.1L455.1 250.1L450.8 248.8z" fill="#1457ff"/>
<path d="M453.4 253.1L457.7 254.4L459.4 251.4L455.1 250.1z" fill="#1457ff"/>
<path d="M457.7 254.4L462.0 255.7L463.7 252.7L459.4 251.4z" fill="#1457ff"/>
<path d="M462.0 255.7L466.3 256.9L468.0 253.9L463.7 252.7z" fill="#1457ff"/>
<path d="M466.3 256.9L470.6 258.2L472.3 255.2L468.0 253.9z" fill="#1456ff"/>
<path d="M470.6 258.2L474.9 259.5L476.6 256.5L472.3 255.2z" fill="#144eff"/>
<path d="M474.9 259.5L479.2 260.8L480.9 257.8L476.6 256.5z" fill="#1440ff"/>
<path d="M479.2 260.8L483.5 262.1L485.2 259.1L480.9 257.8z" fill="#142aff"/>
<path d="M483.5 262.1L487.8 263.3L489.5 260.3L485.2 259.1z" fill="#1515f0"/>
<path d="M487.8 263.3L492.1 264.6L493.8 261.6L489.5 260.3z" fill="#1d1db9"/>
<path d="M492.1 264.6L496.4 265.9L498.1 262.9L493.8 261.6z" fill="#25259e"/>
<path d="M496.4 265.9L500.7 267.2L502.4 264.2L498.1 262.9z" fill="#26269e"/>
<path d="M500.7 267.2L505.0 268.5L506.7 265.5L502.4 264.2z" fill="#26269e"/>
<path d="M505.0 268.5L509.3 269.7L511.0 266.7L506.7 265.5z" fill="#26269e"/>
<path d="M509.3 269.7L513.6 271.0L515.3 268.0L511.0 266.7z" fill="#26269e"/>
<path d="M513.6 271.0L517.9 272.3L519.6 269.3L515.3 268.0z" fill="#26269e"/>
<path d="M517.9 272.3L522.2 273.6L523.9 270.6L519.6 269.3z" fill="#26269e"/>
<path d="M344.2 224.1L348.6 225.4L350.2 222.4L345.9 221.1z" fill="#26269e"/>
<path d="M348.6 225.4L352.9 226.7L354.5 223.7L350.2 222.4z" fill="#26269e"/>
<path d="M352.9 226.7L357.1 227.9L358.8 224.9L354.5 223.7z" fill="#26269e"/>
<path d="M357.1 227.9L361.4 229.2L363.1 226.2L358.8 224.9z" fill="#26269e"/>
<path d="M361.4 229.2L365.8 230.5L367.4 227.5L363.1 226.2z" fill="#26269e"/>
<path d="M365.8 230.5L370.1 231.8L371.7 228.8L367.4 227.5z" fill="#26269e"/>
<path d="M370.1 231.8L374.4 233.1L376.0 230.1L371.7 228.8z" fill="#26269e"/>
<path d="M374.4 233.1L378.6 234.3L380.3 231.3L376.0 230.1z" fill="#26269e"/>
<path d="M378.6 234.3L382.9 235.6L384.6 232.6L380.3 231.3z" fill="#26269e"/>
<path d="M382.9 235.6L387.2 236.9L388.9 233.9L384.6 232.6z" fill="#26269e"/>
<path d="M387.2 236.9L391.6 238.2L393.2 235.2L388.9 233.9z" fill="#26269e"/>
<path d="M391.6 238.2L395.9 239.5L397.5 236.5L393.2 235.2z" fill="#26269e"/>
<path d="M395.9 239.5L400.1 240.7L401.8 237.7L397.5 236.5z" fill="#26269e"/>
<path d="M400.1 240.7L404.4 242.0L406.1 239.0L401.8 237.7z" fill="#26269e"/>
<path d="M404.4 242.0L408.8 243.3L410.4 240.3L406.1 239.0z" fill="#26269e"/>
<path d="M408.8 243.3L413.1 244.6L414.7 241.6L410.4 240.3z" fill="#26269e"/>
<path d="M413.1 244.6L417.4 245.9L419.0 242.9L414.7 241.6z" fill="#26269e"/>
<path d="M417.4 245.9L421.6 247.1L423.3 244.1L419.0 242.9z" fill="#26269e"/>
<path d="M421.6 247.1L425.9 248.4L427.6 245.4L423.3 244.1z" fill="#26269e"/>
<path d="M425.9 248.4L430.2 249.7L431.9 246.7L427.6 245.4z" fill="#26269e"/>
<path d="M430.2 249.7L434.6 251.0L436.2 248.0L431.9 246.7z" fill="#26269e"/>
<path d="M434.6 251.0L438.9 252.3L440.5 249.3L436.2 248.0z" fill="#26269e"/>
<path d="M438.9 252.3L443.1 253.5L444.8 250.5L440.5 249.3z" fill="#26269e"/>
<path d="M443.1 253.5L447.4 254.8L449.1 251.8L444.8 250.5z" fill="#26269e"/>
<path d="M447.4 254.8L451.8 256.1L453.4 253.1L449.1 251.8z" fill="#26269e"/>
<path d="M451.8 256.1L456.1 257.4L457.7 254.4L453.4 253.1z" fill="#26269e"/>
<path d="M456.1 257.4L460.4 258.7L462.0 255.7L457.7 254.4z" fill="#26269e"/>
<path d="M460.4 258.7L464.6 259.9L466.3 256.9L462.0 255.7z" fill="#26269e"/>
<path d="M464.6 259.9L468.9 261.2L470.6 258.2L466.3 256.9z" fill="#26269e"/>
<path d="M468.9 261.2L473.2 262.5L474.9 259.5L470.6 258.2z" fill="#26269e"/>
<path d="M473.2 262.5L477.6 263.8L479.2 260.8L474.9 259.5z" fill="#26269e"/>
<path d="M477.6 263.8L481.9 265.1L483.5 262.1L479.2 260.8z" fill="#26269e"/>
<path d="M481.9 265.1L486.1 266.3L487.8 263.3L483.5 262.1z" fill="#26269e"/>
<path d="M486.1 266.3L490.4 267.6L492.1 264.6L487.8 263.3z" fill="#26269e"/>
<path d="M490.4 267.6L494.8 268.9L496.4 265.9L492.1 264.6z" fill="#26269e"/>
<path d="M494.8 268.9L499.1 270.2L500.7 267.2L496.4 265.9z" fill="#26269e"/>
<path d="M499.1 270.2L503.4 271.5L505.0 268.5L500.7 267.2z" fill="#26269e"/>
<path d="M503.4 271.5L507.6 272.7L509.3 269.7L505.0 268.5z" fill="#26269e"/>
<path d="M507.6 272.7L512.0 274.0L513.6 271.0L509.3 269.7z" fill="#26269e"/>
<path d="M512.0 274.0L516.2 275.3L517.9 272.3L513.6 271.0z" fill="#26269e"/>
<path d="M346.9 228.4L351.2 229.7L352.9 226.7L348.6 225.4z" fill="#26269e"/>
<path d="M351.2 229.7L355.5 230.9L357.1 227.9L352.9 226.7z" fill="#26269e"/>
<path d="M355.5 230.9L359.8 232.2L361.4 229.2L357.1 227.9z" fill="#26269e"/>
<path d="M359.8 232.2L364.1 233.5L365.8 230.5L361.4 229.2z" fill="#26269e"/>
<path d="M364.1 233.5L368.4 234.8L370.1 231.8L365.8 230.5z" fill="#26269e"/>
<path d="M368.4 234.8L372.7 236.1L374.4 233.1L370.1 231.8z" fill="#26269e"/>
<path d="M372.7 236.1L377.0 237.3L378.6 234.3L374.4 233.1z" fill="#26269e"/>
<path d="M377.0 237.3L381.3 238.6L382.9 235.6L378.6 234.3z" fill="#26269e"/>
<path d="M381.3 238.6L385.6 239.9L387.2 236.9L382.9 235.6z" fill="#26269e"/>
<path d="M385.6 239.9L389.9 241.2L391.6 238.2L387.2 236.9z" fill="#26269e"/>
<path d="M389.9 241.2L394.2 242.5L395.9 239.5L391.6 238.2z" fill="#26269e"/>
<path d="M394.2 242.5L398.5 243.7L400.1 240.7L395.9 239.5z" fill="#26269e"/>
<path d="M398.5 243.7L402.8 245.0L404.4 242.0L400.1 240.7z" fill="#26269e"/>
<path d="M402.8 245.0L407.1 246.3L408.8 243.3L404.4 242.0z" fill="#26269e"/>
<path d="M407.1 246.3L411.4 247.6L413.1 244.6L408.8 243.3z" fill="#26269e"/>
<path d="M411.4 247.6L415.7 248.9L417.4 245.9L413.1 244.6z" fill="#26269e"/>
<path d="M415.7 248.9L420.0 250.1L421.6 247.1L417.4 245.9z" fill="#26269e"/>
<path d="M420.0 250.1L424.3 251.4L425.9 248.4L421.6 247.1z" fill="#26269e"/>
<path d="M424.3 251.4L428.6 252.7L430.2 249.7L425.9 248.4z" fill="#26269e"/>
<path d="M428.6 252.7L432.9 254.0L434.6 251.0L430.2 249.7z" fill="#26269e"/>
<path d="M432.9 254.0L437.2 255.3L438.9 252.3L434.6 251.0z" fill="#26269e"/>
<path d="M437.2 255.3L441.5 256.5L443.1 253.5L438.9 252.3z" fill="#26269e"/>
<path d="M441.5 256.5L445.8 257.8L447.4 254.8L443.1 253.5z" fill="#26269e"/>
<path d="M445.8 257.8L450.1 259.1L451.8 256.1L447.4 254.8z" fill="#26269e"/>
<path d="M450.1 259.1L454.4 260.4L456.1 257.4L451.8 256.1z" fill="#26269e"/>
<path d="M454.4 260.4L458.7 261.7L460.4 258.7L456.1 257.4z" fill="#26269e"/>
<path d="M458.7 261.7L463.0 262.9L464.6 259.9L460.4 258.7z" fill="#26269e"/>
<path d="M463.0 262.9L467.3 264.2L468.9 261.2L464.6 259.9z" fill="#26269e"/>
<path d="M467.3 264.2L471.6 265.5L473.2 262.5L468.9 261.2z" fill="#26269e"/>
<path d="M471.6 265.5L475.9 266.8L477.6 263.8L473.2 262.5z" fill="#26269e"/>
<path d="M475.9 266.8L480.2 268.1L481.9 265.1L477.6 263.8z" fill="#26269e"/>
<path d="M480.2 268.1L484.5 269.3L486.1 266.3L481.9 265.1z" fill="#26269e"/>
<path d="M484.5 269.3L488.8 270.6L490.4 267.6L486.1 266.3z" fill="#26269e"/>
<path d="M488.8 270.6L493.1 271.9L494.8 268.9L490.4 267.6z" fill="#26269e"/>
<path d="M493.1 271.9L497.4 273.2L499.1 270.2L494.8 268.9z" fill="#26269e"/>
<path d="M497.4 273.2L501.7 274.5L503.4 271.5L499.1 270.2z" fill="#26269e"/>
<path d="M501.7 274.5L506.0 275.7L507.6 272.7L503.4 271.5z" fill="#26269e"/>
<path d="M506.0 275.7L510.3 277.0L512.0 274.0L507.6 272.7z" fill="#26269e"/>
<path d="M358.1 235.2L362.4 236.5L364.1 233.5L359.8 232.2z" fill="#26269e"/>
<path d="M362.4 236.5L366.7 237.8L368.4 234.8L364.1 233.5z" fill="#26269e"/>
<path d="M366.7 237.8L371.0 239.1L372.7 236.1L368.4 234.8z" fill="#26269e"/>
<path d="M371.0 239.1L375.3 240.3L377.0 237.3L372.7 236.1z" fill="#26269e"/>
<path d="M375.3 240.3L379.6 241.6L381.3 238.6L377.0 237.3z" fill="#26269e"/>
<path d="M379.6 241.6L383.9 242.9L385.6 239.9L381.3 238.6z" fill="#26269e"/>
<path d="M383.9 242.9L388.2 244.2L389.9 241.2L385.6 239.9z" fill="#26269e"/>
<path d="M388.2 244.2L392.5 245.5L394.2 242.5L389.9 241.2z" fill="#26269e"/>
<path d="M392.5 245.5L396.8 246.7L398.5 243.7L394.2 242.5z" fill="#26269e"/>
<path d="M396.8 246.7L401.1 248.0L402.8 245.0L398.5 243.7z" fill="#26269e"/>
<path d="M401.1 248.0L405.4 249.3L407.1 246.3L402.8 245.0z" fill="#26269e"/>
<path d="M405.4 249.3L409.7 250.6L411.4 247.6L407.1 246.3z" fill="#26269e"/>
<path d="M409.7 250.6L414.0 251.9L415.7 248.9L411.4 247.6z" fill="#26269e"/>
<path d="M414.0 251.9L418.3 253.1L420.0 250.1L415.7 248.9z" fill="#26269e"/>
<path d="M418.3 253.1L422.6 254.4L424.3 251.4L420.0 250.1z" fill="#26269e"/>
<path d="M422.6 254.4L426.9 255.7L428.6 252.7L424.3 251.4z" fill="#26269e"/>
<path d="M426.9 255.7L431.2 257.0L432.9 254.0L428.6 252.7z" fill="#26269e"/>
<path d="M431.2 257.0L435.5 258.3L437.2 255.3L432.9 254.0z" fill="#26269e"/>
<path d="M435.5 258.3L439.8 259.5L441.5 256.5L437.2 255.3z" fill="#26269e"/>
<path d="M439.8 259.5L444.1 260.8L445.8 257.8L441.5 256.5z" fill="#26269e"/>
<path d="M444.1 260.8L448.4 262.1L450.1 259.1L445.8 257.8z" fill="#26269e"/>
<path d="M448.4 262.1L452.7 263.4L454.4 260.4L450.1 259.1z" fill="#26269e"/>
<path d="M452.7 263.4L457.0 264.7L458.7 261.7L454.4 260.4z" fill="#26269e"/>
<path d="M457.0 264.7L461.3 265.9L463.0 262.9L458.7 261.7z" fill="#26269e"/>
<path d="M461.3 265.9L465.6 267.2L467.3 264.2L463.0 262.9z" fill="#26269e"/>
<path d="M465.6 267.2L469.9 268.5L471.6 265.5L467.3 264.2z" fill="#26269e"/>
<path d="M469.9 268.5L474.2 269.8L475.9 266.8L471.6 265.5z" fill="#26269e"/>
<path d="M474.2 269.8L478.5 271.1L480.2 268.1L475.9 266.8z" fill="#26269e"/>
<path d="M478.5 271.1L482.8 272.3L484.5 269.3L480.2 268.1z" fill="#26269e"/>
<path d="M482.8 272.3L487.1 273.6L488.8 270.6L484.5 269.3z" fill="#26269e"/>
<path d="M487.1 273.6L491.4 274.9L493.1 271.9L488.8 270.6z" fill="#26269e"/>
<path d="M491.4 274.9L495.7 276.2L497.4 273.2L493.1 271.9z" fill="#26269e"/>
<path d="M495.7 276.2L500.0 277.5L501.7 274.5L497.4 273.2z" fill="#26269e"/>
<path d="M500.0 277.5L504.3 278.7L506.0 275.7L501.7 274.5z" fill="#26269e"/>
</g>
<path d="M437.8 226L440.3 232.8" stroke="#2a8ad8" stroke-width="1.1" fill="none"/>
<path d="M440.3 232.8L448 235.7" stroke="#222" stroke-width="0.9" fill="none"/>
</g>
</svg>
</body></html>
